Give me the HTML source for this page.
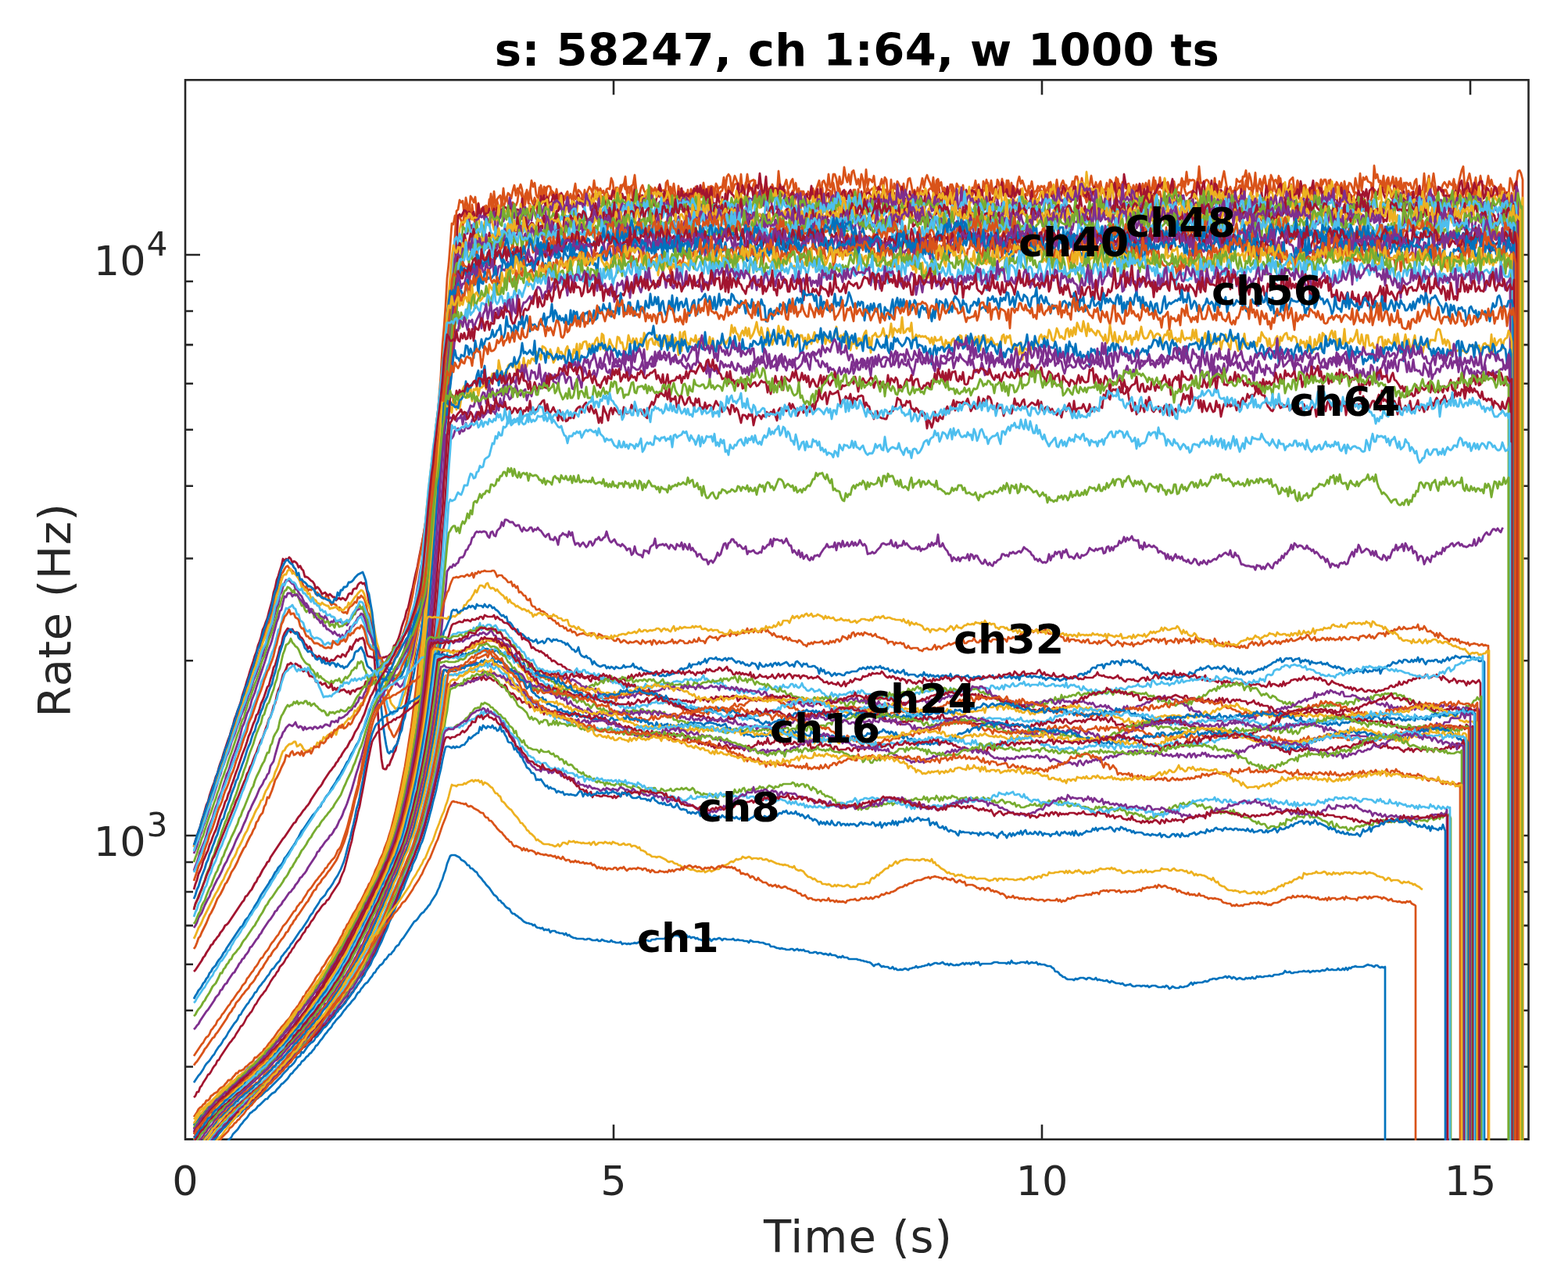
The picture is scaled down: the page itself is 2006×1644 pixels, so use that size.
<!DOCTYPE html><html><head><meta charset="utf-8"><title>plot</title><style>html,body{margin:0;padding:0;background:#fff;overflow:hidden}svg{display:block}</style></head><body><svg width="2006" height="1644" viewBox="0 0 2006 1644"><rect width="2006" height="1644" fill="#fff"/><defs><clipPath id="c"><rect x="235.7" y="101.0" width="1721.1" height="1358.0"/></clipPath></defs><path d="M785.0 1457.7v-19M785.0 102.3v19M1333.0 1457.7v-19M1333.0 102.3v19M1881.0 1457.7v-19M1881.0 102.3v19M237.0 1457.5h10M1955.5 1457.5h-10M237.0 1364.7h10M1955.5 1364.7h-10M237.0 1292.7h10M1955.5 1292.7h-10M237.0 1233.8h10M1955.5 1233.8h-10M237.0 1184.1h10M1955.5 1184.1h-10M237.0 1141.0h10M1955.5 1141.0h-10M237.0 1103.0h10M1955.5 1103.0h-10M237.0 1069.0h19M1955.5 1069.0h-19M237.0 845.3h10M1955.5 845.3h-10M237.0 714.5h10M1955.5 714.5h-10M237.0 621.7h10M1955.5 621.7h-10M237.0 549.7h10M1955.5 549.7h-10M237.0 490.8h10M1955.5 490.8h-10M237.0 441.1h10M1955.5 441.1h-10M237.0 398.0h10M1955.5 398.0h-10M237.0 360.0h10M1955.5 360.0h-10M237.0 326.0h19M1955.5 326.0h-19" stroke="#262626" stroke-width="2.6" fill="none"/><rect x="237.0" y="102.3" width="1718.5" height="1355.4" fill="none" stroke="#262626" stroke-width="2.6"/><g clip-path="url(#c)" fill="none" stroke-width="2.7" stroke-linejoin="round"><path d="M248 1083l2-6 2-4 2-6 2-7 2-5 2-5 2-6 2-6 2-6 2-7 2-5 2-7 2-6 2-6 2-7 2-5 2-5 2-7 2-7 2-5 2-6 2-6 2-7 2-7 2-4 2-6 2-6 2-5 2-7 2-7 2-6 2-6 2-4 2-7 2-5 2-6 2-6 2-6 2-6 2-8 2-3 2-7 2-6 2-9 2-7 2-6 2-6 2-4 2-6 2-7 2-7 2-11 2-8 2-9 2-7 2-7 2-2 2-4 2-3 2-1 2 3 2 3 2 0 2 3 2 1 2 3 2 3 2 2 2 2 2 5 2 3 2-2 2 6 2-2 2 1 2-2 2 0 2 7 2-2 2 4 2 0 2 1 2 3 2-1 2-5 2 4 2 6 2 4 2-2 2 1 2 1 2 5 2-2 2 2 2 4 2 1 2-1 2 2 2-6 2-3 2-1 2-2 2-3 2 1 2-7 2 1 2-3 2 2 2 2 2 6 2 11 2 3 2 11 2 5 2 11 2 14 2 6 2 15 2 16 2 14 2 13 2 11 2 9 2 14 2 7 2 3 2 5 2 3 2-3 2-4 2-4 2-5 2-5 2-7 2-11 2-9 2-9 2-11 2-11 2-15 2-12 2-12 2-24 2-19 2-21 2-21 2-19 2-22 2-21 2-19 2-20 2-20 2-18 2-18 2-18 2-14 2-17 2-18 2-25 2-15 2-19 2-26 2-18 2-30 2-25 2-26 2-29 2-33 2-2 2-12 2 3 2-2 2 18 2-22 2 10 2 10 2-22 2 3 2 5 2-7 2 20 2-12 2 12 2-3 2-3 2 7 2-10 2 10 2-18 2 3 2 13 2-26 2 18 2-8 2-3 2-2 2 13 2-22 2 17 2-4 2-7 2 2 2 5 2-10 2-7 2 13 2-9 2 3 2 3 2 5 2 7 2-11 2-3 2 5 2-4 2-15 2 8 2-5 2 15 2 4 2-6 2-10 2 15 2-13 2 10 2-10 2-1 2 1 2 11 2-4 2 9 2-13 2 14 2-8 2 14 2-2 2-9 2 2 2 0 2 1 2-6 2 10 2-12 2-11 2 17 2-3 2 7 2-2 2-4 2 0 2 0 2-6 2-5 2 3 2 5 2-16 2 13 2-4 2 7 2-6 2 6 2-3 2 11 2-13 2-1 2 1 2-14 2 5 2 18 2-8 2-3 2 7 2-10 2 0 2 0 2-11 2 21 2-8 2 1 2-2 2-2 2-12 2 19 2 15 2-8 2-9 2-4 2 7 2 3 2-3 2 8 2-13 2 15 2-6 2-6 2 2 2 5 2 3 2-5 2 4 2 13 2-30 2-3 2 16 2-8 2 9 2-13 2 14 2 10 2-1 2-16 2 7 2 10 2 8 2-20 2 1 2 15 2-12 2-5 2 14 2-21 2 6 2 10 2-13 2 9 2-17 2 14 2-3 2 8 2-14 2-1 2 2 2 8 2-13 2 4 2 15 2-9 2-1 2-11 2 9 2-16 2-3 2 3 2 17 2-10 2-8 2 5 2 6 2 7 2-20 2 24 2-2 2-11 2 4 2 7 2-5 2 4 2-8 2-5 2 31 2-16 2 0 2 2 2 6 2-4 2-15 2 7 2 0 2 5 2-11 2 7 2-2 2 8 2-30 2 19 2 1 2 3 2-6 2-6 2 12 2-2 2-8 2-3 2 15 2-10 2 13 2 7 2-9 2 0 2 0 2 10 2 0 2-10 2 5 2-5 2-4 2 9 2-7 2-6 2-6 2 18 2-16 2-2 2 5 2 7 2-20 2 17 2-3 2-14 2 0 2 6 2 15 2-18 2 10 2-2 2-20 2 12 2 7 2-10 2 13 2-16 2-2 2 9 2 9 2-7 2 11 2-17 2 7 2 15 2-28 2 21 2-9 2 1 2 3 2-8 2 17 2-2 2 5 2-8 2-8 2 12 2-14 2 3 2 23 2-8 2-5 2 8 2-13 2 7 2-10 2 4 2 3 2 12 2-16 2 14 2-8 2-12 2-1 2 9 2 12 2-6 2 10 2-13 2 8 2-10 2-10 2 12 2-11 2-5 2 6 2 4 2 6 2 6 2 0 2 13 2-28 2 14 2 22 2-21 2-6 2 3 2-1 2 3 2 16 2-25 2 5 2 15 2-9 2 0 2-6 2 11 2-15 2 16 2-6 2-1 2-3 2 12 2-5 2-6 2 2 2-9 2 16 2-1 2-2 2-7 2 1 2-14 2 8 2 2 2 1 2 7 2-7 2-2 2 15 2-11 2-2 2-10 2 4 2 9 2 3 2-16 2 12 2 2 2-7 2 3 2 9 2-17 2-7 2 9 2-4 2 6 2 6 2 3 2-4 2 9 2-7 2 5 2-4 2-1 2-6 2 4 2-4 2 1 2 3 2 8 2-10 2 7 2-14 2 8 2 12 2-7 2-16 2 14 2-2 2-7 2-4 2 6 2 0 2 14 2-1 2 1 2 4 2-23 2 14 2 5 2-7 2 1 2-2 2 8 2-2 2 10 2-6 2-2 2-2 2-6 2 6 2 4 2-4 2-13 2-4 2 15 2-4 2 0 2-9 2 12 2 1 2-7 2 7 2-10 2 6 2-14 2 13 2 21 2-14 2 7 2-9 2-2 2-1 2-5 2 9 2-11 2 6 2 24 2-20 2-7 2 11 2-4 2-6 2-7 2 7 2-3 2 3 2 1 2-1 2-10 2 11 2-1 2-14 2 14 2-2 2 5 2-10 2 7 2 2 2-6 2 14 2-6 2 5 2-10 2-4 2 1 2-9 2 9 2 7 2 6 2-3 2-1 2-1 2 5 2-15 2 5 2-2 2-25 2 21 2 0 2 3 2-6 2-1 2 2 2 10 2-2 2 8 2-20 2 18 2 6 2-20 2 8 2-12 2-9 2 12 2 11 2 2 2-5 2 8 2-3 2 11 2-26 2 3 2 1 2-2 2 1 2 21 2-22 2 8 2-17 2 6 2 12 2 1 2-20 2 29 2-12 2-9 2 10 2-8 2-6 2 13 2 5 2 2 2-21 2 5 2 6 2 10 2 2 2-13 2-6 2 15 2-8 2 7 2 5 2-4 2-12 2-2 2-2 2 18 2 4 2-17 2 5 2-2 2 7 2-5 2 0 2 17 2-3 2-7 2 9 2-15 2 8 2-12 2 1 2 13 2-18 2 6 2-6 2 0 2 10 2 1 2-11 2 29 2-4 2-19 2 11 2-1 2-6 2-6 2 10 2-2 2 11 2-9 2-10 2 1 2 5 2 6 2-18 2 10 2 7 2-23 2 22 2-17 2 3 2-4 2 6 2 1 2 1 2 18 2-40 2 16 2-5 2 10 2-2 2 5 2 4 2-3 2 13 2-17 2 8 2 4 2 11 2-22 2 0 2 12 2-5 2-13 2 19 2-8 2-5 2 0 2 3 2-3 2 7 2 1 2-10 2-3 2 25 2-16 2 18 2-12 2-22 2 23 2-9 2-11 2 17 2-8 2 6 2 10 2-2 2-6 2 0 2 0 2-6 2-3 2 3 2 4 2-8 2 4 2 1 2-8 2 14 2 1 2-9 2-9 2-8 2-5 2 29 2-7 2-6 2-7 2 11 2 9 2-5 2-10 2 31 2-19 2-14 2 12 2 0 2 3 2-3 2-12 2 13 2-8 2 8 2 0 2 7 2-2 2-4 2 24 2-22 2 0 2 6 2-1 2 3 2-21 2 5 2 11 2-9 2-1 2-15 2-1 2 4 2 8V1462" stroke="#D95319" stroke-width="2.8"/><path d="M248 1429l2-3 2-3 2-4 2-2 2-1 2-3 2-1 2-4 2 0 2-2 2-4 2-1 2-2 2-1 2-1 2-3 2-2 2-1 2-1 2-3 2-2 2-3 2 0 2-1 2-3 2-2 2-3 2 0 2-3 2 0 2-1 2-1 2-3 2-1 2-2 2-2 2-1 2-2 2-4 2 0 2-2 2-2 2-2 2-1 2-4 2-1 2-3 2-3 2-2 2-3 2-2 2-3 2-3 2-3 2-2 2-3 2-2 2-2 2-3 2-2 2-2 2-3 2-4 2-3 2-2 2-3 2-2 2-4 2-3 2-4 2-1 2-5 2-2 2-3 2-3 2-3 2-3 2-4 2-3 2-2 2-3 2-5 2-2 2-3 2-4 2-3 2-3 2-2 2-4 2-4 2-3 2-3 2-4 2-4 2-3 2-6 2-2 2-5 2-2 2-4 2-4 2-4 2-3 2-3 2-5 2-3 2-3 2-4 2-4 2-5 2-3 2-5 2-2 2-5 2-4 2-6 2-4 2-4 2-6 2-4 2-4 2-7 2-5 2-5 2-7 2-6 2-8 2-8 2-8 2-9 2-9 2-9 2-10 2-10 2-10 2-12 2-13 2-13 2-12 2-15 2-18 2-16 2-19 2-21 2-20 2-22 2-27 2-25 2-25 2-28 2-25 2-26 2-31 2-23 2-35 2-24 2-26 2-25 2-38 2-23 2-27 2-36 2-18 2-25 2-27 2 1 2-11 2 0 2 0 2 2 2 4 2 9 2-19 2 8 2-19 2 5 2 14 2-18 2 17 2 7 2-18 2 0 2 4 2-5 2 3 2-6 2 11 2-5 2-4 2-18 2 11 2 5 2 4 2-11 2 9 2 1 2-11 2 10 2-7 2-7 2 7 2 10 2-7 2-3 2 5 2-1 2-5 2-16 2-6 2 7 2 24 2-7 2-17 2 17 2-16 2 12 2 5 2-8 2 7 2 0 2-20 2 12 2 3 2-8 2-7 2 21 2-9 2-6 2-2 2 6 2 10 2-12 2 8 2 0 2-4 2 3 2 1 2-7 2-4 2 16 2 6 2-7 2-11 2 6 2-5 2-7 2 2 2 3 2 8 2-13 2 16 2-9 2 8 2-2 2-7 2-1 2 1 2 0 2 2 2 9 2-9 2 7 2-5 2-9 2 6 2 1 2 1 2-9 2 10 2-13 2 3 2 6 2-4 2-7 2-3 2 7 2-1 2 22 2-23 2-2 2 27 2-29 2 8 2 8 2-4 2 2 2 9 2 5 2-16 2 0 2-5 2-2 2 0 2 5 2-6 2 6 2-5 2-4 2 6 2 1 2-1 2 1 2 8 2-13 2 17 2-10 2 4 2 10 2-1 2-21 2 17 2 7 2-17 2 4 2 13 2-19 2 22 2-23 2 5 2 1 2 1 2 8 2-2 2-3 2 0 2-14 2 6 2 12 2-17 2 19 2-12 2-7 2 13 2 0 2-11 2 0 2-2 2 1 2-13 2 12 2 14 2-14 2 6 2 3 2-6 2-6 2-1 2-1 2 5 2-6 2 8 2 7 2-10 2-15 2 13 2-4 2-1 2-1 2 4 2 28 2 1 2-9 2-18 2 10 2 7 2-9 2 7 2 4 2 3 2-9 2-1 2-5 2-1 2 3 2-2 2 7 2-4 2-3 2 13 2-13 2 8 2 0 2-7 2 5 2 3 2-6 2-5 2 30 2-24 2 2 2 0 2 2 2 6 2-2 2-11 2 7 2 2 2-7 2 10 2-7 2 6 2-15 2 22 2-14 2-6 2 1 2 1 2 9 2-19 2 9 2 15 2 1 2-18 2 9 2 1 2-4 2-2 2 10 2-8 2 4 2 5 2-13 2 0 2 24 2-25 2 16 2 0 2-9 2-4 2 1 2-6 2 5 2-2 2-2 2 1 2 9 2-6 2-1 2 17 2-13 2 5 2-10 2 0 2 12 2 4 2-29 2 28 2 1 2-5 2 5 2-12 2 11 2-10 2 7 2 0 2 5 2-10 2 13 2 1 2 6 2-13 2 7 2-10 2 7 2-11 2-6 2 1 2 13 2-3 2-12 2-2 2 1 2-15 2 25 2-21 2-2 2 9 2-5 2 11 2 4 2-6 2 6 2-5 2-7 2 4 2 24 2-16 2-13 2 4 2 1 2 11 2-5 2 9 2 3 2-10 2 0 2 5 2-13 2 1 2-10 2 17 2-12 2 8 2 16 2-28 2 7 2-4 2-1 2 14 2-17 2 14 2-1 2 7 2-21 2 4 2 16 2-21 2 15 2 7 2-20 2 4 2 14 2-15 2 16 2 3 2-8 2 0 2 1 2-4 2 11 2 0 2-5 2 2 2-12 2 3 2-9 2 12 2 10 2-4 2-6 2 0 2 0 2 10 2-16 2 17 2-6 2-15 2 15 2 1 2-9 2 17 2-20 2 3 2 5 2 2 2-6 2 8 2-12 2 8 2-6 2 0 2-8 2 5 2-11 2 0 2 9 2 7 2-14 2 11 2 14 2-12 2 1 2-5 2-12 2 12 2 4 2-8 2 10 2-7 2 12 2-6 2 1 2 0 2-5 2 13 2-21 2 2 2 5 2 1 2-11 2 17 2-9 2 7 2-9 2 2 2 6 2-5 2-1 2 8 2 4 2-7 2 5 2-9 2 9 2-9 2 9 2-10 2 9 2 6 2-7 2-12 2 23 2-15 2-12 2 30 2-18 2 10 2-4 2 12 2-3 2-25 2 16 2-12 2 7 2-1 2 0 2-7 2 13 2 1 2 0 2 7 2-15 2-6 2 7 2-19 2 16 2-6 2 1 2-1 2 1 2 12 2-14 2 6 2 8 2-1 2 12 2-8 2 15 2-7 2-13 2 7 2 14 2-21 2 3 2-6 2 13 2 7 2 1 2-10 2-10 2 11 2-4 2 7 2-5 2 6 2-14 2 3 2-2 2-4 2 6 2-17 2 0 2-8 2 19 2 5 2-2 2 9 2-11 2-7 2 10 2-1 2 1 2 6 2-14 2 0 2 4 2 9 2-16 2 15 2 0 2-13 2-2 2 5 2-10 2 24 2-8 2 8 2-12 2 7 2-2 2 14 2-20 2 17 2-9 2 0 2-13 2 11 2-2 2 7 2-8 2-1 2 11 2-5 2-4 2 5 2 3 2-5 2 1 2 12 2-11 2-15 2 22 2 4 2-2 2-1 2-22 2 7 2 7 2 0 2-2 2-10 2 4 2 2 2 10 2 9 2-26 2 13 2-7 2 15 2-4 2 3 2-1 2-5 2 1 2 4 2 10 2 8 2-6 2-8 2 13 2-9 2-2 2-1 2-9 2-5 2 3 2 1 2 1 2-13 2 5 2-14 2 21 2-15 2-4 2 12 2-5 2-8 2 21 2-19 2 10 2-6 2 10 2 1 2-9 2 1 2 15 2-6 2 6 2-4 2 6 2-3 2-8 2 14 2-11 2 0 2 1 2 7 2-15 2 6 2-1 2-1 2-6 2-13 2 15 2 12 2-7 2-2 2 2 2 8 2-7 2 0 2 6 2 5 2-5 2-1 2-13 2 1 2 12 2-5 2 0 2 6 2 3 2 15 2-27 2 8 2 16 2-23 2 10 2-11 2 17 2-14 2 10 2 2 2-10 2-7 2 4 2 7 2 2 2 2 2-12 2 16 2-6 2-2 2-4 2-2 2-7 2 12 2 5 2 12 2-5 2-14 2 13 2-12 2 23 2 5 2-16 2-6 2 14 2-6V1462" stroke="#D95319" stroke-width="2.8"/><path d="M248 1083l2-8 2-5 2-7 2-5 2-8 2-6 2-7 2-7 2-4 2-8 2-6 2-6 2-5 2-7 2-4 2-8 2-6 2-5 2-7 2-6 2-6 2-6 2-5 2-7 2-6 2-8 2-5 2-6 2-5 2-6 2-8 2-6 2-6 2-7 2-6 2-7 2-6 2-6 2-7 2-5 2-8 2-5 2-6 2-9 2-4 2-6 2-5 2-8 2-7 2-7 2-11 2-6 2-10 2-5 2-7 2-6 2-9 2 3 2-3 2 1 2-3 2 2 2 5 2-2 2 1 2 2 2 5 2-2 2 4 2 2 2 8 2 0 2 1 2 2 2 2 2 1 2 3 2 6 2-2 2 2 2 3 2 4 2-1 2-1 2 3 2 1 2-2 2 2 2 2 2 0 2 4 2-2 2-1 2 2 2-2 2 1 2 2 2-3 2-5 2-1 2 1 2-6 2-1 2 0 2-5 2-2 2-1 2 2 2-1 2 4 2 9 2 11 2 10 2 23 2 27 2 27 2 34 2 30 2 28 2 22 2 12 2 1 2 0 2-5 2 0 2-6 2-4 2-6 2-3 2-9 2-6 2-11 2-7 2-9 2-11 2-10 2-11 2-12 2-12 2-12 2-10 2-14 2-12 2-12 2-16 2-18 2-20 2-19 2-24 2-21 2-24 2-19 2-18 2-18 2-15 2-19 2-16 2-15 2-16 2-21 2-21 2-20 2-17 2-31 2-24 2-25 2-19 2-32 2-38 2-2 2 3 2-4 2-4 2 1 2 4 2-3 2 5 2-2 2-3 2 9 2 0 2-19 2 16 2-7 2-5 2 13 2-5 2 2 2-8 2 17 2-9 2-8 2 19 2-20 2 18 2-14 2-2 2-1 2-2 2 1 2 10 2-3 2-12 2 13 2-13 2 15 2-8 2 1 2 10 2-25 2 31 2 6 2-15 2-5 2-10 2 13 2-10 2-1 2-5 2 16 2-5 2-18 2 9 2-10 2 16 2-14 2 6 2 4 2-5 2-8 2 6 2-6 2 21 2-3 2-20 2 4 2 26 2-12 2-7 2 9 2-4 2 3 2-9 2 15 2-11 2-11 2 9 2-3 2 6 2-1 2-2 2-7 2 8 2-6 2 16 2-21 2 5 2-2 2-5 2 10 2-1 2-2 2 10 2-16 2 8 2-3 2 2 2-11 2 1 2 15 2-15 2 17 2 2 2-16 2 6 2-2 2 9 2 4 2-10 2 1 2 3 2-16 2 8 2 9 2-9 2 17 2-18 2 7 2 3 2 5 2-12 2 4 2 6 2-3 2 4 2-11 2-3 2-14 2 11 2 6 2-8 2 8 2 9 2-10 2 11 2-2 2-5 2 5 2 1 2-17 2 22 2-26 2 15 2-7 2-1 2 5 2-5 2 0 2 0 2-7 2 7 2-10 2 12 2-13 2 11 2-5 2 16 2-17 2 17 2-11 2-8 2 23 2-3 2 5 2-16 2 9 2 4 2-10 2 20 2-24 2 10 2-14 2 1 2 3 2 2 2 3 2 2 2-20 2 17 2-5 2-10 2 7 2 10 2-2 2-16 2 5 2 0 2 13 2-13 2-4 2 4 2-19 2 19 2 6 2-4 2-17 2 31 2-13 2-5 2 1 2 7 2-6 2 1 2 6 2-12 2 15 2-12 2 11 2 6 2-3 2 3 2-8 2-2 2 15 2-8 2-4 2 3 2-1 2 11 2-1 2 6 2-19 2 8 2-2 2-16 2 15 2 4 2-11 2-4 2 27 2-27 2 21 2-8 2 1 2-7 2-2 2 18 2 4 2-19 2 15 2-8 2 5 2-7 2-4 2-6 2-2 2 12 2-2 2-7 2-3 2 5 2 9 2 4 2 0 2-7 2 5 2-14 2 21 2-11 2-7 2-1 2-1 2 5 2 8 2-12 2 12 2-6 2-14 2 3 2 1 2 4 2 16 2 5 2-15 2 0 2-7 2 15 2-14 2 3 2 5 2 7 2-4 2-19 2 20 2-5 2 5 2 8 2-22 2 13 2 5 2-18 2 21 2-6 2-3 2-8 2 9 2 2 2-12 2 1 2-2 2 8 2 1 2 4 2-4 2-6 2 4 2-7 2 14 2-15 2 1 2 6 2-14 2 16 2 6 2-5 2 0 2-2 2-4 2-2 2-8 2 10 2 3 2 8 2-18 2 6 2 1 2-6 2 0 2 1 2 2 2 15 2-23 2 5 2-1 2 14 2 2 2-11 2 13 2-14 2 17 2-11 2 5 2-19 2 16 2-7 2-6 2-9 2 17 2-1 2-7 2 9 2 0 2 2 2-15 2 13 2-4 2-5 2 7 2-5 2 13 2-8 2 4 2 5 2 8 2-8 2-14 2 20 2-8 2 6 2-7 2-3 2-8 2 11 2 4 2-10 2-1 2-2 2 4 2 1 2 5 2-9 2 3 2-9 2 15 2-8 2-10 2 3 2 5 2 10 2-9 2 11 2-9 2-10 2 0 2 18 2-18 2-1 2 0 2-3 2 15 2 2 2-14 2 21 2-4 2-9 2-7 2 8 2 1 2 9 2-8 2 10 2 11 2-24 2 0 2 13 2 3 2-28 2 9 2-9 2 15 2-2 2-7 2 8 2 7 2-32 2 12 2 6 2 6 2 4 2-1 2 13 2-13 2-6 2 0 2-9 2 14 2 6 2-13 2 14 2-17 2 14 2-7 2 13 2-11 2-1 2-5 2-6 2 3 2-3 2-3 2 21 2-1 2-3 2 1 2-13 2-9 2 26 2 1 2 1 2 3 2 0 2-10 2 10 2-1 2 7 2-8 2-4 2-1 2-9 2 2 2 8 2-21 2 6 2 12 2-11 2-8 2 15 2 1 2-3 2-1 2-13 2 30 2-26 2 1 2 10 2 1 2-4 2 3 2 4 2-1 2-8 2 9 2 2 2 1 2-2 2-7 2 12 2 2 2-1 2-15 2 16 2 10 2-7 2-6 2 6 2-2 2-1 2 6 2-1 2-8 2 19 2-6 2-21 2 11 2 0 2-20 2 9 2 16 2-10 2 3 2-3 2-2 2-5 2-7 2-4 2 6 2 12 2 0 2 2 2-11 2-5 2 17 2-3 2-4 2-1 2-6 2 12 2-22 2 11 2 7 2-4 2 12 2-9 2-8 2 0 2-10 2 26 2-8 2 4 2-13 2 1 2 12 2-8 2 3 2 12 2-9 2 0 2 0 2-6 2 10 2-3 2 17 2-12 2-17 2 11 2-4 2 18 2-11 2-8 2 6 2 11 2-2 2-5 2-1 2-11 2 6 2 1 2-6 2 7 2-10 2 15 2-13 2-2 2-2 2 5 2 5 2-1 2-7 2 7 2-9 2 8 2 5 2-3 2-4 2-2 2 9 2-2 2-13 2 6 2 6 2 3 2-1 2 11 2-18 2 20 2-13 2 5 2-4 2 4 2-12 2 21 2-14 2 2 2-16 2 16 2-4 2 10 2-4 2-6 2-8 2 20 2-13 2 9 2-1 2 3 2-21 2 1 2 5 2-2 2 10 2-3 2 3 2-3 2 2 2 0 2-3 2-5 2 12 2-12 2-10 2-3 2 18 2-7 2-1 2-7 2 11 2 5 2-5 2-11 2 7 2 2 2-9 2-2 2 0 2 22 2-3 2-11 2 2 2 8 2 1 2-1 2-11 2 1 2 8 2 8 2 0 2-5 2-4 2 18 2-18 2 8 2 0 2 2 2 7 2-25 2-7 2 24 2 4V1462" stroke="#A2142F" stroke-width="2.8"/><path d="M248 1084l2-6 2-6 2-6 2-6 2-5 2-5 2-7 2-6 2-6 2-5 2-6 2-6 2-5 2-6 2-7 2-3 2-7 2-6 2-6 2-5 2-7 2-6 2-5 2-5 2-7 2-6 2-5 2-8 2-4 2-7 2-7 2-6 2-6 2-5 2-7 2-5 2-6 2-8 2-4 2-6 2-7 2-5 2-6 2-8 2-5 2-5 2-7 2-6 2-2 2-8 2-8 2-9 2-11 2-5 2-6 2-8 2-6 2-2 2 0 2-5 2-1 2-1 2 6 2-1 2 2 2 2 2 3 2 5 2 6 2 0 2 4 2 0 2 5 2-1 2 7 2-2 2 3 2 1 2 4 2 0 2 2 2-3 2 2 2 1 2 1 2 0 2 4 2-1 2 0 2-1 2 0 2 0 2 4 2-2 2 2 2-1 2-3 2 0 2-6 2 3 2-4 2-3 2-3 2-2 2-3 2-2 2-2 2 1 2 4 2 7 2 5 2 4 2 6 2 10 2 7 2 12 2 11 2 6 2 13 2 10 2 7 2 10 2 11 2 5 2 7 2 8 2 3 2 2 2 3 2-1 2-2 2-1 2-4 2-8 2-3 2-8 2-7 2-8 2-9 2-10 2-12 2-10 2-13 2-10 2-12 2-13 2-13 2-13 2-16 2-18 2-23 2-23 2-21 2-17 2-20 2-18 2-14 2-21 2-15 2-16 2-19 2-20 2-15 2-24 2-20 2-25 2-16 2-37 2-30 2-29 2-8 2-1 2 1 2-6 2 7 2-13 2 1 2 7 2-2 2-1 2 2 2-1 2 8 2 3 2 3 2-8 2-6 2-4 2 0 2-4 2 15 2 8 2-14 2 2 2-19 2 15 2-5 2 4 2-7 2 0 2-2 2 1 2 19 2-10 2-16 2 9 2 0 2 18 2-28 2 19 2 2 2 9 2-3 2-14 2-12 2 3 2 1 2 1 2-5 2-7 2 13 2-5 2-5 2 0 2-1 2-2 2 26 2-20 2-1 2 16 2-14 2 5 2-10 2 4 2-11 2 17 2 11 2-13 2 1 2 6 2 0 2-15 2 1 2 2 2 11 2-18 2 3 2 1 2 1 2 0 2-6 2 11 2-15 2 20 2-14 2 4 2-14 2 12 2-10 2 0 2 18 2-4 2-7 2-5 2 22 2-4 2 6 2 2 2 1 2-26 2-8 2 28 2-20 2 21 2-6 2-3 2-1 2-11 2 11 2-1 2 5 2 12 2-19 2 9 2 8 2-20 2-2 2 0 2-4 2-5 2 16 2 5 2-7 2-10 2-1 2 6 2-7 2 4 2-2 2 11 2-2 2-3 2-8 2 5 2 11 2 8 2-16 2 24 2-22 2 0 2 6 2-8 2 4 2 1 2-5 2 1 2 5 2 5 2 8 2-14 2-11 2 8 2-7 2 14 2-4 2 9 2-4 2 3 2-3 2 15 2-26 2 21 2 0 2-5 2-3 2 1 2-6 2-5 2 14 2-1 2 1 2-8 2 9 2-4 2 9 2-15 2-16 2 7 2 10 2-13 2 15 2-11 2 7 2 1 2-8 2 10 2 5 2-12 2 2 2-2 2 9 2 2 2-12 2 1 2 9 2-6 2 12 2-13 2-5 2-4 2 4 2-9 2 15 2 11 2-25 2 1 2 2 2 7 2-5 2 13 2 2 2-12 2 4 2-3 2 11 2 9 2-20 2 4 2-5 2 12 2 0 2-10 2 3 2 18 2-1 2-23 2 7 2-3 2 7 2-12 2 14 2 4 2 3 2-19 2 26 2-20 2-4 2 20 2-3 2-7 2 6 2-3 2-4 2-12 2 5 2 2 2 9 2 3 2-13 2-3 2-1 2 13 2-12 2 21 2-15 2-1 2 3 2-6 2-8 2 7 2 2 2-7 2 2 2 1 2-14 2 9 2 4 2-7 2 12 2 0 2-20 2 12 2 8 2-6 2 7 2 1 2-16 2 14 2-8 2-10 2 21 2-9 2 5 2 6 2 3 2-10 2-5 2 2 2 12 2-12 2 15 2-2 2-18 2 18 2-19 2 3 2 0 2-8 2 9 2 4 2 13 2-7 2-13 2 7 2 8 2-9 2-5 2 6 2-7 2 9 2-5 2 13 2-11 2-7 2 14 2-8 2-5 2 8 2-8 2-8 2 4 2 17 2 2 2-14 2 6 2-15 2 20 2-7 2 6 2-6 2 3 2-12 2 16 2-7 2 6 2 10 2-31 2 26 2-4 2-1 2 4 2-9 2-11 2 10 2 2 2-15 2 22 2 0 2-13 2 9 2 0 2-1 2-1 2 8 2-7 2 13 2-14 2 7 2 1 2-22 2 13 2 2 2 2 2 0 2 6 2-2 2-8 2 12 2-11 2 4 2-7 2-7 2 0 2 19 2-7 2-11 2 9 2-13 2 1 2-7 2 11 2 8 2 15 2-20 2 5 2 1 2 4 2-12 2-4 2 14 2-17 2 12 2-9 2 3 2 2 2-17 2 28 2-27 2 2 2 12 2-27 2 16 2 9 2-4 2 2 2-1 2 0 2 0 2 19 2-10 2-11 2 6 2 10 2 5 2-20 2 11 2-17 2 13 2 18 2-8 2-8 2-7 2 8 2 0 2 1 2 3 2-4 2-14 2 9 2 3 2-5 2 20 2-17 2 13 2 0 2-1 2-2 2-6 2 7 2 5 2-15 2 17 2-16 2 11 2-9 2 14 2-1 2 0 2 4 2-18 2-22 2 13 2 4 2 17 2 1 2-14 2 14 2-8 2 0 2 7 2-12 2 17 2-2 2 9 2-7 2-4 2 5 2-10 2 1 2-11 2 3 2 4 2 6 2 4 2-1 2-17 2 2 2-7 2-6 2 20 2-18 2 17 2-10 2 4 2 10 2-14 2 12 2-11 2 7 2-1 2 3 2-11 2 8 2 5 2-9 2 10 2 0 2-5 2-3 2 5 2-8 2 9 2-2 2 9 2-11 2-6 2 10 2-5 2 15 2-19 2 3 2 3 2 0 2 2 2 18 2-21 2 11 2-16 2-2 2 3 2 12 2-11 2 1 2-8 2 4 2 19 2-26 2-6 2 16 2-6 2-1 2-5 2 19 2-3 2-2 2 9 2 1 2-8 2 5 2-18 2 13 2-11 2 7 2 12 2-11 2 16 2-5 2-3 2-15 2 10 2 3 2 3 2-8 2-12 2 18 2-20 2 5 2-10 2 15 2 6 2 1 2-15 2 12 2-1 2 4 2 4 2-2 2 12 2-20 2 14 2 0 2-10 2 12 2-2 2-6 2 11 2-5 2 8 2-12 2 13 2-9 2-2 2 4 2 7 2-17 2 1 2-2 2 2 2-17 2 25 2 1 2-2 2-11 2-13 2 5 2 9 2-4 2-7 2 8 2-7 2 3 2 14 2-7 2-3 2 4 2 2 2 9 2 3 2-1 2-10 2-1 2 16 2-14 2-6 2 10 2-16 2 19 2 2 2-8 2-29 2 26 2 4 2-2 2 18 2-24 2 2 2 13 2-7 2 9 2-8 2-4 2-3 2 7 2-2 2 9 2-3 2-18 2 21 2-11 2-7 2 25 2-17 2 1 2 3 2-14 2 10 2 1 2-7 2 7 2 3 2-4 2-18 2 13 2 5 2 10 2-7 2-2 2-12 2 14 2 13 2-18 2-4 2 4 2 3 2-8 2 4 2-9 2 6 2 2 2-3 2-3 2 21 2-12 2 5 2-17 2 10 2-2 2 18 2-9 2-8V1462" stroke="#EDB120" stroke-width="2.8"/><path d="M248 1092l2-5 2-5 2-7 2-6 2-5 2-7 2-5 2-6 2-6 2-6 2-8 2-4 2-7 2-6 2-6 2-7 2-5 2-7 2-5 2-6 2-6 2-4 2-6 2-7 2-5 2-5 2-6 2-6 2-5 2-6 2-5 2-5 2-6 2-6 2-6 2-4 2-7 2-7 2-5 2-5 2-6 2-7 2-7 2-2 2-9 2-5 2-6 2-7 2-5 2-8 2-7 2-8 2-7 2-4 2-12 2-3 2-7 2-5 2-4 2 1 2-1 2 3 2 2 2 0 2 7 2 0 2 4 2 3 2 2 2 5 2 4 2 0 2 4 2 4 2-1 2 1 2 5 2 0 2 1 2-1 2 4 2 0 2 3 2-4 2 3 2 5 2 1 2-2 2 1 2-4 2 6 2-2 2-2 2 2 2 0 2 3 2-1 2 2 2-3 2-5 2-2 2-6 2 2 2-5 2-1 2-1 2-1 2 0 2 6 2 7 2 2 2 9 2 6 2 5 2 6 2 7 2 4 2 4 2 7 2 4 2 5 2 7 2 2 2 1 2 7 2 0 2 4 2-1 2 6 2-2 2 3 2 2 2-2 2-3 2-5 2-4 2-5 2-11 2-7 2-7 2-12 2-9 2-12 2-13 2-11 2-10 2-16 2-18 2-20 2-23 2-22 2-20 2-19 2-18 2-16 2-16 2-18 2-18 2-10 2-21 2-25 2-16 2-24 2-14 2-29 2-21 2-15 2-38 2-26 2-3 2 4 2 0 2 2 2-15 2 6 2-18 2 11 2-4 2 13 2-13 2-7 2-1 2-5 2 3 2-2 2 5 2-4 2 4 2 8 2-16 2 2 2-4 2 24 2-3 2-10 2-4 2-9 2 14 2-7 2 2 2-3 2-22 2 9 2 9 2 8 2-11 2 9 2-4 2-6 2 13 2-13 2-2 2 22 2-2 2-9 2 6 2-14 2 3 2 5 2 0 2 1 2-14 2 17 2-16 2 7 2 19 2-13 2-13 2 5 2-10 2-1 2-2 2 2 2 2 2 5 2 11 2-12 2-2 2-10 2 19 2-8 2 11 2-11 2 12 2-17 2 2 2 1 2-1 2 5 2-1 2-16 2 7 2 3 2 11 2-6 2 9 2 0 2-2 2-16 2 30 2-10 2-7 2 7 2-6 2 4 2-7 2 22 2-19 2 5 2-10 2 11 2 3 2-10 2-8 2 7 2-4 2 8 2-5 2 0 2-3 2-1 2 2 2 10 2-10 2 5 2-8 2 1 2-7 2 7 2-4 2-12 2 9 2-4 2 9 2-1 2 13 2-8 2-5 2 2 2 0 2 0 2 7 2-9 2 6 2 5 2-12 2 3 2 12 2-9 2-6 2 6 2-6 2-4 2 13 2-13 2 3 2 4 2 8 2 0 2-9 2 5 2-2 2 10 2-4 2-6 2 11 2-15 2 8 2-11 2 21 2-8 2 6 2 15 2-18 2-2 2-6 2 5 2-6 2 7 2-1 2-2 2-4 2 1 2 1 2 0 2 5 2-10 2 3 2 5 2 8 2-11 2-4 2-2 2 12 2-16 2 0 2 2 2-4 2 3 2 5 2-4 2-12 2 16 2 3 2-10 2 16 2-12 2 0 2-12 2 27 2-2 2-6 2 4 2-17 2 1 2 8 2-3 2-8 2 10 2 4 2-8 2 12 2-9 2-6 2-3 2-1 2 15 2-16 2 16 2 0 2-12 2 14 2-3 2 13 2-9 2-5 2 5 2 5 2-16 2 0 2 11 2 8 2-26 2 20 2-8 2 1 2-2 2-7 2-2 2 21 2-25 2 11 2 12 2-11 2 8 2-3 2-5 2 12 2-3 2-3 2 10 2-7 2 5 2-6 2 14 2-5 2-5 2-5 2-2 2-1 2-6 2 16 2-18 2 12 2 0 2-9 2 1 2-9 2 9 2-3 2 11 2-10 2 0 2 10 2-18 2 8 2 13 2-11 2 7 2-29 2 16 2 2 2-9 2 16 2-18 2 7 2 6 2-1 2-2 2-4 2 8 2-6 2 17 2-12 2-5 2 16 2 5 2-9 2-6 2-7 2 8 2 12 2-1 2-17 2 16 2-13 2 18 2 8 2-14 2 10 2-12 2 2 2 7 2 1 2-11 2 12 2-11 2-23 2 25 2 0 2-27 2 19 2 6 2-5 2-8 2-2 2 7 2-3 2 7 2-2 2 10 2-14 2 8 2 1 2-2 2 6 2-16 2 10 2 17 2-10 2-3 2 7 2-9 2-8 2 9 2 5 2-10 2 14 2-10 2-2 2-4 2 20 2 2 2-25 2 8 2-4 2 14 2-9 2 8 2-8 2-6 2 18 2-11 2-3 2-6 2 7 2 6 2-12 2 19 2-5 2-12 2 3 2-7 2 6 2-12 2 0 2 25 2-16 2 4 2-12 2 9 2-4 2-14 2 13 2 3 2-1 2 9 2-3 2-15 2 5 2 3 2 1 2-1 2-11 2 11 2-4 2-15 2-1 2 5 2 4 2-3 2 2 2-2 2 7 2 9 2 1 2-15 2 21 2 5 2-14 2 19 2-12 2-8 2 19 2-12 2-3 2 17 2-5 2-14 2-3 2 4 2 1 2 4 2-26 2 21 2-1 2-4 2 4 2 4 2-17 2 2 2 9 2 0 2 2 2 4 2 13 2-17 2 6 2 6 2-7 2 0 2 6 2 2 2-9 2 10 2-1 2-1 2 4 2-18 2 16 2-11 2 3 2-3 2-6 2 9 2 11 2-14 2 7 2-16 2 0 2 5 2-4 2-1 2 11 2-1 2 3 2-5 2-1 2-2 2 12 2-8 2 9 2-1 2 8 2-18 2 13 2-18 2 19 2-4 2 6 2-22 2 26 2-12 2 0 2-10 2 5 2 15 2 2 2-10 2-10 2 8 2-17 2 9 2-4 2 13 2-20 2 9 2 6 2 3 2-14 2 6 2-11 2 22 2-9 2 0 2-2 2 16 2-12 2-6 2 14 2-3 2-5 2-6 2 7 2 3 2-5 2 0 2 7 2-13 2 11 2-8 2-6 2 15 2-1 2-11 2 0 2 14 2-7 2-15 2 7 2 9 2-6 2 11 2-9 2 7 2-3 2 3 2-1 2-1 2-8 2 17 2-12 2-4 2 19 2-16 2 14 2-26 2 17 2-3 2-7 2 13 2-17 2 8 2-5 2 9 2-14 2 9 2 0 2-15 2 38 2-20 2 2 2 3 2-8 2 0 2-12 2 12 2 3 2 5 2-3 2 1 2-1 2 2 2 0 2-1 2 6 2-17 2 10 2 9 2-5 2-5 2 6 2 2 2 3 2 14 2-4 2-14 2 4 2 13 2-19 2 8 2-9 2-6 2 4 2 1 2 8 2-15 2 15 2-11 2 0 2-6 2-7 2 15 2-5 2 6 2-2 2-13 2 10 2 4 2 0 2 0 2-2 2-7 2 5 2-4 2 3 2-1 2-1 2 14 2-22 2-5 2 17 2-8 2 7 2-2 2 4 2-4 2 0 2 18 2-5 2-16 2 4 2 11 2-9 2-10 2 10 2 3 2-9 2 4 2-6 2 14 2 6 2-13 2-5 2 10 2-3 2-1 2-8 2 2 2-2 2 1 2 4 2-2 2 18 2-13 2-1 2 6 2 8 2 3 2-15 2 2 2 1 2 6 2 1 2 12 2-2 2-18 2-13 2 5 2 3 2 4 2 3 2-14 2 14 2-1 2-24 2 6V1462" stroke="#7E2F8E" stroke-width="2.8"/><path d="M248 1103l2-6 2-5 2-7 2-5 2-7 2-4 2-7 2-6 2-6 2-6 2-5 2-6 2-6 2-5 2-7 2-5 2-7 2-6 2-5 2-6 2-5 2-7 2-6 2-5 2-6 2-6 2-6 2-6 2-5 2-7 2-6 2-3 2-8 2-6 2-7 2-4 2-6 2-6 2-6 2-5 2-6 2-5 2-9 2-6 2-4 2-7 2-7 2-7 2-5 2-6 2-6 2-7 2-7 2-10 2-3 2-8 2-6 2-5 2-1 2-4 2 1 2 2 2 4 2-3 2 7 2-2 2 5 2 5 2 5 2-1 2 6 2 3 2-2 2 1 2 1 2-2 2 9 2-3 2-2 2 5 2 1 2 1 2 2 2 3 2-2 2 0 2 6 2-2 2 0 2 4 2-7 2 2 2 4 2-1 2 0 2-2 2-1 2-2 2-2 2-1 2-2 2-4 2-2 2-8 2 0 2-3 2 5 2-3 2 7 2 6 2 6 2 8 2 9 2 8 2 5 2 12 2 5 2 8 2 6 2 6 2 1 2 7 2 1 2 0 2-1 2-2 2-5 2-1 2-4 2-3 2-3 2-4 2-9 2-5 2-5 2-7 2-7 2-9 2-7 2-8 2-10 2-7 2-12 2-8 2-10 2-11 2-10 2-12 2-11 2-11 2-11 2-15 2-10 2-13 2-13 2-11 2-14 2-11 2-14 2-11 2-25 2-14 2-20 2-21 2-22 2-14 2-31 2-16 2-30 2-23 2-28 2-32 2 2 2 4 2 0 2-11 2 12 2 4 2-8 2 1 2-10 2 16 2 4 2 6 2-21 2 11 2-19 2 6 2-3 2-13 2 6 2 4 2-1 2-3 2 3 2 7 2 2 2-24 2 12 2 4 2-18 2 20 2 6 2-20 2-8 2 12 2 13 2 9 2-17 2-4 2-7 2 11 2-11 2 6 2 7 2-7 2-9 2 10 2 6 2 0 2-21 2 16 2 1 2-5 2-6 2 3 2 0 2 22 2-13 2-4 2 4 2 7 2-10 2 6 2-1 2-9 2 15 2-9 2 6 2 3 2-13 2-2 2 3 2 21 2-15 2-2 2 15 2-16 2 19 2-20 2 7 2-2 2 1 2 3 2-3 2-15 2-1 2 6 2 5 2-10 2-3 2-11 2 17 2-4 2-9 2 4 2 12 2-15 2-1 2 10 2-19 2 11 2 1 2-4 2 3 2 1 2 3 2-3 2 7 2 0 2-6 2-2 2-15 2 23 2-5 2 0 2 6 2-11 2 0 2 10 2-29 2 32 2-4 2-11 2 4 2 14 2-12 2 11 2-3 2-2 2 0 2-1 2-2 2 5 2 4 2-22 2 25 2 5 2-29 2 21 2-9 2 5 2-6 2-7 2 13 2-4 2 3 2-11 2 6 2 8 2-18 2 13 2-15 2 19 2 10 2-27 2 9 2 5 2-11 2 15 2-5 2-3 2 10 2-6 2 19 2-10 2-6 2 0 2-11 2 2 2-2 2 9 2-2 2-12 2 10 2-4 2-4 2 8 2-6 2-3 2 2 2 6 2-11 2 5 2 7 2 5 2-5 2-3 2-10 2 18 2-14 2-3 2 14 2-13 2-3 2 9 2 3 2-2 2-16 2 15 2-5 2 0 2 8 2 1 2-16 2 18 2-8 2 1 2-4 2 7 2 6 2-9 2-6 2 28 2-9 2-3 2 6 2-16 2 2 2-4 2 7 2 23 2-11 2-16 2 15 2-3 2 4 2-15 2 5 2-7 2 8 2 7 2-8 2 2 2 7 2-9 2-5 2 14 2-19 2 23 2-17 2 4 2-7 2 20 2 0 2-8 2 1 2 6 2-9 2-12 2 3 2 2 2-15 2 16 2 0 2 6 2-3 2 11 2-13 2 6 2 6 2-7 2 3 2-14 2 14 2-3 2 10 2-9 2 3 2 10 2-21 2 11 2-10 2 6 2 2 2-5 2 12 2-12 2 3 2 2 2-3 2 3 2-9 2 13 2-7 2 0 2-2 2-5 2 1 2 2 2 5 2-4 2-7 2 7 2-10 2 10 2-3 2 2 2 0 2-6 2 4 2 2 2 3 2 1 2-4 2-2 2 14 2-16 2 26 2-5 2-5 2-4 2 2 2-2 2 13 2-4 2-8 2 2 2 0 2-3 2 5 2-5 2 9 2-5 2-9 2 8 2 8 2-9 2-5 2-6 2 4 2 7 2-3 2-14 2 15 2-13 2 10 2-1 2 1 2-1 2-5 2 0 2 7 2-3 2 9 2-9 2 7 2-6 2-4 2 13 2-19 2 3 2 10 2 2 2-6 2-3 2 1 2 9 2-20 2 0 2 9 2-4 2 5 2 2 2-2 2 4 2-1 2-2 2 2 2 0 2-3 2 14 2-6 2-10 2 18 2-7 2-9 2 3 2-9 2 4 2-1 2 10 2 11 2-10 2-3 2-1 2 7 2-1 2-10 2 1 2 4 2 9 2-6 2-16 2 21 2 8 2-9 2-7 2 7 2 2 2-4 2-4 2-10 2 18 2-15 2 11 2-14 2-3 2 26 2-29 2 15 2-6 2 14 2-10 2 3 2 14 2-16 2 3 2 5 2-11 2 10 2-8 2 13 2-8 2-13 2 6 2-4 2 15 2-16 2 12 2-13 2 4 2 0 2 12 2-21 2 5 2-6 2 33 2-25 2 5 2-7 2 10 2 0 2-6 2 8 2-7 2-6 2 17 2-6 2-7 2-14 2 23 2-18 2-3 2 3 2 3 2-7 2-5 2 13 2 3 2-7 2 7 2 8 2-4 2-5 2 9 2-10 2 8 2 0 2 1 2 3 2-9 2 7 2-15 2 12 2-19 2 15 2 8 2-22 2 13 2 7 2-7 2-4 2 10 2-6 2 2 2-4 2 9 2 1 2-5 2 8 2-4 2 7 2-22 2 6 2 6 2 12 2 0 2-9 2-2 2 12 2-11 2-8 2 6 2 9 2-2 2 10 2-13 2 13 2-18 2 9 2-3 2 8 2-21 2 20 2-6 2 5 2 12 2-27 2 21 2-11 2-5 2 8 2-10 2 1 2 15 2-5 2-4 2 7 2-22 2 12 2-7 2 11 2 0 2-13 2 17 2 8 2-21 2 10 2-2 2-10 2 8 2-3 2-6 2 12 2 4 2-23 2 1 2 11 2-10 2 23 2-14 2 14 2-13 2 4 2 3 2 11 2-5 2-16 2 9 2 1 2 3 2 17 2-12 2-11 2 1 2 3 2-8 2 5 2-4 2 10 2-12 2 23 2-20 2-12 2 11 2-3 2-6 2 14 2-9 2 5 2-1 2 1 2-7 2 0 2-11 2 24 2 2 2-9 2 4 2-8 2 8 2-7 2-5 2 2 2 3 2 0 2 19 2-34 2 20 2-1 2-15 2 13 2 19 2-23 2 1 2-1 2 12 2-3 2 8 2 4 2-17 2 7 2-4 2 10 2-17 2 13 2 6 2-3 2-13 2-1 2 4 2-5 2 1 2-4 2-10 2 20 2 6 2-14 2-5 2 14 2-6 2-6 2 0 2-11 2 21 2 1 2-7 2 1 2-10 2 8 2 3 2-7 2 4 2 2 2-12 2 5 2 19 2-8 2-13 2 21 2-13 2 2 2 6 2 10 2-2 2-22 2 17 2 7 2-9 2-14 2 8 2 0 2-3 2-5 2 9 2-3 2 7 2 4 2-10 2 4 2-5 2 14 2 2 2-10 2 2 2-21 2 10 2 9 1-2V1462" stroke="#77AC30" stroke-width="2.8"/><path d="M248 1089l2-7 2-5 2-4 2-8 2-4 2-7 2-4 2-8 2-6 2-4 2-6 2-7 2-7 2-6 2-4 2-6 2-8 2-4 2-6 2-7 2-6 2-5 2-7 2-5 2-6 2-6 2-5 2-6 2-7 2-4 2-7 2-5 2-5 2-7 2-4 2-6 2-6 2-7 2-5 2-6 2-5 2-6 2-8 2-6 2-4 2-4 2-9 2-6 2-6 2-5 2-10 2-11 2-4 2-7 2-7 2-7 2-4 2 2 2-5 2-2 2-2 2 2 2 3 2 0 2 2 2 5 2 2 2 1 2-2 2 6 2 0 2 3 2 2 2 3 2 3 2-5 2 7 2 0 2 3 2 0 2 6 2-1 2 3 2-1 2 5 2 0 2-1 2 3 2 0 2 1 2 5 2-1 2 0 2-2 2 6 2-2 2-1 2-2 2 3 2-3 2-6 2-3 2-3 2-3 2-3 2-5 2 0 2 1 2 5 2 5 2 6 2 4 2 9 2 9 2 9 2 11 2 8 2 10 2 14 2 8 2 12 2 8 2 6 2 9 2 5 2 4 2 1 2-1 2-2 2-3 2-3 2-8 2-6 2-7 2-12 2-7 2-11 2-12 2-12 2-9 2-13 2-13 2-14 2-14 2-19 2-24 2-21 2-22 2-22 2-21 2-16 2-20 2-17 2-18 2-17 2-15 2-18 2-20 2-19 2-16 2-21 2-23 2-24 2-28 2-20 2-28 2-12 2-3 2 9 2-13 2 5 2 10 2-14 2-3 2-15 2 8 2 6 2 14 2-24 2 26 2-17 2-2 2 4 2-13 2 13 2 9 2-26 2 8 2-1 2 11 2 1 2 13 2-22 2 17 2-13 2 6 2-5 2 5 2-13 2 13 2-3 2-18 2 8 2 5 2-10 2 0 2 4 2 8 2 1 2-10 2 11 2-19 2 31 2-20 2 13 2-15 2 0 2 5 2-2 2-14 2 7 2 3 2-1 2 1 2 0 2 1 2 8 2-4 2-1 2-4 2 14 2-12 2 12 2-15 2-7 2 4 2-3 2-1 2 0 2-1 2 9 2-16 2-2 2 0 2 16 2-10 2 2 2 9 2-9 2-10 2 13 2 6 2 8 2-4 2-9 2 1 2 0 2-4 2 13 2-13 2-1 2-8 2-3 2 8 2 6 2-13 2 3 2-7 2 0 2 1 2 13 2 9 2-8 2-7 2-6 2 13 2-15 2-3 2 20 2-19 2 18 2-7 2 7 2-19 2 16 2 0 2 1 2-16 2 7 2-9 2 23 2-12 2 0 2 8 2-10 2 4 2-3 2 8 2-22 2 25 2-7 2-8 2 16 2 7 2-22 2 6 2-1 2 3 2-16 2 9 2-6 2 7 2-10 2 3 2-1 2 0 2 5 2 1 2-10 2 6 2 4 2 8 2 5 2-11 2 5 2 8 2-5 2-8 2 0 2-6 2 19 2-10 2-7 2 0 2 11 2-3 2-1 2 0 2-11 2-1 2 7 2-5 2 6 2-4 2 2 2 9 2-11 2 1 2 17 2-21 2 13 2-2 2-3 2 16 2-16 2-10 2 24 2 7 2-25 2 14 2-2 2 1 2 4 2-4 2 0 2-17 2 2 2 14 2-5 2 1 2 2 2-18 2-1 2 6 2 10 2-3 2-10 2 7 2 2 2-2 2 2 2 10 2-9 2 2 2-5 2 18 2-9 2-4 2 2 2 7 2-12 2 15 2-17 2 0 2 3 2-5 2 14 2-6 2 3 2 7 2-19 2 12 2-10 2 9 2 0 2-10 2 6 2-8 2 12 2-17 2 6 2-13 2 5 2 9 2 1 2-1 2 17 2-14 2-14 2 9 2 6 2-11 2-2 2 19 2-8 2-15 2 13 2 4 2 1 2-1 2 1 2-6 2 3 2 6 2-3 2 11 2-13 2 9 2 3 2 1 2-1 2-3 2-1 2-6 2 6 2 7 2 8 2-20 2-3 2 27 2-26 2 19 2-5 2 0 2-11 2 4 2 1 2-10 2 17 2-25 2 11 2-4 2 7 2 7 2-12 2 11 2-15 2 24 2-14 2 10 2-6 2 0 2 3 2-2 2 4 2 8 2-25 2-2 2 18 2-21 2 24 2-5 2 0 2-2 2-11 2 2 2-4 2 10 2 11 2-18 2-5 2 5 2-19 2 16 2 9 2-6 2 2 2 5 2-1 2-2 2-3 2 9 2-14 2 5 2 7 2 1 2 4 2-17 2 3 2 10 2-12 2 16 2-2 2 1 2-11 2 5 2-4 2-8 2 5 2 11 2-8 2-4 2 3 2 11 2-13 2 3 2 3 2-17 2 9 2 2 2 8 2-5 2 1 2-7 2 0 2 19 2-8 2 9 2-16 2 8 2 4 2-8 2 2 2-11 2-5 2 6 2-5 2 1 2 10 2-3 2 9 2 1 2-3 2-4 2-4 2 7 2-15 2 4 2 14 2-8 2 9 2-2 2 0 2 5 2-4 2-3 2 4 2 9 2-12 2 20 2-10 2 3 2 3 2 2 2-15 2 7 2-9 2 8 2 0 2-1 2-4 2-3 2 1 2-15 2 14 2 0 2 3 2 0 2-7 2 1 2 0 2 3 2-5 2 12 2-2 2-16 2 2 2-1 2 5 2-1 2 6 2 0 2-2 2-4 2 1 2 13 2-11 2 4 2-6 2 13 2-15 2-3 2 0 2 6 2-10 2-8 2 23 2 4 2-1 2-16 2 8 2 0 2 2 2-7 2 0 2 5 2-5 2-3 2 12 2 13 2-18 2 3 2-12 2 23 2-2 2-13 2 5 2-10 2 18 2-5 2 9 2-4 2 2 2-8 2 3 2 13 2-20 2-3 2 21 2-12 2 5 2-4 2 0 2-13 2 4 2 1 2-2 2 5 2-2 2-14 2 21 2-20 2 17 2-7 2 6 2 5 2-15 2 6 2 1 2-11 2 0 2 13 2 3 2-7 2-15 2 18 2 7 2-11 2-2 2-1 2 1 2-13 2 9 2 0 2-1 2 5 2 12 2-5 2 0 2-7 2 11 2-2 2-3 2 7 2-4 2 5 2-16 2 7 2 9 2 6 2-10 2-3 2-1 2 2 2 11 2-13 2-8 2 0 2 5 2 9 2-12 2-6 2 12 2-7 2-4 2 19 2-6 2 13 2-6 2-7 2-9 2 4 2-9 2 10 2 1 2-9 2 1 2-5 2 9 2 1 2 17 2-16 2 20 2-20 2 3 2 0 2 5 2-12 2 19 2-1 2-12 2 2 2 10 2-10 2 5 2-7 2 2 2-7 2 4 2 6 2-3 2-13 2 19 2-13 2-8 2 11 2 1 2 11 2-8 2-7 2-3 2 3 2-1 2 0 2 0 2-1 2 4 2-10 2 2 2 6 2 7 2-10 2 2 2 0 2 8 2 1 2-1 2-18 2 9 2 7 2-3 2-7 2 14 2-20 2 15 2-11 2 13 2-9 2 5 2-13 2 1 2 7 2 11 2-12 2 5 2-2 2-3 2 7 2 9 2-15 2 9 2-8 2-1 2 8 2 2 2 4 2-10 2 10 2 3 2-11 2 1 2-12 2 9 2 2 2-1 2-7 2 10 2-3 2-8 2 1 2 3 2 0 2 9 2-3 2 5 2-13 2 16 2-17 2 12 2-1 2 5 2-8 2-1 2 7 2-7 2 6 2-11 2 5 2-7 2-1 2 26 2-18 2-4 2 5 2-7 2 7V1462" stroke="#4DBEEE" stroke-width="2.8"/><path d="M248 1138l2-7 2-5 2-8 2-4 2-5 2-8 2-4 2-5 2-4 2-7 2-4 2-6 2-5 2-4 2-6 2-7 2-6 2-5 2-5 2-7 2-3 2-7 2-4 2-7 2-5 2-6 2-6 2-5 2-6 2-6 2-6 2-5 2-5 2-6 2-7 2-4 2-6 2-6 2-4 2-7 2-2 2-6 2-7 2-4 2-5 2-6 2-6 2-2 2-8 2-6 2-9 2-3 2-7 2-7 2-9 2-3 2-10 2-5 2-3 2-3 2 1 2 4 2-4 2 4 2 0 2 0 2 1 2 5 2 1 2 3 2 5 2 1 2 5 2-3 2 3 2 9 2-1 2 1 2 3 2-3 2 2 2 5 2-5 2 5 2-4 2 6 2-2 2-2 2 1 2-1 2-3 2-2 2 1 2 1 2-4 2 1 2 2 2-5 2-2 2-6 2 4 2-6 2-3 2-4 2 2 2-3 2 0 2-1 2 4 2 11 2 8 2 1 2 0 2 1 2 0 2 3 2 1 2-4 2-1 2 3 2-2 2 0 2-1 2 0 2-2 2-2 2-3 2-7 2-1 2-4 2-5 2-6 2-8 2-6 2-5 2-9 2-4 2-9 2-9 2-8 2-10 2-9 2-8 2-11 2-10 2-10 2-11 2-11 2-12 2-11 2-10 2-12 2-12 2-14 2-11 2-12 2-11 2-11 2-16 2-16 2-19 2-19 2-23 2-22 2-23 2-22 2-17 2-25 2-34 2-9 2 3 2 3 2-17 2 7 2 15 2-13 2-10 2 5 2-11 2 11 2 0 2 1 2 1 2 1 2 9 2-4 2-4 2 4 2-14 2 12 2 17 2-6 2-7 2-13 2 5 2 15 2-19 2-2 2 7 2 2 2-8 2 5 2-18 2 15 2-13 2 6 2-18 2 16 2-5 2 5 2-10 2-6 2 10 2 7 2-7 2-3 2 1 2 14 2-12 2-8 2 20 2-11 2 3 2-16 2 10 2 4 2 2 2-4 2 5 2-8 2-6 2-9 2 22 2-6 2 15 2-4 2-19 2 12 2 0 2 1 2-15 2 4 2 0 2 11 2-9 2-8 2 0 2 5 2-9 2 2 2 6 2 8 2-6 2-3 2-9 2 0 2-8 2 16 2-3 2-4 2 22 2-19 2 11 2-8 2 3 2-12 2 10 2 5 2-22 2 27 2-18 2 6 2-2 2 11 2-3 2-10 2 1 2 7 2-7 2-1 2 1 2 12 2-18 2 1 2 13 2-7 2-6 2 16 2-11 2-3 2-2 2 20 2-13 2 13 2-7 2-11 2 16 2-10 2 6 2-16 2 0 2 7 2-3 2 14 2-3 2-12 2 9 2-21 2 16 2 2 2-11 2 0 2 9 2-4 2 15 2-18 2 11 2 9 2-1 2-5 2-8 2 3 2 7 2-5 2 1 2-5 2 0 2 15 2-6 2-25 2 19 2 3 2-14 2-1 2 4 2 0 2 1 2-5 2 23 2-25 2 13 2 0 2-4 2 5 2 6 2-14 2 12 2 1 2-12 2-12 2 19 2 3 2-6 2 3 2 13 2-12 2 5 2-7 2 1 2-1 2 4 2-3 2 4 2-3 2 4 2 0 2-4 2-4 2-6 2-1 2 15 2-4 2-3 2-4 2 7 2-5 2 11 2-8 2-5 2-1 2 6 2 19 2-18 2-8 2 8 2 8 2 2 2 0 2 0 2-3 2-1 2-7 2 9 2-4 2 14 2-23 2 21 2-17 2 9 2-8 2 15 2-4 2-6 2 11 2-11 2-4 2-4 2 9 2-1 2-9 2 5 2 5 2-10 2 19 2-21 2 4 2 4 2 16 2-16 2-7 2-9 2 6 2-1 2 13 2-12 2-3 2 6 2 4 2-18 2 8 2 4 2 8 2 5 2-6 2-6 2-7 2 14 2-20 2 12 2 6 2-6 2-5 2 9 2-4 2-3 2 7 2-3 2 27 2-26 2 15 2-20 2 21 2-7 2-7 2-4 2 4 2-12 2 20 2-13 2 24 2-2 2-2 2-2 2-1 2-16 2 13 2 4 2-1 2 7 2-2 2-7 2 1 2 5 2-12 2-2 2-5 2-5 2 3 2 6 2-10 2 6 2-3 2 7 2 7 2 1 2 1 2-12 2 2 2 4 2-8 2 20 2-22 2 12 2-14 2 4 2 6 2 3 2-4 2 19 2-8 2 8 2-26 2 19 2 10 2-4 2-16 2-1 2 0 2 12 2-14 2 4 2 10 2-11 2 2 2-4 2 18 2-15 2 8 2-5 2 5 2 0 2-6 2 2 2-11 2 10 2-2 2 2 2-18 2 16 2-4 2-6 2 3 2 8 2 2 2 5 2-17 2 0 2 3 2 11 2-4 2-9 2 10 2-3 2 2 2-1 2-7 2 2 2 16 2-14 2 5 2-12 2-2 2-2 2 14 2-2 2 1 2 2 2-9 2-4 2-1 2 5 2 4 2 0 2 2 2-11 2 4 2-16 2 14 2 11 2-12 2 11 2 6 2 0 2-13 2-3 2 5 2-1 2-2 2 0 2 4 2 2 2-2 2-1 2 5 2 1 2-2 2-6 2-5 2 7 2-20 2 15 2 0 2 9 2-12 2-2 2 14 2 0 2-12 2 10 2-3 2-6 2-3 2 2 2 4 2 0 2 5 2-8 2-8 2-6 2 5 2 5 2-1 2-8 2 27 2-1 2-6 2-4 2-1 2 16 2-7 2 10 2-2 2-9 2 9 2 1 2-3 2 2 2-8 2 6 2-1 2 2 2-10 2 15 2-5 2-11 2 7 2-4 2 0 2 9 2-11 2-10 2 20 2-14 2 5 2-10 2 17 2-13 2-3 2-2 2 10 2 16 2-17 2 10 2-2 2 12 2-3 2-13 2-2 2-1 2 1 2 9 2-4 2-12 2 4 2 2 2-12 2 15 2 7 2-15 2 14 2-7 2-2 2 3 2-1 2 12 2-15 2 8 2-4 2-3 2-9 2 15 2-3 2 8 2-6 2 1 2-1 2-21 2 27 2-1 2-4 2 2 2 9 2-20 2 12 2-7 2 2 2-2 2-18 2 17 2 4 2-4 2 3 2-10 2 2 2-1 2-3 2 20 2-10 2-4 2 9 2-17 2-6 2 18 2-14 2 10 2-3 2-5 2 3 2 3 2 2 2-2 2-1 2-6 2 1 2 4 2 1 2 11 2-4 2-6 2 19 2-24 2 31 2-19 2-3 2 1 2-10 2 21 2-10 2 4 2 7 2-8 2 2 2-5 2-14 2 24 2-18 2-16 2 16 2-8 2 17 2-14 2 19 2-15 2 10 2-4 2-1 2-2 2 8 2-6 2-2 2 17 2-3 2 2 2-12 2-4 2-8 2 2 2 2 2-3 2 9 2-1 2 0 2 2 2-11 2 10 2 0 2 0 2-9 2 4 2 3 2 2 2-10 2 17 2 0 2-4 2 6 2-14 2 5 2 6 2-3 2 4 2-8 2 12 2 1 2-7 2-15 2 19 2-3 2 9 2-4 2-6 2 6 2-13 2 10 2 1 2-11 2 13 2-2 2 8 2-1 2-13 2-2 2-10 2 23 2 2 2-5 2-7 2 1 2-6 2-5 2 9 2 6 2 1 2-7 2 3 2-4 2 9 2 2 2 3 2-5 2-6 2 2 2 13 2-9 2 0 2 3 2-3 2-11 2 18 2-18 2-3 2 12 2 15 2-32 2 22 2 7 2-7 1-2V1462" stroke="#A2142F" stroke-width="2.8"/><path d="M248 1201l2-4 2-5 2-5 2-3 2-4 2-5 2-4 2-4 2-4 2-4 2-4 2-4 2-4 2-4 2-3 2-4 2-4 2-4 2-3 2-5 2-4 2-4 2-3 2-6 2-4 2-3 2-4 2-6 2-3 2-4 2-4 2-5 2-4 2-3 2-5 2-5 2-4 2-4 2-5 2-4 2-3 2-4 2-5 2-1 2-6 2-5 2-3 2-4 2-4 2-2 2-4 2-7 2-4 2-5 2-7 2-6 2-5 2-1 2-4 2-2 2-2 2 0 2-1 2-2 2 0 2 6 2-1 2-2 2 2 2 4 2 2 2 1 2-1 2 0 2-3 2 1 2-2 2-1 2-5 2 2 2-4 2 1 2-6 2 2 2-3 2-2 2 0 2-3 2 3 2-6 2 6 2-7 2-2 2-3 2 3 2-4 2-3 2-2 2-3 2 1 2-3 2-2 2-6 2 1 2-4 2-2 2-4 2-1 2-2 2-6 2-3 2-5 2-6 2-2 2-6 2-1 2-2 2-2 2-6 2 0 2-1 2-5 2-2 2-2 2-3 2-4 2-2 2-8 2-1 2-2 2-2 2-6 2-3 2-4 2-3 2-6 2-3 2-5 2-7 2-5 2-8 2-7 2-10 2-9 2-11 2-18 2-25 2-23 2-24 2-19 2-19 2-17 2-17 2-15 2-18 2-16 2-16 2-24 2-13 2-24 2-21 2-25 2-28 2-23 2-25 2-15 2 6 2 4 2-8 2 1 2 8 2-14 2 12 2-16 2 17 2-9 2-5 2 2 2 13 2-24 2-1 2 15 2-2 2-9 2 7 2-7 2 5 2-5 2 1 2 0 2-5 2 3 2 3 2-3 2-11 2 11 2 13 2-11 2-3 2-7 2-9 2 8 2-7 2 10 2-15 2 13 2-6 2 6 2-4 2 8 2-21 2 13 2 4 2 6 2-11 2-3 2 0 2 6 2-5 2-8 2 3 2-2 2 5 2 1 2 9 2-7 2-9 2 6 2-6 2 2 2 0 2 2 2-4 2 5 2 5 2 2 2 4 2-16 2-1 2 1 2 8 2-6 2 3 2-8 2 8 2 13 2-18 2 4 2 5 2 5 2-9 2 11 2 2 2-1 2-8 2-4 2-8 2 6 2 1 2-17 2 17 2 1 2 3 2 12 2-14 2 2 2 3 2-7 2 2 2-15 2 6 2 4 2-10 2 20 2-2 2 0 2-4 2-20 2 25 2-7 2 14 2-8 2-17 2-4 2 12 2 1 2 2 2 13 2 2 2-6 2-2 2-3 2 7 2-18 2 21 2-6 2 12 2-27 2 21 2-3 2-5 2 12 2-20 2-3 2 4 2 10 2-1 2-17 2 12 2 15 2-26 2-1 2 4 2 4 2-11 2 11 2-2 2 0 2-18 2 13 2-4 2 8 2-29 2 33 2-1 2-19 2 14 2-14 2-1 2 17 2 3 2-10 2 11 2-15 2 14 2-7 2 7 2-2 2-9 2-4 2 7 2 2 2 7 2-15 2 4 2-4 2 17 2-24 2 9 2 8 2-3 2-6 2 7 2 6 2-6 2 4 2-4 2 19 2-17 2 3 2-6 2-1 2 5 2 11 2-7 2 5 2-10 2-6 2 14 2-7 2 1 2 3 2 1 2-2 2-4 2-8 2 9 2-9 2 8 2-4 2-6 2 14 2 11 2-11 2-7 2-2 2 12 2-11 2-4 2 10 2 0 2 0 2 2 2-11 2 7 2 4 2-2 2 6 2-14 2-1 2-2 2 13 2-6 2 3 2-9 2 5 2 2 2 1 2-7 2 5 2-5 2 12 2-18 2 8 2-13 2-7 2 10 2 21 2 4 2-12 2-2 2-9 2 17 2-3 2-1 2 2 2-4 2 21 2-27 2 13 2-3 2 3 2 0 2-3 2-5 2 11 2-4 2 0 2 1 2-8 2 7 2-1 2 12 2-5 2-16 2 12 2-18 2 4 2 11 2-9 2 5 2 1 2-10 2 13 2-7 2-7 2 11 2-4 2 10 2-6 2-3 2-11 2 9 2-5 2 1 2 5 2-10 2 16 2-5 2-8 2 7 2 3 2 1 2-6 2-8 2 8 2 5 2 0 2-5 2 8 2-1 2 4 2-1 2 2 2-19 2 14 2-21 2 16 2 2 2-8 2 15 2-2 2-7 2 6 2 2 2-24 2 15 2 0 2 19 2-26 2 9 2 14 2-12 2 0 2 22 2-22 2 5 2 0 2-18 2 10 2-2 2 7 2 2 2 10 2 1 2 2 2-7 2-5 2-7 2-20 2 32 2-4 2-6 2-1 2 3 2-2 2-1 2 3 2-7 2-3 2 5 2 1 2 6 2-1 2-4 2 26 2-24 2-2 2 1 2 9 2-2 2-8 2-3 2 21 2-24 2 0 2 7 2 0 2 0 2-8 2 12 2-8 2 9 2-9 2 6 2-5 2 8 2-1 2-14 2 8 2 7 2-9 2 8 2-10 2 0 2 12 2-11 2-6 2 6 2 1 2 2 2-2 2 0 2 5 2-3 2-12 2-2 2 19 2-9 2 3 2-6 2 7 2-1 2-8 2 18 2-16 2 10 2-4 2 5 2 1 2-10 2 14 2-4 2-12 2 1 2 3 2 9 2-12 2-3 2 13 2-9 2-2 2 9 2-12 2 23 2-5 2 1 2 10 2-16 2 3 2 15 2-28 2 14 2 1 2 1 2 3 2-14 2-5 2 7 2-12 2 18 2-1 2-16 2 12 2-8 2 14 2-9 2 4 2-12 2 8 2 2 2-11 2 4 2 5 2-3 2-13 2 12 2 4 2-6 2 10 2-15 2 20 2-7 2 10 2-10 2 1 2 3 2 15 2-14 2-6 2 10 2-7 2 9 2-4 2-6 2 7 2 3 2-10 2-11 2 15 2 3 2-5 2 17 2-9 2-1 2-17 2 16 2-13 2 10 2 7 2-6 2 8 2-6 2 4 2-11 2 9 2-10 2 12 2 10 2-9 2-18 2 7 2 0 2 8 2 3 2-5 2 12 2-8 2 8 2-11 2 2 2-6 2 2 2-6 2 11 2-10 2 6 2-4 2-3 2 6 2-8 2 1 2-16 2 12 2 3 2 5 2 1 2-7 2-17 2 23 2-6 2-7 2 4 2 10 2-7 2 7 2-8 2 5 2 4 2-9 2-1 2 1 2 3 2-12 2 19 2 2 2-7 2 1 2-7 2-5 2 13 2 3 2 0 2-14 2 17 2-6 2-6 2 6 2-4 2-8 2 8 2 11 2-16 2 4 2-8 2 6 2 1 2 15 2-7 2-7 2 10 2-4 2-14 2 11 2-1 2-9 2 5 2 0 2-14 2 15 2 2 2 1 2-12 2-8 2 26 2-14 2 16 2-14 2 14 2-10 2 14 2 12 2-14 2-4 2-12 2 8 2 9 2 4 2-5 2-9 2-7 2-6 2 24 2 0 2-25 2 8 2-18 2 12 2-6 2 17 2 18 2-29 2 17 2 2 2-1 2-10 2 17 2-6 2 8 2-17 2-1 2 7 2-10 2 8 2 5 2-6 2-12 2 10 2-8 2 16 2-11 2-7 2 5 2-5 2-2 2 15 2-17 2 1 2 14 2 5 2-4 2 4 2-6 2 3 2 1 2 0 2 4 2-6 2 18 2-24 2 18 2-7 2 9 2-8 2-4 2-3 2 5 2 2 2-6 2 5 2 0 2-13 2 9 2-17 2 28 2-16 2 3 2 3 1-12V1462" stroke="#EDB120" stroke-width="2.8"/><path d="M248 1114l2-6 2-5 2-6 2-7 2-5 2-5 2-5 2-6 2-8 2-5 2-5 2-5 2-7 2-6 2-5 2-7 2-5 2-5 2-7 2-6 2-7 2-4 2-6 2-7 2-6 2-5 2-6 2-6 2-6 2-7 2-8 2-4 2-6 2-7 2-4 2-5 2-8 2-5 2-5 2-7 2-6 2-6 2-6 2-6 2-6 2-6 2-7 2-6 2-5 2-6 2-8 2-7 2-8 2-5 2-9 2-2 2-9 2-8 2 1 2-5 2 0 2 0 2 4 2-2 2 0 2 0 2 3 2 3 2 2 2 3 2 2 2 3 2-2 2 9 2-4 2 4 2 2 2 3 2 3 2 1 2 4 2-3 2 7 2-1 2 5 2 0 2 2 2 1 2 3 2-3 2 3 2 2 2-1 2 5 2-5 2 5 2-5 2-5 2 3 2-8 2 0 2-1 2-3 2-4 2-4 2-1 2-4 2 1 2 4 2 6 2 10 2 3 2 4 2 4 2 7 2 2 2 5 2 5 2 3 2 6 2 3 2 2 2 3 2 2 2 3 2 4 2-2 2 1 2-4 2-1 2-3 2-5 2-5 2-4 2-10 2-6 2-7 2-9 2-12 2-10 2-10 2-11 2-12 2-11 2-13 2-9 2-12 2-12 2-14 2-14 2-19 2-18 2-19 2-16 2-18 2-17 2-15 2-20 2-20 2-17 2-14 2-22 2-27 2-16 2-27 2-18 2-32 2-6 2-1 2 3 2 7 2-17 2 11 2-15 2 6 2-10 2 10 2-15 2 22 2-7 2-12 2 3 2-6 2 15 2-10 2 10 2-20 2 17 2-7 2 14 2-11 2 3 2 4 2-2 2-15 2 10 2 0 2-4 2-16 2 11 2-5 2 9 2-10 2 1 2 2 2 0 2-2 2-10 2 1 2 15 2-1 2-5 2 14 2-18 2 15 2-18 2 3 2 8 2-2 2 9 2-14 2-4 2 14 2 1 2-20 2-10 2 5 2 22 2-21 2 17 2-3 2-3 2 13 2-13 2 23 2-13 2-5 2-15 2 3 2 7 2-9 2-3 2 5 2 3 2 3 2-5 2 5 2-6 2 15 2-10 2-2 2-8 2-2 2 0 2 4 2-16 2 7 2 5 2 0 2-4 2 8 2 12 2-18 2 13 2-15 2 6 2 12 2-1 2-7 2-1 2 19 2-32 2 25 2-13 2-8 2 26 2-16 2 10 2-8 2 12 2-5 2 10 2-15 2-1 2-9 2 21 2-6 2-5 2-3 2 7 2-5 2 0 2-3 2 19 2-19 2-2 2-9 2 19 2-2 2-2 2 3 2 1 2-15 2-4 2-2 2 24 2-14 2 13 2-8 2-11 2 28 2-18 2 2 2-6 2 8 2-11 2-7 2 9 2 6 2 0 2-10 2 1 2 9 2-17 2 0 2 13 2-9 2 4 2 0 2-8 2 5 2 5 2-4 2 3 2-4 2-9 2 7 2 5 2-4 2 4 2 8 2-9 2-4 2 7 2 6 2-13 2 5 2-17 2 20 2-6 2-7 2 19 2-18 2 29 2-25 2 6 2-1 2-7 2 0 2 20 2-2 2-8 2-1 2-7 2 29 2-28 2 15 2-9 2 9 2-3 2 3 2-9 2 11 2-22 2 5 2-3 2 4 2 2 2 2 2-9 2 10 2 1 2-13 2 18 2 3 2-12 2-15 2 26 2-13 2 14 2-10 2 6 2 4 2-2 2-13 2 20 2-10 2-4 2 3 2-9 2 23 2-21 2 3 2-3 2 13 2-9 2 5 2-5 2-6 2 15 2 2 2-6 2 2 2-14 2 12 2-1 2-12 2-4 2 16 2 7 2-5 2 5 2-2 2-11 2 7 2 7 2-17 2 8 2-6 2 13 2-4 2 1 2 6 2-9 2 5 2-6 2-15 2 17 2 6 2-10 2 4 2 3 2-12 2 14 2-8 2-9 2 25 2-23 2-2 2 4 2-1 2 10 2-12 2-1 2-3 2 5 2 1 2-16 2 8 2-4 2 4 2 13 2-11 2 13 2-11 2-8 2 14 2-1 2 12 2-19 2 4 2 3 2 6 2-3 2 3 2 5 2 7 2-16 2 13 2-13 2 5 2 4 2-7 2 1 2 25 2-7 2-13 2-5 2 17 2-13 2 3 2-7 2 2 2 1 2 13 2-17 2-4 2 12 2 8 2 13 2-30 2 2 2 1 2-6 2 4 2 20 2-9 2-6 2-2 2-3 2-1 2-10 2 13 2-2 2 2 2-5 2-6 2 12 2-6 2 3 2 0 2 10 2-19 2 25 2-18 2-8 2 1 2 11 2-9 2 8 2 4 2 1 2-2 2-3 2-2 2 10 2-20 2 10 2-3 2-7 2 2 2 5 2 11 2-1 2 1 2-11 2 9 2-8 2 5 2-12 2 16 2-12 2 10 2-3 2-9 2-9 2 7 2 21 2-11 2-5 2 13 2 4 2-11 2 1 2 0 2-14 2 17 2 0 2-13 2 8 2-14 2 1 2 1 2 13 2 5 2-32 2 25 2 10 2-24 2 16 2-3 2-8 2 9 2-1 2-1 2 7 2-1 2-10 2 6 2 14 2-6 2-14 2-3 2-3 2 4 2-3 2 17 2 0 2-14 2 12 2-8 2-5 2 20 2-4 2-12 2 18 2-14 2-1 2 1 2-12 2 21 2-10 2-8 2 7 2-13 2 14 2 0 2 6 2-6 2-13 2 6 2 13 2-12 2 2 2-7 2 7 2 13 2-24 2 10 2 15 2 3 2-8 2 3 2-13 2 30 2-25 2 4 2 3 2-2 2 5 2-18 2 22 2 0 2-2 2-6 2 1 2-3 2 7 2-8 2-2 2-4 2-4 2 1 2 6 2-4 2 1 2-4 2-11 2-4 2 25 2-4 2 2 2-20 2 10 2 18 2-17 2 4 2-6 2 14 2-10 2 6 2 0 2-8 2 11 2-14 2-1 2 16 2-9 2 22 2-19 2-4 2 1 2-1 2-3 2 8 2 4 2-13 2 1 2-2 2-2 2 11 2-3 2-5 2-4 2 8 2 3 2-15 2 10 2 3 2-10 2 11 2 2 2-8 2 15 2-15 2 10 2-8 2 5 2-1 2-10 2 11 2-1 2 4 2-4 2 12 2 6 2 0 2-10 2 4 2-3 2 1 2-3 2 9 2-19 2 14 2-5 2-12 2 2 2 22 2-12 2-1 2-1 2 1 2 6 2-10 2 31 2-21 2-5 2-5 2-7 2 10 2-5 2 4 2-3 2 10 2 5 2-13 2-2 2 5 2-4 2-1 2 8 2 0 2-10 2 4 2 7 2-2 2-7 2 23 2-8 2 15 2-15 2 19 2-17 2 4 2-2 2-5 2 1 2 6 2-5 2 6 2 0 2-10 2 9 2-22 2 6 2 7 2 8 2 0 2-15 2-2 2 7 2-2 2-11 2 8 2 8 2 4 2-9 2 4 2 2 2-12 2 14 2 9 2-23 2 17 2-2 2-13 2-7 2 12 2-18 2 12 2 3 2-2 2-12 2 9 2 4 2 6 2-1 2 6 2-10 2 12 2-8 2 9 2-11 2 9 2-10 2-10 2 22 2 0 2-11 2-8 2 7 2-8 2 15 2-13 2 14 2-8 2 2 2-9 2 2 2 11 2 0 2 1 2-3 2 0 2-5 2-4 2 17 2-3 2-6 2 4 2 2 2-1 2 1 2-6 2 16 1-17V1462" stroke="#7E2F8E" stroke-width="2.8"/><path d="M248 1163l2-6 2-5 2-6 2-4 2-4 2-7 2-5 2-7 2-5 2-4 2-7 2-6 2-4 2-7 2-4 2-7 2-5 2-7 2-5 2-6 2-4 2-7 2-3 2-7 2-4 2-6 2-5 2-6 2-7 2-5 2-5 2-7 2-5 2-6 2-7 2-6 2-5 2-5 2-7 2-6 2-5 2-5 2-4 2-9 2-2 2-7 2-6 2-2 2-6 2-6 2-5 2-8 2-5 2-10 2-4 2-9 2-9 2-5 2-7 2-1 2-2 2-5 2 5 2 2 2 3 2 1 2 3 2 5 2 5 2 3 2 3 2 2 2 1 2 1 2 5 2 1 2 3 2 6 2-5 2 6 2-2 2 3 2 1 2 2 2 1 2 1 2 2 2-4 2 3 2-3 2-1 2 1 2-3 2 5 2 0 2-4 2-3 2 2 2-3 2-2 2-5 2-1 2-3 2 1 2-8 2 2 2-3 2 2 2 8 2 3 2 8 2 5 2 0 2 4 2-5 2 5 2-5 2 1 2-3 2-2 2 1 2 2 2-3 2-1 2 2 2-6 2 4 2 0 2-2 2 0 2 0 2-2 2-2 2-1 2-5 2-2 2-5 2-7 2-8 2-9 2-11 2-9 2-10 2-11 2-13 2-11 2-16 2-16 2-25 2-20 2-24 2-19 2-19 2-18 2-16 2-16 2-17 2-13 2-21 2-16 2-20 2-16 2-18 2-19 2-28 2-31 2-23 2-10 2-1 2 3 2 0 2-12 2-6 2-5 2 10 2 11 2-14 2 9 2-19 2 3 2 1 2-5 2 2 2 4 2-3 2 5 2-4 2 0 2-11 2 4 2 1 2 10 2-12 2-2 2-2 2 11 2-10 2-5 2-2 2 0 2 15 2-16 2 14 2 6 2-15 2 7 2 6 2-21 2 7 2 21 2-18 2 2 2 5 2-13 2 3 2 0 2 19 2-14 2-16 2 19 2-10 2 1 2-1 2-5 2 10 2-17 2 12 2 2 2 0 2-4 2 7 2 0 2-5 2 6 2-13 2 14 2-1 2-16 2 7 2 6 2-19 2 7 2 5 2 3 2 7 2-6 2-17 2 0 2 1 2 9 2 2 2-5 2 0 2 8 2 4 2 3 2-15 2 10 2-19 2 8 2 5 2-5 2-5 2 1 2 1 2 4 2 3 2-13 2 2 2 9 2-6 2-2 2 3 2 3 2-11 2 12 2-14 2 0 2 8 2 4 2-7 2 5 2 0 2 4 2 10 2-17 2-1 2-2 2 13 2-13 2 4 2-14 2 21 2-5 2 4 2 14 2-9 2-4 2-7 2 16 2-14 2 1 2 1 2-3 2-6 2 13 2 1 2 1 2 2 2 5 2-5 2-4 2 0 2-1 2 7 2 0 2-2 2-12 2 17 2-8 2-3 2 11 2 3 2-3 2-6 2 0 2 9 2-6 2-3 2 7 2 2 2-2 2-6 2 5 2-4 2 1 2 10 2-13 2-1 2 7 2-2 2-19 2-3 2 14 2 7 2-8 2 10 2-11 2 7 2-7 2-1 2-17 2 16 2 4 2 6 2-2 2-10 2 5 2-3 2-19 2 14 2 8 2 3 2-18 2 2 2 7 2 3 2-2 2 2 2-3 2-6 2-3 2 1 2 11 2-7 2 4 2-4 2 9 2-4 2 14 2-17 2 6 2 6 2 16 2-25 2-1 2 9 2-1 2-2 2 0 2 7 2-17 2 2 2 5 2 8 2 10 2-10 2-3 2 16 2-22 2 5 2 14 2-13 2-10 2 12 2-2 2 10 2-17 2 7 2 5 2-16 2 16 2-6 2 13 2-18 2 9 2 1 2 1 2-2 2-17 2 9 2-6 2-2 2-3 2 1 2 12 2-6 2 10 2-9 2 10 2-14 2 13 2-5 2 8 2 4 2-9 2-1 2-6 2 13 2-5 2-10 2 17 2-9 2-9 2 12 2 4 2-2 2-5 2 5 2 0 2 6 2-1 2-13 2 9 2 11 2 10 2-21 2-17 2 7 2-4 2 1 2 3 2 5 2-5 2 2 2-9 2 0 2 18 2-22 2 11 2 9 2-10 2-6 2 13 2 0 2 7 2-18 2 10 2 1 2-18 2 21 2-1 2-6 2-2 2-14 2 15 2 0 2 4 2-1 2-3 2 12 2 8 2-15 2-7 2-2 2 16 2-14 2 0 2 4 2-22 2 26 2-5 2-7 2-9 2 17 2 0 2-1 2-9 2 9 2 9 2-18 2 14 2-20 2 11 2 15 2-2 2-18 2 12 2 9 2-13 2 10 2-3 2 8 2-22 2 21 2-6 2-11 2 3 2 7 2-4 2 6 2-6 2-14 2 25 2-12 2 12 2-9 2 4 2-7 2-1 2-5 2 1 2 7 2 0 2-11 2 9 2 4 2-9 2 2 2 13 2-18 2 14 2-5 2-9 2 5 2 1 2 1 2 0 2-7 2 12 2-6 2-11 2 9 2-17 2 3 2 20 2 1 2-14 2 7 2 3 2 1 2 1 2-6 2 12 2-10 2 15 2-14 2-4 2 12 2 1 2 5 2-5 2 12 2-13 2-6 2-3 2 4 2 13 2-9 2-8 2 4 2 5 2-10 2-4 2 20 2-4 2-12 2-7 2 4 2 9 2-19 2 7 2 2 2-11 2 7 2 9 2-3 2 6 2-22 2 24 2-4 2 12 2-2 2-13 2 5 2 2 2-6 2 5 2 1 2-2 2-2 2-8 2 10 2 0 2-13 2 14 2-16 2 3 2 12 2 5 2-6 2-5 2 8 2-1 2 1 2-7 2 13 2 1 2-1 2 3 2-20 2-1 2 22 2-7 2 4 2-21 2 15 2-22 2 12 2-2 2 11 2-10 2 7 2 8 2-8 2 3 2 6 2-12 2 17 2-8 2-2 2 9 2 9 2-3 2-3 2-1 2 5 2 7 2-10 2 4 2 0 2 0 2-10 2 1 2 6 2-2 2-17 2 13 2-14 2 6 2 4 2-10 2 18 2-26 2 8 2 13 2 8 2-16 2 3 2-12 2 22 2-13 2-9 2 1 2 10 2-5 2 4 2-9 2-2 2 9 2 8 2-8 2 2 2-7 2-2 2 6 2 4 2-12 2 2 2 7 2-6 2 0 2 15 2-9 2-6 2-13 2 0 2 7 2-5 2 12 2-21 2 23 2 12 2-11 2-14 2-9 2 11 2 13 2 0 2-5 2 7 2-9 2 5 2 0 2 7 2 0 2-11 2 9 2-5 2 0 2 1 2-7 2-5 2 4 2-5 2 14 2-4 2-5 2 11 2-18 2 21 2-7 2 4 2 1 2 5 2 0 2 1 2-5 2 16 2-7 2 0 2 0 2 8 2-22 2 13 2-14 2 12 2-13 2 14 2-8 2-9 2 13 2-10 2-25 2 15 2 13 2-14 2-14 2 27 2 8 2-6 2-1 2-5 2-1 2-11 2 22 2-3 2-7 2-4 2 12 2-5 2 2 2 8 2-1 2-9 2 13 2-13 2 11 2 4 2-7 2-1 2 6 2-2 2 2 2 1 2-5 2 6 2-12 2 12 2-8 2-3 2-2 2-15 2 4 2-1 2-3 2 11 2-4 2-2 2 4 2-9 2 3 2 9 2-3 2-4 2 25 2-6 2-20 2 22 2 0 2-13 2 3 2 14 2-12 2-8 2 0 2 2 2-11 2 8 2 2 2 1 2-7 2 8 2-9 2 10 1-1V1462" stroke="#77AC30" stroke-width="2.8"/><path d="M248 1116l2-4 2-6 2-5 2-6 2-4 2-7 2-5 2-6 2-4 2-7 2-7 2-6 2-6 2-6 2-5 2-7 2-4 2-8 2-4 2-5 2-6 2-4 2-7 2-5 2-6 2-4 2-8 2-4 2-6 2-4 2-7 2-5 2-5 2-7 2-5 2-5 2-7 2-6 2-5 2-4 2-8 2-4 2-9 2-4 2-5 2-4 2-7 2-4 2-8 2-6 2-4 2-8 2-8 2-9 2-2 2-7 2-9 2-4 2-6 2 1 2-2 2-1 2-2 2 4 2 1 2 7 2 0 2 8 2 1 2 2 2 7 2 3 2 1 2-2 2 7 2 2 2 2 2-1 2 0 2 1 2 1 2 2 2 4 2 1 2-2 2-1 2 2 2-1 2 0 2-2 2-1 2 2 2-5 2 2 2-4 2 1 2-3 2-2 2-3 2 0 2-6 2-3 2-3 2 1 2-5 2-2 2-1 2 5 2 4 2 8 2 9 2 9 2 1 2 5 2 1 2 5 2 3 2 3 2 2 2 0 2 6 2 0 2 0 2 3 2 2 2 0 2 1 2 1 2-2 2-1 2-1 2-3 2-3 2-3 2-4 2-10 2-4 2-9 2-8 2-7 2-9 2-12 2-8 2-11 2-12 2-9 2-12 2-12 2-12 2-11 2-12 2-9 2-14 2-13 2-13 2-17 2-16 2-18 2-18 2-20 2-15 2-26 2-20 2-19 2-16 2-32 2-24 2-16 2-35 2-8 2-2 2 5 2-4 2-22 2 22 2 0 2-4 2-9 2 9 2-22 2 29 2-17 2-2 2 6 2 11 2-21 2 6 2-7 2 1 2 9 2 8 2-16 2-4 2 1 2-1 2-5 2-2 2-7 2 2 2 2 2 18 2-23 2 17 2-13 2 0 2 7 2 5 2-12 2 0 2 8 2 1 2-3 2 2 2-2 2-5 2 9 2 9 2-5 2-10 2 3 2-2 2-5 2 0 2 1 2 14 2-6 2-11 2 4 2 4 2-8 2 8 2-9 2 12 2 3 2-8 2 4 2-1 2 0 2 3 2-16 2 7 2 2 2-18 2 18 2-6 2 8 2-6 2 3 2 1 2-5 2 7 2-7 2-12 2 10 2 3 2 7 2-10 2 3 2 3 2 2 2-21 2 13 2-5 2 13 2 6 2-5 2-9 2 3 2 15 2-7 2-7 2 10 2-3 2-11 2 9 2-9 2 7 2-4 2 2 2-20 2 19 2-5 2 16 2-12 2 1 2-11 2-1 2 8 2 9 2-14 2 17 2-5 2-12 2 16 2-18 2 9 2-10 2 6 2 6 2-13 2 12 2-12 2 4 2 10 2-3 2 2 2-14 2 24 2-20 2-7 2 12 2-2 2 12 2-11 2-8 2-5 2 13 2-7 2-5 2-9 2 18 2-8 2 6 2-3 2-5 2-6 2 16 2 4 2-12 2 5 2 14 2-11 2 7 2-14 2 3 2 3 2 2 2-10 2 7 2-1 2-12 2 13 2 3 2-19 2 17 2-16 2 22 2-11 2-11 2 34 2-9 2 1 2-10 2 14 2-6 2-6 2 6 2 1 2-5 2-1 2 11 2-15 2 18 2-13 2 3 2-2 2 7 2 10 2-17 2 11 2-13 2 8 2-4 2 2 2-6 2 13 2-16 2 13 2-5 2-9 2 4 2 10 2-13 2 10 2-15 2 31 2-26 2 18 2-3 2-4 2-5 2-1 2-13 2 22 2-20 2 2 2-5 2 3 2 10 2-11 2 22 2-10 2 3 2-9 2 6 2 3 2-7 2-11 2 14 2-1 2 0 2-11 2 4 2-5 2 7 2-6 2-2 2 10 2 6 2-3 2-22 2 9 2 8 2-2 2-7 2 6 2-2 2-3 2-2 2 13 2-3 2-13 2 10 2 6 2-2 2 5 2 4 2-9 2-2 2 17 2-14 2 8 2-2 2-5 2-12 2 14 2 11 2-1 2-1 2-6 2 1 2 2 2-15 2 12 2-4 2 10 2-5 2 3 2 2 2 0 2-8 2 7 2 0 2 17 2-17 2-9 2 19 2-13 2-4 2 10 2-14 2-7 2 16 2-20 2 1 2 11 2 17 2-19 2 2 2 16 2-17 2 8 2-1 2 13 2-15 2 5 2-2 2 0 2 4 2-5 2-1 2 4 2 5 2-21 2 15 2 9 2-15 2-6 2-4 2 21 2-11 2 8 2 7 2 1 2-14 2-10 2 10 2-5 2 0 2 13 2-20 2 21 2-20 2 9 2-3 2 0 2 3 2 5 2-8 2-9 2 12 2 0 2 15 2-10 2-5 2-1 2 4 2 0 2 6 2-8 2 1 2-7 2 17 2 7 2-12 2 1 2 8 2-10 2 13 2-4 2-6 2-1 2 13 2-5 2-7 2-5 2-11 2 13 2 5 2-8 2-11 2 10 2 4 2 7 2 5 2-13 2 5 2-7 2 10 2-12 2 5 2 19 2-16 2 6 2-5 2-14 2 5 2-1 2 7 2-6 2 8 2 5 2-7 2-6 2 16 2-6 2-6 2-13 2 17 2-8 2-3 2 4 2 7 2-10 2 1 2 4 2 0 2-5 2-4 2-7 2 14 2-1 2 16 2-12 2-5 2 16 2-15 2 29 2-26 2 10 2-9 2 24 2-15 2 5 2-6 2-7 2 6 2 4 2-17 2 6 2-3 2-2 2-3 2 3 2 12 2-7 2 0 2-12 2 10 2 2 2 7 2-7 2-1 2 9 2-16 2 4 2 12 2 2 2-9 2-7 2 2 2 4 2-10 2 3 2 9 2-11 2-9 2 8 2 5 2-9 2 14 2 8 2-14 2-2 2-7 2 13 2-6 2 2 2 4 2-17 2 8 2 4 2 4 2-1 2-4 2 17 2-17 2 20 2-20 2 5 2 3 2-4 2 1 2 10 2 2 2-9 2-9 2 8 2 9 2-14 2-9 2 16 2 4 2-7 2 12 2-18 2-3 2 6 2 5 2-4 2-12 2 7 2 6 2-11 2 9 2-3 2-9 2 1 2 18 2 3 2-9 2 0 2-4 2-4 2-4 2 19 2-13 2 5 2-4 2 11 2 8 2-16 2 8 2-11 2 6 2 9 2-12 2 7 2 6 2-2 2-5 2 7 2-9 2 1 2-4 2-8 2 13 2-10 2 0 2-9 2 3 2 12 2-3 2-15 2 10 2 9 2 5 2 0 2-7 2-8 2 15 2-26 2 28 2-7 2 13 2-12 2 14 2-1 2-20 2 12 2-6 2 11 2 9 2-21 2 3 2 4 2 1 2-5 2 1 2 8 2-25 2 13 2-2 2 8 2-2 2 4 2-12 2 7 2 17 2-25 2 9 2 3 2-6 2-2 2-1 2 0 2 9 2-8 2 17 2-6 2-26 2 16 2-1 2 0 2-4 2 1 2 8 2-16 2 12 2-8 2 1 2 18 2-6 2 1 2 0 2 3 2-6 2-6 2 12 2-4 2-4 2 3 2 4 2-7 2-4 2-2 2-10 2 26 2-21 2 8 2-9 2 16 2-21 2 0 2 2 2 11 2-1 2-3 2 5 2-2 2-3 2 0 2 4 2-9 2 16 2-3 2 1 2 1 2-6 2 2 2 2 2 3 2 4 2 4 2-23 2 21 2-6 2 12 2-36 2 19 2 2 2-7 2-1 2 3 2-6 2-7 2 12 2 3 2 12 2-21 2 24 2-20 2 8 2-8 2 4V1462" stroke="#4DBEEE" stroke-width="2.8"/><path d="M248 1127l2-6 2-6 2-7 2-4 2-4 2-6 2-7 2-6 2-5 2-8 2-4 2-5 2-6 2-6 2-7 2-6 2-4 2-5 2-7 2-6 2-4 2-5 2-6 2-6 2-4 2-6 2-7 2-5 2-6 2-5 2-7 2-6 2-5 2-5 2-9 2-5 2-4 2-6 2-6 2-6 2-6 2-5 2-5 2-6 2-7 2-5 2-6 2-3 2-6 2-5 2-6 2-9 2-6 2-9 2-6 2-10 2-4 2-6 2-2 2-3 2-4 2 6 2-1 2 0 2 5 2 1 2 2 2 8 2 3 2 0 2 5 2 5 2 0 2 3 2 0 2 3 2 3 2 0 2 0 2 1 2 2 2 0 2 2 2 1 2 0 2-1 2 1 2 0 2-9 2 2 2 2 2 1 2-1 2-4 2 0 2-2 2 3 2-4 2-6 2 2 2-3 2 0 2-4 2-2 2-1 2 1 2-4 2 2 2 4 2 8 2 9 2 3 2 4 2 1 2 1 2 5 2-1 2 6 2 0 2 0 2 6 2 0 2 2 2 1 2-1 2-2 2 2 2-5 2-4 2-5 2-3 2-6 2-10 2-7 2-6 2-7 2-9 2-9 2-8 2-10 2-12 2-8 2-12 2-11 2-12 2-10 2-12 2-14 2-8 2-12 2-12 2-15 2-15 2-16 2-16 2-19 2-20 2-14 2-27 2-23 2-14 2-27 2-21 2-19 2-33 2-9 2 2 2 2 2 1 2-9 2 8 2-19 2 5 2 1 2 1 2 1 2 6 2-5 2 2 2-6 2-18 2 27 2-10 2-10 2-3 2 7 2-4 2 7 2 4 2-9 2 7 2 1 2-13 2 1 2-5 2-4 2-1 2-7 2 8 2-2 2 8 2 2 2-8 2-4 2 5 2-3 2 1 2 13 2-3 2-7 2 5 2-9 2-6 2 1 2 2 2-2 2 12 2-3 2-6 2 5 2-3 2 5 2 7 2-25 2 16 2-10 2-4 2-1 2 19 2-20 2 15 2-11 2-7 2 7 2 8 2-1 2-15 2 7 2-1 2-2 2 4 2 2 2-9 2 13 2-14 2 7 2 11 2-14 2 0 2 7 2-8 2-8 2 7 2-1 2-3 2-6 2 23 2-9 2-8 2 3 2-2 2-2 2 8 2-1 2-16 2 0 2 2 2-5 2 37 2-27 2 3 2 7 2-12 2-5 2 23 2-16 2 13 2-9 2 23 2-11 2-7 2-11 2 3 2-11 2 8 2-7 2 14 2-4 2-3 2 20 2-22 2 6 2-2 2-8 2-3 2 21 2-20 2 10 2-5 2 8 2 9 2-22 2 11 2 8 2-16 2-3 2 8 2 1 2 6 2-15 2 14 2-15 2 15 2-4 2-18 2 23 2-10 2 15 2-7 2-15 2-2 2 7 2-8 2 27 2-11 2-11 2 4 2-6 2 7 2-15 2 9 2 6 2-13 2 11 2-5 2 15 2-2 2-18 2-2 2 9 2 19 2-2 2-4 2-6 2-2 2 8 2-4 2-10 2 3 2 13 2 6 2-10 2-11 2 7 2-1 2 13 2-3 2-8 2 21 2-8 2-8 2 6 2-4 2 14 2-6 2-5 2 3 2 3 2-16 2 1 2 0 2 7 2-12 2 21 2-29 2 10 2-8 2 20 2-12 2 8 2 2 2 10 2-7 2-8 2 0 2 6 2-2 2 8 2-16 2 7 2 1 2-1 2 13 2-14 2-4 2 1 2 3 2-8 2 7 2 4 2-3 2-14 2 3 2 11 2-1 2-2 2-2 2-4 2 5 2-8 2-2 2 10 2 10 2-6 2 5 2-4 2 9 2-8 2 4 2 11 2-16 2 13 2-15 2 20 2-13 2-6 2 5 2 12 2-14 2 5 2 9 2-12 2 2 2 0 2-5 2 2 2 8 2-15 2 4 2 6 2-7 2 0 2 9 2-14 2 4 2-4 2 5 2-13 2 4 2 7 2 10 2-10 2 3 2 8 2-17 2 20 2-1 2 16 2-12 2-8 2 6 2 0 2-4 2-15 2 13 2 2 2-2 2 0 2-5 2 6 2-10 2-1 2 3 2 8 2 1 2-3 2 5 2 0 2-8 2 3 2-15 2 10 2 11 2-10 2 1 2-5 2 5 2-5 2-6 2 4 2 6 2 11 2-16 2-7 2 10 2 1 2-7 2 0 2-11 2 15 2-18 2 6 2 5 2 16 2-10 2 1 2 1 2 0 2-9 2 8 2-10 2 13 2-17 2 9 2 17 2-4 2-2 2-5 2 3 2-6 2 6 2-2 2 0 2-11 2-8 2 17 2 5 2 2 2-6 2 13 2-3 2 6 2 5 2-18 2 25 2-13 2-2 2 17 2-20 2-5 2 1 2 1 2-10 2-1 2 15 2-12 2 1 2 6 2 1 2 7 2-6 2 7 2-11 2 4 2 1 2 7 2 7 2-5 2-17 2 21 2-20 2 3 2 0 2 2 2 8 2 3 2-6 2 4 2-15 2 19 2-22 2 8 2 2 2-6 2 20 2-7 2-16 2 4 2 4 2 5 2-12 2-1 2-2 2 4 2 1 2-9 2 17 2-19 2 15 2-6 2 2 2 10 2-11 2-1 2 2 2-11 2 7 2 3 2-1 2-1 2 17 2-15 2 0 2 1 2 8 2-4 2 1 2-12 2 3 2 15 2-6 2 8 2-9 2 0 2-4 2 8 2 0 2-9 2 13 2-5 2 12 2-26 2 23 2-9 2-5 2-6 2 5 2-1 2-13 2 15 2 3 2 1 2-11 2-2 2 5 2 0 2 21 2-19 2-4 2 0 2 10 2 3 2-3 2-1 2-5 2-2 2-13 2 20 2 5 2-1 2-9 2-3 2 7 2 3 2-11 2 9 2-9 2 27 2-16 2 7 2 4 2-13 2-6 2-3 2 3 2-5 2-6 2 15 2-1 2-3 2-4 2 7 2-5 2 1 2 8 2 11 2-17 2 6 2 5 2-4 2 5 2 2 2-5 2 1 2-4 2 0 2-5 2 10 2-11 2-11 2 10 2-3 2-2 2-12 2 9 2 13 2-18 2-6 2 7 2 22 2 4 2-3 2-7 2 5 2-5 2-3 2 9 2-11 2 4 2 1 2 6 2-14 2 9 2-7 2 3 2 6 2 14 2 2 2-21 2-2 2 9 2-11 2 26 2-16 2 3 2-3 2 7 2-9 2 3 2 2 2-11 2 13 2-9 2 9 2-1 2-1 2-3 2 5 2-17 2 12 2-9 2 2 2 1 2-1 2 5 2-14 2 25 2-22 2 11 2-1 2-7 2 10 2-7 2 14 2-5 2-1 2-7 2-4 2-7 2 0 2 21 2-15 2 12 2-8 2 9 2-10 2 5 2-1 2-13 2 27 2-15 2-4 2 8 2-10 2 1 2 2 2-16 2 4 2 6 2-3 2 7 2-5 2 2 2 1 2-2 2-9 2 13 2 5 2-16 2 2 2 2 2 7 2-4 2 18 2-8 2-1 2 5 2-3 2 15 2-5 2-3 2-7 2 12 2-13 2 5 2-11 2 8 2 3 2 7 2-10 2 21 2-5 2-14 2 1 2 11 2 12 2-26 2 9 2-6 2 11 2-11 2-8 2-5 2 10 2 0 2-3 2 6 2-2 2 15 2-11 2-14 2 12 2 0 2-6 2-3 2 8 2-13 2 7 2-14 2 9 2-3 2 9 2 5 2-10 2 7 2-3 2 8V1462" stroke="#D95319" stroke-width="2.8"/><path d="M248 1081l2-5 2-7 2-5 2-6 2-7 2-6 2-6 2-6 2-6 2-6 2-6 2-5 2-7 2-7 2-6 2-6 2-6 2-5 2-6 2-8 2-4 2-6 2-7 2-7 2-6 2-6 2-6 2-7 2-6 2-4 2-8 2-4 2-8 2-4 2-7 2-6 2-6 2-5 2-7 2-7 2-8 2-4 2-7 2-7 2-7 2-5 2-6 2-6 2-5 2-9 2-10 2-7 2-4 2-10 2-7 2-8 2-4 2-4 2-3 2-1 2 3 2 2 2 1 2 4 2 2 2 8 2-3 2 9 2-1 2 3 2 1 2 2 2 3 2 0 2 1 2 2 2 2 2 4 2 3 2-2 2 3 2 2 2 0 2 1 2 1 2 1 2 0 2 3 2 0 2-5 2 1 2-9 2 4 2-7 2 0 2-4 2 0 2-1 2-5 2 0 2-1 2-2 2-3 2-2 2-2 2-1 2-1 2-1 2 5 2 6 2 12 2 5 2 12 2 11 2 18 2 21 2 21 2 23 2 19 2 23 2 19 2 14 2 12 2 9 2 2 2-3 2 1 2-5 2-3 2-2 2-7 2-7 2-4 2-11 2-5 2-10 2-7 2-10 2-10 2-12 2-10 2-13 2-11 2-10 2-11 2-15 2-10 2-14 2-16 2-21 2-21 2-22 2-22 2-22 2-18 2-18 2-17 2-19 2-19 2-16 2-14 2-22 2-15 2-22 2-19 2-31 2-20 2-28 2-18 2-3 2-11 2 5 2-3 2 9 2-9 2 14 2-10 2 4 2-13 2 12 2-24 2 1 2 11 2-4 2 7 2-7 2 3 2-14 2 16 2-2 2 1 2-8 2 1 2-6 2-4 2 8 2 6 2-13 2-7 2-10 2 7 2 10 2 5 2 1 2-10 2 7 2 8 2-5 2 1 2-4 2-10 2 8 2 7 2-11 2-14 2 3 2 10 2 3 2 1 2-17 2 16 2-11 2 7 2-5 2 13 2-17 2 9 2 4 2-7 2 4 2 11 2-9 2 8 2-12 2-4 2-6 2 16 2-8 2 7 2-9 2 0 2 4 2-1 2-9 2 10 2-9 2 2 2 26 2-10 2-11 2-2 2-7 2 2 2 10 2-3 2-5 2 4 2-3 2 4 2-12 2 6 2-16 2 14 2 1 2-11 2 5 2 7 2-9 2 12 2 4 2-20 2 18 2-8 2-8 2 16 2-14 2 4 2-8 2-4 2-9 2 9 2 19 2-20 2 1 2 0 2 12 2-9 2 3 2 1 2 1 2 5 2-8 2-3 2 14 2 5 2 0 2-6 2-11 2 23 2-13 2-3 2 11 2 12 2-24 2 10 2 0 2-4 2 14 2-16 2-11 2 12 2 2 2 9 2-6 2 0 2 5 2-21 2 12 2 3 2-9 2-4 2-1 2 8 2-15 2 17 2-14 2 13 2-4 2 7 2-19 2-1 2 16 2-5 2-7 2 3 2 12 2-16 2 1 2 3 2-1 2 0 2-6 2 7 2 5 2-2 2 11 2-15 2 10 2 1 2-4 2-7 2 4 2-10 2 9 2-5 2 22 2-12 2 4 2-16 2 8 2-7 2 9 2 15 2-3 2-2 2-9 2 22 2-10 2-14 2 17 2 6 2-3 2-11 2-7 2 11 2-5 2 12 2-2 2-6 2-3 2-10 2 16 2-16 2-2 2 14 2-11 2 8 2-11 2-1 2 17 2-9 2 3 2-12 2 7 2-12 2 29 2-24 2 7 2 7 2-3 2-11 2 7 2-7 2-6 2 3 2 0 2 8 2-8 2-11 2 18 2-19 2 7 2 5 2 3 2-12 2 19 2-15 2 1 2-3 2 0 2 13 2 4 2-10 2 12 2 8 2-15 2 1 2-5 2 9 2 9 2-5 2-1 2 9 2-7 2 7 2-5 2-10 2 31 2-20 2 7 2-5 2-1 2 5 2-5 2 5 2-12 2 0 2 11 2-11 2-4 2 11 2-11 2 4 2-7 2 13 2-9 2 9 2 3 2 7 2-8 2 10 2-2 2 2 2-21 2 18 2 11 2-14 2-2 2 3 2-8 2 2 2-1 2-4 2 5 2-10 2-4 2 11 2-7 2 0 2-11 2-2 2 10 2-17 2 14 2 1 2-3 2-7 2 5 2-7 2 10 2-12 2 23 2-20 2 3 2 12 2 1 2 11 2-12 2 10 2 0 2-3 2-5 2 7 2-5 2 3 2-3 2 0 2 3 2 11 2-19 2 7 2-3 2 3 2-11 2 21 2-2 2-8 2 12 2-10 2-5 2 0 2 13 2-12 2 1 2-5 2 10 2-12 2 12 2-10 2 7 2-5 2-3 2 19 2-13 2-6 2 16 2-24 2 5 2-3 2 28 2-16 2 1 2 14 2-19 2 6 2-7 2-9 2 4 2 7 2-6 2 9 2 2 2-8 2-7 2 0 2 0 2 26 2-17 2-3 2 3 2-3 2 12 2-10 2 3 2-1 2 7 2 4 2-19 2 13 2 0 2 1 2-7 2-4 2 16 2-5 2-15 2 12 2 5 2-10 2 1 2-10 2 24 2 1 2-8 2 8 2-6 2 2 2 1 2-9 2 0 2-3 2-9 2 17 2 16 2-29 2 21 2-5 2-9 2-1 2-6 2 13 2-11 2 15 2-4 2-1 2-13 2 8 2-1 2 2 2 5 2-8 2 8 2 16 2-13 2-4 2 0 2 2 2-3 2-7 2-4 2 14 2-13 2 4 2 5 2-4 2-3 2-2 2 9 2-22 2 13 2-5 2 7 2-1 2 2 2 12 2-5 2-4 2-1 2 0 2 4 2-10 2 12 2-11 2 5 2 9 2-19 2 15 2-8 2-8 2 13 2-2 2 5 2-9 2 12 2 1 2-1 2-4 2 3 2 12 2-21 2-12 2 23 2 9 2-6 2-12 2 0 2 7 2-7 2 15 2-8 2 7 2-27 2 26 2-15 2-2 2 17 2 10 2-19 2 9 2-17 2 11 2 4 2-2 2 0 2-5 2 7 2-6 2-14 2-5 2 7 2 17 2-13 2-8 2 3 2 6 2-8 2 11 2-8 2-5 2-3 2 14 2 4 2 1 2-8 2-17 2 23 2 0 2-9 2 12 2-15 2 17 2-29 2 17 2 5 2-6 2 10 2 4 2-14 2 0 2 10 2-4 2-13 2 6 2-3 2 8 2-9 2 9 2-3 2 9 2-12 2 4 2-6 2 2 2 8 2-8 2 4 2 11 2-12 2 12 2-20 2 6 2 17 2-8 2-13 2 11 2-5 2 9 2-15 2 0 2 23 2-24 2 12 2 6 2-12 2 5 2 4 2 6 2-5 2 0 2 1 2-5 2 11 2-22 2 5 2-3 2 0 2-2 2 25 2-15 2 2 2 16 2-23 2 15 2-1 2-6 2 12 2-8 2 2 2 3 2-2 2-8 2-2 2 16 2-5 2-10 2 6 2-15 2 0 2 0 2 6 2-1 2 6 2 13 2 7 2-10 2-1 2 1 2-11 2 0 2 18 2-19 2-3 2 8 2-9 2 7 2 1 2-7 2 7 2-7 2 7 2-3 2-4 2 9 2-18 2 21 2-11 2-2 2 25 2-21 2 10 2-17 2 13 2 4 2 4 2-13 2-4 2 14 2-1 2 17 2-20 2 12 2 0 2-1 2 5 2-10 2 18 2-8 2-9 2-8 2 4 2-1 2-4 2 2 2 11 1-28V1462" stroke="#0072BD" stroke-width="2.8"/><path d="M248 1164l2-8 2-4 2-4 2-6 2-5 2-5 2-5 2-6 2-5 2-4 2-6 2-7 2-3 2-5 2-5 2-5 2-5 2-5 2-5 2-5 2-5 2-5 2-5 2-5 2-5 2-5 2-6 2-4 2-5 2-5 2-5 2-5 2-4 2-7 2-3 2-6 2-3 2-6 2-5 2-4 2-6 2-5 2-5 2-3 2-6 2-6 2-5 2-7 2-3 2-6 2-8 2-3 2-10 2-7 2-4 2-8 2-8 2-3 2-4 2-6 2 0 2-2 2 2 2 2 2-3 2 1 2 2 2 0 2 4 2 3 2-1 2-1 2 3 2 5 2 0 2 1 2 0 2 6 2 1 2 1 2-1 2 3 2-1 2-1 2 4 2 2 2-1 2-4 2 8 2-3 2 3 2-3 2 5 2-2 2 0 2-1 2 2 2 2 2-2 2 4 2-4 2-1 2 2 2-3 2-1 2 0 2-1 2-1 2-1 2-6 2 0 2 1 2-4 2-2 2-4 2 3 2-5 2-1 2-5 2-1 2-4 2 0 2 1 2-5 2-3 2-5 2-1 2-2 2-2 2-5 2-4 2-1 2-4 2-4 2-3 2-4 2-3 2-7 2-5 2-2 2-6 2-8 2-3 2-6 2-6 2-9 2-8 2-7 2-7 2-9 2-12 2-18 2-22 2-25 2-18 2-19 2-14 2-18 2-17 2-18 2-16 2-14 2-18 2-32 2-11 2-14 2-35 2-32 2-22 2 5 2 4 2 0 2-11 2 1 2 2 2-10 2 9 2-10 2-5 2-2 2 12 2-9 2 10 2-24 2 12 2 2 2-1 2-7 2-5 2 20 2-1 2-1 2-18 2 8 2-7 2 2 2 7 2-3 2-11 2 17 2-13 2 8 2 1 2-7 2 13 2-14 2-5 2 15 2-14 2 24 2-3 2-9 2-3 2 8 2 5 2-8 2 4 2 1 2-1 2 4 2-11 2-8 2 3 2 0 2 6 2-7 2-11 2 20 2-11 2 1 2-3 2 5 2-27 2 17 2 8 2 1 2-11 2 1 2-6 2 1 2 3 2-11 2 18 2-12 2-9 2 2 2 20 2-8 2-7 2 5 2 3 2 3 2 1 2-3 2 2 2-4 2 11 2-17 2 10 2-12 2 8 2 3 2-6 2-3 2-4 2 12 2-1 2-8 2 2 2 1 2 5 2 4 2 3 2-6 2-2 2 0 2-3 2 15 2-31 2 23 2-4 2-15 2 14 2-5 2 7 2-10 2 1 2 1 2-11 2 18 2-5 2-8 2 5 2 6 2-1 2-10 2 0 2 9 2-14 2 6 2 10 2 2 2-16 2 4 2 5 2 2 2-3 2 6 2 9 2-22 2 19 2-12 2 7 2-10 2-5 2 13 2-8 2 7 2 4 2 1 2-19 2 11 2-2 2 12 2-9 2 4 2-12 2 12 2-5 2 12 2-7 2-5 2 2 2 5 2 1 2-11 2 8 2 1 2-12 2 6 2-3 2-8 2 6 2 6 2 1 2 2 2-15 2 15 2-3 2 4 2-15 2 12 2 18 2-15 2 9 2-20 2 6 2 4 2 4 2 2 2-7 2-3 2 15 2-4 2-10 2 2 2 13 2-10 2 10 2 0 2-24 2 14 2-12 2-1 2-1 2 18 2-20 2 25 2-2 2-3 2 6 2-12 2-13 2 7 2 6 2-2 2-15 2 17 2 1 2-7 2 6 2-5 2 0 2-9 2 5 2-1 2 8 2-3 2-7 2 6 2 13 2-21 2 8 2 12 2 5 2-10 2 5 2-13 2 3 2 0 2-5 2 12 2 10 2-11 2 1 2 8 2-13 2-4 2 16 2-7 2 10 2-15 2 8 2-11 2 5 2 8 2-9 2 7 2-7 2-4 2 14 2-8 2 18 2-16 2-7 2-2 2-1 2 9 2 9 2-10 2 25 2-28 2 9 2-5 2-6 2 5 2-2 2 3 2 10 2-20 2 17 2 3 2 0 2-10 2 0 2-8 2 18 2-7 2-19 2 6 2 10 2 3 2-15 2 13 2 9 2-14 2 1 2 3 2-8 2 2 2-3 2 12 2-8 2-1 2 9 2-10 2-1 2 0 2 7 2-6 2 3 2-2 2 27 2-16 2-16 2 6 2 17 2-16 2 0 2-15 2 8 2 8 2-11 2 11 2-7 2 7 2-9 2 8 2 5 2 5 2-6 2-16 2 13 2 0 2-2 2 13 2 5 2-23 2 6 2 8 2 6 2 5 2-26 2 21 2-4 2-2 2-5 2-10 2 5 2 21 2-12 2-6 2 1 2 5 2-23 2 18 2 4 2-4 2 4 2 5 2-2 2-11 2-6 2 3 2 23 2-26 2 14 2-10 2 6 2 3 2-12 2-1 2 15 2-9 2-8 2 14 2-17 2 18 2 3 2-15 2 3 2 7 2-13 2 11 2-3 2 2 2 12 2-13 2 4 2 5 2-12 2 2 2 8 2-4 2 0 2 1 2-9 2 5 2-7 2 5 2 7 2-7 2 4 2 4 2-8 2-7 2 25 2-20 2 5 2-4 2 10 2-6 2-5 2 15 2-5 2-4 2 6 2 0 2-4 2 3 2-6 2 9 2-9 2-5 2-5 2 10 2-8 2 3 2 7 2 12 2 6 2-18 2 2 2 4 2-4 2 2 2-20 2 15 2 2 2 8 2-11 2-13 2 15 2-6 2 2 2 6 2 0 2-13 2 0 2 9 2 3 2-5 2 3 2 7 2 6 2-9 2-11 2 8 2-7 2 2 2 10 2-11 2-6 2 2 2 21 2-8 2-7 2-3 2 13 2-16 2 1 2-2 2 8 2 12 2-3 2-6 2 7 2-14 2 11 2-16 2 28 2-8 2-4 2-6 2-8 2 5 2 6 2 6 2-15 2 10 2 4 2-12 2 23 2-11 2-13 2 9 2-5 2 8 2-5 2 4 2 4 2-6 2 10 2-12 2 1 2 15 2-8 2-3 2 9 2-11 2 18 2 6 2-30 2 10 2 2 2-7 2 5 2 1 2 2 2-14 2 13 2 2 2-5 2-9 2 1 2-8 2 6 2 5 2 3 2-22 2 14 2-4 2 4 2-7 2 7 2-9 2 8 2 3 2 12 2-19 2 6 2-14 2 15 2 17 2-10 2-5 2-12 2 4 2 12 2-1 2-5 2 10 2-8 2-4 2-1 2-5 2-5 2 14 2-11 2 1 2 0 2 6 2 3 2-11 2 2 2 9 2-3 2 6 2 2 2-4 2 17 2-7 2-3 2-17 2 15 2 4 2 0 2-8 2 14 2-9 2-1 2 7 2-9 2-6 2 8 2-7 2-2 2 3 2 8 2-13 2-3 2-4 2 4 2 6 2 15 2-13 2 6 2-3 2 3 2 1 2-4 2-4 2 9 2-5 2-6 2-6 2 18 2-1 2-4 2-20 2 14 2 0 2 1 2 3 2-9 2 6 2-8 2 7 2 0 2 2 2-8 2 3 2 7 2-13 2 4 2 14 2-6 2 1 2-9 2 12 2-7 2 5 2 8 2-4 2-4 2 1 2 3 2-5 2 14 2-8 2 0 2-14 2 16 2-21 2 3 2 17 2-11 2 3 2-3 2-12 2 12 2-11 2 7 2 9 2 6 2 4 2-6 2-4 2 11 2 2 2-12 2 7 2-4 2-1 2-5 2 1 2 1 2 2 2-13 2 3 2 15 2-21 2 15 2 2 2-14 2 16V1462" stroke="#A2142F" stroke-width="2.8"/><path d="M248 1187l2-3 2-4 2-6 2-3 2-3 2-5 2-5 2-4 2-4 2-3 2-6 2-3 2-5 2-4 2-4 2-3 2-4 2-4 2-5 2-4 2-3 2-5 2-4 2-4 2-4 2-5 2-5 2-4 2-4 2-3 2-5 2-5 2-4 2-5 2-6 2-3 2-5 2-4 2-4 2-4 2-5 2-5 2-3 2-3 2-5 2-2 2-5 2-2 2-9 2-3 2-3 2-8 2-7 2-7 2-7 2-2 2-6 2-2 2-4 2-2 2-2 2 1 2 1 2-2 2-3 2 5 2 2 2-2 2 1 2 4 2-4 2 3 2-1 2-1 2 0 2 2 2-3 2 0 2 2 2-1 2-2 2 2 2-2 2-2 2 0 2 1 2 1 2-6 2 0 2 1 2-2 2 2 2-6 2 1 2-1 2-1 2-2 2-1 2-3 2-2 2-1 2-5 2 1 2-4 2-2 2-6 2 1 2 0 2-6 2-3 2-9 2 0 2-3 2-7 2-2 2 0 2-4 2-4 2-1 2-3 2 0 2-2 2-3 2-5 2 0 2-1 2-3 2-3 2-1 2-6 2-1 2-6 2-5 2 0 2-5 2-2 2-5 2-6 2-5 2-5 2-4 2-8 2-3 2-8 2-6 2-7 2-10 2-8 2-10 2-14 2-24 2-22 2-21 2-20 2-18 2-16 2-19 2-17 2-20 2-12 2-21 2-19 2-25 2-17 2-22 2-23 2-26 2-2 2-14 2 6 2 12 2-6 2 0 2-8 2-5 2 13 2-13 2-2 2-4 2 16 2-19 2 18 2-14 2-6 2 9 2 0 2-11 2 6 2 1 2-2 2-10 2 20 2-12 2 12 2-11 2-1 2 5 2 0 2 1 2-5 2-6 2 14 2-18 2 11 2 1 2-11 2 2 2-5 2 6 2 2 2-6 2 5 2-10 2-7 2 10 2 0 2 5 2 13 2-30 2 8 2-5 2 6 2-4 2 1 2-2 2 3 2 6 2 0 2-3 2-5 2-8 2 9 2-10 2 7 2-3 2 2 2-9 2-3 2 1 2-1 2 5 2 6 2-10 2 12 2-5 2 4 2-8 2 8 2-7 2 6 2-5 2 2 2-3 2 5 2 10 2-5 2 6 2-3 2 1 2-3 2 10 2-22 2 9 2 13 2-21 2 5 2 12 2 0 2-12 2 11 2-15 2 9 2-12 2 13 2-1 2-9 2 3 2 4 2 4 2-7 2-8 2 14 2-13 2 5 2 9 2-17 2 23 2-16 2-12 2 18 2-14 2 4 2 11 2-21 2 18 2-10 2 11 2-15 2 4 2 10 2-11 2 6 2-3 2 4 2-10 2 13 2 1 2-15 2 13 2 7 2-8 2-10 2 0 2 4 2-3 2 4 2-4 2 11 2-6 2-12 2 20 2-13 2-7 2 14 2-14 2 6 2 23 2-24 2 8 2-5 2 5 2-8 2-5 2 14 2-8 2 12 2-13 2-1 2-5 2-5 2 15 2-3 2-2 2 7 2 10 2-18 2 16 2-6 2 0 2 1 2 3 2-2 2 0 2-18 2 6 2 19 2-19 2 7 2 3 2-3 2-6 2-8 2 6 2 7 2-9 2 5 2 11 2-14 2 10 2 1 2-16 2-4 2 12 2-8 2 4 2 6 2 4 2-15 2 13 2-3 2 3 2-3 2 6 2-2 2 10 2-5 2 3 2 3 2-9 2-1 2 9 2-16 2 6 2-4 2-3 2 9 2 6 2-16 2-3 2 19 2-18 2 4 2 11 2 4 2-3 2 1 2-5 2-7 2 10 2-7 2-5 2 13 2-2 2-20 2 9 2 8 2 11 2-1 2-15 2 5 2-8 2 17 2-7 2 5 2 5 2-26 2 18 2-8 2-3 2 10 2-10 2 15 2-12 2 8 2-1 2-8 2 4 2-4 2 6 2 10 2-10 2 10 2-10 2 0 2-2 2 7 2 7 2-10 2 9 2-7 2 1 2 6 2-2 2 7 2-6 2-1 2-5 2 0 2-4 2 12 2 2 2-12 2 0 2 7 2-9 2-6 2 6 2 8 2-11 2 4 2 19 2-19 2 3 2 1 2 2 2 9 2-1 2-11 2 3 2-3 2-2 2 6 2-1 2-10 2-1 2-2 2 5 2-1 2-5 2 16 2-21 2-2 2 7 2-3 2 0 2 3 2 7 2-1 2-7 2-5 2 6 2-3 2 15 2-14 2 13 2-12 2 0 2 8 2 3 2-2 2 3 2-14 2 0 2 10 2 3 2-10 2 16 2-12 2 9 2-8 2-11 2 4 2-9 2 11 2-1 2-14 2-1 2 7 2 10 2-9 2 4 2 0 2-12 2 9 2-4 2 5 2 11 2 2 2-8 2 8 2 5 2-14 2 16 2 2 2-5 2-4 2 0 2 4 2-6 2-3 2 10 2-7 2 10 2-14 2-2 2 17 2-4 2-8 2-5 2 3 2-12 2 13 2 23 2-13 2-15 2 19 2-1 2-14 2 3 2 2 2-7 2 17 2-17 2 1 2 6 2-20 2 15 2 5 2-7 2 3 2 4 2-5 2-17 2 19 2-2 2 12 2-1 2-8 2 5 2-2 2 1 2-1 2 5 2-6 2 2 2-7 2 12 2-12 2 9 2-15 2 6 2-5 2 7 2 1 2 2 2-2 2 2 2 10 2-17 2 12 2-3 2-1 2 4 2 6 2-28 2 15 2-16 2 3 2 14 2 2 2-9 2 2 2 18 2-25 2 8 2 4 2-6 2-3 2 5 2-9 2 3 2 14 2-13 2 8 2 6 2-11 2 12 2-12 2 23 2-21 2 15 2-7 2-3 2 9 2-1 2 3 2-3 2-13 2 6 2-12 2 11 2 6 2-15 2 7 2-5 2 1 2 18 2-10 2 3 2 0 2-15 2 6 2-6 2 9 2 3 2-10 2 8 2-9 2-7 2 3 2-1 2 3 2 9 2-14 2-7 2 9 2-14 2 11 2 9 2-12 2-6 2 17 2 5 2-1 2-6 2 6 2 4 2-2 2-14 2 11 2-11 2 28 2-6 2-12 2 25 2-19 2 13 2-23 2-5 2 13 2 5 2 0 2 2 2 10 2 9 2-9 2-26 2 27 2-6 2 0 2 2 2 10 2-10 2 2 2-3 2 3 2-5 2-5 2 15 2-9 2-5 2 14 2-17 2 10 2-17 2 12 2-12 2 6 2-7 2 12 2 1 2-1 2-6 2 7 2 1 2-10 2-2 2 4 2 9 2-15 2 21 2-26 2 23 2-15 2 3 2-4 2 6 2-7 2-3 2 11 2-11 2 2 2 19 2-22 2 25 2-21 2-1 2 13 2-6 2 10 2-11 2 6 2-9 2-7 2 16 2-15 2 4 2-11 2 8 2-2 2 3 2 12 2-1 2-10 2 8 2 0 2 11 2-9 2-6 2 25 2 0 2-21 2-6 2 9 2 0 2 11 2-16 2 1 2 10 2-2 2 0 2 2 2-21 2 18 2 0 2-8 2 0 2 0 2-9 2 16 2-17 2 11 2-7 2-8 2 7 2-7 2 11 2 5 2-5 2-5 2 3 2-5 2 9 2-3 2 1 2-8 2 1 2-8 2 3 2-1 2 8 2-14 2 26 2-15 2 4 2-13 2-9 2 8 2 8 2 15 2-15 2-1 2 11 2-3 2-5 2 13 2-20 2 22 2-4 2 8 2-2 2-4 2 17 2-6V1462" stroke="#7E2F8E" stroke-width="2.8"/><path d="M248 1150l2-5 2-7 2-4 2-7 2-6 2-5 2-5 2-7 2-4 2-7 2-4 2-6 2-5 2-6 2-4 2-7 2-6 2-6 2-2 2-8 2-5 2-6 2-5 2-7 2-5 2-5 2-7 2-3 2-7 2-5 2-6 2-5 2-6 2-7 2-5 2-4 2-7 2-6 2-3 2-8 2-4 2-7 2-6 2-4 2-7 2-4 2-4 2-7 2-5 2-4 2-9 2-6 2-8 2-9 2-8 2-6 2-6 2-8 2-3 2-4 2-2 2-1 2 2 2 2 2 2 2-2 2 7 2 2 2 1 2 4 2 6 2 2 2 3 2-1 2 1 2 2 2 3 2 4 2 1 2-2 2 1 2 5 2-3 2 4 2 0 2-1 2 3 2-3 2 0 2 1 2 4 2-4 2 2 2 2 2-1 2 3 2-2 2 0 2-3 2-3 2-2 2-2 2-8 2-2 2 0 2-3 2-2 2 4 2 4 2 9 2 7 2 2 2 1 2 3 2 2 2 3 2-1 2 4 2 2 2 0 2 1 2 0 2 0 2 1 2 0 2 0 2-2 2 0 2 1 2 0 2-1 2-2 2-2 2-5 2-5 2-11 2-7 2-9 2-11 2-11 2-10 2-12 2-13 2-13 2-17 2-20 2-23 2-22 2-22 2-19 2-19 2-19 2-16 2-16 2-20 2-16 2-19 2-19 2-19 2-19 2-21 2-28 2-16 2-15 2 7 2-8 2 5 2-6 2-7 2 9 2 0 2 6 2-3 2-5 2-12 2 5 2 4 2-5 2 3 2-5 2-7 2 25 2-30 2 14 2 1 2-15 2 1 2 8 2-2 2 2 2-3 2-3 2-10 2 24 2-6 2-6 2-10 2-11 2 4 2 7 2-6 2 13 2-24 2 15 2-13 2-2 2 1 2-3 2 21 2-13 2-4 2 10 2 2 2-2 2 0 2-2 2 10 2-7 2-5 2-4 2 2 2-21 2 19 2 17 2-10 2 15 2-23 2 7 2 5 2 15 2-5 2-21 2 0 2-6 2 10 2 0 2-15 2 7 2 2 2 9 2-25 2 20 2-15 2 12 2-4 2 5 2-9 2-6 2 13 2 3 2-15 2 15 2 8 2-10 2 3 2 7 2-2 2 15 2-26 2-1 2-9 2 13 2 4 2-3 2-6 2-2 2 5 2 14 2-11 2 0 2-5 2 5 2 3 2-19 2 11 2-11 2 13 2-6 2-1 2 1 2-8 2-7 2 3 2 5 2 6 2-5 2-8 2 6 2-2 2 19 2-13 2 3 2 4 2-14 2 19 2-13 2 2 2-2 2-4 2 22 2-29 2 13 2-5 2 4 2 1 2-10 2 14 2-9 2-10 2-2 2 23 2-14 2 21 2-9 2 3 2-16 2 4 2 9 2-1 2-2 2-14 2 11 2-12 2 26 2-9 2-7 2-7 2 16 2-5 2-8 2 0 2 23 2-20 2 17 2-17 2-5 2-1 2 15 2-2 2-10 2 12 2 4 2-6 2-3 2 4 2 2 2 14 2-10 2-5 2-18 2 12 2 10 2 1 2 7 2-3 2-23 2 9 2 11 2-13 2 9 2-10 2 0 2-6 2 21 2-10 2 6 2-9 2 11 2-9 2 7 2 2 2 6 2-18 2-4 2 7 2 4 2-14 2 12 2 5 2-11 2-7 2 3 2 8 2-2 2-14 2 20 2-12 2 12 2-4 2-4 2 0 2 6 2 2 2 0 2-5 2-1 2-4 2 5 2 7 2-3 2-10 2 2 2 2 2-11 2 6 2 13 2-13 2-4 2 10 2 6 2-3 2-5 2-4 2 10 2-8 2 2 2-1 2-4 2-1 2 20 2-16 2-9 2 12 2 7 2 7 2-16 2 4 2-4 2-4 2 13 2-13 2 17 2-20 2 4 2-3 2-3 2-2 2 2 2 2 2 11 2 1 2 12 2-11 2-1 2 7 2-12 2 13 2-9 2 1 2-3 2-16 2 21 2-11 2-9 2 10 2-2 2 12 2-12 2 14 2-11 2 6 2-11 2 16 2 6 2-14 2 2 2 4 2 5 2-11 2 11 2-1 2-6 2 14 2 1 2-9 2-5 2 0 2 3 2 8 2-5 2-13 2 16 2-7 2 2 2-7 2-4 2 3 2-3 2-14 2 5 2 21 2-11 2-6 2 7 2-9 2-8 2 16 2 0 2-14 2 13 2 11 2-12 2-1 2-2 2-14 2 24 2-2 2-4 2-9 2 3 2-1 2 6 2 15 2-4 2 8 2 3 2-8 2-15 2 14 2 0 2 1 2 1 2-5 2 13 2-25 2 6 2-2 2 7 2-3 2 5 2-7 2 16 2-20 2 10 2 3 2-15 2 12 2 3 2-16 2 12 2-2 2-13 2 13 2 4 2-10 2 3 2 10 2 1 2-12 2 3 2 2 2 12 2-12 2-19 2 11 2 0 2-1 2-2 2 1 2-8 2 15 2-15 2 3 2 7 2 3 2 4 2 5 2 4 2-4 2 9 2-10 2-8 2 5 2 2 2-12 2 9 2 10 2-5 2-5 2-6 2 9 2 4 2-5 2-2 2 10 2-10 2-18 2 21 2 0 2-4 2-3 2 9 2-14 2 2 2 7 2 15 2-33 2 9 2 0 2 13 2-10 2 2 2 4 2-8 2 18 2-15 2 19 2-3 2-17 2 10 2-17 2 13 2-2 2-4 2 9 2-8 2 6 2-7 2-2 2 6 2-1 2-6 2 8 2-4 2-2 2 1 2-6 2 9 2 2 2-2 2 1 2-5 2 2 2 15 2-15 2 13 2 0 2-5 2-1 2 5 2 2 2-3 2-12 2 11 2-12 2 1 2 7 2 2 2-7 2 2 2 5 2-8 2-3 2-10 2 9 2 7 2 10 2-8 2 8 2-9 2-10 2 12 2 13 2-26 2 13 2 3 2-9 2-12 2 4 2 9 2 3 2-8 2 13 2-8 2-6 2 7 2 2 2-10 2 4 2 18 2-15 2 13 2-1 2-11 2 5 2 4 2-5 2 7 2-17 2 16 2-10 2 14 2 2 2-13 2 19 2-5 2-22 2 16 2 1 2 5 2-6 2-1 2 11 2-9 2-10 2 10 2-7 2 10 2-11 2 6 2-18 2 31 2-34 2 16 2 0 2 3 2 0 2 3 2-10 2 2 2-3 2-16 2 10 2-9 2 22 2-5 2 0 2 4 2 4 2-20 2 6 2 4 2-4 2-6 2 13 2 1 2-10 2 3 2-2 2 11 2 8 2-7 2-11 2 6 2 5 2-5 2-1 2 3 2-10 2 22 2-12 2 3 2-13 2-1 2 14 2-9 2 12 2 4 2-1 2-4 2 3 2 3 2-19 2 18 2-5 2-1 2-10 2 2 2 7 2-5 2 0 2 5 2-6 2-3 2 8 2-8 2 8 2-9 2-2 2 5 2 0 2-2 2 3 2 0 2 5 2 4 2 6 2-17 2 12 2-21 2 30 2-16 2-1 2 12 2-16 2 3 2 11 2 16 2-23 2 14 2-7 2 2 2 1 2-8 2 8 2-12 2 2 2-2 2-2 2 4 2 5 2-4 2 7 2-27 2 8 2-2 2 10 2-6 2 0 2 25 2-12 2-5 2-6 2-12 2 9 2 12 2-10 2 5 2-12 2 14 2-10 2 2 2 13 2-2 2-19 2 26 2-8 2-11 2 14 2-8 2-13 2 16 2-3 1 3V1462" stroke="#0072BD" stroke-width="2.8"/><path d="M248 1214l2-3 2-5 2-6 2-2 2-5 2-4 2-4 2-4 2-5 2-5 2-3 2-4 2-4 2-5 2-5 2-3 2-3 2-4 2-4 2-5 2-2 2-4 2-4 2-5 2-3 2-3 2-4 2-4 2-5 2-4 2-4 2-4 2-2 2-5 2-4 2-4 2-3 2-5 2-3 2-7 2-2 2-5 2-3 2-2 2-8 2-3 2-9 2 1 2-5 2-5 2-6 2-7 2-3 2-4 2-4 2-5 2-4 2-4 2-8 2 1 2 1 2-5 2-2 2 5 2-1 2-2 2 0 2 3 2-5 2 6 2-4 2-1 2 0 2-2 2 4 2-4 2-5 2 1 2-1 2 1 2-6 2 0 2 1 2-2 2-4 2-1 2-5 2 4 2-5 2-4 2 0 2-2 2-3 2 2 2-4 2 5 2-1 2-2 2-4 2 2 2-2 2-5 2-4 2-2 2-3 2-3 2-5 2-1 2-8 2-3 2-5 2-8 2-1 2-5 2-7 2 0 2-6 2-1 2-2 2-3 2 0 2-3 2-1 2-4 2 3 2-4 2-5 2-5 2-1 2-3 2-5 2-1 2-3 2-5 2-5 2-2 2-6 2-4 2-3 2-5 2-5 2-4 2-8 2-7 2-4 2-8 2-5 2-11 2-9 2-9 2-10 2-20 2-23 2-21 2-21 2-19 2-16 2-16 2-17 2-22 2-15 2-15 2-19 2-21 2-15 2-32 2-21 2-11 2-20 2 10 2 11 2-11 2 4 2-19 2 3 2 20 2-26 2 7 2-13 2 11 2-9 2-1 2-9 2 9 2 4 2-2 2 5 2-16 2 1 2 12 2 4 2-4 2 6 2-10 2 7 2 2 2-7 2 2 2 1 2 1 2-15 2 15 2 0 2-3 2 9 2-20 2 16 2-21 2 9 2 3 2-20 2 15 2 1 2 2 2-4 2-2 2 8 2 2 2-6 2 3 2 7 2-17 2-6 2 8 2 2 2 10 2-15 2 3 2 14 2-22 2 6 2-10 2 5 2 4 2-11 2 7 2 6 2-3 2-6 2 1 2-6 2 6 2-6 2 1 2 0 2 5 2-3 2-10 2 2 2 14 2 2 2-17 2 3 2 7 2 2 2-15 2 8 2-4 2 3 2-1 2 0 2-4 2-1 2 7 2-8 2-5 2 0 2 0 2 18 2-4 2-13 2 4 2 3 2 11 2-19 2 9 2 6 2 1 2-9 2 20 2-14 2 7 2-1 2 1 2-8 2-5 2 13 2-12 2 12 2-10 2 0 2 15 2-10 2-1 2-2 2-2 2 15 2-5 2-9 2 11 2-8 2 2 2 7 2-4 2 17 2-13 2 2 2 1 2-4 2-1 2-3 2 12 2-13 2-11 2 6 2 0 2-9 2 5 2 5 2-6 2 6 2-5 2-3 2-14 2 19 2-7 2-1 2-5 2 16 2-7 2-18 2 19 2 4 2-7 2-5 2 10 2-5 2 1 2 0 2-5 2 17 2 0 2-12 2-1 2 5 2 7 2-12 2-3 2 2 2 12 2-3 2-10 2 5 2 6 2-3 2 2 2-8 2 7 2-1 2 9 2-4 2-11 2 13 2 6 2-14 2-8 2-4 2 8 2-13 2 11 2 4 2 6 2-12 2 10 2 15 2-20 2 7 2-4 2 13 2-14 2 9 2-18 2 12 2-11 2 3 2 5 2 0 2 12 2-10 2 4 2-13 2 3 2 18 2-19 2 2 2-8 2 7 2 0 2 7 2-6 2-4 2 11 2-10 2 12 2 3 2-4 2-3 2-8 2 23 2-5 2-15 2 6 2-1 2-9 2 13 2-8 2 6 2-1 2-11 2 6 2-5 2 0 2 4 2-7 2 0 2 1 2-1 2 7 2-11 2 1 2 5 2 3 2 0 2 16 2-16 2 16 2-10 2 0 2 10 2-18 2-3 2 14 2-7 2-3 2 10 2-7 2 8 2 13 2-3 2-13 2 4 2-5 2 6 2-2 2 6 2 0 2-15 2 13 2 8 2-14 2 14 2-11 2-17 2 11 2 1 2-14 2 7 2-10 2 14 2 1 2-20 2 21 2-18 2 19 2-15 2 23 2-18 2 7 2-4 2-14 2 16 2-1 2-6 2 9 2-6 2 7 2-20 2 9 2 12 2-18 2 14 2-2 2 5 2 12 2-15 2-1 2-10 2 7 2 0 2 4 2 2 2-16 2 19 2 6 2-13 2 18 2-10 2 10 2-13 2-9 2-9 2 15 2 0 2 10 2-11 2-2 2 15 2-13 2-1 2 2 2 3 2-14 2 11 2-5 2 8 2 1 2-11 2 11 2-9 2-10 2 13 2-10 2 16 2-16 2 1 2-2 2 7 2-15 2 16 2 4 2-10 2 7 2 1 2 6 2 3 2-11 2 3 2 15 2-7 2 6 2-12 2 9 2 15 2-22 2-1 2 8 2-7 2-3 2 7 2 10 2-8 2-6 2 17 2-20 2 3 2-9 2-4 2 0 2 16 2-4 2-7 2-5 2 1 2 8 2-12 2 0 2 12 2 13 2-13 2-3 2 11 2-7 2-4 2 11 2 6 2-21 2 0 2 1 2 8 2-2 2 2 2-16 2 21 2-7 2 3 2-5 2 7 2 0 2 7 2-13 2 8 2 0 2-9 2 10 2 9 2-10 2-20 2 16 2-6 2 15 2-7 2-2 2 7 2-7 2 1 2 3 2-3 2 13 2 0 2 5 2 1 2 3 2-6 2 2 2-3 2 1 2 4 2 1 2 12 2-15 2 12 2-22 2 14 2-3 2-6 2 3 2-17 2 7 2 8 2-2 2-23 2 21 2-10 2-1 2 9 2 3 2 6 2-6 2-11 2 0 2 12 2-19 2 9 2-6 2 13 2-10 2-2 2 3 2-5 2 3 2-4 2 8 2-13 2 3 2-8 2 3 2 5 2 0 2-8 2 9 2 9 2-10 2 1 2-6 2 26 2-18 2 0 2 12 2-6 2-7 2 10 2-8 2 4 2-10 2 5 2 11 2-11 2 5 2 3 2 3 2-5 2 5 2-3 2 7 2-9 2 13 2-12 2 9 2-11 2 13 2 3 2-2 2 3 2 6 2-13 2 5 2-4 2-14 2 10 2 3 2 5 2-7 2-1 2 1 2 10 2-18 2 5 2 5 2-7 2-1 2 4 2-16 2 8 2 11 2-6 2-25 2 29 2-9 2-4 2-11 2 5 2 14 2 1 2-6 2 13 2-11 2 5 2 11 2-29 2 34 2-20 2 12 2-2 2 3 2-8 2 7 2-17 2 14 2-4 2 2 2-5 2-8 2 16 2-11 2 3 2 11 2-26 2 0 2 14 2 9 2-11 2-3 2 8 2-5 2 15 2-5 2 1 2 2 2 12 2-15 2-13 2 30 2-14 2 4 2-15 2 14 2-9 2-1 2-3 2 1 2 19 2-14 2-6 2-1 2 10 2-8 2 0 2 5 2-5 2-8 2 0 2-3 2 21 2-17 2 13 2 0 2-12 2 24 2-18 2 17 2 1 2-11 2-1 2 2 2 0 2-4 2 6 2-6 2 5 2-8 2 7 2-12 2 9 2-7 2-5 2 16 2-4 2-4 2 4 2 11 2-9 2 0 2-13 2 18 2-26 2-13 2 16 2-10 2 6 2 4 2 1 2 0 2 5 2 7 2-8 2 2 2 6 2-11 2 19 2 7 2-10 2-5 2 14 2-17 2 8 1 6V1462" stroke="#D95319" stroke-width="2.8"/><path d="M248 1432l2-2 2-4 2-2 2-3 2-2 2-1 2-2 2-2 2-2 2-1 2-2 2-2 2-2 2-2 2-2 2-2 2-2 2-2 2-3 2 0 2-2 2-2 2-2 2-3 2 1 2-2 2-2 2-1 2-3 2-1 2-2 2 0 2-3 2-1 2-2 2-2 2-2 2-1 2-2 2-2 2-1 2-3 2-2 2-3 2-1 2-3 2-1 2-4 2-1 2-3 2-4 2-2 2-3 2-2 2-3 2-2 2-4 2-3 2-2 2-3 2-3 2-3 2-2 2-3 2-2 2-4 2-1 2-4 2-2 2-2 2-3 2-6 2-1 2-3 2-2 2-4 2-2 2-3 2-3 2-2 2-4 2-3 2-4 2-1 2-4 2-4 2-3 2-3 2-4 2-4 2-3 2-4 2-2 2-6 2-2 2-4 2-4 2-5 2-4 2-3 2-5 2-2 2-5 2-3 2-3 2-4 2-4 2-4 2-4 2-4 2-3 2-4 2-5 2-4 2-5 2-4 2-4 2-5 2-4 2-6 2-3 2-6 2-5 2-7 2-5 2-7 2-7 2-6 2-8 2-9 2-8 2-10 2-8 2-10 2-11 2-10 2-13 2-12 2-11 2-14 2-14 2-15 2-17 2-17 2-21 2-20 2-22 2-26 2-26 2-25 2-25 2-24 2-29 2-26 2-27 2-27 2-32 2-30 2-28 2-30 2-23 2-23 2-12 2 3 2-15 2 11 2 0 2-6 2-4 2 11 2-4 2 3 2-9 2-1 2 6 2-13 2 14 2-22 2 26 2-15 2-2 2 5 2 6 2-2 2-3 2-3 2-5 2 12 2-20 2 4 2 3 2-9 2 4 2 11 2-12 2 11 2-27 2 10 2 6 2-20 2 7 2-9 2-2 2 9 2-3 2-19 2 5 2 16 2-14 2 6 2 0 2 10 2-2 2 17 2-14 2-2 2 10 2-3 2-10 2 7 2-14 2 10 2-6 2 4 2-9 2 6 2-9 2 0 2 15 2 1 2-14 2 14 2 0 2-18 2 0 2 7 2-1 2-5 2 12 2-14 2-3 2 10 2-7 2-1 2 0 2-3 2-6 2 23 2-22 2 15 2-9 2 8 2-4 2-4 2 8 2-7 2 1 2-5 2 0 2-1 2 8 2 3 2 4 2-6 2 3 2 12 2-18 2-3 2 8 2-9 2-3 2 13 2-9 2 8 2-3 2-20 2 14 2-6 2-6 2 6 2-5 2 6 2-4 2-2 2 2 2 3 2 21 2-16 2 12 2-16 2 10 2 10 2-5 2-1 2 3 2-10 2 22 2-21 2 1 2 16 2-6 2-9 2 0 2 11 2-14 2 13 2-5 2 6 2-5 2 3 2-5 2 5 2-5 2-1 2 1 2 7 2-22 2 1 2 13 2-1 2-14 2 7 2 1 2-1 2 2 2 9 2-2 2-9 2 5 2 0 2 7 2-20 2 18 2 0 2-4 2-7 2-8 2 15 2-7 2 6 2 1 2 13 2-22 2 3 2 12 2-18 2 3 2 9 2-4 2-3 2-12 2 17 2-14 2 4 2 9 2-18 2 3 2-1 2 7 2 15 2-13 2 3 2-6 2 0 2-3 2 8 2 3 2 5 2 1 2-1 2-18 2 29 2-21 2 8 2 11 2-9 2 6 2-12 2 7 2-3 2 0 2 8 2 2 2-2 2 7 2-9 2 3 2 6 2-14 2 7 2-5 2 4 2 1 2-6 2-16 2 24 2-11 2 2 2 0 2-16 2 10 2 0 2 1 2 11 2-4 2-8 2-11 2 4 2 15 2-15 2 3 2-4 2 9 2-5 2 9 2-9 2-3 2 7 2-2 2-1 2-1 2 4 2-1 2 5 2 15 2-18 2-2 2 11 2-9 2-1 2 11 2-13 2 3 2-8 2 8 2-3 2 10 2-7 2 13 2-10 2-8 2 10 2 4 2 1 2 1 2-6 2 6 2-4 2 5 2 4 2-14 2-8 2 13 2-10 2 9 2 6 2-2 2 0 2-3 2 10 2-4 2 8 2-21 2 13 2-2 2-3 2 20 2-10 2-5 2 14 2-17 2 9 2-3 2 15 2-38 2 0 2-7 2 17 2-15 2 20 2 5 2-27 2 2 2 5 2 0 2 6 2-5 2 14 2-9 2 4 2-16 2 2 2 8 2 2 2 6 2 6 2-8 2 3 2-13 2 16 2-5 2 7 2-12 2 8 2 2 2-1 2 2 2-11 2 10 2-5 2-11 2 22 2-18 2-11 2 21 2-3 2-1 2-2 2 2 2-7 2 21 2-17 2-3 2 0 2-12 2 6 2-4 2 3 2-3 2-7 2 4 2 20 2-12 2-3 2 0 2 1 2 2 2 4 2 1 2-11 2 6 2-1 2 16 2-4 2 3 2 2 2-10 2 6 2-2 2 19 2-16 2-12 2 2 2 24 2-20 2-4 2 1 2-6 2 14 2 11 2 4 2-24 2 12 2-15 2 18 2-20 2 9 2 9 2-9 2-9 2 3 2 2 2 10 2-3 2 0 2-8 2 4 2 8 2-4 2-12 2 22 2 2 2-1 2-17 2 23 2-21 2 3 2-1 2 10 2-12 2 13 2 2 2-7 2-9 2-1 2 2 2 2 2-4 2 8 2 4 2-7 2 10 2-14 2 13 2-3 2-5 2 10 2 2 2-2 2-12 2 13 2-11 2-1 2 9 2-15 2 10 2 7 2-8 2-4 2 0 2 4 2-19 2 17 2-3 2 1 2-9 2 2 2-2 2-3 2 20 2-8 2-4 2 11 2-9 2 5 2 6 2 3 2-5 2 2 2 1 2-2 2 15 2-18 2 8 2 6 2-9 2 9 2-1 2-17 2 4 2 3 2-5 2 10 2-3 2-10 2 5 2-3 2-11 2 16 2-21 2 21 2-3 2-7 2 0 2-1 2 6 2-3 2-3 2 4 2-2 2-2 2 10 2-11 2-2 2-10 2 22 2-7 2-11 2 16 2 11 2-8 2 1 2-17 2 9 2-4 2 5 2 5 2-17 2 6 2-7 2 16 2-7 2-4 2-7 2 9 2 2 2 6 2-2 2 4 2 12 2-8 2-7 2 2 2 17 2-3 2-14 2-6 2 1 2-2 2-1 2 19 2-9 2 7 2-4 2-6 2-2 2 5 2-7 2-7 2 15 2-14 2 4 2 2 2-10 2 10 2 2 2 2 2 1 2 3 2-15 2 5 2 10 2-16 2 15 2-2 2-11 2-6 2 13 2 5 2-10 2 2 2 3 2-7 2 1 2 9 2 0 2-2 2 9 2-11 2 0 2-3 2 11 2-4 2-7 2-7 2 24 2-2 2 1 2-17 2 22 2-19 2-9 2 19 2-5 2 3 2-2 2 0 2-4 2 3 2-9 2 1 2 11 2-6 2 1 2 1 2-11 2 18 2-4 2 1 2-8 2 14 2-7 2-3 2-10 2 8 2 6 2-10 2-4 2 14 2-2 2 1 2 7 2-2 2 0 2-7 2 9 2-5 2 13 2-21 2-5 2 14 2 12 2-16 2 7 2-14 2 16 2-12 2 5 2-1 2 10 2-7 2-2 2-4 2 9 2-5 2 1 2-4 2-9 2 10 2-1 2 6 2-14 2-4 2 11 2 10 2-14 2 10 2-5 2 8 2-12 2 14 2-6 2 2 2-17 2 7 2 10 2 3 2 4 2-16 2-3 2 8 2 1 2-8V1462" stroke="#EDB120" stroke-width="2.8"/><path d="M248 1182l2-3 2-5 2-5 2-3 2-7 2-4 2-3 2-6 2-5 2-5 2-3 2-6 2-5 2-5 2-3 2-6 2-3 2-7 2-3 2-6 2-4 2-5 2-4 2-5 2-4 2-4 2-5 2-4 2-7 2-3 2-6 2-4 2-5 2-5 2-5 2-5 2-5 2-3 2-7 2-5 2-4 2-4 2-5 2-4 2-3 2-6 2-5 2 0 2-9 2-3 2-8 2-4 2-3 2-4 2-10 2-6 2-3 2-4 2-4 2-3 2 2 2-2 2 0 2-4 2 2 2-3 2 4 2-2 2 0 2 1 2-3 2 0 2 4 2-2 2 4 2-2 2-1 2 3 2 1 2 3 2 1 2 2 2-1 2 2 2 4 2 0 2-4 2 1 2-1 2 2 2-2 2-1 2 1 2-3 2 1 2 1 2 0 2-2 2-3 2 1 2-2 2-3 2-4 2-4 2-3 2-2 2-4 2-3 2-3 2 1 2-7 2-2 2-5 2-2 2 2 2-5 2-3 2-1 2 0 2-3 2-4 2-1 2-2 2-2 2-4 2-1 2-5 2-6 2 2 2-4 2-5 2-3 2-1 2-6 2-3 2-5 2-2 2-6 2-4 2-5 2-8 2-6 2-6 2-7 2-4 2-7 2-7 2-11 2-8 2-14 2-19 2-26 2-21 2-19 2-18 2-16 2-17 2-14 2-21 2-15 2-18 2-17 2-16 2-18 2-27 2-23 2-1 2 6 2-9 2 21 2-20 2 8 2-4 2 6 2-13 2-10 2 8 2-14 2-4 2 17 2-7 2-5 2-1 2-9 2 6 2 1 2-13 2 9 2 16 2-8 2-5 2-2 2-13 2 11 2 3 2 0 2-9 2 8 2-20 2 15 2-21 2-4 2 15 2 6 2-13 2 19 2-15 2-6 2 5 2-1 2 6 2-20 2 13 2-5 2 1 2 6 2 2 2-2 2-10 2 11 2 2 2-11 2 5 2-3 2 8 2-7 2-5 2-5 2 7 2 2 2-12 2 19 2-6 2-1 2-4 2-1 2 9 2 3 2-10 2 0 2-14 2 15 2 8 2-4 2-3 2-16 2 16 2-17 2 16 2-3 2 9 2-13 2 19 2-17 2 1 2 1 2 7 2-8 2 21 2-6 2-3 2-5 2-7 2-4 2 10 2-3 2-9 2 2 2-14 2 11 2 11 2-16 2 4 2 16 2-28 2 15 2-2 2-3 2 0 2-7 2 12 2-5 2-4 2 11 2 2 2-5 2 5 2-13 2-4 2 17 2-3 2-1 2-2 2-4 2 7 2 3 2-4 2-4 2 7 2 4 2-25 2 4 2 15 2-3 2-6 2-7 2 10 2-17 2 16 2-10 2 1 2 3 2-11 2 8 2 0 2 6 2-13 2 19 2 2 2 5 2-8 2-7 2-1 2-1 2 8 2 3 2-9 2 3 2 0 2-8 2 20 2-9 2 12 2-17 2 12 2-8 2 3 2 10 2-12 2 7 2-21 2-2 2 17 2-4 2 11 2-17 2 16 2-14 2 0 2 0 2 2 2 10 2-3 2 8 2 6 2-19 2 7 2-2 2-7 2 17 2-3 2-1 2-14 2 12 2 9 2-13 2 6 2-1 2 2 2-7 2-5 2 4 2 7 2-12 2 7 2 8 2-14 2 2 2 4 2-7 2-6 2 3 2-6 2 0 2 13 2-1 2-2 2-7 2 5 2-6 2 3 2 13 2-19 2 1 2 12 2 3 2-8 2 12 2-13 2 17 2-24 2 13 2 6 2 8 2 5 2-7 2-9 2 7 2-2 2 5 2-5 2 3 2 3 2-6 2-3 2 7 2-6 2 6 2-10 2-8 2 6 2 3 2-19 2 6 2 13 2-11 2 5 2 4 2 3 2 5 2-9 2-9 2 4 2-7 2 11 2-2 2 9 2 0 2-5 2 0 2-6 2 2 2 17 2-12 2-1 2 6 2-6 2-10 2 13 2-12 2 0 2-9 2 23 2-11 2 7 2-11 2 10 2-9 2 8 2 3 2-1 2 5 2-19 2 22 2-7 2 23 2-8 2 2 2-6 2 4 2-5 2-15 2 13 2 9 2-16 2 0 2 6 2-8 2-4 2-8 2 9 2-6 2 7 2 3 2-1 2 6 2 1 2-14 2 10 2-5 2-1 2 15 2-14 2-6 2 5 2 3 2 0 2 3 2 4 2-3 2-3 2-13 2 12 2 2 2-2 2-13 2 8 2-14 2 18 2-5 2 18 2-17 2 8 2-2 2 17 2-8 2-4 2 7 2-16 2 14 2 6 2-23 2 4 2-4 2 7 2-1 2-7 2 0 2 5 2 5 2 3 2 5 2-16 2-5 2 8 2-8 2 13 2-6 2 9 2 0 2-7 2 0 2-4 2-10 2 6 2 7 2-8 2-2 2 18 2-11 2 0 2 1 2 3 2 2 2 6 2-14 2 8 2 17 2-4 2 7 2-21 2 8 2-6 2 3 2 7 2 4 2 10 2-22 2 0 2-9 2 10 2-16 2 14 2 8 2-2 2-13 2-9 2 17 2-9 2-6 2-12 2 19 2 7 2-18 2 15 2-5 2 1 2-1 2-7 2 7 2 16 2-18 2 0 2-1 2 19 2-12 2 6 2-18 2 0 2 20 2-23 2 13 2 2 2 1 2 12 2-13 2 7 2 1 2-5 2-6 2 2 2 3 2 0 2-16 2 18 2-13 2 14 2 2 2-16 2 0 2 8 2 1 2 4 2-2 2-1 2-11 2 15 2-12 2 13 2-8 2-5 2 4 2 4 2-5 2 14 2-3 2-9 2-4 2 14 2-10 2 1 2-4 2-5 2 16 2-4 2-8 2 4 2 6 2 3 2-8 2 0 2 11 2-19 2 0 2 10 2-12 2 17 2-15 2 2 2-6 2 7 2 14 2-4 2-12 2 7 2-13 2 16 2 7 2-15 2 9 2 12 2-4 2-12 2 3 2-9 2 12 2-2 2-5 2 7 2-11 2 13 2 3 2-2 2-8 2 4 2 12 2-25 2 13 2-9 2 5 2 2 2 11 2-13 2 6 2-3 2 4 2 2 2 6 2-6 2 0 2-1 2 2 2-2 2-1 2 0 2 8 2-20 2-5 2 9 2-9 2 21 2-1 2-15 2 8 2-3 2 0 2 14 2-10 2-8 2 6 2-7 2 6 2 4 2-4 2-4 2-9 2 6 2-11 2 18 2-3 2 2 2-1 2-2 2-3 2 10 2 0 2-9 2 0 2 0 2 7 2-11 2 1 2-2 2-9 2 7 2 1 2 7 2 1 2 4 2-15 2 18 2-5 2-16 2 2 2 20 2-17 2 9 2 2 2-9 2 1 2 9 2 4 2-8 2 25 2-23 2 10 2 1 2 9 2-20 2 1 2-6 2 4 2-9 2 16 2 7 2 1 2-6 2-4 2 8 2-2 2 1 2-5 2-17 2 12 2 3 2 2 2-7 2-4 2-3 2 2 2 7 2 5 2 3 2-9 2 3 2-9 2 5 2 13 2-4 2-11 2 0 2 0 2-1 2 18 2-3 2-12 2 1 2 2 2-1 2 4 2-13 2 9 2 0 2 11 2-3 2-11 2 5 2-1 2-2 2 7 2-4 2-19 2 31 2-15 2-3 2 1 2 5 2-12 2 4 2 8 2-4 2 3 2-5 2 3 2-14 2 17 2-5 2-6 2 25 2-18 2-2 2 13 1-9V1462" stroke="#77AC30" stroke-width="2.8"/><path d="M248 1173l2-6 2-4 2-7 2-3 2-6 2-5 2-6 2-3 2-7 2-6 2-4 2-7 2-4 2-4 2-6 2-6 2-4 2-4 2-6 2-4 2-6 2-6 2-4 2-5 2-5 2-5 2-5 2-5 2-6 2-5 2-6 2-4 2-6 2-5 2-6 2-5 2-5 2-5 2-6 2-6 2-3 2-8 2-3 2-7 2-5 2-5 2-3 2-10 2-3 2-6 2-5 2-10 2-2 2-9 2-3 2-9 2-6 2-6 2-3 2-1 2-3 2-1 2-2 2-1 2 5 2 3 2-3 2 2 2-2 2 1 2-2 2 4 2-5 2 3 2 4 2 2 2 2 2 7 2-1 2 7 2 4 2 5 2 5 2-1 2 0 2 0 2-1 2 1 2-3 2-1 2-2 2 0 2-4 2-4 2 1 2-5 2 1 2-1 2 2 2-3 2-3 2 2 2-3 2 3 2-2 2-1 2 2 2-3 2 1 2-4 2-1 2 3 2-2 2 0 2-5 2-1 2 6 2-5 2-2 2 0 2-3 2-5 2-1 2-1 2-2 2-2 2-5 2-4 2-4 2-2 2-5 2-2 2-3 2-6 2-3 2-6 2-4 2-5 2-8 2-6 2-7 2-8 2-9 2-9 2-14 2-17 2-23 2-23 2-20 2-24 2-16 2-17 2-19 2-14 2-17 2-14 2-20 2-19 2-19 2-20 2-22 2-16 2 0 2 0 2-2 2 3 2-6 2-1 2 7 2-5 2-1 2-3 2 5 2-14 2 11 2-17 2 13 2-3 2-2 2-8 2 2 2 4 2 3 2-11 2 0 2 2 2-2 2-11 2 3 2 9 2-2 2-23 2 21 2 4 2-3 2-7 2 0 2 9 2-4 2 10 2-19 2 16 2-11 2 2 2-10 2 5 2 8 2-14 2 3 2 6 2-7 2-6 2-7 2 5 2-2 2 1 2 6 2-9 2-6 2 7 2-6 2 7 2-6 2-4 2 10 2-9 2-10 2 4 2 6 2-7 2 15 2-1 2 2 2-13 2 4 2 11 2-14 2 4 2 3 2-8 2-2 2 9 2-4 2 3 2 3 2-18 2 13 2 0 2 6 2-7 2 2 2-8 2 19 2-10 2 2 2-3 2 2 2 0 2 7 2-20 2 21 2-21 2 12 2-3 2-8 2 12 2-12 2 20 2-9 2-4 2-12 2 4 2 4 2-1 2-1 2 8 2-8 2-8 2 10 2 3 2-15 2-2 2 17 2-9 2 20 2-24 2 5 2-1 2 8 2 7 2-25 2 9 2-2 2-4 2 1 2 10 2-9 2-10 2 9 2-1 2-4 2 3 2-10 2 14 2 1 2-9 2-1 2 2 2 22 2-12 2 1 2 14 2-18 2 0 2 2 2 3 2 3 2-13 2 6 2-2 2 8 2 1 2-5 2-6 2 12 2 3 2-16 2 6 2 10 2-15 2 19 2-17 2 13 2-14 2 4 2 4 2-8 2 8 2-14 2 2 2 1 2 4 2 6 2 3 2 2 2-4 2 15 2-21 2 13 2-3 2 4 2-17 2 2 2 12 2-6 2-13 2 6 2 13 2-14 2 11 2-2 2 1 2-2 2 10 2-2 2 4 2-8 2 4 2-10 2-6 2 7 2 12 2-9 2 2 2 4 2-12 2 5 2 4 2-5 2 7 2-7 2-6 2 6 2 0 2 15 2-30 2 14 2 8 2-16 2 9 2 0 2 10 2-6 2-11 2 2 2 3 2-8 2 15 2-1 2-16 2 17 2-8 2 15 2-13 2 1 2 13 2-9 2 10 2 0 2-16 2-3 2 3 2-3 2 4 2 10 2-8 2 0 2 1 2 1 2-2 2 0 2 6 2 3 2-12 2-3 2-13 2 16 2 11 2-10 2 5 2-1 2-7 2 3 2-15 2 34 2-10 2 1 2-9 2 3 2 0 2-6 2 10 2-9 2 21 2-19 2 10 2-13 2-7 2-1 2 15 2-7 2 22 2-26 2 5 2 10 2-16 2 5 2-6 2 4 2 0 2-11 2 3 2 12 2-10 2-7 2 4 2 2 2 5 2 0 2 13 2-10 2-2 2 8 2-13 2 7 2 12 2-3 2 1 2-7 2 6 2 5 2-4 2-12 2 14 2 0 2 7 2 1 2-2 2-12 2 6 2-3 2 4 2-9 2-9 2 24 2-20 2 12 2-1 2 4 2-13 2 18 2-15 2 16 2-8 2-6 2 6 2 20 2-23 2-1 2-6 2 9 2-8 2 6 2 10 2-12 2 0 2 1 2 3 2-13 2-7 2 34 2-24 2-1 2 2 2 3 2 10 2-14 2-19 2 21 2-23 2 7 2 13 2 15 2-12 2-1 2 3 2 15 2-9 2 4 2-6 2-11 2 9 2 6 2 11 2-16 2-8 2-8 2 20 2 3 2-8 2-9 2-5 2 15 2 0 2-1 2 6 2-11 2 12 2-3 2-1 2-4 2 2 2-3 2 7 2-9 2 4 2-9 2 13 2-8 2 14 2-6 2 11 2 0 2-15 2 4 2-12 2 0 2 6 2 9 2-16 2 15 2 3 2-17 2 8 2-1 2-7 2-4 2 0 2-4 2 2 2 9 2-10 2 24 2-22 2 3 2-4 2 3 2 6 2-16 2 18 2-13 2 7 2-4 2-1 2 8 2-5 2-2 2-5 2 12 2 12 2-12 2 2 2 5 2-5 2 11 2-14 2 15 2-4 2 14 2-15 2-6 2 6 2-8 2 7 2 0 2-8 2 21 2 5 2-14 2-3 2 1 2 1 2-2 2 9 2 0 2 1 2-3 2 1 2-18 2 5 2 7 2-4 2 11 2-27 2 11 2 4 2-9 2 8 2-11 2 0 2 12 2-6 2 14 2-6 2-15 2 10 2-2 2 10 2-7 2 8 2-14 2-6 2 5 2 16 2 3 2-5 2 1 2-5 2 0 2-4 2 14 2-12 2 5 2-9 2 3 2 4 2-6 2 2 2-11 2 16 2 1 2-6 2-6 2 12 2-6 2 5 2-11 2-2 2 13 2-20 2 14 2-9 2 25 2-6 2-13 2 9 2-10 2 0 2-4 2-2 2-7 2 6 2 5 2 14 2-8 2-5 2-4 2 3 2 21 2-23 2 16 2-18 2 3 2-2 2 3 2 18 2-8 2 8 2-17 2 7 2-2 2 8 2-5 2-7 2 10 2-2 2 14 2-2 2-13 2 3 2 13 2-6 2-11 2 12 2-16 2-6 2 13 2-12 2 0 2 15 2-19 2 8 2 7 2 12 2-12 2-8 2-2 2 5 2 4 2-1 2 0 2 7 2-7 2-12 2 15 2-9 2 7 2-6 2 5 2-16 2 15 2 0 2 3 2-1 2 7 2-9 2-1 2 14 2 4 2-11 2-2 2 14 2-4 2-12 2-1 2 8 2-7 2-1 2 0 2 8 2-18 2 20 2-2 2-17 2 23 2-5 2 7 2-20 2 3 2 1 2 9 2-5 2-2 2 5 2-2 2 11 2-14 2 9 2-6 2 1 2 2 2 9 2-6 2-3 2-4 2-6 2 10 2-14 2 8 2-5 2 9 2 0 2 3 2 0 2-14 2-1 2 17 2-19 2 11 2-3 2 13 2-10 2 10 2-4 2-6 2-2 2-1 2 3 2 2 2-3 2-5 2 10 2-3 2 7 2-4 2-17 2 7 2 9 2 3 2 0 2 0 2-9 2 1 1 11V1462" stroke="#4DBEEE" stroke-width="2.8"/><path d="M248 1317l2-2 2-3 2-2 2-4 2-3 2-3 2-3 2-3 2-2 2-3 2-3 2-3 2-3 2-4 2-2 2-2 2-5 2-1 2-4 2-3 2-1 2-4 2-3 2-3 2-3 2-1 2-4 2-3 2-4 2-2 2-4 2-1 2-4 2-2 2-3 2-5 2-1 2-3 2-3 2-3 2-2 2-4 2-2 2-4 2-3 2-3 2-3 2-3 2-2 2-3 2-3 2-4 2-1 2-4 2-2 2-2 2-4 2-2 2-3 2-3 2-3 2-1 2-3 2-2 2-4 2-2 2-3 2-4 2-1 2-3 2-2 2-3 2-4 2-3 2-3 2-3 2-3 2-3 2-5 2-1 2-4 2-2 2-3 2-3 2-2 2-2 2-4 2-1 2-3 2-4 2-2 2-4 2-5 2-3 2-4 2-6 2-4 2-5 2-6 2-6 2-6 2-7 2-7 2-7 2-6 2-7 2-6 2-8 2-7 2-8 2-8 2-8 2-8 2-6 2-4 2-7 2-4 2-4 2-3 2-4 2-2 2-5 2-2 2-5 2-3 2-5 2-3 2-4 2-5 2-4 2-3 2-3 2-4 2-4 2-3 2-3 2-5 2-4 2-3 2-6 2-3 2-6 2-5 2-7 2-5 2-7 2-5 2-11 2-9 2-11 2-6 2-22 2-20 2-23 2-24 2-21 2-21 2-17 2-21 2-11 2-23 2-24 2-19 2-3 2-18 2-20 2-22 2-9 2 1 2-13 2 1 2 7 2-12 2 7 2 9 2-12 2 2 2-3 2 12 2-7 2-5 2-4 2-5 2 20 2-18 2-4 2-9 2 19 2-10 2-11 2 24 2-14 2-1 2-2 2 13 2-14 2 2 2-1 2-6 2 11 2-14 2-2 2 26 2-26 2 15 2 3 2-23 2 17 2 5 2-7 2-6 2 0 2-2 2-3 2-3 2 6 2-6 2-1 2-6 2-5 2 1 2 4 2 10 2-5 2-4 2 0 2-18 2 18 2-5 2-6 2 9 2-5 2-5 2 1 2-8 2 3 2 2 2 7 2 12 2-23 2-2 2 7 2 3 2-11 2-1 2 1 2 6 2 0 2-5 2-6 2 5 2-1 2 6 2 0 2-5 2 0 2 8 2 12 2-22 2 10 2 5 2 1 2-3 2 10 2-3 2 8 2-14 2 4 2 18 2-10 2-14 2 3 2-1 2-5 2 12 2-7 2-10 2 10 2 17 2-18 2 7 2-17 2-2 2 11 2 7 2 5 2-8 2-3 2-15 2 15 2-20 2 15 2 4 2 1 2 0 2 2 2 2 2-12 2-1 2-6 2 6 2 14 2-14 2-2 2 2 2 13 2 2 2-10 2-15 2 16 2-11 2 5 2 15 2-8 2-14 2 18 2-7 2 0 2 5 2 2 2-2 2-2 2-3 2 7 2 8 2-16 2 5 2-1 2 4 2-6 2 4 2-14 2 9 2-12 2-1 2 7 2-4 2-5 2 16 2-10 2-10 2 17 2-8 2-4 2 4 2 6 2-6 2 2 2 6 2-10 2 4 2 6 2-10 2 4 2 1 2 6 2 12 2-15 2-1 2 18 2-13 2 0 2 0 2 8 2-13 2-4 2 7 2 8 2-7 2-5 2 6 2 8 2-11 2-4 2-2 2 9 2-4 2 8 2-1 2 10 2-5 2-5 2-9 2 9 2-2 2 0 2-12 2 26 2-14 2-3 2 9 2-12 2 6 2-4 2 11 2-7 2 3 2-3 2 7 2-15 2 20 2-25 2 6 2-2 2 8 2-6 2 5 2-12 2 4 2-2 2 4 2 3 2-4 2 3 2 8 2-15 2 11 2-13 2 10 2 2 2-10 2-4 2 5 2 4 2-3 2 1 2-1 2 1 2 1 2-6 2 1 2-3 2 23 2-15 2 6 2-1 2 6 2-2 2 10 2-16 2 6 2-18 2 16 2-9 2 0 2 1 2-2 2 9 2 3 2 6 2-6 2 2 2 5 2 3 2-14 2-2 2 11 2-8 2-7 2 2 2 6 2 20 2-10 2-14 2 10 2 11 2-15 2-1 2 3 2 0 2 1 2-12 2 11 2-7 2 12 2-2 2-14 2 20 2-1 2-6 2-4 2 1 2-5 2 6 2-7 2 8 2-5 2 14 2-16 2-2 2 0 2 11 2-10 2 7 2-9 2 6 2-5 2 5 2-5 2 0 2-11 2 6 2-4 2 20 2-5 2-2 2-6 2 20 2-14 2-10 2 14 2-9 2 5 2-23 2 17 2-7 2 2 2-2 2 16 2 0 2 0 2 0 2-5 2 6 2 2 2-8 2 4 2-10 2 13 2-1 2-12 2-4 2 7 2-2 2 18 2-8 2 4 2-9 2-4 2 5 2 4 2-10 2 14 2 3 2-11 2-9 2 24 2-10 2-6 2 4 2-14 2 2 2 15 2 6 2-18 2 6 2-3 2 2 2 8 2-6 2 4 2-5 2 6 2 1 2 2 2 11 2-12 2-8 2 9 2 0 2-14 2-12 2 25 2-18 2 23 2-5 2-6 2 11 2-14 2-7 2 16 2-5 2-5 2-1 2-11 2 10 2 2 2-12 2 9 2 13 2-1 2 0 2-11 2 21 2-2 2-19 2-4 2 14 2 3 2-10 2 5 2 0 2 18 2-32 2 21 2-4 2-3 2-2 2 2 2-20 2 16 2 5 2 7 2-9 2 10 2-1 2-16 2 14 2-10 2 9 2-19 2-4 2 22 2 2 2-15 2 6 2 3 2-2 2-1 2-6 2-4 2 12 2 1 2-5 2-14 2 2 2 7 2 3 2-9 2 5 2 12 2-4 2 13 2-23 2 0 2 20 2-5 2-18 2 11 2 4 2 4 2-9 2 2 2-14 2 4 2 11 2-8 2-2 2 0 2-4 2 1 2 17 2 0 2 0 2-16 2 3 2 18 2-11 2 1 2 2 2-1 2-9 2 15 2-1 2-7 2 4 2 7 2-9 2 0 2-10 2-5 2 15 2 2 2-13 2 5 2-11 2 11 2-1 2 1 2 19 2-15 2 1 2 0 2-4 2 4 2-11 2 18 2-20 2 3 2-1 2 5 2 3 2-4 2 9 2-14 2 5 2 5 2 2 2-9 2 10 2 7 2 5 2-8 2-8 2 16 2-4 2-7 2 1 2-1 2 1 2-3 2-3 2-4 2 10 2-1 2-3 2 2 2 10 2-3 2-12 2 9 2 1 2-2 2-1 2-12 2 9 2 2 2-7 2-6 2-7 2 26 2-24 2 11 2 4 2-8 2 9 2-4 2-2 2-6 2-1 2-4 2 0 2 7 2-3 2 3 2-5 2 13 2-4 2 2 2 6 2-13 2 20 2-21 2 11 2-2 2 6 2 6 2-9 2 3 2 9 2-6 2 19 2-25 2 4 2 3 2 1 2-2 2-1 2-16 2 14 2-7 2 5 2-8 2 5 2 10 2-9 2-9 2 11 2-4 2 3 2-6 2 1 2-10 2 8 2 11 2 8 2-12 2 1 2 5 2-9 2 7 2-5 2 6 2-11 2 5 2 3 2-14 2 32 2-24 2 1 2-2 2 6 2 0 2-7 2 2 2-5 2 15 2-12 2 7 2-14 2 7 2 13 2-14 2-1 2 4 2 19 2-7 2-1 2-10 2-2 2 0 2 13 2-20 2 15 2 6 2-24 2 18 2 4 2 8 2-9 2-2 2-4V1462" stroke="#7E2F8E" stroke-width="2.8"/><path d="M248 1243l2-2 2-3 2-3 2-3 2-3 2-4 2-2 2-4 2-3 2-3 2-4 2-1 2-4 2-2 2-3 2-2 2-4 2-2 2-3 2-4 2-1 2-2 2-3 2-3 2-3 2-3 2-3 2-3 2-3 2-3 2-3 2-2 2-5 2-1 2-3 2-3 2-2 2-4 2-4 2-2 2-5 2-2 2-4 2-4 2-3 2-3 2-4 2-1 2-5 2-3 2-3 2-3 2-3 2-3 2-3 2-3 2-3 2-2 2-3 2-3 2-3 2-3 2-3 2-3 2-1 2-4 2-3 2-2 2-3 2-3 2-2 2-3 2-2 2-3 2-4 2-3 2-3 2-3 2-3 2-3 2-2 2-3 2-4 2-3 2-3 2-3 2-3 2-2 2-3 2-2 2-4 2-2 2-4 2-2 2-4 2-3 2-3 2-2 2-4 2-4 2-2 2-4 2-5 2-3 2-3 2-5 2-3 2-5 2-4 2-6 2-6 2-5 2-6 2-3 2-4 2-5 2-4 2-3 2-3 2-4 2-3 2-3 2-3 2-4 2-3 2-4 2-4 2-3 2-5 2-4 2-2 2-5 2-2 2-5 2-3 2-4 2-4 2-5 2-5 2-6 2-6 2-6 2-8 2-7 2-9 2-15 2-18 2-24 2-25 2-22 2-20 2-20 2-14 2-21 2-16 2-17 2-16 2-17 2-21 2-28 2-14 2-16 2 3 2 5 2 0 2-2 2 2 2-12 2 11 2 2 2-10 2 6 2-7 2 8 2-1 2-12 2 12 2-12 2 15 2-18 2 3 2 1 2-8 2-7 2 5 2 11 2-11 2-1 2 11 2-9 2 1 2 0 2-14 2 7 2-1 2-2 2-7 2 10 2-15 2 5 2 1 2 2 2 9 2 5 2 0 2-7 2-4 2-20 2 22 2 9 2-16 2-3 2 2 2-1 2-6 2-5 2 4 2-13 2-5 2 22 2-13 2 7 2 5 2-2 2-13 2 6 2-11 2 7 2 7 2-8 2-21 2 2 2 9 2 13 2-9 2-2 2-11 2 9 2-17 2 17 2 6 2-13 2 13 2-12 2 6 2-1 2 2 2 10 2-4 2-11 2-14 2 24 2-1 2-4 2-6 2 15 2-23 2 7 2-4 2 13 2-5 2 19 2-14 2 0 2 6 2-8 2-2 2 12 2-6 2 10 2-4 2-1 2-1 2-1 2 2 2-6 2-12 2 13 2-4 2-8 2 14 2-9 2-11 2 11 2-5 2-7 2 13 2-10 2 12 2-11 2 13 2-4 2-2 2-6 2 10 2-3 2-7 2 6 2-12 2-3 2 7 2 1 2 2 2-3 2 8 2-17 2 14 2-2 2 8 2-7 2 2 2 10 2-6 2-1 2-6 2 4 2-12 2 6 2 11 2-16 2 13 2-1 2 2 2-15 2-3 2 21 2-7 2 1 2 7 2-10 2-15 2 11 2 8 2-9 2 1 2-2 2 15 2-2 2-21 2 26 2-18 2 19 2-23 2 17 2-12 2 3 2 8 2-11 2 7 2 1 2 6 2 2 2 4 2-10 2 1 2-7 2-1 2-4 2 7 2 3 2-1 2 3 2-13 2 22 2-10 2 7 2-5 2-7 2 5 2-20 2 25 2-1 2 8 2-20 2 11 2-2 2-8 2-2 2 2 2 14 2 0 2-16 2 9 2 4 2-1 2-12 2 6 2-6 2 16 2 11 2-18 2-15 2 21 2 5 2 0 2-8 2 4 2-3 2 5 2 3 2-12 2 2 2 2 2 0 2 3 2 6 2-17 2 15 2-7 2-19 2 17 2 0 2 5 2 0 2-4 2-6 2 12 2-11 2-4 2 3 2 1 2 2 2-3 2-1 2 7 2-1 2-3 2-7 2-4 2 2 2 0 2 7 2-8 2-6 2 2 2 19 2-18 2-2 2 7 2 15 2-11 2 2 2-13 2 1 2 10 2-4 2 5 2-10 2 14 2 1 2-20 2 13 2-4 2 13 2-8 2 6 2-6 2 3 2 13 2 0 2-26 2 13 2-1 2-10 2 1 2 6 2 4 2-3 2-7 2-4 2-7 2 26 2-14 2-2 2 9 2-2 2 1 2 5 2-7 2-3 2 6 2 2 2-7 2 1 2 1 2 13 2 4 2 0 2-14 2 2 2-4 2 21 2-15 2 3 2-3 2 4 2-8 2 2 2-2 2-11 2 18 2 3 2 1 2 3 2-4 2-7 2 4 2-7 2 10 2-7 2-13 2 16 2 1 2-8 2 11 2 5 2-16 2 13 2 0 2-12 2 3 2-4 2 4 2 4 2 8 2-12 2-7 2-12 2 16 2-5 2 9 2-1 2-13 2 12 2-4 2-1 2-2 2 10 2-2 2-3 2 7 2-7 2 0 2 3 2-6 2-6 2 20 2-5 2-16 2 3 2 0 2-3 2 14 2 9 2-7 2 9 2-12 2 6 2-7 2 8 2 8 2-1 2 3 2-9 2 10 2 4 2-6 2-14 2 11 2-1 2-7 2-3 2 0 2 13 2-7 2 10 2-24 2 15 2 9 2 1 2-16 2 14 2-4 2 0 2-8 2 4 2-2 2-12 2-16 2 25 2-2 2-3 2-9 2-1 2-8 2 21 2-12 2 7 2-8 2-14 2 22 2 3 2 5 2-12 2-2 2 5 2-7 2 2 2 11 2-5 2-2 2 6 2-5 2 19 2-19 2 12 2-5 2 2 2-4 2-3 2 1 2-4 2 8 2 4 2-23 2 8 2 1 2 12 2 0 2-7 2 13 2-12 2 6 2 2 2-7 2 9 2-10 2 3 2 2 2 4 2 6 2-15 2-4 2 14 2-19 2 15 2 3 2-17 2 5 2 3 2 0 2 0 2 1 2 1 2-17 2 19 2-11 2-2 2 11 2-11 2-2 2-6 2 23 2-19 2 4 2-4 2 13 2-8 2 21 2-12 2-2 2 10 2-10 2 7 2 7 2-12 2 2 2-2 2 3 2 23 2-35 2 21 2-5 2-6 2 12 2 1 2-16 2 4 2-5 2 6 2-3 2-2 2 2 2 0 2 6 2-16 2 6 2 17 2-21 2 14 2-15 2 13 2-6 2 5 2-5 2 12 2-9 2-1 2 5 2-8 2-11 2 6 2 5 2 16 2 4 2-25 2 10 2-6 2 6 2-10 2 11 2-8 2-2 2 4 2-9 2 19 2-9 2 17 2-3 2 4 2-10 2 13 2 1 2-11 2 4 2 10 2-9 2-5 2 12 2 1 2-14 2 10 2-2 2 8 2-12 2 14 2-2 2-9 2-1 2-5 2 17 2-17 2 4 2 13 2-8 2-4 2-1 2-4 2-8 2 13 2-11 2 23 2-26 2 10 2 2 2-4 2 4 2 4 2 5 2-10 2-3 2 2 2-3 2-7 2 4 2 8 2-8 2-1 2-1 2 5 2-1 2 1 2-5 2-13 2 12 2 4 2-6 2 11 2-11 2-9 2 20 2-8 2 2 2-13 2 10 2 2 2 2 2 6 2-10 2 4 2 14 2-12 2 11 2-21 2 11 2 10 2-4 2 5 2-14 2 3 2-18 2 6 2 12 2-9 2 10 2-9 2 5 2-10 2-1 2 14 2-3 2-4 2 6 2 0 2 1 2-10 2-4 2 5 2 2 2-11 2-7 2 18 2 6 2-7 2-3 2 3 2 1 2-9 2 9 2 6 2-5 2-3 2 6 2-1 1-11V1462" stroke="#A2142F" stroke-width="2.8"/><path d="M248 1278l2-4 2-3 2-4 2-2 2-3 2-4 2-2 2-4 2-2 2-5 2-2 2-4 2-2 2-2 2-4 2-3 2-2 2-3 2-4 2-2 2-4 2-3 2-3 2-3 2-3 2-3 2-3 2-3 2-3 2-3 2-1 2-4 2-4 2-2 2-2 2-4 2-3 2-3 2-4 2-3 2-3 2-4 2-4 2-3 2-3 2-3 2-3 2-3 2-4 2-2 2-4 2-4 2-2 2-4 2-2 2-2 2-3 2-5 2-2 2-3 2-3 2-3 2-3 2-3 2-3 2-4 2-3 2-4 2-4 2-2 2-3 2-3 2-3 2-3 2-3 2-3 2-2 2-2 2-3 2-3 2-1 2-5 2-2 2-4 2-3 2-2 2-3 2-4 2-3 2-3 2-3 2-4 2-3 2-3 2-4 2-3 2-4 2-4 2-2 2-5 2-4 2-3 2-4 2-4 2-3 2-4 2-7 2-4 2-5 2-6 2-6 2-6 2-6 2-6 2-4 2-5 2-5 2-3 2-3 2-4 2-4 2-2 2-3 2-4 2-4 2-3 2-4 2-5 2-5 2-2 2-4 2-4 2-4 2-4 2-3 2-4 2-2 2-6 2-3 2-3 2-5 2-5 2-6 2-5 2-5 2-7 2-9 2-8 2-7 2-9 2-6 2-14 2-20 2-24 2-22 2-14 2-19 2-22 2-22 2-14 2-16 2-15 2-20 2-14 2-18 2-20 2-9 2 10 2 0 2 4 2-8 2 1 2 1 2-14 2 1 2 11 2-8 2 6 2 6 2-22 2 12 2 2 2-6 2-10 2 11 2-7 2-5 2 1 2-1 2-2 2-9 2 9 2-2 2-6 2-1 2-6 2 16 2 0 2-6 2-21 2 13 2-1 2 3 2 12 2-16 2 2 2 6 2-12 2 3 2-10 2 15 2-9 2-7 2 10 2 10 2-9 2 1 2-1 2 3 2 3 2-9 2 3 2-6 2-8 2 17 2-12 2 0 2-2 2-15 2 22 2-14 2 4 2 10 2-7 2 6 2-3 2 6 2-10 2 11 2 1 2-18 2 18 2-17 2 4 2-3 2 12 2-5 2-3 2 8 2-10 2 0 2-2 2 12 2-3 2-1 2-10 2 12 2-2 2-14 2 5 2 1 2-10 2 6 2 0 2 7 2-14 2 17 2-7 2 1 2 2 2-13 2 14 2-27 2 14 2 1 2 12 2-1 2-14 2 0 2 13 2-6 2 10 2-8 2-11 2 12 2-5 2 5 2 4 2-16 2 7 2 2 2-18 2 14 2 0 2-10 2 9 2-9 2 22 2-14 2-3 2 12 2 6 2-5 2-13 2 11 2-18 2 23 2-11 2-9 2 16 2-10 2-1 2 7 2-3 2-8 2 12 2 10 2-9 2-8 2-3 2 14 2 4 2-19 2 1 2-2 2-3 2-3 2 10 2 0 2-7 2 7 2 9 2-15 2 16 2-6 2-14 2 15 2-7 2-1 2 1 2 6 2-6 2 6 2-14 2 2 2 6 2 1 2 2 2 7 2-9 2 2 2 3 2 11 2-13 2 3 2 3 2-11 2 17 2-9 2-1 2 14 2-12 2-9 2 7 2 1 2 20 2 0 2-14 2-2 2 13 2-10 2-1 2 3 2 2 2-13 2 2 2 2 2-4 2 11 2-10 2-7 2 11 2-4 2 10 2-15 2-4 2 6 2-5 2 8 2-18 2 4 2 2 2-1 2 0 2-1 2 1 2 8 2-7 2 19 2 4 2-22 2 16 2-9 2 2 2 8 2 1 2-6 2 6 2-7 2-14 2 16 2-5 2 4 2-11 2 10 2 1 2 0 2-6 2-11 2 5 2 7 2 7 2-5 2 5 2-7 2 5 2-5 2 1 2 23 2-15 2-4 2 10 2-12 2 8 2-9 2 9 2 2 2-9 2-1 2 15 2 3 2-14 2 4 2 0 2 11 2-15 2-10 2 24 2-20 2-6 2 15 2-13 2 11 2-11 2 10 2-7 2 10 2-11 2 12 2-4 2-9 2 4 2 8 2 10 2-11 2-4 2 5 2-2 2 6 2-2 2 2 2 11 2-15 2 11 2-24 2 16 2-14 2 1 2 2 2 8 2-13 2 5 2 12 2-9 2 8 2-16 2-4 2 3 2 2 2 5 2 10 2-15 2 5 2 0 2 10 2 1 2-9 2 0 2-5 2 1 2 4 2-9 2 14 2-2 2-1 2 1 2 4 2-17 2 3 2-1 2-4 2 7 2-4 2 6 2 7 2-14 2 4 2-4 2 3 2-10 2 1 2 15 2-4 2-6 2 13 2-11 2-9 2 7 2 4 2 1 2-8 2 2 2 2 2 9 2 3 2-12 2-2 2 0 2-11 2 29 2-16 2-3 2 6 2 4 2-8 2 7 2 2 2 12 2-11 2 5 2-4 2 3 2 2 2-2 2-2 2-6 2-1 2 3 2 6 2-7 2 3 2 3 2-18 2 9 2 10 2 4 2-15 2 2 2-5 2 18 2-4 2-3 2 3 2-9 2-5 2 11 2 0 2-3 2-2 2 11 2-13 2-9 2 13 2-6 2 5 2-5 2 4 2 1 2 7 2-13 2-4 2 12 2-10 2 21 2-13 2 12 2-13 2 3 2-8 2 6 2 3 2-12 2-4 2 11 2-5 2 14 2-14 2 12 2-5 2 5 2 5 2-11 2 6 2 10 2-13 2-1 2 11 2 2 2-2 2-13 2-7 2 16 2-5 2-3 2 2 2-2 2-1 2-2 2 1 2-3 2 2 2-13 2 16 2-4 2 4 2-12 2 7 2 13 2-5 2-5 2 3 2 10 2-8 2 9 2-2 2-6 2-2 2-7 2 6 2 1 2-3 2 3 2 9 2-13 2 5 2 3 2-12 2 7 2-3 2-5 2 19 2-11 2 2 2-6 2 7 2-2 2-5 2 2 2 1 2-2 2 8 2-7 2 11 2 2 2-5 2-4 2-7 2 5 2-1 2-11 2 15 2-9 2-3 2 8 2-1 2-11 2 14 2 3 2 5 2-16 2 20 2-2 2 5 2-3 2-2 2-15 2 13 2-16 2 12 2 3 2-7 2-7 2 3 2 0 2 1 2 0 2-2 2-4 2 10 2 0 2 13 2-9 2 2 2-18 2 4 2-4 2 16 2-5 2-9 2-1 2 4 2-1 2 7 2-3 2-3 2 5 2 5 2 9 2-5 2-17 2 12 2 3 2 0 2 4 2-14 2 0 2 8 2-18 2 20 2-12 2 4 2 3 2 2 2-4 2 9 2-5 2 1 2-7 2-5 2 4 2 1 2 4 2 11 2-9 2 1 2-8 2 10 2-4 2 5 2-17 2 18 2-9 2 10 2-2 2-6 2-6 2 6 2 8 2-12 2 3 2 5 2-10 2 5 2 1 2 7 2 0 2-3 2-5 2 8 2-11 2 9 2-8 2-5 2 5 2-9 2 2 2 9 2-14 2 7 2 16 2-14 2-3 2 0 2-3 2 4 2 4 2 4 2 2 2 8 2-6 2-6 2 5 2 17 2-20 2 7 2-6 2 9 2 4 2-10 2 1 2-2 2 5 2-1 2 13 2-2 2-14 2-2 2 5 2 3 2-3 2 15 2-13 2 3 2-2 2 2 2-4 2 6 2-5 2 12 2-14 2-9 2 5 2-2 2-11 2-2 2 6 2 10 2-2 2 0 2 0 2-7 2 1 2-2 2 10V1462" stroke="#0072BD" stroke-width="2.8"/><path d="M248 1363l2-3 2-2 2-3 2-3 2-3 2-3 2-4 2-2 2-3 2-3 2-3 2-3 2-1 2-4 2-2 2-3 2-3 2-3 2-3 2-3 2-3 2-4 2-3 2-2 2-4 2-2 2-5 2-2 2-2 2-3 2-3 2-2 2-3 2-2 2-2 2-4 2-2 2-2 2-3 2-4 2-2 2-4 2-3 2-2 2-4 2-3 2-3 2-4 2-1 2-4 2-3 2-2 2-2 2-4 2-3 2-3 2-2 2-3 2-4 2-1 2-4 2-4 2-2 2-4 2-2 2-4 2-2 2-3 2-3 2-3 2-3 2-3 2-2 2-4 2-3 2-4 2-3 2-1 2-5 2-2 2-2 2-4 2-2 2-2 2-3 2-3 2-2 2-3 2-3 2-3 2-3 2-4 2-5 2-4 2-5 2-5 2-6 2-6 2-9 2-7 2-8 2-8 2-10 2-6 2-8 2-9 2-9 2-9 2-10 2-9 2-10 2-9 2-8 2-9 2-7 2-5 2-5 2-4 2-3 2-4 2-4 2-3 2-2 2-3 2-4 2-3 2-4 2-5 2-3 2-3 2-4 2-3 2-6 2-4 2-4 2-4 2-3 2-5 2-6 2-6 2-4 2-8 2-7 2-8 2-8 2-12 2-15 2-20 2-24 2-21 2-30 2-19 2-18 2-19 2-18 2-23 2-15 2-13 2-19 2-14 2-18 2-13 2 5 2 0 2-12 2 8 2-12 2 4 2 3 2-4 2-7 2 4 2 1 2-7 2-2 2 2 2 0 2 10 2-16 2-1 2-5 2 4 2 0 2 20 2-12 2-15 2 3 2 7 2-14 2 10 2 0 2-1 2-3 2-10 2 4 2-3 2-6 2 12 2-6 2-1 2-9 2 12 2-7 2-6 2 12 2-14 2 3 2 6 2 2 2-14 2 10 2 2 2-1 2-11 2-15 2 17 2 0 2-5 2 4 2 1 2-9 2-5 2 8 2 2 2 12 2-12 2 5 2-4 2 4 2 6 2-10 2-9 2 1 2 7 2 13 2 1 2-4 2-16 2 13 2-2 2-8 2 1 2-4 2-8 2 13 2-7 2 8 2-15 2-3 2 18 2-6 2 2 2-16 2 4 2 12 2-4 2-7 2-12 2 9 2 1 2-2 2 5 2 7 2-8 2-7 2 8 2-6 2 6 2 3 2-14 2-9 2 8 2-2 2-6 2 21 2-5 2 2 2-11 2 11 2-9 2 11 2-6 2 5 2-1 2 4 2-11 2-2 2 6 2 12 2-10 2 6 2-4 2 8 2-9 2 2 2 10 2-12 2-2 2 0 2 12 2 0 2-2 2-11 2-8 2 4 2 0 2 7 2 10 2-4 2 3 2-6 2 6 2 4 2-19 2 16 2-12 2 1 2-1 2-8 2-2 2 14 2-6 2-8 2 10 2-6 2 4 2-15 2 7 2 13 2-18 2 13 2 1 2 2 2-2 2 3 2 6 2-5 2 1 2 5 2-8 2-9 2 12 2-5 2 3 2-3 2-6 2 7 2-10 2 3 2-3 2-3 2 1 2-4 2 10 2 7 2 2 2 4 2-20 2 16 2-10 2-7 2 7 2 16 2 0 2 0 2 0 2 2 2-7 2-3 2 1 2 2 2-2 2-8 2 4 2 1 2 3 2-15 2 10 2 11 2 1 2-19 2 9 2-17 2 19 2-9 2 13 2-6 2 0 2-9 2 7 2 5 2 3 2 0 2-16 2 6 2 4 2 7 2-12 2 3 2 5 2-9 2 12 2-9 2-3 2-9 2 10 2 5 2-10 2 4 2 16 2-4 2-2 2-5 2-5 2-9 2 26 2-6 2-9 2 2 2-4 2 9 2 9 2-23 2 14 2-4 2-3 2 5 2 4 2-8 2 0 2 4 2 2 2 8 2-5 2-4 2-6 2 0 2 10 2 8 2-12 2 4 2 5 2-8 2-2 2 3 2 0 2 4 2 2 2-15 2-1 2 2 2 6 2-7 2 5 2-6 2-8 2 18 2-2 2-10 2-2 2 4 2 9 2-13 2 0 2 0 2-3 2 2 2 0 2 3 2 16 2-12 2-4 2 1 2 4 2-7 2 9 2 11 2-8 2-11 2 7 2 4 2-4 2-2 2-6 2-3 2 3 2 6 2 0 2 6 2-1 2-2 2-5 2 11 2 8 2-6 2 1 2-1 2-1 2 0 2-7 2 12 2-6 2-15 2-2 2 0 2 7 2-2 2 8 2-12 2 21 2-13 2 0 2-3 2 5 2 10 2-13 2 1 2 1 2 2 2 11 2-14 2 24 2-25 2 0 2 5 2-5 2 2 2-9 2 0 2 7 2 2 2-7 2 7 2 0 2 4 2-7 2 12 2-3 2 5 2-18 2 9 2-10 2 11 2 3 2-5 2-1 2-5 2 8 2-9 2 0 2 1 2-1 2 11 2-16 2 20 2-9 2 3 2-10 2 12 2-1 2 8 2-22 2-6 2 17 2-12 2 11 2-1 2-3 2 6 2-9 2 3 2 6 2 4 2 1 2 3 2-11 2 3 2-5 2 13 2 5 2-14 2 5 2 3 2-7 2 11 2 5 2-10 2-14 2 0 2 20 2-10 2 3 2 4 2 6 2 0 2-17 2 7 2-3 2-14 2 14 2-3 2 5 2 2 2-3 2 8 2-5 2-15 2 6 2 3 2-5 2 9 2-1 2-2 2 8 2-11 2 7 2 5 2-2 2 12 2-14 2 0 2-3 2-3 2 23 2-17 2 3 2-1 2 4 2-1 2-7 2 13 2-21 2 2 2 7 2-14 2 14 2 2 2 6 2-6 2 3 2-4 2 7 2-21 2 5 2 12 2 0 2 0 2-6 2-11 2 6 2 5 2 7 2-7 2 8 2-17 2 10 2-3 2 8 2 1 2 2 2-4 2-7 2 12 2 3 2-5 2 5 2-9 2 1 2-6 2-8 2 3 2-4 2 3 2 0 2 13 2-24 2 16 2-4 2 10 2-9 2 8 2 10 2-17 2 6 2 4 2-7 2 14 2-4 2 10 2-14 2 6 2-11 2-7 2 8 2-2 2 2 2 7 2-14 2-7 2 18 2-5 2-8 2 14 2 14 2-22 2 11 2-3 2-5 2 6 2-6 2 0 2 1 2 1 2-10 2 2 2 3 2 0 2 6 2-8 2 7 2 4 2-7 2 11 2 1 2-1 2-6 2 0 2-3 2 5 2-4 2-2 2 3 2-2 2 8 2-5 2-4 2 0 2 2 2 2 2 2 2-14 2 20 2-5 2-13 2 8 2 6 2-2 2 4 2-12 2 3 2 5 2 3 2-19 2 23 2-9 2-5 2-14 2 21 2-21 2 23 2-3 2-9 2-1 2 7 2 11 2-14 2 9 2 1 2-3 2-12 2 16 2-5 2 11 2 1 2 1 2-1 2-9 2 10 2-12 2-1 2 4 2 1 2-14 2 12 2-6 2-5 2-4 2 1 2 8 2-16 2 13 2 5 2 1 2 1 2-7 2-9 2 16 2 5 2-7 2-2 2 1 2-1 2 3 2 6 2-12 2 8 2 4 2-2 2-13 2 2 2 10 2-1 2 7 2-2 2-8 2-4 2 12 2-2 2-9 2 2 2 6 2-4 2-1 2-10 2 5 2 0 2 8 2-15 2 10 2-2 2-5 2 16 2-8 2 2 2-9 2-6 2 15 2-16 2 6 2 19 2-14 2-7 2 7 2-9 2 21V1462" stroke="#D95319" stroke-width="2.8"/><path d="M248 1439l2-3 2-2 2-4 2-4 2-2 2-2 2-3 2-2 2-2 2-4 2-2 2-1 2-2 2-2 2-3 2-2 2-2 2-2 2-2 2 0 2-3 2-1 2-1 2-3 2-1 2-2 2-1 2-4 2-1 2 0 2-2 2-2 2-1 2-2 2-2 2-2 2-2 2-2 2-2 2-1 2-2 2-2 2-2 2-3 2-3 2-1 2-4 2 0 2-5 2-1 2-1 2-2 2-4 2-2 2-2 2-3 2-2 2-4 2-1 2-4 2-2 2-3 2-3 2-3 2-2 2-3 2-3 2-3 2-3 2-3 2-2 2-4 2-1 2-4 2-2 2-4 2-2 2-3 2-1 2-3 2-5 2-2 2-3 2-3 2-3 2-4 2-3 2-3 2-5 2-4 2-3 2-5 2-3 2-4 2-4 2-3 2-5 2-4 2-4 2-3 2-4 2-2 2-5 2-2 2-3 2-5 2-3 2-4 2-3 2-3 2-5 2-3 2-4 2-5 2-4 2-5 2-4 2-4 2-5 2-4 2-4 2-6 2-4 2-6 2-5 2-6 2-6 2-8 2-8 2-8 2-8 2-8 2-9 2-9 2-11 2-9 2-11 2-11 2-12 2-12 2-13 2-14 2-16 2-15 2-19 2-18 2-21 2-22 2-23 2-25 2-22 2-25 2-31 2-20 2-28 2-32 2-31 2-24 2-31 2 3 2 0 2 2 2-5 2 7 2 6 2-20 2-2 2 18 2-10 2 9 2-12 2-13 2-4 2 5 2 10 2-10 2-4 2 18 2-15 2 1 2-5 2 12 2-11 2 1 2-2 2-4 2 8 2-11 2 6 2-8 2-7 2 2 2-3 2 10 2-26 2 10 2 12 2-1 2-5 2 2 2-11 2-2 2 1 2 3 2-11 2 12 2 9 2-18 2 12 2 2 2-18 2 14 2-4 2-7 2 4 2-6 2 0 2 3 2-12 2 6 2-2 2 6 2-17 2 1 2 2 2 8 2 4 2-11 2 7 2 10 2-4 2-7 2-8 2 7 2-2 2 4 2 6 2-13 2-4 2 11 2-1 2 6 2-12 2 5 2-12 2 25 2-25 2 6 2-8 2-1 2 0 2 10 2-7 2 6 2-6 2 1 2-6 2-3 2 8 2 7 2-20 2 2 2 19 2-1 2-3 2-10 2 6 2 3 2 5 2-2 2-15 2 1 2 7 2-1 2 9 2 1 2-4 2-15 2 7 2 3 2-6 2 8 2-8 2 7 2 4 2-11 2 10 2-17 2 5 2 16 2-11 2-2 2-1 2 7 2 1 2-12 2 12 2 2 2-7 2 7 2-11 2-2 2 0 2 15 2-15 2 13 2-2 2-9 2 6 2 16 2-29 2 24 2-23 2-2 2 13 2 2 2 4 2-10 2 2 2 2 2-8 2 15 2-10 2-1 2 6 2-5 2 6 2 3 2-2 2-10 2 14 2-12 2 14 2 2 2-5 2-2 2-1 2-7 2 1 2 6 2-4 2-3 2-3 2-15 2 10 2-7 2 7 2 2 2 8 2-9 2-4 2 6 2-10 2 11 2-10 2 13 2-3 2-4 2-6 2-8 2 12 2 5 2-10 2 10 2 5 2 7 2-21 2 7 2 4 2 10 2-7 2 1 2-2 2-16 2 9 2-1 2-7 2 9 2 0 2 15 2-15 2-4 2 4 2 13 2 4 2-5 2-4 2-6 2 0 2 8 2-5 2 14 2-18 2 5 2 7 2-8 2-7 2 9 2 4 2-8 2-4 2 4 2-3 2 13 2-7 2 2 2 3 2-5 2 1 2-7 2-9 2 12 2 2 2-3 2 5 2-7 2 8 2 10 2-14 2 17 2-10 2 2 2-3 2 9 2-13 2 0 2 8 2-9 2-6 2-3 2 19 2-10 2 19 2-21 2-1 2-3 2 5 2 0 2-1 2-3 2-7 2 10 2-1 2 3 2-4 2-14 2 17 2-11 2 2 2 3 2-4 2 5 2-20 2 20 2-1 2-4 2-1 2 4 2-11 2 22 2-2 2-5 2 3 2-2 2 2 2-1 2 1 2-1 2 3 2 0 2 6 2-7 2 9 2-10 2 5 2-1 2 0 2-4 2 9 2 4 2-9 2 5 2-2 2 4 2-7 2-2 2 9 2-3 2 0 2-10 2 1 2 14 2 0 2-15 2 8 2 2 2-5 2 5 2-2 2-6 2 11 2-12 2 18 2-17 2-1 2-1 2 10 2-5 2 5 2-7 2 4 2 4 2 1 2-1 2 5 2-2 2-13 2-2 2 11 2-9 2 2 2-3 2 11 2 5 2 2 2-6 2 14 2-2 2-15 2 22 2-15 2 1 2 2 2-3 2 8 2-15 2 8 2-7 2-2 2 4 2-10 2-3 2 6 2-4 2 1 2 2 2-11 2 4 2 9 2 1 2-6 2-10 2 5 2 7 2-2 2 3 2 1 2-12 2-2 2 11 2-9 2 8 2-11 2 9 2-15 2 5 2 5 2 1 2-13 2 9 2 10 2-16 2 10 2-3 2 3 2 2 2 3 2-6 2 1 2 5 2 2 2 5 2-8 2 11 2-4 2-19 2 12 2 10 2-13 2 11 2 4 2-10 2 5 2 2 2-4 2-9 2 10 2-1 2-4 2 12 2-9 2 2 2-10 2 11 2-7 2-10 2 11 2 4 2 0 2-1 2-5 2-4 2 3 2 8 2-5 2-2 2 0 2 2 2 12 2-8 2-5 2 1 2-6 2 12 2-12 2 11 2 0 2-2 2 5 2-4 2 5 2-15 2 9 2 3 2-3 2 1 2-1 2 3 2-13 2 11 2-11 2 15 2-3 2 5 2-3 2-3 2-7 2 13 2-1 2-10 2 11 2 1 2-5 2 5 2-9 2-1 2 17 2-10 2-2 2-7 2 9 2 5 2 5 2-18 2 7 2-3 2 7 2 9 2-8 2 6 2-8 2-12 2 17 2-5 2 3 2 0 2-3 2 3 2-4 2 5 2-11 2 5 2-12 2 4 2 3 2 1 2 10 2-10 2 12 2-3 2-1 2-8 2-3 2 17 2-16 2 5 2-6 2-3 2-1 2 8 2-2 2 4 2-6 2 1 2 1 2 9 2 7 2-13 2 4 2-2 2 8 2-9 2 13 2-18 2 19 2 0 2-16 2 8 2-5 2-9 2 18 2-20 2 2 2 5 2 2 2 0 2-8 2-4 2 9 2-8 2 20 2-10 2-1 2 7 2 0 2-19 2 22 2-5 2 1 2-6 2 4 2-3 2-5 2-7 2 16 2 2 2-12 2 10 2 8 2-17 2 0 2 13 2 0 2-3 2 6 2 0 2-3 2-10 2-1 2 0 2 19 2-15 2 6 2-7 2 4 2 1 2 2 2-13 2 13 2-14 2 13 2 5 2 7 2-13 2-11 2 11 2-5 2 10 2 4 2-11 2-8 2 15 2-2 2-3 2 6 2 7 2-10 2-4 2 6 2-1 2-8 2 0 2 0 2 1 2-12 2-3 2 1 2 8 2 10 2-6 2 8 2-7 2 3 2 16 2-3 2-6 2 4 2 0 2-1 2 2 2-1 2-1 2 2 2 2 2-4 2-5 2-1 2 0 2 1 2-2 2 2 2-1 2 8 2-5 2-5 2-1 2 3 2 0 2 10 2-24 2 22 2-17 2 9 2-4 2-3 2-1 2 12 2-10 2-3 2-1 2-9 2 5 2 9V1462" stroke="#EDB120" stroke-width="2.8"/><path d="M248 1440l2-3 2-2 2-3 2-4 2-1 2-3 2-3 2-2 2-2 2-2 2-2 2-2 2-1 2-2 2-3 2-2 2 0 2-2 2-3 2-1 2-2 2-3 2-1 2-3 2 0 2-3 2-1 2-2 2-3 2-2 2-2 2-2 2-2 2-3 2-2 2-1 2-1 2-2 2-2 2-2 2-2 2-2 2-1 2-3 2-1 2-2 2-3 2 0 2-4 2-2 2-3 2-1 2-3 2-1 2-3 2-3 2 0 2-4 2-1 2-4 2-2 2-3 2-2 2-3 2-3 2-2 2-2 2-3 2-4 2-2 2-4 2-3 2-3 2-2 2-4 2-3 2-3 2-2 2-4 2-2 2-4 2-2 2-2 2-5 2-3 2-4 2-2 2-4 2-4 2-4 2-3 2-3 2-5 2-3 2-3 2-2 2-5 2-4 2-3 2-4 2-3 2-5 2-4 2-4 2-4 2-3 2-4 2-4 2-3 2-3 2-5 2-2 2-5 2-4 2-4 2-4 2-4 2-5 2-3 2-5 2-6 2-5 2-5 2-4 2-6 2-6 2-6 2-6 2-8 2-7 2-8 2-8 2-9 2-8 2-8 2-11 2-9 2-11 2-10 2-13 2-10 2-14 2-14 2-16 2-15 2-19 2-18 2-21 2-23 2-21 2-26 2-25 2-24 2-26 2-28 2-26 2-37 2-19 2-27 2-33 2 1 2-3 2 4 2-4 2 4 2 0 2 3 2-1 2 2 2-10 2-1 2-3 2-4 2-16 2 13 2-5 2 0 2-5 2-2 2 1 2-10 2-6 2 20 2-19 2 2 2-9 2 20 2 7 2-8 2-1 2-2 2-6 2 6 2-10 2 19 2-15 2-3 2 10 2-2 2-10 2-2 2-4 2-2 2 4 2-12 2 9 2-2 2-5 2-5 2-15 2 13 2-2 2 3 2-2 2-3 2 4 2 2 2-18 2 29 2-9 2-10 2 1 2 5 2 0 2 12 2-14 2 3 2 0 2 3 2 4 2-3 2-4 2 7 2-5 2 4 2-4 2 1 2 10 2-4 2-14 2 7 2 14 2-9 2 0 2-10 2 16 2-4 2-7 2 2 2 0 2 1 2-3 2-9 2 7 2-11 2 13 2-12 2 6 2-9 2 2 2-3 2 7 2-5 2 9 2-3 2-4 2 6 2 0 2-3 2 3 2 8 2-8 2 5 2-1 2 7 2-10 2 9 2-3 2-16 2 16 2 0 2-19 2 12 2-4 2-5 2 1 2 2 2-7 2-4 2-4 2-2 2 0 2 2 2-11 2 15 2 2 2 1 2-6 2 18 2-13 2-5 2 6 2 13 2-10 2 5 2-15 2 21 2-7 2-4 2-1 2 15 2-18 2 8 2-7 2 8 2 7 2-7 2 1 2 0 2 3 2-6 2 3 2-7 2 3 2 6 2 1 2-22 2 17 2 5 2-2 2 1 2-10 2 12 2 2 2-14 2 4 2-1 2-12 2 12 2 5 2 3 2-3 2-12 2 9 2 4 2-15 2 13 2 7 2-3 2 3 2-16 2 13 2-2 2 1 2 3 2-9 2 3 2-7 2 1 2 3 2 1 2-2 2-8 2 19 2-15 2 3 2-13 2 17 2-6 2-7 2-7 2 13 2 5 2-13 2 6 2-4 2 12 2-1 2-8 2-9 2 7 2 0 2 13 2-10 2 2 2-7 2 2 2 22 2-1 2-7 2-8 2 5 2-3 2-1 2-2 2 1 2 0 2-7 2 0 2 5 2-14 2 20 2-15 2 3 2 3 2 2 2-9 2 12 2-1 2-11 2-4 2 14 2-1 2 13 2-15 2 7 2-14 2 4 2 18 2-13 2-4 2 9 2-11 2 15 2 0 2-3 2-1 2 11 2-18 2-2 2 15 2 1 2-1 2 3 2 1 2-5 2-9 2 5 2 4 2 2 2-4 2 4 2-15 2 18 2 4 2-13 2 8 2-15 2 5 2-4 2 5 2 2 2 3 2-2 2-3 2-6 2 1 2 3 2 10 2-11 2 0 2-3 2 13 2-4 2 1 2 1 2 8 2-8 2 13 2-6 2-4 2 20 2-17 2-7 2 12 2-9 2 3 2-4 2 0 2 6 2-4 2-1 2-4 2 7 2-3 2 10 2-16 2-4 2-4 2 8 2-4 2 11 2-2 2-4 2-10 2 10 2-13 2 7 2 8 2-5 2-3 2 16 2-9 2-4 2-8 2 8 2 14 2-7 2-3 2-4 2 6 2-1 2 7 2 4 2-10 2-6 2 27 2-13 2 6 2-8 2-3 2 1 2 4 2-7 2-4 2 2 2 0 2-3 2 0 2 10 2-5 2-4 2-12 2 16 2-2 2-5 2 10 2-17 2 8 2 3 2 7 2-7 2 3 2-11 2 11 2-9 2 11 2-2 2 1 2 0 2-8 2 7 2 19 2-18 2 12 2-4 2 4 2-16 2 14 2-18 2 6 2 1 2 10 2-14 2 15 2 0 2-5 2 11 2-7 2 2 2 2 2-8 2 18 2-22 2 3 2-2 2 6 2 2 2-5 2 5 2-4 2-7 2 6 2 6 2-12 2 5 2-8 2-2 2 15 2-14 2 1 2 5 2 2 2 6 2-1 2-9 2 8 2 0 2 1 2-5 2 3 2 6 2-11 2 11 2-5 2-2 2-4 2 4 2-2 2 6 2-11 2 2 2-4 2-6 2 0 2 1 2 7 2-11 2 8 2 7 2-8 2-2 2 5 2 12 2-14 2-5 2 7 2-3 2 5 2 9 2-3 2 6 2-7 2-6 2 11 2-9 2-5 2 1 2-1 2 0 2-2 2 2 2 7 2-6 2-9 2 21 2-11 2-1 2-17 2 23 2-8 2-1 2-11 2 10 2-4 2 2 2-8 2 1 2 1 2 6 2 2 2-5 2-10 2 10 2 4 2-5 2 2 2-6 2 20 2-9 2-5 2 6 2 4 2 3 2 0 2-8 2 6 2-7 2 10 2 5 2 3 2-8 2-6 2 3 2 13 2-7 2-4 2 10 2 3 2-8 2-2 2 5 2-19 2 32 2-23 2 9 2 1 2-4 2-4 2 2 2 1 2-2 2 14 2-10 2-7 2-4 2 10 2-6 2 10 2 0 2-5 2 2 2-10 2 2 2 9 2-5 2 0 2-2 2 2 2-3 2-5 2 11 2 2 2-22 2 13 2-1 2-8 2 6 2-5 2 2 2 11 2-1 2-13 2 11 2 0 2 1 2-7 2 4 2 18 2-18 2 6 2 1 2 4 2-10 2 8 2-2 2 3 2 13 2-7 2 3 2-2 2-6 2 5 2-11 2 16 2-7 2 5 2-4 2-3 2-10 2 9 2-9 2-1 2 4 2-4 2 5 2-6 2-5 2 7 2 3 2-5 2 8 2-13 2 24 2-14 2-12 2 14 2 4 2-8 2-1 2-10 2 6 2 8 2-7 2-11 2 10 2 0 2-4 2-4 2 13 2 1 2 8 2-9 2 9 2-7 2-3 2 3 2 6 2-8 2 11 2 0 2-10 2 6 2-5 2 8 2-15 2 7 2-11 2-1 2 26 2-25 2 7 2 5 2 2 2-2 2-8 2 2 2-2 2 16 2-19 2 6 2 4 2 10 2-6 2-8 2 1 2-2 2 1 2 6 2 1 2-11 2 4 2 16 2-10 2-1 2-1 2-7 2 4 2 2 2 18 2-12 2-6 1 6V1462" stroke="#0072BD" stroke-width="2.8"/><path d="M248 1445l2-4 2-2 2-2 2-3 2-4 2-2 2-2 2-3 2-2 2-2 2-2 2-3 2-2 2-3 2-1 2-3 2 0 2-4 2-1 2-2 2-1 2-3 2-1 2-2 2-3 2-1 2 0 2-3 2-2 2-2 2-1 2-2 2-2 2-2 2-1 2-2 2-2 2-3 2-2 2-1 2-2 2-1 2-3 2-2 2-3 2-1 2-4 2 0 2-3 2-2 2-3 2-2 2-3 2-1 2-3 2-2 2-2 2-3 2-2 2-2 2-3 2-3 2-4 2-2 2-1 2-2 2-5 2-2 2-3 2-2 2-4 2-2 2-2 2-3 2-4 2-3 2-3 2-1 2-4 2-3 2-4 2-3 2-3 2-3 2-3 2-3 2-4 2-3 2-3 2-3 2-4 2-4 2-4 2-4 2-3 2-3 2-4 2-3 2-4 2-5 2-3 2-5 2-4 2-3 2-4 2-2 2-4 2-3 2-5 2-3 2-5 2-4 2-3 2-3 2-5 2-3 2-4 2-4 2-6 2-4 2-5 2-5 2-5 2-5 2-4 2-6 2-6 2-7 2-6 2-6 2-8 2-9 2-8 2-7 2-8 2-9 2-10 2-9 2-10 2-11 2-11 2-13 2-13 2-13 2-15 2-15 2-19 2-19 2-18 2-20 2-25 2-22 2-26 2-27 2-23 2-28 2-27 2-26 2-28 2-29 2-20 2-1 2 3 2-2 2 2 2-5 2 3 2 5 2-4 2 0 2-4 2 12 2-13 2 7 2-8 2-4 2-6 2 1 2 0 2-7 2-3 2 5 2 7 2-15 2-5 2 1 2 13 2-14 2-10 2 13 2-8 2 15 2 1 2-14 2 6 2-7 2 8 2-13 2 0 2-13 2 23 2-6 2-11 2-3 2 6 2 1 2-17 2 1 2 2 2-9 2 19 2-19 2 10 2 10 2-2 2-11 2 3 2-1 2 9 2-2 2-17 2 17 2 9 2-11 2-4 2 15 2-14 2 4 2-2 2 5 2-6 2 6 2-5 2-1 2 0 2-6 2-6 2 0 2 5 2-4 2 2 2-4 2 1 2-4 2 11 2-11 2 5 2 6 2-7 2-8 2 5 2-4 2 11 2-9 2-2 2-7 2 7 2 10 2-3 2-9 2 10 2-3 2-10 2-5 2 7 2 9 2-17 2 5 2 12 2-7 2 8 2-8 2 4 2 1 2-15 2 17 2-12 2 7 2-6 2 15 2-21 2 14 2-11 2-2 2-4 2 6 2 8 2-13 2 23 2-6 2 0 2-5 2-3 2 13 2-19 2 12 2-11 2 9 2-5 2 1 2 1 2 4 2-6 2 0 2 9 2-5 2 4 2-9 2 7 2 2 2-2 2 0 2-7 2 2 2 6 2-3 2-6 2-3 2-6 2 4 2-6 2 20 2-13 2-12 2-8 2 15 2 4 2-3 2-3 2 10 2-10 2 2 2 14 2-6 2 10 2-20 2 2 2 6 2-2 2 6 2-7 2 8 2-2 2-9 2-8 2 11 2-2 2 5 2-11 2 17 2-7 2 3 2 2 2-4 2-3 2 6 2-7 2 0 2 19 2-5 2-3 2 9 2-10 2 8 2-18 2 4 2 14 2-11 2 18 2-9 2-2 2-5 2 14 2-2 2-6 2-8 2 16 2 0 2 5 2-9 2 1 2 1 2-7 2 6 2-8 2 1 2-2 2-5 2-1 2 0 2 12 2-10 2-1 2 5 2-5 2-1 2 0 2 3 2-3 2-4 2 9 2-14 2 5 2 4 2-6 2 2 2 3 2-7 2-6 2-3 2 5 2 12 2-12 2 14 2-3 2 1 2-9 2 11 2 8 2-7 2 0 2 8 2 8 2-10 2 5 2-1 2-5 2 11 2-9 2 11 2-4 2 0 2-10 2-1 2 12 2-13 2 8 2-3 2-1 2 9 2 0 2 0 2-8 2-1 2 1 2 8 2-3 2-13 2-4 2 12 2-6 2-2 2 1 2-1 2 9 2-15 2 6 2 5 2 3 2-2 2-10 2 5 2 2 2-1 2-4 2 4 2 9 2-4 2-9 2 10 2 2 2-8 2 15 2 4 2-17 2 11 2 1 2-14 2 1 2-1 2 4 2-4 2-8 2 5 2 0 2 6 2-22 2 2 2 8 2-7 2 3 2-2 2 1 2-9 2 15 2-5 2 13 2-19 2 23 2-14 2 12 2-1 2-3 2 8 2-15 2 7 2 12 2-13 2 13 2-1 2-9 2 14 2-9 2-2 2 4 2-15 2 10 2 8 2 3 2-4 2-4 2 7 2-13 2 13 2-10 2-11 2 10 2 8 2-4 2-6 2 0 2-3 2 16 2-29 2 10 2 10 2-3 2-10 2 1 2 12 2-14 2 4 2 12 2-18 2 8 2 12 2-19 2 9 2 3 2 4 2-12 2 11 2 7 2-13 2 6 2-8 2 13 2 7 2-18 2 12 2-8 2-3 2 7 2 4 2-2 2 0 2 5 2 3 2 2 2-1 2-4 2 1 2 2 2-3 2-8 2 7 2-5 2 5 2-5 2 0 2-22 2 14 2-14 2 29 2-8 2-7 2-1 2 16 2-18 2 2 2 11 2-9 2-10 2 10 2-2 2 4 2-3 2 8 2-7 2 11 2-3 2 0 2-13 2-1 2 24 2-4 2 0 2-6 2 0 2 0 2-9 2 9 2-1 2 2 2 5 2-7 2 0 2-4 2-3 2 2 2 4 2 2 2-7 2 1 2 3 2-2 2-2 2 3 2 0 2-13 2 2 2 13 2-16 2 10 2 5 2-3 2 8 2-4 2-13 2 6 2 0 2 5 2-2 2 13 2-22 2 11 2 9 2-16 2 14 2 7 2-18 2 17 2-15 2-4 2 8 2-14 2 13 2-2 2 3 2-5 2 9 2-17 2 20 2-5 2-6 2-6 2 10 2-5 2-1 2-5 2 10 2 4 2 3 2-3 2 3 2-10 2 12 2-7 2-8 2 5 2-6 2 0 2 0 2 5 2 3 2-8 2-1 2-6 2 3 2 2 2 7 2 1 2-25 2 26 2-6 2-6 2 10 2 2 2-4 2-8 2 13 2-5 2 7 2 15 2-23 2 7 2 0 2-6 2 8 2-10 2-3 2 5 2 3 2-6 2 17 2-12 2 2 2-6 2-1 2 12 2 2 2-5 2-2 2 11 2 2 2-10 2 0 2 5 2-10 2 7 2-13 2 14 2-9 2 7 2-8 2-2 2-3 2 11 2 5 2-4 2-13 2 8 2 7 2-8 2 1 2-5 2 2 2-10 2 6 2 4 2-1 2 0 2 0 2 0 2 1 2 7 2-20 2 17 2-14 2 12 2-1 2 8 2-11 2-2 2 6 2-1 2-3 2 0 2 6 2-5 2-11 2 3 2 2 2 1 2 7 2-12 2 0 2 15 2-2 2-14 2 11 2 1 2-5 2 4 2-9 2 12 2 3 2-3 2 8 2 1 2 1 2-5 2-6 2 12 2-13 2-3 2 8 2-5 2 7 2-7 2 8 2-6 2-5 2 0 2 5 2-16 2 7 2 20 2-5 2-5 2 8 2 1 2-8 2 7 2-4 2 4 2-9 2 6 2 7 2-12 2 10 2 0 2-15 2 20 2 1 2-11 2-8 2 0 2 4 2-8 2 3 2 1 2 8 2-9 2 7 2 1 2-1 2 9 2 4 2-10 2-10 2 6V1462" stroke="#7E2F8E" stroke-width="2.8"/><path d="M248 1448l2-4 2-2 2-3 2-2 2-3 2-3 2-2 2-3 2-1 2-2 2-2 2-2 2-3 2-1 2-2 2-3 2-3 2-1 2-2 2-1 2-3 2-2 2-1 2-2 2-3 2-1 2-1 2-3 2-2 2-3 2-1 2-1 2-3 2-2 2-1 2-4 2 0 2-3 2-2 2-2 2-1 2-3 2-1 2-3 2-1 2-1 2-3 2-2 2-2 2-2 2-1 2-2 2-3 2-2 2-2 2-2 2-2 2-3 2-1 2-4 2-2 2-4 2-2 2-2 2-4 2-2 2-3 2-1 2-3 2-3 2-2 2-2 2-4 2-3 2-4 2-2 2-2 2-2 2-5 2-2 2-3 2-3 2-3 2-4 2-1 2-4 2-3 2-3 2-4 2-2 2-5 2-4 2-2 2-3 2-5 2-4 2-4 2-4 2-4 2-4 2-4 2-4 2-4 2-3 2-3 2-4 2-3 2-4 2-3 2-5 2-5 2-3 2-4 2-4 2-6 2-2 2-5 2-6 2-3 2-3 2-5 2-5 2-5 2-5 2-5 2-5 2-6 2-6 2-4 2-7 2-7 2-8 2-7 2-9 2-7 2-8 2-9 2-10 2-10 2-9 2-10 2-13 2-10 2-14 2-15 2-14 2-16 2-17 2-18 2-20 2-21 2-22 2-22 2-25 2-28 2-22 2-22 2-34 2-18 2-28 2-36 2-4 2 0 2 0 2 6 2-3 2-7 2-1 2-2 2 7 2-6 2 3 2-1 2-10 2 7 2 0 2-2 2-9 2-2 2-3 2-5 2 10 2-1 2-11 2 9 2-3 2-2 2-4 2 3 2-10 2 8 2 1 2 3 2-14 2 9 2-15 2 9 2-5 2-13 2 3 2 2 2 5 2-2 2-12 2 5 2-10 2 7 2 5 2 2 2-5 2-1 2-2 2 14 2-7 2-3 2 5 2-9 2-1 2 3 2 1 2-10 2 6 2-8 2-6 2 11 2 3 2-9 2-3 2-4 2 7 2 1 2 1 2 3 2-12 2-2 2-4 2 6 2 9 2-5 2-3 2 1 2 14 2 1 2-8 2 0 2-10 2 8 2 8 2-18 2-8 2 7 2 5 2-2 2 0 2-1 2-5 2 9 2-6 2-11 2 4 2 2 2-4 2-2 2 9 2 2 2-4 2 10 2-19 2 5 2-1 2 1 2-2 2 6 2-14 2 6 2 6 2 9 2-10 2 12 2-14 2 2 2 1 2 2 2 0 2-1 2-4 2-6 2 18 2-14 2 5 2-6 2 0 2 4 2-11 2 10 2-10 2 0 2-9 2 11 2-3 2-7 2 5 2 1 2-5 2 15 2-8 2-1 2-2 2 9 2 1 2-3 2 2 2 4 2 1 2 3 2-7 2 3 2 7 2-8 2-2 2 2 2-8 2 5 2 1 2 6 2-1 2 1 2 7 2-15 2 21 2-13 2 2 2 2 2-4 2 7 2-3 2-13 2 2 2 6 2-4 2 3 2-2 2 3 2-7 2 6 2 4 2 1 2-9 2 4 2 0 2 9 2-7 2 7 2-8 2 10 2-12 2 8 2-13 2 12 2-7 2-7 2 3 2 0 2-7 2 7 2 7 2-4 2-5 2 0 2 7 2 0 2-3 2 8 2-16 2-3 2 9 2 4 2-12 2 6 2 5 2-7 2 4 2 6 2-10 2 12 2 0 2-2 2-2 2-3 2-9 2 6 2-3 2 8 2 6 2-17 2-6 2 7 2 5 2-1 2 7 2 2 2-8 2 3 2 4 2-4 2 11 2-6 2 3 2-1 2 3 2 9 2-8 2-6 2 9 2-3 2-5 2 6 2-5 2 6 2-3 2-12 2 15 2-6 2-10 2 11 2 0 2-7 2-7 2 8 2 0 2-9 2 12 2 11 2-19 2 1 2 1 2 3 2-13 2 9 2-3 2-3 2 0 2 0 2 2 2 3 2-12 2 6 2 11 2-5 2-11 2 19 2-5 2-5 2 6 2 0 2 2 2-8 2 9 2 3 2 8 2-9 2-11 2 3 2-16 2 16 2 3 2-8 2 7 2-13 2 13 2-3 2-1 2 4 2 10 2-19 2 9 2 7 2-10 2 3 2 0 2 0 2-6 2 2 2-3 2-1 2 14 2-7 2-7 2 5 2-9 2 5 2 2 2 2 2 1 2 4 2-12 2 12 2-7 2 10 2 6 2-1 2-1 2 0 2-10 2 6 2 10 2-5 2 3 2-13 2-14 2 12 2 4 2-4 2-5 2 6 2-3 2 5 2-1 2 5 2-6 2-4 2 10 2-12 2 9 2 8 2 0 2-19 2 18 2-1 2-3 2-5 2 3 2 2 2-5 2 3 2 0 2 13 2-8 2-2 2-4 2-1 2-10 2 8 2 5 2-9 2 8 2-9 2 4 2-3 2-8 2 16 2-3 2-2 2-2 2 2 2 9 2 6 2-8 2-1 2-2 2 0 2 3 2 0 2-1 2-8 2-4 2 10 2-8 2 6 2-1 2-9 2 7 2 2 2-11 2 2 2 9 2-2 2-16 2 20 2 3 2-12 2 10 2 5 2-6 2-10 2 13 2-1 2 16 2-6 2-4 2 10 2 1 2-3 2 2 2-5 2-5 2-6 2 7 2 0 2 7 2-9 2 6 2-14 2-5 2 10 2-9 2 1 2 4 2-3 2-2 2-5 2 11 2-2 2 2 2 3 2-8 2 4 2-2 2-9 2 15 2-5 2-4 2 4 2-6 2-2 2 3 2-14 2-1 2 9 2 6 2 2 2-5 2 8 2-17 2-5 2 21 2-2 2 8 2 3 2 4 2-9 2 0 2-8 2 21 2-7 2 13 2-8 2 1 2-2 2-4 2-10 2 22 2-17 2 15 2-16 2 2 2 6 2-3 2-8 2 12 2-4 2-12 2 7 2-4 2 3 2-3 2-2 2 9 2-7 2 9 2 1 2-2 2-8 2 7 2 3 2 4 2-3 2 13 2-18 2 7 2-15 2 7 2 7 2-4 2 8 2-13 2 5 2-1 2 6 2 0 2 4 2-15 2 4 2-3 2-9 2-2 2 13 2-2 2-2 2-3 2-1 2-1 2 8 2 2 2-2 2-4 2 3 2 0 2 9 2 2 2-9 2 7 2-8 2-6 2 13 2-6 2 2 2 2 2 0 2 3 2-9 2 3 2 0 2-6 2 7 2-11 2-2 2 2 2-3 2 3 2 9 2-16 2 14 2-9 2-3 2 4 2 6 2-7 2 16 2-14 2 12 2-5 2 15 2-10 2 13 2-11 2 7 2-9 2 9 2 2 2-7 2 7 2-16 2 2 2 9 2 12 2-20 2 16 2-14 2-2 2-8 2 7 2 11 2-18 2 9 2-10 2 10 2-13 2 11 2 6 2-14 2-1 2 1 2-9 2 11 2 13 2-13 2 12 2 0 2-15 2 14 2-1 2 2 2-1 2 5 2 1 2-15 2 6 2 4 2 7 2-16 2 19 2-6 2-1 2-6 2 0 2 4 2-8 2 1 2-11 2 9 2 4 2-4 2-9 2 13 2-9 2 2 2-7 2 19 2-12 2 0 2 22 2-12 2-6 2 4 2 6 2-6 2 12 2-9 2 9 2-10 2 2 2 2 2-2 2-3 2-6 2 16 2-2 2-2 2-2 2-3 2 8 2-6 2 0 2-2 2-2 2 1 2-6 2 1 2 3 2-14 1 18V1462" stroke="#7E2F8E" stroke-width="2.8"/><path d="M248 1451l2-3 2-4 2-2 2-4 2-2 2-3 2-3 2-3 2-2 2-3 2-2 2-3 2-1 2-3 2-2 2 0 2-3 2-1 2-3 2-1 2-2 2-1 2-3 2-1 2-2 2-2 2-2 2 0 2-4 2-2 2-1 2-1 2-3 2-3 2-2 2-1 2-2 2-3 2-1 2-2 2-2 2-2 2-2 2-2 2 0 2-3 2-1 2-2 2-4 2-1 2-2 2-2 2-3 2-2 2-2 2-3 2-2 2-2 2-3 2-1 2-3 2-2 2-3 2-3 2-1 2-2 2-4 2-2 2-2 2-3 2-3 2-3 2-2 2-3 2-2 2-3 2-3 2-3 2-3 2-4 2-2 2-4 2-2 2-4 2-2 2-3 2-4 2-3 2-2 2-4 2-3 2-3 2-4 2-3 2-3 2-4 2-4 2-4 2-5 2-4 2-2 2-4 2-4 2-5 2-2 2-5 2-3 2-4 2-4 2-3 2-5 2-3 2-4 2-4 2-6 2-3 2-5 2-5 2-4 2-4 2-4 2-4 2-5 2-5 2-5 2-3 2-6 2-5 2-6 2-6 2-6 2-7 2-8 2-8 2-7 2-9 2-8 2-9 2-9 2-9 2-12 2-10 2-12 2-12 2-12 2-13 2-13 2-17 2-17 2-17 2-19 2-21 2-25 2-18 2-26 2-27 2-25 2-26 2-18 2-37 2-24 2-35 2-24 2-29 2-1 2 4 2 7 2-16 2 6 2-7 2 5 2-4 2 1 2-6 2-4 2 4 2-2 2 0 2-5 2-1 2 7 2-10 2 0 2 1 2 6 2-18 2 23 2-12 2-1 2 3 2 5 2-13 2 7 2 2 2-2 2-5 2 10 2-9 2 10 2-2 2-4 2-7 2 12 2-2 2-10 2 2 2-7 2 18 2-7 2-7 2 10 2 0 2 2 2 9 2-10 2 15 2-6 2-8 2 6 2 3 2-3 2 0 2 1 2-1 2 1 2-15 2 13 2-15 2 6 2-2 2 0 2-3 2 0 2-9 2 1 2 3 2-6 2 9 2 2 2-16 2 1 2 7 2 3 2-5 2 9 2-8 2-2 2 3 2 15 2-3 2-1 2 0 2-9 2 9 2 7 2-9 2 5 2 7 2-1 2 4 2-7 2-3 2-4 2 9 2-10 2 3 2 1 2-12 2 7 2-7 2 6 2-7 2 16 2-4 2-5 2 4 2-7 2 11 2-3 2-4 2 3 2-1 2 5 2-10 2 2 2-5 2 3 2 6 2 1 2-4 2 0 2-3 2 0 2-2 2-2 2 12 2-5 2 5 2 5 2-11 2 18 2-9 2-9 2 16 2-7 2-1 2 0 2-1 2-4 2 2 2-4 2 10 2-8 2 2 2-9 2 9 2-8 2-2 2 1 2 0 2 3 2-5 2-4 2-4 2 5 2 5 2-4 2-9 2-2 2 8 2 2 2-10 2 13 2-6 2 5 2 5 2 2 2 6 2-1 2 1 2-9 2 15 2-16 2 12 2-1 2 5 2-4 2 7 2-5 2-6 2 14 2-1 2-11 2 6 2 1 2 3 2-3 2-2 2-1 2 5 2-1 2-3 2-3 2 2 2 0 2 0 2 13 2-9 2 11 2-11 2-2 2-10 2 9 2-2 2 7 2-13 2 17 2-17 2 2 2 2 2 2 2-4 2-8 2 7 2-9 2 9 2 6 2-4 2-8 2 9 2-6 2 9 2-8 2 14 2-6 2-4 2 4 2 5 2 1 2-8 2-7 2 14 2-12 2 8 2-9 2 9 2 3 2-5 2-2 2-10 2 14 2-3 2 4 2 7 2-5 2 1 2-1 2-1 2-2 2 0 2-5 2 6 2-9 2 8 2 11 2-13 2 3 2-7 2 4 2 2 2-1 2-3 2-3 2 1 2 12 2-7 2-2 2 6 2-5 2 5 2 3 2-4 2 4 2-16 2 13 2-9 2 2 2 3 2-6 2 3 2 14 2-7 2 3 2 0 2-7 2-4 2 2 2 0 2-7 2 15 2-8 2-2 2 0 2 9 2 4 2-1 2-4 2 1 2-4 2 0 2 6 2-9 2 4 2-13 2 10 2-16 2 7 2 5 2-9 2 16 2-14 2 13 2-17 2 13 2-10 2 0 2-1 2 11 2 2 2-7 2 5 2-10 2 15 2 1 2-1 2-9 2 2 2 0 2-10 2 0 2-1 2 4 2-5 2-1 2 2 2 1 2 5 2 0 2-7 2 7 2 4 2 3 2-6 2 3 2-4 2 11 2-5 2-7 2-2 2 5 2 1 2 1 2-7 2 6 2 2 2-3 2-9 2 7 2 6 2-7 2 1 2-2 2 1 2 2 2-2 2-11 2 3 2 10 2-3 2-2 2 2 2-7 2 11 2 2 2 7 2-9 2-6 2 2 2 3 2 11 2-10 2 0 2-3 2 10 2 8 2-15 2 4 2 3 2 1 2 5 2-8 2 1 2 2 2 6 2-8 2-7 2 10 2-8 2 5 2 2 2 0 2-1 2-15 2 1 2-3 2 19 2-11 2 3 2 10 2-7 2 11 2-6 2-9 2 3 2 5 2 12 2-13 2 1 2 1 2 2 2-4 2-2 2 2 2 13 2-15 2 9 2 1 2 4 2-4 2-3 2-1 2-1 2-9 2 16 2 3 2-9 2-1 2 10 2 0 2-7 2 4 2 0 2-13 2 7 2 8 2-8 2 4 2 0 2-8 2-2 2-6 2 8 2 7 2-10 2 20 2-16 2-4 2-3 2 4 2-6 2 21 2-26 2 7 2 0 2 3 2 1 2 0 2-6 2 7 2 3 2-4 2 7 2 1 2 0 2 1 2-9 2 4 2 6 2-7 2 4 2-1 2-5 2-6 2 19 2-16 2-5 2 5 2-7 2 15 2 0 2 1 2-5 2-6 2 7 2-2 2-11 2 13 2-10 2 4 2 3 2 1 2 6 2-3 2 4 2-9 2 5 2 4 2-4 2 9 2-10 2 13 2-13 2 6 2-10 2 12 2-9 2 3 2-3 2 5 2-3 2-1 2-12 2 7 2 6 2-11 2 7 2 4 2-16 2 7 2-3 2 3 2 1 2-4 2-3 2 12 2-3 2 1 2-5 2 15 2-7 2 1 2-11 2 3 2 4 2-16 2 18 2-9 2-5 2-5 2 13 2-6 2 17 2-11 2 2 2-1 2 9 2-9 2 7 2-4 2-3 2-5 2 9 2-13 2 15 2-12 2 6 2-4 2 3 2 1 2 7 2-6 2 3 2-2 2-5 2 9 2 16 2-13 2 2 2-2 2 1 2-8 2 9 2-5 2-3 2-7 2 8 2-9 2 0 2-4 2 12 2-4 2 1 2-2 2 9 2-1 2-7 2-4 2 9 2 1 2 3 2 3 2 4 2-3 2 7 2-6 2 12 2-2 2 0 2-2 2 4 2-1 2-13 2 10 2-2 2-6 2 2 2 2 2-2 2-4 2-4 2 13 2-12 2 10 2 1 2-3 2 4 2-8 2 4 2 4 2-8 2 3 2 3 2-9 2-5 2 12 2 2 2-10 2 6 2-12 2 3 2-9 2 4 2 18 2-5 2 2 2 2 2-15 2 4 2-6 2 10 2-12 2 13 2-1 2-12 2 7 2-4 2 1 2-8 2 1 2 3 2-3 2 12 2-9 2 3 2-5 2-1 2 6 2 10 2-4 2-7 2 5 2 1 2-3V1462" stroke="#A2142F" stroke-width="2.8"/><path d="M248 1300l2-2 2-4 2-3 2-2 2-3 2-4 2-2 2-4 2-3 2-3 2-4 2-4 2-2 2-2 2-4 2-4 2-5 2 0 2-5 2-2 2-4 2-2 2-4 2-1 2-5 2-2 2-2 2-3 2-2 2-3 2-4 2-3 2-2 2-3 2-3 2-3 2-3 2-3 2-2 2-4 2-3 2-4 2-3 2-3 2-4 2-4 2-2 2-4 2-3 2-2 2-3 2-3 2-3 2-3 2-2 2-3 2-3 2-4 2-2 2-3 2-4 2-4 2-2 2-4 2-3 2-4 2-2 2-4 2-4 2-2 2-3 2-3 2-4 2-3 2-2 2-4 2-3 2-3 2-3 2-1 2-4 2-3 2-2 2-3 2-2 2-3 2-2 2-3 2-2 2-4 2-3 2-3 2-3 2-3 2-5 2-5 2-4 2-5 2-4 2-4 2-4 2-6 2-4 2-6 2-5 2-6 2-4 2-6 2-7 2-7 2-6 2-6 2-6 2-5 2-8 2-4 2-4 2-4 2-3 2-4 2-3 2-4 2-2 2-3 2-4 2-4 2-3 2-5 2-4 2-2 2-4 2-5 2-2 2-5 2-4 2-3 2-4 2-5 2-5 2-2 2-6 2-5 2-6 2-6 2-7 2-9 2-6 2-8 2-13 2-14 2-24 2-23 2-22 2-24 2-20 2-9 2-19 2-22 2-21 2-11 2-22 2-9 2 5 2-11 2 8 2-1 2 9 2-10 2 6 2-7 2-1 2-1 2 4 2 2 2-4 2 3 2-5 2 8 2-9 2 12 2-7 2 6 2 0 2-2 2-4 2 3 2 0 2 1 2-7 2 4 2-7 2 2 2 3 2-3 2-1 2-1 2-4 2 8 2-10 2 7 2-7 2-1 2 1 2 13 2-11 2 3 2 8 2-6 2-3 2 1 2 8 2-6 2 0 2 0 2 1 2 0 2-5 2-4 2 11 2 0 2-11 2 1 2 2 2-7 2 4 2-1 2 7 2-3 2-2 2-4 2 12 2-3 2-10 2 11 2 5 2 5 2-3 2-5 2 7 2-13 2 12 2 0 2-4 2-11 2-9 2 25 2-9 2-1 2 3 2 5 2-13 2 14 2 0 2 0 2-1 2-14 2 7 2 7 2-7 2 6 2-6 2-5 2 8 2-3 2 3 2-3 2-12 2 6 2-7 2 1 2 14 2-5 2-2 2 2 2 11 2-4 2 0 2 0 2-7 2-8 2-1 2 13 2 1 2-8 2 0 2-1 2 0 2 4 2-6 2 11 2-9 2 6 2-5 2 5 2 3 2-2 2 2 2-2 2 1 2-9 2-1 2 8 2-6 2-2 2 13 2-9 2-6 2 9 2 4 2 3 2 2 2-4 2-12 2-1 2 5 2 10 2-12 2 6 2 1 2-15 2 6 2 1 2 1 2 0 2-2 2 0 2 5 2-1 2-2 2-9 2 11 2-3 2 5 2-3 2-2 2 1 2 1 2 5 2-9 2-7 2 10 2-9 2 4 2 0 2 4 2 7 2-11 2-3 2 4 2-7 2 6 2-4 2 15 2-18 2 3 2 6 2-13 2 5 2-2 2-10 2 7 2 5 2-3 2-9 2 3 2 12 2 4 2-2 2 12 2-16 2 18 2-9 2 9 2-12 2-2 2 11 2-1 2-15 2 10 2 7 2-7 2 4 2 6 2 3 2-1 2-2 2-14 2 20 2-3 2 7 2 4 2-4 2 1 2 7 2-14 2-3 2 12 2-16 2 4 2-8 2 7 2-10 2-1 2-4 2-1 2-6 2-1 2-3 2 7 2 1 2 10 2-15 2 18 2-11 2 1 2-8 2-1 2 13 2 1 2-4 2-2 2-5 2 4 2 4 2 4 2-12 2 15 2-9 2 8 2-3 2-1 2-3 2 4 2-3 2-4 2-5 2 5 2 8 2 7 2-11 2-2 2 19 2-15 2-2 2 7 2 3 2-6 2 3 2 7 2 1 2-7 2 1 2 2 2-6 2-1 2-6 2 14 2 3 2-4 2-6 2 8 2-5 2 1 2-2 2 5 2-1 2 3 2-7 2-2 2 2 2 1 2 0 2-13 2 3 2 1 2-2 2 4 2-6 2 2 2 4 2 5 2-8 2 11 2-2 2 1 2-1 2 7 2-6 2 5 2 1 2-3 2 0 2-5 2 6 2-3 2-2 2 9 2-5 2-4 2 1 2-1 2-6 2-6 2 3 2 6 2-3 2 1 2-5 2 1 2 4 2 0 2 11 2-11 2 0 2-3 2 1 2 10 2-11 2 12 2-7 2 12 2-14 2 1 2 0 2 9 2-1 2-4 2-5 2-9 2 14 2-5 2 1 2-1 2-3 2-14 2 7 2-8 2 15 2-15 2 3 2-2 2 12 2 9 2-9 2 6 2-3 2-2 2-9 2 16 2-8 2 3 2 4 2-2 2 2 2-6 2 18 2-2 2-3 2-4 2 2 2 4 2 2 2-9 2-3 2 8 2 2 2-8 2 3 2 3 2-5 2 6 2-6 2 0 2 0 2-1 2 1 2-7 2 10 2-7 2 11 2-12 2 9 2-5 2-1 2-6 2-3 2 4 2 4 2-4 2 3 2-7 2-5 2 1 2 6 2-13 2 2 2 0 2 2 2-5 2 11 2-6 2 3 2-8 2 6 2-1 2 3 2-3 2 3 2 3 2 5 2-6 2 3 2-1 2 8 2-5 2-5 2 8 2-3 2 11 2-5 2-2 2-1 2 4 2 1 2-1 2 5 2 15 2-14 2 2 2-5 2 3 2 0 2-8 2-1 2 7 2-2 2-4 2 0 2-7 2 8 2-13 2 15 2 1 2-17 2-5 2 8 2-4 2-3 2 0 2 19 2-10 2-3 2-1 2-2 2-1 2 2 2 0 2 9 2-18 2 12 2 6 2 1 2-1 2-1 2 5 2 1 2-2 2-8 2 5 2-3 2-6 2 1 2 0 2 9 2-2 2 4 2-1 2-2 2 3 2-3 2 6 2-3 2 11 2-9 2 9 2-9 2 4 2-4 2 4 2 7 2-14 2 4 2-1 2 3 2-12 2 6 2-5 2 17 2-7 2-5 2 4 2 3 2-12 2 0 2 13 2-9 2-14 2 0 2 2 2 2 2 15 2-13 2 9 2-3 2-7 2 9 2-9 2 7 2-1 2 2 2-4 2 6 2-2 2-2 2-9 2 1 2 6 2-7 2 10 2-7 2 4 2-4 2 10 2-12 2 4 2 0 2-3 2 2 2 12 2-8 2-1 2 0 2-2 2 3 2 3 2-10 2 10 2-3 2 5 2-3 2-5 2-2 2 0 2 11 2-16 2 13 2-1 2 6 2-4 2 0 2 3 2-1 2 9 2 5 2-7 2 4 2-4 2-4 2 12 2-6 2-1 2 9 2-7 2 6 2 0 2-13 2 11 2-6 2 0 2-5 2-4 2 4 2 1 2 4 2-9 2-6 2 9 2 0 2-1 2 8 2-14 2 2 2 4 2 9 2-3 2-12 2 13 2-5 2-1 2 1 2 1 2-2 2-1 2-4 2 1 2-1 2 9 2-10 2 2 2 0 2-13 2 13 2-4 2 4 2 4 2-9 2 6 2-11 2 1 2 3 2 5 2-5 2 1 2 5 2-14 2 11 2-6 2 5 2-2 2 0 2 1 2 4 2 7 2-5 2-17 2 18 2-3 2 2 2-9 2 11 2-1V1462" stroke="#77AC30" stroke-width="2.8"/><path d="M248 1455l2-2 2-4 2-2 2-3 2-4 2-2 2-4 2-3 2-1 2-4 2-2 2-1 2-4 2-3 2-1 2-2 2-1 2-4 2-1 2-2 2-1 2-2 2-2 2-2 2-1 2-2 2-2 2-2 2-1 2-2 2-2 2-1 2-2 2-3 2-1 2-1 2-2 2-1 2-4 2 1 2-3 2-1 2-3 2-2 2-1 2-2 2-2 2-3 2-1 2-2 2-3 2-2 2-1 2-3 2-3 2-2 2-4 2-3 2-1 2-4 2-2 2-3 2-3 2-2 2-3 2-2 2-3 2-2 2-2 2-3 2-1 2-3 2-5 2-2 2-2 2-3 2-2 2-4 2-2 2-4 2-3 2-3 2-4 2-3 2-3 2-3 2-3 2-3 2-2 2-3 2-4 2-2 2-4 2-3 2-3 2-5 2-2 2-4 2-4 2-2 2-5 2-4 2-4 2-3 2-3 2-4 2-5 2-4 2-3 2-5 2-2 2-5 2-4 2-4 2-4 2-5 2-2 2-7 2-4 2-3 2-5 2-5 2-5 2-4 2-4 2-7 2-3 2-6 2-4 2-6 2-5 2-7 2-7 2-8 2-7 2-8 2-8 2-8 2-10 2-9 2-10 2-9 2-11 2-11 2-12 2-12 2-15 2-12 2-15 2-16 2-15 2-19 2-19 2-21 2-22 2-23 2-26 2-19 2-34 2-18 2-31 2-32 2-28 2-33 2-3 2-7 2 6 2-5 2-3 2-2 2-3 2 6 2-3 2 1 2 8 2-3 2-6 2 3 2 8 2 2 2-9 2-4 2 6 2-13 2 9 2 0 2-5 2-13 2 10 2 8 2-10 2 5 2-14 2 6 2 4 2-2 2 2 2 1 2-7 2 10 2-2 2-1 2 8 2-2 2-5 2 1 2 5 2-4 2-2 2 10 2-7 2 1 2-5 2 5 2-13 2 13 2 2 2-3 2-1 2-2 2-4 2-2 2-3 2-1 2 14 2-9 2 9 2 2 2-3 2-4 2 5 2 2 2 10 2-13 2 10 2 3 2-8 2 9 2-1 2-4 2 1 2-2 2 2 2-8 2-4 2-2 2-1 2 8 2-8 2-3 2-2 2 8 2 4 2-8 2 5 2 5 2-5 2 7 2 10 2-7 2 7 2-21 2 6 2 4 2 8 2-12 2-4 2 8 2-8 2 3 2 2 2 3 2-3 2 7 2-13 2 5 2 3 2-1 2-2 2-8 2 5 2-1 2 4 2 1 2-2 2-1 2 6 2-6 2 9 2 2 2-12 2-4 2-5 2 4 2-5 2-8 2 3 2-4 2-1 2 2 2 2 2-7 2 11 2-13 2 16 2-4 2 1 2-4 2 14 2-4 2-10 2 0 2 6 2 5 2-2 2-6 2-2 2 7 2 1 2 5 2-11 2 5 2-5 2 12 2-1 2 3 2-9 2 8 2-4 2-1 2 2 2 4 2-6 2-5 2 4 2 2 2 1 2 7 2-5 2 0 2-1 2 3 2 6 2-12 2 1 2 8 2-5 2 3 2 8 2 8 2-10 2 0 2 1 2 4 2-6 2 2 2-3 2 15 2-9 2-4 2 0 2 1 2 4 2-5 2 2 2-6 2 1 2 4 2-5 2 1 2-4 2 8 2 6 2-13 2-3 2 4 2-1 2-5 2 6 2-3 2-7 2 7 2-6 2 5 2 2 2 8 2-4 2-7 2 0 2 7 2-3 2-5 2 3 2 4 2-7 2-3 2 8 2-10 2-3 2-13 2 10 2 2 2-6 2-3 2 15 2-9 2-7 2 3 2 0 2-1 2-1 2-2 2 8 2 12 2-8 2 0 2-5 2 3 2 0 2-6 2 15 2-10 2 1 2 2 2-5 2 0 2-1 2 1 2 14 2-6 2 4 2 1 2 9 2 0 2 7 2-9 2-1 2 6 2 2 2 1 2 0 2 1 2 0 2-6 2-3 2-1 2 0 2-4 2-2 2-11 2 2 2 1 2 9 2-3 2 1 2-6 2 2 2-2 2 10 2 0 2 4 2-5 2 2 2 4 2-2 2 6 2-4 2 4 2 16 2-12 2 5 2 6 2-7 2-13 2 11 2 1 2-7 2 3 2 1 2-10 2-2 2-4 2 9 2-6 2-4 2-7 2 13 2-11 2 1 2 0 2 1 2-2 2 3 2-3 2-4 2 7 2 9 2-4 2-3 2 4 2-2 2-13 2 10 2 0 2-8 2 2 2 4 2-9 2 1 2 4 2 11 2 0 2 0 2-7 2 6 2 0 2-1 2 11 2-7 2-3 2 3 2 0 2 4 2-7 2-12 2 8 2-2 2 4 2-2 2-5 2-2 2 11 2-1 2-2 2-2 2-2 2 1 2 2 2 0 2-6 2 12 2-10 2 11 2-1 2-3 2 0 2 1 2 5 2-4 2 5 2 0 2 3 2-3 2-1 2 7 2-10 2-3 2 5 2-6 2-4 2 7 2 8 2-18 2 14 2-4 2-1 2 0 2 0 2-5 2 5 2 5 2-2 2-8 2 10 2-2 2-4 2 1 2 3 2-3 2-2 2 2 2-17 2 4 2-9 2 8 2 3 2-10 2-3 2 1 2-1 2 7 2-10 2 7 2-1 2 3 2-1 2-8 2 13 2 10 2 8 2-2 2-9 2 15 2-4 2 0 2-7 2 1 2 7 2-15 2 10 2-14 2 7 2 10 2 2 2-3 2-2 2-2 2 7 2-5 2 2 2-5 2 4 2 8 2-13 2 3 2 10 2-5 2-3 2 5 2-3 2-6 2-6 2-9 2 7 2-5 2 0 2 11 2-21 2 15 2 2 2-3 2-1 2 13 2-10 2 15 2-14 2 9 2 4 2-5 2-5 2 7 2 4 2-1 2-13 2 8 2-3 2 15 2-9 2-7 2 0 2 3 2-7 2 7 2-1 2-4 2 2 2 8 2-11 2 7 2-8 2-4 2 6 2-2 2-9 2 5 2-3 2-1 2 2 2-5 2-4 2 6 2-4 2 5 2 1 2 0 2 8 2 6 2 2 2 3 2 1 2-4 2-5 2-1 2 1 2 5 2-1 2-3 2 2 2 0 2-2 2 7 2-2 2-7 2 3 2 3 2-1 2 3 2-2 2 2 2-7 2 5 2 0 2 0 2 7 2-7 2-2 2 0 2 13 2-10 2 0 2-4 2-3 2 3 2 7 2-11 2-3 2 12 2-7 2 0 2 7 2-11 2 7 2-7 2 9 2-3 2-5 2 17 2-12 2-5 2 2 2-5 2 4 2 5 2-3 2 1 2-1 2 3 2-13 2 7 2 4 2 4 2 0 2-5 2-4 2 0 2 6 2-8 2-6 2 20 2-25 2 13 2-2 2 3 2-3 2 0 2-8 2 13 2-3 2 5 2 12 2-21 2 13 2 2 2 1 2-6 2 5 2 0 2-11 2 12 2-2 2-1 2-4 2-6 2 13 2-6 2 2 2 6 2-7 2 4 2-5 2-3 2-1 2 4 2-6 2-4 2 4 2 4 2-5 2-1 2-5 2 7 2 1 2-1 2-2 2-6 2 4 2-9 2 7 2-5 2 4 2-8 2 1 2 11 2-11 2 0 2 3 2-6 2 6 2-5 2 4 2 0 2 5 2 3 2-8 2 10 2-1 2 3 2-3 2 2 2-2 2 12 2-9 2 3 2 1 2 3 2 4 2-10 2 8 2 1 2-8 2-6 2 7 1 6V1462" stroke="#A2142F" stroke-width="2.8"/><path d="M248 1457l2-2 2-4 2-3 2-1 2-3 2-4 2-3 2-1 2-3 2-3 2-2 2-2 2-1 2-3 2-4 2-2 2-3 2-3 2 0 2-2 2-1 2-3 2-1 2-3 2-3 2-1 2-2 2-3 2 0 2-2 2-3 2-1 2-2 2-1 2-2 2-2 2-2 2-1 2-2 2-1 2-2 2-2 2-2 2-3 2-1 2-1 2-2 2-1 2-3 2-1 2-4 2-1 2-3 2-1 2-3 2-4 2-2 2-2 2-3 2-3 2-3 2-1 2-3 2-2 2-3 2-1 2-3 2-2 2-2 2-2 2-3 2-1 2-4 2-3 2-2 2-4 2-2 2-3 2-4 2-2 2-3 2-3 2-2 2-3 2-3 2-3 2-3 2-2 2-4 2-3 2-3 2-4 2-2 2-4 2-3 2-5 2-3 2-4 2-4 2-2 2-5 2-5 2-4 2-3 2-4 2-4 2-3 2-3 2-5 2-3 2-4 2-4 2-6 2-4 2-3 2-3 2-5 2-5 2-5 2-4 2-5 2-5 2-3 2-5 2-5 2-3 2-7 2-3 2-4 2-7 2-5 2-6 2-7 2-5 2-8 2-8 2-8 2-8 2-9 2-8 2-10 2-9 2-10 2-11 2-10 2-13 2-11 2-15 2-14 2-14 2-16 2-17 2-18 2-20 2-21 2-24 2-21 2-27 2-20 2-30 2-24 2-22 2-35 2-27 2-31 2 4 2-2 2 5 2-1 2-1 2-2 2-1 2 1 2-5 2 4 2-1 2-3 2 0 2 2 2-2 2-3 2 8 2-3 2-6 2 8 2-6 2 0 2 3 2-7 2 3 2 1 2-4 2 2 2-9 2 5 2-4 2 8 2-2 2-13 2 10 2 9 2-16 2 15 2-3 2-2 2 4 2-5 2 1 2-10 2 11 2-5 2 0 2-2 2 10 2-13 2 3 2-9 2 9 2-3 2-1 2-7 2 2 2 0 2 10 2-2 2-2 2 2 2 7 2 0 2-4 2-2 2 2 2-7 2 4 2 2 2-4 2 9 2-8 2-3 2 7 2-5 2 6 2-5 2 0 2 2 2 3 2-9 2-1 2 2 2 3 2-9 2-2 2-3 2 0 2-7 2 14 2-7 2 0 2 7 2-10 2 2 2-7 2 4 2-4 2 11 2-14 2 9 2 1 2 4 2 2 2 3 2 7 2-4 2 12 2-4 2-11 2 6 2 0 2-4 2 7 2 0 2-17 2 7 2 11 2-8 2 0 2 3 2 5 2 0 2-10 2 9 2 9 2-16 2 1 2-5 2 3 2-1 2 3 2-1 2 5 2-3 2-9 2 7 2 1 2-9 2 10 2-7 2 8 2 1 2-10 2 6 2 5 2-2 2-4 2 7 2-7 2 8 2-1 2 3 2-12 2 6 2-1 2-4 2 0 2 8 2-4 2-2 2 5 2-1 2-2 2-5 2 12 2-6 2 2 2-3 2 7 2-19 2 2 2 10 2-3 2-16 2 9 2-7 2-3 2 8 2-1 2 3 2-4 2-2 2-7 2 18 2-5 2 6 2-12 2 11 2 3 2 4 2-10 2 3 2 10 2-4 2 0 2-3 2-2 2 1 2 11 2-5 2 2 2-2 2 1 2 0 2 1 2-3 2 0 2 8 2-14 2 9 2-13 2 5 2-3 2 10 2 3 2-7 2-2 2 8 2-10 2 3 2-4 2 4 2-7 2 6 2 8 2-8 2-4 2 4 2 6 2-3 2-2 2-2 2 0 2 2 2 2 2 3 2-5 2-3 2 6 2-5 2 13 2-11 2 0 2 5 2-13 2 2 2 2 2-8 2-2 2 16 2-15 2 14 2-12 2 8 2-1 2-8 2 10 2-1 2-10 2 4 2 4 2 7 2 6 2-10 2 5 2-2 2 6 2 3 2-9 2 9 2-1 2-7 2-2 2 8 2-9 2 1 2 4 2 0 2 0 2-9 2 4 2-2 2 2 2-2 2-2 2 8 2 0 2 4 2-2 2 0 2-6 2 15 2-3 2-7 2 2 2 8 2-4 2-8 2-1 2 5 2 6 2-8 2 6 2 1 2-4 2-5 2 5 2-2 2 2 2-4 2-4 2 7 2-8 2 8 2-6 2 4 2-9 2 4 2-2 2 1 2-1 2 4 2-9 2 8 2-7 2-3 2 1 2 1 2 2 2 3 2-4 2-4 2 3 2 6 2-2 2-6 2 10 2-10 2 5 2-8 2 14 2-4 2-4 2 5 2-4 2 13 2-8 2-6 2 0 2 0 2 11 2-3 2-6 2 6 2 3 2-10 2 0 2 5 2 1 2-4 2 2 2 2 2-5 2 3 2-3 2 5 2 6 2 1 2-11 2 2 2-1 2 5 2 3 2-3 2-9 2 3 2 9 2-5 2-5 2 7 2 1 2-2 2 4 2-1 2-3 2-3 2 7 2-5 2-1 2-6 2 7 2-3 2 0 2 6 2 7 2-9 2 8 2 1 2-9 2 8 2-3 2 2 2 0 2 1 2-5 2 3 2-9 2-1 2 5 2-6 2 3 2 2 2-18 2 3 2-3 2 2 2-1 2-9 2 3 2 0 2 4 2-1 2 1 2-9 2 13 2 1 2-1 2 8 2 3 2-6 2 1 2-4 2-5 2 11 2 6 2-6 2 9 2-16 2-4 2 12 2-2 2 5 2 2 2-9 2-2 2 7 2 4 2-4 2 0 2 3 2-3 2 1 2 9 2-3 2-11 2 2 2 13 2-14 2 4 2 5 2 8 2 1 2-18 2 5 2 4 2-2 2 3 2-1 2-6 2 5 2-4 2-4 2-10 2 1 2 1 2-3 2 0 2-7 2 6 2-2 2-3 2-2 2 2 2 5 2 0 2-8 2 4 2-3 2 9 2 2 2 0 2-1 2 10 2-11 2 8 2-5 2-2 2 10 2-8 2 8 2-1 2 9 2-3 2-11 2 4 2 0 2 5 2-6 2 0 2-10 2 15 2-10 2 10 2-3 2 4 2-5 2-2 2 0 2-6 2 7 2-1 2 4 2-15 2 18 2-11 2 6 2-13 2 13 2-1 2 5 2-1 2-3 2-7 2 15 2-7 2 3 2-4 2 3 2-5 2 2 2-2 2-1 2 12 2-4 2-3 2 5 2-4 2-8 2 4 2 6 2-7 2-14 2 8 2 7 2 3 2-18 2 10 2-5 2 6 2 3 2 4 2-7 2 4 2-4 2 5 2 4 2 5 2-18 2 9 2-2 2 0 2-6 2-4 2 7 2 5 2 3 2-3 2 6 2-5 2 3 2-3 2 7 2-6 2 0 2 8 2 0 2 5 2-1 2 11 2-7 2 4 2-6 2 2 2-11 2 5 2 3 2 1 2-4 2-4 2-2 2-7 2 8 2 2 2-6 2 10 2 1 2-9 2-1 2 6 2-9 2 8 2 3 2-3 2 3 2-9 2 0 2 3 2-6 2 1 2 0 2 6 2-8 2 2 2-9 2 14 2 0 2-2 2-8 2-1 2 21 2-15 2-2 2-5 2 10 2-2 2-7 2 7 2-17 2 17 2-7 2 8 2 0 2-10 2 6 2 5 2-5 2-1 2 4 2-8 2 6 2-8 2 7 2-2 2 4 2-6 2 6 2 5 2-3 2 7 2-5 2 0 2 3 2-5 2 8 2 5 2 0 2 0 2-3 2-1 2-4 2 3 2 4 2-3 2 6 1-6V1462" stroke="#4DBEEE" stroke-width="2.8"/><path d="M248 1461l2-4 2-3 2-3 2-3 2-3 2-3 2-3 2-3 2-2 2-3 2-3 2-2 2-1 2-3 2-1 2-3 2-3 2 0 2-4 2-2 2-1 2-3 2-3 2-3 2-1 2-1 2-3 2-2 2-1 2-3 2 0 2-1 2-3 2-1 2-2 2-1 2-2 2-1 2-1 2-2 2-1 2-2 2-2 2-1 2-2 2-3 2-1 2-3 2 0 2-3 2-2 2-2 2-4 2-1 2-3 2-2 2-2 2-2 2-2 2-3 2-3 2-4 2-1 2-2 2-3 2-2 2-3 2-3 2-3 2-2 2-2 2-3 2-3 2-3 2-2 2-2 2-3 2-2 2-3 2-3 2-2 2-2 2-4 2-3 2-2 2-3 2-3 2-4 2-3 2-2 2-2 2-3 2-2 2-4 2-4 2-2 2-6 2-2 2-3 2-5 2-5 2-2 2-3 2-5 2-4 2-5 2-3 2-4 2-4 2-4 2-5 2-4 2-4 2-5 2-6 2-3 2-4 2-4 2-4 2-5 2-5 2-2 2-6 2-5 2-4 2-4 2-5 2-5 2-4 2-5 2-5 2-6 2-5 2-7 2-5 2-8 2-8 2-8 2-8 2-9 2-9 2-9 2-9 2-11 2-11 2-10 2-11 2-13 2-15 2-13 2-14 2-18 2-16 2-18 2-19 2-18 2-20 2-22 2-22 2-22 2-22 2-28 2-29 2-5 2 2 2-1 2-1 2-5 2-4 2 2 2 1 2-5 2-7 2 0 2 0 2-9 2-6 2 1 2 5 2-1 2-7 2-1 2-7 2 2 2-1 2-9 2-2 2-1 2-2 2-8 2-8 2 1 2-10 2 3 2-8 2 4 2 0 2-11 2 1 2-2 2-11 2 5 2 5 2-2 2-2 2-2 2-2 2 7 2-8 2 6 2 2 2-1 2-5 2-7 2 5 2 5 2-3 2 2 2-2 2-5 2 1 2 0 2-1 2 6 2-6 2 7 2-5 2-4 2 11 2-4 2 3 2 3 2 3 2 1 2-2 2 7 2 5 2 1 2 9 2-9 2 0 2 0 2-4 2 1 2-3 2 2 2-2 2 8 2-4 2-4 2-2 2 2 2-2 2 0 2 2 2 1 2-2 2 6 2-9 2 7 2 2 2 2 2 6 2-4 2 2 2 0 2-1 2 4 2 4 2 1 2 2 2-9 2 8 2 0 2-7 2 7 2-3 2 5 2-6 2 1 2 1 2 4 2-6 2 3 2-4 2-6 2 17 2-3 2-6 2-3 2 2 2-2 2 3 2 0 2-11 2 3 2 0 2 3 2-4 2 0 2-1 2 5 2-3 2 1 2-4 2 14 2-15 2-1 2 4 2-2 2-1 2-1 2-4 2 2 2-2 2 7 2 5 2-7 2 4 2 2 2 6 2-6 2-6 2 14 2-12 2 8 2-3 2-6 2 1 2 0 2-1 2 7 2-10 2 15 2-4 2 5 2-9 2 5 2-4 2 15 2-2 2 6 2-13 2 4 2 1 2-5 2 1 2-5 2-2 2-1 2 5 2 3 2-10 2 7 2-6 2 2 2-5 2 8 2-9 2 8 2 3 2-3 2 4 2-8 2-4 2 3 2-3 2-9 2 8 2-4 2 3 2-5 2-1 2-4 2 12 2-3 2-8 2 2 2 11 2-7 2 3 2 9 2 0 2 5 2-13 2 8 2 11 2-4 2-5 2-1 2 11 2-11 2 7 2-1 2 1 2-10 2 3 2-1 2 6 2-5 2 11 2-3 2 5 2-3 2 7 2-3 2 1 2 1 2 4 2-8 2 2 2 5 2-15 2 4 2 3 2-7 2 1 2 0 2 3 2-1 2-8 2 9 2-8 2 7 2 1 2 2 2-3 2-2 2 6 2 4 2 2 2-2 2 0 2 0 2-4 2-8 2 5 2-3 2-1 2 6 2 1 2-17 2 13 2 6 2-3 2-2 2-1 2 1 2 1 2 0 2-7 2 8 2 3 2 4 2-7 2-2 2 6 2-2 2 9 2-11 2-1 2 1 2 5 2-1 2-3 2-4 2-6 2-2 2-1 2 6 2-7 2-2 2-1 2-8 2 6 2-3 2 11 2-5 2-7 2 1 2 2 2 5 2-7 2-5 2 13 2-14 2 9 2-4 2-3 2 6 2 3 2 0 2-2 2 2 2-6 2 4 2-1 2 7 2-14 2 5 2 10 2-5 2-8 2-2 2 5 2 6 2-1 2 9 2-6 2-2 2-2 2 0 2-1 2-3 2 8 2 6 2-16 2 0 2 4 2-6 2-4 2 5 2-7 2 1 2-4 2 6 2-1 2 2 2-11 2 8 2 4 2-12 2 10 2 3 2-11 2 8 2 7 2 0 2-10 2 11 2-5 2 8 2 4 2-6 2 7 2 4 2 4 2-4 2-2 2-3 2-2 2 11 2 1 2-6 2-3 2 7 2-5 2 6 2-6 2-5 2 4 2-2 2 3 2-9 2 3 2 0 2 3 2-5 2-2 2 9 2-3 2 2 2 7 2-7 2 2 2 1 2-1 2 6 2-7 2 1 2-3 2 7 2-8 2-1 2-4 2-3 2-1 2 7 2 0 2-7 2 2 2-3 2 1 2 1 2 7 2-4 2-4 2 6 2 2 2 5 2-1 2-4 2 14 2-12 2 9 2-3 2-1 2 0 2-3 2-7 2-4 2 4 2-3 2-1 2 0 2 8 2-14 2 8 2 0 2 0 2 4 2 11 2-8 2 2 2 4 2 2 2-8 2 5 2 0 2 4 2 4 2-4 2-3 2 2 2 4 2-2 2 7 2-2 2-8 2-1 2 1 2 0 2 3 2-6 2 0 2-4 2 6 2-3 2 2 2 3 2-12 2 10 2-3 2-3 2 9 2-7 2-3 2 12 2-10 2 12 2-5 2-4 2 8 2-8 2-8 2 12 2-8 2 9 2 7 2-6 2-5 2 7 2-14 2 5 2 2 2 1 2-9 2 2 2 0 2 1 2 0 2 0 2-7 2 5 2 3 2 3 2 0 2 4 2-3 2-5 2 5 2 3 2 3 2-10 2 5 2 0 2 0 2 8 2-5 2 0 2-3 2 2 2 0 2-6 2 0 2 7 2-4 2 3 2-3 2 3 2 5 2-12 2 9 2 3 2 3 2-3 2-4 2 4 2-4 2-2 2 6 2-1 2-5 2-4 2 6 2-2 2 3 2-3 2 2 2-6 2 4 2-3 2 9 2 2 2-4 2-4 2 11 2-11 2 4 2 2 2-3 2-1 2 0 2 2 2 0 2 1 2 3 2 1 2-1 2-14 2 5 2 8 2-12 2-9 2 10 2 0 2-8 2 2 2-1 2 0 2 2 2-2 2 8 2-5 2 9 2-7 2-1 2-3 2 7 2 7 2-8 2 10 2-2 2-2 2-9 2 4 2 1 2 10 2-5 2 3 2 5 2-3 2 10 2 5 2-2 2-4 2 0 2-9 2-2 2 6 2 1 2-3 2-4 2 0 2 0 2 7 2-4 2 3 2-7 2 8 2-6 2-4 2 3 2 1 2-2 2-4 2 0 2 2 2-8 2-4 2 2 2 8 2-4 2 0 2 6 2-5 2 10 2-5 2-5 2 7 2-6 2 7 2-5 2-3 2 1 2 3 2 3 2-8 2 0 2 2 2 4 2-2 2 4 2 2 2 0 2-2 2-8 2 6 2 5 2-1 2-2 2-7V1462" stroke="#4DBEEE" stroke-width="2.8"/><path d="M248 1462l2-2 2-4 2-3 2-1 2-5 2-2 2-3 2-2 2-2 2-4 2-2 2-4 2-1 2-3 2-1 2-4 2 1 2-3 2-1 2-1 2-2 2-4 2 0 2-2 2-3 2 0 2-3 2-2 2-1 2-2 2-2 2-2 2-1 2-1 2-3 2-1 2-4 2-1 2-1 2-3 2-2 2-1 2-2 2-3 2-2 2-2 2-2 2-2 2-2 2-3 2-1 2-4 2-1 2-3 2-2 2-1 2-4 2-1 2-3 2-1 2-3 2-2 2-4 2-2 2-2 2-3 2-2 2-2 2-2 2-3 2-2 2-3 2-2 2-2 2-2 2-1 2-3 2-2 2-4 2-2 2-2 2-2 2-4 2-1 2-4 2-3 2-3 2-3 2-4 2-3 2-3 2-4 2-3 2-3 2-4 2-3 2-3 2-4 2-3 2-3 2-5 2-3 2-5 2-3 2-4 2-3 2-4 2-4 2-4 2-4 2-4 2-5 2-4 2-4 2-3 2-5 2-4 2-5 2-3 2-6 2-4 2-4 2-5 2-4 2-4 2-6 2-5 2-5 2-5 2-5 2-5 2-5 2-7 2-6 2-5 2-8 2-7 2-8 2-7 2-10 2-7 2-8 2-9 2-11 2-8 2-10 2-10 2-12 2-12 2-11 2-16 2-13 2-18 2-18 2-14 2-19 2-22 2-20 2-26 2-23 2-21 2-22 2-16 2-3 2-4 2-2 2 0 2 7 2-5 2 7 2-10 2-5 2 3 2-4 2-9 2 6 2-10 2 5 2-15 2-2 2 2 2-5 2-6 2 5 2-5 2 0 2-4 2 0 2 2 2-10 2 0 2 2 2-2 2-7 2 2 2-6 2 0 2-5 2 0 2 5 2-10 2 5 2-5 2 10 2-9 2 8 2 3 2-7 2 7 2-5 2-1 2 2 2-2 2 10 2-9 2 2 2 1 2-1 2 0 2 2 2 4 2 0 2 4 2-6 2 8 2-5 2 1 2 1 2 3 2-9 2-2 2 3 2 0 2 5 2-9 2 4 2 1 2-4 2 5 2 0 2-5 2 9 2-9 2 7 2 0 2-8 2 9 2 0 2-3 2 2 2-1 2 2 2-2 2 2 2-6 2 6 2 2 2-1 2-1 2 0 2 2 2-6 2 9 2-4 2 5 2-4 2 4 2-7 2 6 2-1 2 3 2-6 2 1 2-1 2 5 2-7 2 3 2-1 2 6 2-5 2 3 2-7 2 5 2 5 2-10 2 2 2 10 2-8 2 5 2-5 2-4 2 3 2 4 2 0 2 0 2 4 2-3 2 7 2-7 2 2 2 1 2 0 2 4 2-9 2 5 2-4 2 0 2-2 2 2 2-4 2 2 2-1 2-2 2 2 2 1 2-9 2 7 2-3 2-1 2 9 2-1 2-4 2 8 2-3 2 11 2-12 2 10 2 5 2 0 2-3 2-3 2-1 2 5 2 3 2-1 2-7 2 1 2-5 2 1 2 1 2 3 2-2 2 0 2-3 2 1 2 2 2-1 2-6 2 1 2 5 2-5 2 1 2 2 2-5 2 8 2-5 2 4 2 0 2-4 2 9 2-9 2-4 2 3 2-2 2 8 2-9 2-3 2 1 2 6 2-2 2 5 2-4 2-5 2-5 2 0 2 1 2 3 2 7 2-3 2-2 2 2 2 2 2-2 2 7 2-5 2 7 2-2 2-2 2 4 2-5 2 2 2-4 2-2 2 1 2-4 2-5 2 0 2-8 2 4 2-3 2 0 2-1 2 5 2 3 2-6 2 7 2 4 2-5 2 14 2-2 2 3 2 0 2 1 2 7 2 4 2 1 2-10 2 5 2-4 2 1 2-9 2-3 2 4 2-5 2 1 2-3 2 2 2-5 2 3 2 8 2-9 2 6 2-5 2 1 2 1 2-1 2-1 2-7 2 5 2 6 2-13 2 0 2 7 2-10 2 4 2-1 2 0 2 5 2 6 2-5 2 7 2-8 2 9 2 1 2-2 2 2 2 3 2-10 2-6 2 13 2-5 2 0 2-2 2-3 2 9 2-7 2 0 2 4 2-1 2-4 2 3 2 2 2 0 2 3 2-8 2 11 2-1 2 1 2 2 2 1 2 3 2-1 2 1 2-2 2-6 2 4 2-3 2 2 2-6 2 0 2 0 2 6 2-3 2 7 2 0 2-1 2 2 2 1 2 0 2-3 2 6 2 4 2-7 2 2 2 1 2-4 2-1 2 0 2-2 2 2 2 1 2-4 2 1 2 1 2-3 2-3 2 4 2-7 2 5 2-8 2 5 2 8 2-10 2 1 2 3 2-5 2 11 2-2 2-10 2 4 2-1 2 5 2-5 2 1 2 2 2 2 2 3 2-1 2-1 2 4 2 3 2-2 2-3 2 4 2-1 2 10 2-7 2 4 2 0 2 2 2-2 2 1 2-6 2 2 2-3 2 5 2-5 2 1 2 5 2-4 2-7 2 7 2-3 2 1 2-6 2 6 2 0 2-4 2 3 2-6 2 6 2-5 2-5 2 1 2 1 2-1 2 4 2-2 2-6 2 8 2 0 2-5 2 3 2-8 2 6 2-4 2-2 2-5 2 8 2-7 2-1 2 0 2 1 2 9 2-8 2 1 2-5 2-2 2 6 2 3 2 4 2-7 2 4 2-3 2 4 2-5 2 4 2 2 2 8 2-5 2-5 2 0 2 3 2 1 2 1 2-2 2 7 2-9 2 1 2 6 2 0 2 6 2-6 2 0 2 4 2-1 2-10 2 0 2 12 2-1 2-7 2-4 2 6 2-3 2 5 2-4 2-4 2-3 2 0 2 6 2-5 2 6 2-4 2-6 2 7 2-1 2-2 2 4 2-3 2-3 2-6 2 0 2 2 2-5 2 5 2-5 2 0 2 8 2-2 2 2 2-1 2-2 2 4 2 1 2 5 2-4 2 1 2-3 2 4 2 0 2-2 2 4 2-3 2-6 2 8 2-6 2 0 2 3 2-1 2-4 2 5 2-6 2 1 2 4 2-2 2 0 2-2 2 6 2-6 2 10 2-2 2-1 2 4 2 8 2-1 2-7 2 3 2 2 2-4 2 10 2-12 2 8 2-1 2-3 2 11 2 3 2-11 2 10 2-1 2-5 2 0 2-3 2 6 2-3 2 0 2-9 2 1 2-2 2-1 2-4 2 1 2 0 2 2 2-3 2-5 2 5 2-9 2 1 2-3 2 11 2-9 2 6 2-9 2 10 2 2 2-1 2 0 2 8 2-7 2-4 2 4 2 1 2 2 2-6 2 6 2-4 2-2 2-2 2 0 2-2 2-5 2 7 2-1 2-3 2 6 2-9 2 11 2 6 2 3 2 5 2-2 2 2 2 2 2 3 2 3 2 3 2-3 2-1 2 0 2 5 2 2 2 0 2-3 2 3 2-6 2-1 2 7 2-6 2 2 2-9 2 2 2-7 2 1 2-11 2-1 2 3 2 4 2-6 2 0 2 1 2 8 2-9 2-1 2-3 2 9 2 5 2-11 2 3 2-4 2 4 2-9 2 7 2 2 2-2 2-3 2 7 2-2 2-3 2 0 2 1 2-7 2 14 2 3 2-8 2 7 2 1 2-6 2 5 2-3 2 5 2-4 2 0 2 3 2-2 2 5 2-12 2 5 2-5 2 4 2 13 2-11 2-9 2 1 2 8 2-9 2 4 2 0 2-9 2 8 2-4 2-4V1462" stroke="#77AC30" stroke-width="2.8"/><path d="M248 1464l2-4 2-1 2-3 2-3 2-3 2-3 2-1 2-4 2-2 2-3 2-2 2-3 2-2 2-4 2-1 2-4 2-1 2-2 2-2 2-3 2-1 2-3 2-1 2-1 2-2 2-2 2-1 2-2 2-2 2-1 2-2 2-1 2-2 2-2 2-2 2-1 2-3 2-2 2-2 2 0 2-1 2-3 2-2 2-1 2-3 2-1 2-2 2-2 2-3 2 0 2-4 2-2 2-1 2-2 2-3 2-2 2-4 2-1 2-3 2-3 2-2 2-2 2-4 2-1 2-3 2-3 2-1 2-3 2-1 2-3 2-2 2-3 2-3 2-2 2-2 2-3 2-2 2-2 2-3 2-3 2-1 2-4 2-3 2-1 2-4 2-3 2-3 2-2 2-4 2-2 2-4 2-2 2-3 2-3 2-4 2-4 2-2 2-3 2-3 2-5 2-3 2-4 2-4 2-4 2-5 2-3 2-4 2-3 2-5 2-4 2-4 2-4 2-5 2-3 2-5 2-4 2-5 2-3 2-6 2-4 2-4 2-4 2-4 2-5 2-4 2-4 2-5 2-4 2-5 2-4 2-6 2-5 2-5 2-4 2-7 2-6 2-6 2-8 2-8 2-8 2-8 2-8 2-10 2-9 2-9 2-10 2-10 2-11 2-11 2-14 2-12 2-11 2-18 2-12 2-18 2-15 2-19 2-21 2-21 2-23 2-17 2-23 2-3 2-3 2 1 2-4 2 2 2-3 2-1 2-6 2-1 2 0 2-3 2-6 2-1 2-5 2-2 2-8 2-1 2-5 2-2 2 1 2-1 2 1 2-1 2 0 2 1 2 5 2 2 2-7 2-1 2 5 2 1 2-7 2-2 2-2 2-7 2 5 2-8 2 0 2 1 2 2 2 0 2 0 2 3 2 2 2-1 2 0 2 5 2 3 2-5 2 3 2 1 2-1 2-3 2 0 2 5 2-3 2 1 2-3 2 3 2 1 2 3 2 3 2 2 2-3 2-1 2 7 2 0 2 1 2-4 2 3 2 7 2-11 2-1 2-3 2 2 2 0 2 3 2-7 2 5 2-4 2 10 2 6 2-2 2 0 2 4 2-3 2-2 2 3 2 3 2-2 2-5 2 0 2 5 2-3 2-5 2 0 2-3 2 4 2 0 2-3 2-1 2-7 2 7 2 5 2 2 2-2 2-2 2 4 2 3 2 0 2 2 2-3 2 2 2 2 2 4 2-2 2 0 2 8 2-2 2-9 2 8 2 2 2 1 2 0 2 3 2-9 2 1 2 0 2 3 2-8 2-2 2-1 2-8 2 12 2-3 2-1 2 0 2-1 2 2 2-2 2 3 2 3 2-5 2 1 2 3 2 2 2-7 2 2 2 1 2-5 2 9 2-7 2 4 2 3 2-7 2 8 2-3 2 4 2 1 2 6 2-3 2 0 2 5 2 2 2 0 2 0 2 6 2-4 2-1 2 3 2-3 2-4 2-6 2 4 2-2 2-7 2-6 2-1 2 7 2-7 2-1 2-4 2 0 2 4 2 0 2 5 2-2 2 2 2 3 2 0 2-3 2 10 2-4 2 1 2-1 2-1 2 3 2 1 2 0 2-2 2 1 2-8 2 3 2-2 2-3 2 0 2-7 2 9 2-10 2 2 2-1 2 1 2 1 2-1 2 4 2-2 2-4 2 5 2 4 2 0 2 9 2-3 2 3 2 3 2-6 2 9 2-6 2 8 2-3 2-2 2 5 2 2 2-4 2 3 2-5 2 0 2-1 2 2 2-4 2-3 2-3 2-2 2-4 2 4 2 0 2-1 2 1 2-6 2 10 2-9 2 0 2 5 2-8 2 7 2-1 2-4 2 5 2-2 2-4 2 5 2-4 2 4 2-2 2-5 2 4 2 3 2-2 2 3 2 10 2-1 2 0 2-2 2 2 2-1 2-3 2-2 2-2 2-4 2-1 2 1 2 1 2-1 2 0 2-5 2 7 2 1 2-5 2 7 2-3 2 0 2 0 2-6 2 5 2-2 2 3 2 2 2 2 2 0 2 0 2-2 2 3 2-4 2 6 2-3 2 1 2-1 2-1 2-5 2 3 2-5 2 4 2-3 2 1 2-12 2 15 2 0 2-4 2 5 2 3 2 2 2 5 2 0 2 8 2-5 2 2 2 2 2-4 2 5 2-4 2-1 2 1 2 0 2-5 2 8 2-8 2 1 2 5 2-4 2 0 2 4 2 3 2 3 2 0 2-5 2 4 2 3 2-3 2 3 2 1 2-5 2 1 2-3 2-1 2-1 2-6 2 0 2 2 2-1 2 2 2-5 2 1 2-2 2 2 2 0 2-2 2-1 2 2 2-3 2-4 2 2 2 1 2 2 2 1 2 4 2 1 2 5 2-1 2 3 2-3 2 3 2 2 2-1 2 1 2-2 2-9 2 8 2-6 2 1 2-6 2 3 2-3 2 0 2 8 2-9 2 2 2-4 2 6 2 4 2-1 2 1 2 2 2-4 2-3 2 5 2 1 2-4 2 1 2-1 2-1 2-3 2-5 2 2 2 1 2 1 2-3 2 2 2-2 2 0 2-1 2 7 2-1 2-7 2-1 2 6 2-5 2 4 2-5 2 0 2-1 2-6 2 3 2-2 2-6 2 6 2-5 2 3 2-2 2-3 2 5 2 0 2 1 2-1 2 10 2-3 2 5 2-9 2 6 2-1 2-2 2 2 2 1 2-2 2 2 2 1 2 6 2-2 2 1 2 2 2 0 2 7 2-6 2 6 2-3 2 5 2-4 2-4 2 5 2-2 2 3 2-3 2 5 2 0 2 2 2-3 2 4 2 1 2-2 2-4 2 1 2 5 2 2 2-4 2 2 2-4 2 3 2 2 2-5 2 2 2-1 2-2 2-1 2 1 2-3 2-3 2 2 2-2 2-2 2-1 2 2 2 1 2-6 2 8 2 1 2-6 2 4 2 0 2 5 2 6 2 0 2 1 2 1 2 0 2 0 2 1 2 0 2 0 2 4 2-6 2 1 2 0 2 4 2-3 2 3 2-4 2-3 2 2 2 3 2 1 2-6 2-2 2 2 2-5 2 1 2-6 2 3 2-6 2 1 2-4 2-2 2-6 2 6 2-8 2 2 2 3 2-2 2 0 2 1 2 3 2 0 2-4 2 4 2 0 2 3 2-2 2 5 2-2 2 2 2 3 2 3 2-2 2 2 2 5 2-4 2 5 2 6 2-5 2 1 2 2 2-1 2 3 2-5 2-1 2 1 2-2 2 3 2-1 2-7 2-4 2-4 2 6 2-9 2 3 2-9 2 4 2 6 2-1 2-2 2-2 2 1 2 2 2 5 2-5 2 6 2-6 2 7 2 1 2 2 2 1 2-6 2 2 2 5 2-5 2 2 2-6 2-5 2 1 2-7 2 7 2-4 2 0 2-4 2 9 2-10 2 4 2 5 2-3 2-2 2 9 2-3 2 2 2 10 2-5 2-1 2 2 2 9 2-5 2-4 2 3 2 3 2-8 2 1 2 0 2-6 2 3 2-2 2 2 2-8 2 4 2-5 2 0 2-1 2-3 2-1 2 4 2-2 2-2 2-1 2 4 2-2 2 3 2 0 2 1 2-1 2-2 2 1 2 0 2-8 2 8 2-3 2-7 2 5 2-2 2-5 2-3 2-2 2 3 2 0 2-4 2-3 2 0 2 2 2-3 2 3 2 2 2-5 1 1" stroke="#7E2F8E" stroke-width="2.8"/><path d="M248 1351l2-3 2-3 2-3 2-3 2-3 2-2 2-4 2-3 2-1 2-3 2-5 2-2 2-3 2-2 2-5 2-2 2-2 2-4 2-2 2-3 2-3 2-3 2-2 2-4 2-2 2-3 2-3 2-3 2-2 2-3 2-4 2-2 2-2 2-5 2-2 2-3 2-3 2-2 2-4 2-2 2-3 2-4 2-3 2-1 2-4 2-3 2-2 2-3 2-4 2-3 2-2 2-3 2-3 2-2 2-4 2-3 2-4 2-2 2-2 2-3 2-3 2-3 2-3 2-3 2-1 2-5 2-2 2-3 2-1 2-4 2-3 2-3 2-4 2-2 2-2 2-3 2-3 2-3 2-2 2-3 2-2 2-3 2-2 2-4 2-1 2-4 2-2 2-3 2-2 2-2 2-4 2-5 2-2 2-3 2-6 2-6 2-6 2-6 2-8 2-8 2-7 2-9 2-8 2-8 2-7 2-12 2-7 2-12 2-8 2-12 2-9 2-10 2-9 2-7 2-6 2-3 2-3 2-3 2-2 2 0 2-2 2-3 2-2 2-1 2 0 2-1 2-2 2-1 2 0 2-2 2-1 2-1 2-2 2-1 2-1 2-2 2-2 2-1 2-1 2-4 2 1 2-2 2-2 2-2 2-1 2-2 2-3 2-3 2-2 2-4 2-3 2-4 2-10 2-7 2-10 2-10 2-9 2-10 2-9 2-9 2-5 2-7 2-3 2-7 2-5 2-4 2 0 2-1 2 1 2-1 2-1 2 0 2 1 2-2 2-1 2 2 2-1 2-3 2 6 2-6 2 1 2-3 2 2 2-2 2 0 2-1 2 1 2 0 2 0 2 0 2-1 2 0 2 3 2 5 2-2 2 0 2 0 2 3 2 1 2 2 2 3 2 0 2-1 2 6 2-2 2 4 2-2 2 8 2-1 2 2 2 3 2 0 2 5 2 1 2-2 2 8 2 2 2 0 2 4 2 0 2-1 2 3 2 0 2 1 2 2 2 1 2 5 2-1 2 2 2 2 2 0 2 4 2-1 2 4 2 0 2 0 2 3 2-1 2 4 2 0 2-2 2 4 2-1 2 1 2 4 2-1 2-1 2 0 2-1 2 1 2 1 2 1 2-1 2-2 2 0 2 1 2 2 2 3 2-5 2 1 2 1 2 2 2-1 2 3 2 0 2-1 2 0 2 2 2 2 2 0 2-3 2 1 2 4 2-1 2-2 2 1 2 2 2 1 2-2 2 1 2 0 2-1 2-1 2 1 2 2 2 1 2-5 2 2 2 2 2-2 2 0 2-1 2 5 2-6 2 1 2 4 2-2 2-2 2 3 2-2 2 2 2 0 2-1 2-1 2 0 2-3 2 5 2-2 2 2 2-2 2-2 2 1 2 0 2 3 2 0 2 0 2-3 2 2 2 0 2-4 2 3 2 0 2-5 2 4 2 0 2 0 2 3 2-5 2-2 2-2 2 1 2 1 2 0 2-1 2 4 2-3 2-2 2-1 2 1 2-1 2-2 2 0 2 3 2-5 2 2 2-1 2 3 2-2 2 0 2-1 2-1 2 1 2-2 2-4 2 6 2-4 2-1 2 4 2-3 2 1 2 2 2-2 2 2 2-4 2 0 2 3 2-2 2 3 2 1 2 3 2-3 2 3 2 2 2-1 2 1 2-1 2 4 2-2 2-1 2 4 2-3 2 3 2 1 2 0 2 0 2 2 2-3 2 1 2 2 2 3 2 0 2 2 2-4 2 1 2-2 2 2 2-3 2 1 2 0 2 0 2-1 2-1 2 4 2-1 2-1 2 2 2-4 2 2 2-2 2 2 2-4 2 0 2 3 2-2 2-5 2 1 2 1 2 2 2-5 2 3 2-6 2-1 2 5 2-3 2-1 2 2 2-2 2 3 2-4 2 1 2 1 2 1 2-1 2 3 2-1 2-2 2 4 2 0 2 1 2 1 2-1 2 2 2 0 2 5 2-2 2 0 2 0 2 4 2-3 2 1 2 0 2-1 2 2 2-1 2 5 2 1 2-3 2 3 2 1 2-1 2 0 2 0 2 0 2 3 2 0 2 1 2-3 2 0 2-1 2 2 2 0 2 0 2-3 2-3 2 6 2-4 2 0 2 3 2-2 2-2 2 0 2-1 2-2 2 2 2-1 2-1 2-1 2 2 2-1 2 1 2-9 2 3 2 5 2 0 2-2 2-1 2 0 2 0 2-4 2 4 2 2 2 0 2-3 2 2 2 1 2-3 2 3 2-4 2 2 2 1 2-3 2 0 2 0 2 1 2 2 2-3 2 0 2-1 2 1 2 3 2-6 2 2 2 0 2-2 2 1 2 0 2-2 2 0 2-3 2 1 2-1 2 0 2 1 2 1 2-4 2-3 2 3 2-2 2 0 2-1 2 2 2 1 2-2 2 0 2-2 2 4 2 2 2 0 2-1 2 2 2 1 2 1 2-1 2 0 2 2 2 0 2 5 2 0 2-5 2 6 2-3 2 0 2 0 2 2 2-1 2 0 2 2 2 1 2-3 2 3 2-3 2-1 2 5 2 0 2 0 2-2 2 1 2 2 2-4 2 3 2-2 2-1 2-1 2 0 2 3 2 1 2 3 2-1 2 0 2-3 2-2 2 3 2 0 2 4 2-5 2 1 2 1 2 0 2 1 2-3 2 5 2-3 2 0 2-2 2 2 2 0 2-1 2-3 2 1 2-2 2 0 2 2 2-4 2 0 2 2 2-1 2 4 2-4 2 2 2-2 2-1 2 7 2-4 2 0 2-1 2 2 2 1 2-5 2 1 2 5 2-5 2 3 2-4 2 2 2 1 2-1 2-2 2 6 2-3 2 2 2-7 2 4 2 2 2-4 2 1 2 0 2 2 2 0 2 1 2-2 2 3 2 2 2-7 2 4 2 2 2 0 2 3 2-4 2 5 2-3 2 3 2-6 2 6 2-1 2 0 2 1 2 1 2-1 2 2 2-3 2 2 2-2 2 3 2 0 2-5 2-1 2-2 2 4 2-3 2 1 2 3 2-2 2-4 2 6 2-2 2-1 2-1 2-2 2 3 2 1 2-2 2-2 2 3 2-2 2 3 2-3 2-1 2 1 2-3 2 3 2-2 2-2 2 3 2 0 2-1 2-1 2-1 2-2 2 3 2-2 2 0 2-4 2 1 2 4 2 2 2-2 2-2 2 5 2-2 2 1 2-1 2-2 2 1 2 2 2-3 2 3 2-3 2 2 2-1 2 2 2-1 2 0 2-3 2 4 2-3 2-1 2 2 2 1 2 0 2-3 2 0 2 1 2 0 2 0 2 3 2-5 2 0 2-1 2 1 2 2 2-2 2-2 2 4 2-2 2 3 2-2 2-3 2-2 2 0 2 1 2-1 2 4 2-6 2 3 2-2 2-2 2 1 2-3 2 1 2-1 2-3 2 3 2 0 2-3 2 2 2 1 2-1 2 0 2 0 2-2 2 1 2 0 2-4 2 7 2-2 2 1 2-4 2 3 2 4 2 0 2-1 2 2 2 1 2 4 2-4 2 6 2-6 2 3 2 1 2 3 2 0 2 1 2 3 2-4 2 0 2 2 2-2 2 3 2-2 2 5 2-2 2 1 2 0 2 2 2-2 2 4 2-2 2 0 2-1 2 1 2 0 2 2 2-1 2-1 2 2 2-1 2 1 2 0V1462" stroke="#D95319"/><path d="M248 1437l2-3 2-3 2-3 2-3 2-1 2-3 2-2 2-3 2-2 2-1 2-2 2-2 2-3 2-2 2-1 2-3 2-1 2-2 2-1 2-2 2-2 2-2 2-1 2-3 2-1 2-2 2-2 2-2 2-1 2-1 2-4 2-1 2-1 2-2 2-2 2-2 2-2 2-2 2-1 2-1 2-3 2-3 2-2 2-3 2-1 2-2 2-2 2-2 2-3 2-3 2-2 2-1 2-3 2-3 2-3 2-2 2-3 2-3 2-2 2-2 2-3 2-3 2-2 2-3 2-2 2-3 2-3 2-1 2-4 2-2 2-4 2-3 2-3 2-2 2-3 2-2 2-5 2-3 2-1 2-4 2-3 2-4 2-2 2-4 2-3 2-2 2-5 2-3 2-4 2-3 2-4 2-3 2-4 2-2 2-5 2-3 2-3 2-4 2-4 2-3 2-3 2-3 2-6 2-3 2-5 2-3 2-4 2-4 2-3 2-4 2-3 2-5 2-4 2-4 2-4 2-3 2-5 2-5 2-4 2-5 2-4 2-6 2-5 2-4 2-8 2-4 2-7 2-7 2-8 2-7 2-8 2-9 2-8 2-9 2-9 2-11 2-10 2-11 2-11 2-13 2-12 2-14 2-16 2-15 2-16 2-20 2-21 2-21 2-21 2-3 2 0 2 1 2 0 2-1 2 1 2 0 2 0 2 0 2 0 2 1 2 0 2 1 2-3 2 2 2-2 2-1 2 1 2-2 2-2 2 0 2-3 2-2 2-6 2 0 2-4 2-2 2-1 2-4 2-3 2-5 2 3 2-5 2-4 2 0 2 1 2 2 2-5 2-1 2 5 2 2 2-1 2 1 2 3 2-2 2 3 2 2 2 2 2 1 2 4 2-2 2 7 2-4 2 4 2 1 2 1 2 3 2-1 2 2 2 1 2 2 2-1 2 1 2 2 2-1 2 3 2 0 2 5 2-3 2 1 2-2 2-1 2 1 2 2 2-2 2 1 2 2 2 1 2-1 2 1 2-3 2 2 2 0 2 3 2 0 2 0 2 3 2 0 2-1 2 0 2 7 2 1 2 1 2-1 2 2 2 2 2-3 2 3 2 1 2 0 2 3 2 2 2 1 2-2 2 4 2-2 2-2 2 3 2 4 2-2 2 0 2 2 2-2 2 0 2-1 2 1 2 2 2-4 2 4 2-4 2 1 2 0 2-2 2 0 2-1 2 0 2 1 2-1 2-2 2 1 2 0 2-1 2-1 2 2 2-2 2-3 2 3 2 0 2-2 2 0 2 2 2-1 2-1 2 1 2-1 2 0 2-2 2 0 2 1 2 3 2-3 2-1 2 2 2-1 2 2 2 1 2-4 2-3 2 6 2-3 2 1 2-3 2 2 2-1 2-1 2 1 2 0 2 0 2 0 2-2 2 2 2-2 2 1 2 0 2-1 2 4 2 0 2-1 2 1 2 2 2-1 2-1 2 2 2-1 2 0 2 0 2 3 2 0 2 0 2 2 2 0 2 1 2-2 2-4 2 2 2 2 2-1 2 1 2-2 2 3 2-2 2-3 2 1 2 2 2-1 2 0 2 0 2 0 2-2 2-2 2 4 2 0 2 0 2-4 2 0 2 2 2-5 2 3 2-2 2 1 2 0 2-3 2 2 2-2 2-4 2 4 2-1 2-5 2 0 2 0 2 0 2 3 2-5 2-4 2 3 2-2 2-1 2 3 2-2 2-2 2 2 2-3 2-1 2 3 2-1 2-2 2 4 2-1 2 0 2-2 2 1 2 1 2 1 2 3 2-4 2 3 2-2 2 2 2 0 2-1 2 3 2 1 2-1 2 0 2-2 2 2 2 1 2-1 2 1 2-1 2 3 2 0 2-1 2-1 2 3 2-2 2-1 2-2 2 0 2 0 2 1 2 0 2 1 2-2 2 2 2-3 2-2 2 1 2-1 2 2 2-2 2-1 2 3 2 0 2-1 2 0 2 1 2 1 2 0 2 1 2 0 2 0 2 0 2 2 2-3 2 4 2 1 2-3 2 6 2-4 2 2 2 1 2-2 2 2 2 0 2 1 2 1 2 4 2 1 2-2 2 1 2 4 2-4 2 0 2 1 2 1 2-1 2-2 2 1 2 0 2 1 2 2 2-3 2-1 2-3 2 1 2 4 2-3 2-3 2 3 2 0 2 1 2-2 2-2 2 0 2-2 2 1 2 0 2-1 2 1 2-3 2 1 2 0 2 1 2-2 2 2 2-4 2 3 2 2 2-2 2 2 2-1 2 0 2 5 2 0 2 2 2-3 2 0 2 0 2 2 2-1 2 3 2 0 2-1 2 3 2-1 2-1 2 4 2-4 2 3 2 0 2-1 2 3 2-6 2 0 2 4 2-2 2 1 2-1 2-2 2 5 2-4 2 0 2 3 2-1 2 3 2-5 2 0 2 3 2 1 2 1 2-1 2-3 2 5 2 0 2-1 2-1 2 3 2-2 2 3 2-2 2 0 2 2 2-2 2 1 2 2 2-5 2 3 2-1 2 0 2 1 2-1 2 1 2-1 2 1 2-3 2 2 2 0 2-1 2 2 2-1 2 1 2 1 2-3 2 6 2-6 2 2 2 0 2 1 2 1 2-2 2 1 2 0 2-3 2 6 2-1 2 0 2 0 2-2 2 0 2 3 2-5 2 4 2-2 2-2 2 1 2 0 2 1 2-3 2 4 2-2 2-2 2-3 2 2 2-2 2 2 2-2 2 0 2-1 2-4 2 4 2-4 2 1 2 2 2 0 2-1 2-1 2 0 2 0 2-3 2 2 2 4 2 4 2-5 2 4 2-2 2 4 2 1 2 1 2-1 2-3 2 2 2 4 2 1 2 1 2 4 2-1 2-2 2 0 2 0 2 5 2 0 2-3 2 6 2-1 2-2 2 2 2-1 2 2 2-1 2-4 2 1 2 1 2 0 2 1 2-1 2 1 2 1 2-2 2-2 2-2 2 0 2-1 2 0 2-3 2 2 2-1 2 1 2-2 2-3 2 2 2 0 2 3 2-2 2-1 2-2 2 1 2-1 2-3 2 1 2 0 2 1 2 2 2-5 2 2 2 1 2 0 2-1 2 0 2 2 2-1 2 2 2-4 2 3 2-3 2 0 2 3 2-6 2 5 2-1 2-4 2 3 2-1 2-1 2 3 2-2 2-5 2 7 2-5 2 0 2 0 2-1 2 1 2-3 2 1 2 0 2-1 2 1 2-4 2-1 2 2 2 0 2 1 2 0 2-3 2 3 2-1 2 2 2-4 2-2 2 0 2 1 2-2 2 2 2 0 2-1 2 0 2 2 2-2 2 1 2-3 2 2 2 0 2 5 2-7 2 1 2 3 2 1 2 0 2 1 2 0 2 4 2-3 2 3 2 2 2 2 2 0 2 2 2-3 2 3 2 1 2 5 2-1 2 3 2 1 2-1 2 0 2 1 2 0 2 3 2-5 2 4 2 0 2-1 2-3 2 3 2 2 2-3 2-2 2 5 2-3 2 1 2-2 2-1 2 0 2 1 2 3 2-2 2 2 2 1 2-2 2 0 2 1 2 2 2 0 2 2 2 1 2-1 2 2 2 0 2 2 2 0 2 1 2-1 2 3 2 2 2 3 2-2 2-1 2 1 2-1 2 0 2 3 2-1 2 1 2-2 2 0 2-3 2 3 1-4V1462" stroke="#EDB120"/><path d="M248 1385l2-3 2-3 2-3 2-2 2-3 2-3 2-4 2-3 2-2 2-2 2-3 2-3 2-2 2-4 2-3 2-3 2-2 2-3 2-4 2-2 2-3 2-4 2-3 2-3 2-3 2-3 2-2 2-3 2-5 2-1 2-4 2-3 2-3 2-3 2-2 2-4 2-2 2-3 2-4 2-1 2-4 2-3 2-2 2-3 2-2 2-3 2-3 2-2 2-4 2-3 2-1 2-3 2-3 2-2 2-2 2-5 2-2 2-3 2-2 2-3 2-2 2-4 2-2 2-3 2-3 2-3 2-3 2-3 2-2 2-3 2-3 2-3 2-3 2-4 2-3 2-2 2-4 2-3 2-3 2-3 2-4 2-2 2-2 2-2 2-4 2-3 2-2 2-3 2-3 2-4 2-3 2-3 2-4 2-4 2-5 2-5 2-7 2-8 2-8 2-7 2-9 2-8 2-9 2-11 2-6 2-9 2-11 2-10 2-12 2-11 2-10 2-11 2-8 2-8 2-5 2-5 2-3 2-1 2-3 2-2 2-2 2-1 2-1 2-1 2-1 2-3 2 1 2-2 2 0 2 0 2-4 2 0 2 0 2-2 2-1 2-1 2-3 2 1 2-3 2 0 2-2 2-1 2-1 2-2 2-1 2-3 2-2 2-1 2-1 2-5 2-4 2-5 2-7 2-6 2-9 2-7 2-9 2-8 2-6 2-9 2-3 2-5 2-5 2-4 2-9 2-2 2 1 2-1 2 4 2-1 2-2 2 0 2-3 2 1 2-1 2-3 2 2 2-2 2 1 2 3 2-6 2 2 2 0 2 0 2 2 2-4 2 3 2 1 2-3 2 1 2 3 2-1 2 3 2 1 2 2 2 3 2 2 2-1 2 3 2-1 2 8 2-1 2 2 2 3 2 4 2 3 2-3 2 5 2 1 2 0 2 2 2 2 2 3 2-2 2 3 2 0 2 2 2-1 2-2 2 5 2-1 2-1 2-1 2 3 2-2 2-4 2 0 2 2 2 2 2-3 2 1 2-1 2 2 2 0 2 0 2 2 2 0 2 3 2-2 2 3 2 2 2 3 2 0 2 3 2-1 2-5 2 8 2 3 2 1 2 1 2-2 2 3 2 0 2 2 2 6 2-4 2 3 2 2 2 1 2 1 2-1 2-1 2 0 2 4 2-2 2 2 2-2 2 1 2 2 2-3 2 1 2 1 2 0 2-1 2-3 2 3 2-1 2 0 2 0 2-1 2-3 2 5 2-1 2 2 2 1 2-2 2 3 2 1 2 0 2 1 2 1 2 0 2 1 2 3 2 0 2-3 2 0 2 4 2 0 2-2 2 2 2 0 2-3 2 2 2-1 2-1 2 0 2-2 2 0 2 1 2-5 2-1 2 2 2-2 2 0 2-1 2-5 2 5 2-4 2 0 2 0 2 0 2-3 2 3 2-3 2 0 2-4 2 5 2-4 2-2 2 0 2 1 2 0 2-2 2 3 2-1 2 1 2 1 2-2 2-1 2 3 2-3 2 1 2-1 2 2 2 2 2 2 2-2 2 0 2 3 2-2 2 2 2 2 2-1 2 2 2-1 2-3 2 1 2 0 2 3 2 4 2-8 2 3 2 2 2 0 2-3 2 2 2-1 2-2 2 4 2-4 2-1 2 3 2-3 2 3 2-1 2-1 2-1 2-1 2 2 2 3 2-1 2-1 2 3 2-6 2-1 2 2 2 2 2 3 2-4 2 1 2-1 2 4 2 0 2 0 2-1 2 0 2 2 2 1 2 7 2-7 2 4 2-2 2 5 2-1 2-1 2 2 2 3 2-2 2-2 2 3 2-2 2 0 2 1 2 1 2 0 2-3 2-1 2 1 2-1 2-1 2 0 2 0 2 0 2-2 2-2 2 1 2-2 2 1 2 1 2-3 2 2 2-2 2 2 2 1 2-3 2 1 2 0 2-2 2 3 2-1 2 2 2 0 2-1 2 4 2-1 2-1 2 3 2 1 2-3 2 2 2 1 2-2 2-2 2 6 2-2 2 3 2-1 2 0 2 0 2 0 2 2 2 1 2-2 2-1 2 2 2-5 2 4 2-1 2 3 2-3 2 2 2-1 2 2 2-1 2-1 2 3 2-2 2-1 2 1 2-1 2 1 2 1 2-4 2 5 2 0 2-2 2-1 2 0 2 4 2-2 2 1 2-1 2-1 2-1 2 3 2 0 2 2 2-3 2 1 2-1 2-1 2 1 2 3 2-1 2-1 2 0 2-1 2-1 2 1 2-2 2 4 2-2 2 0 2-1 2 3 2-2 2-2 2 3 2 0 2-1 2-2 2 4 2-2 2 0 2 2 2-4 2 6 2-6 2 1 2-1 2 0 2 2 2 0 2-2 2 3 2-2 2 0 2 1 2 0 2 1 2-3 2 4 2-1 2 3 2-2 2-1 2 0 2 1 2 1 2 1 2-3 2 2 2 2 2-1 2-1 2-2 2 3 2-3 2 1 2 0 2 0 2-1 2-1 2 1 2-4 2-1 2 0 2 2 2-3 2 1 2-3 2 1 2-4 2-2 2 0 2 1 2-4 2 0 2 0 2-1 2 5 2-5 2-1 2 1 2 0 2-4 2 0 2 3 2-3 2 0 2 2 2 3 2-7 2 3 2-1 2 1 2-2 2 1 2 2 2-1 2-2 2 5 2-1 2 2 2-1 2 4 2 1 2 2 2-3 2 3 2 3 2 2 2-2 2 1 2-1 2 3 2 3 2 2 2-2 2 1 2 2 2 0 2-2 2 3 2-4 2-1 2 0 2 2 2 0 2-1 2 0 2-1 2-1 2 0 2 0 2-4 2 1 2 1 2 0 2-4 2-1 2 0 2-3 2 3 2-2 2 0 2-2 2-1 2 2 2 2 2-1 2-1 2 1 2-2 2 2 2 1 2-2 2-2 2 2 2 2 2 3 2-4 2 3 2-1 2 3 2 2 2-7 2 7 2-3 2 4 2 0 2-2 2-2 2 2 2-2 2 3 2-3 2 0 2-1 2-2 2 1 2-2 2 2 2-4 2 1 2-2 2-1 2-1 2-2 2-1 2 0 2-3 2 1 2-3 2 5 2-1 2-3 2-1 2 1 2-1 2 0 2 4 2-2 2-1 2 0 2-1 2 6 2-3 2 1 2-2 2 2 2-1 2 5 2-4 2 2 2 0 2 1 2-1 2 0 2-1 2 3 2-1 2 1 2-2 2 3 2 1 2 1 2 1 2-2 2 3 2-2 2 1 2 2 2-1 2 2 2 4 2-1 2-3 2-1 2 3 2 2 2-2 2 0 2-3 2 3 2-1 2 3 2-5 2 2 2 2 2-2 2 1 2 0 2-4 2 3 2 0 2-5 2 9 2-5 2-2 2 0 2-2 2-2 2 1 2-2 2-3 2 1 2 1 2-1 2-3 2 1 2 2 2-4 2 0 2 1 2 2 2 0 2-3 2 3 2-3 2 2 2-5 2 6 2-4 2 0 2 4 2 3 2-4 2-1 2 1 2-1 2 1 2-2 2 0 2 3 2-1 2 2 2-4 2 2 2-2 2-3 2 4 2-2 2-2 2 1 2-3 2 1 2 1 2 1 2-2 2 0 2 0 2 0 2 1 2-2 2 3 2 1 2-2 2 3 2-2 2 4 2 0 2-1 2 1 1 1V1462" stroke="#0072BD"/><path d="M248 1404l2-2 2-5 2 0 2-6 2-2 2-4 2-3 2-3 2-4 2-1 2-3 2-4 2-3 2-2 2-5 2-1 2-4 2-3 2-3 2-3 2-3 2-3 2-3 2-2 2-3 2-2 2-4 2-3 2-3 2-4 2-1 2-3 2-4 2-4 2-2 2-3 2-2 2-4 2-4 2-2 2-4 2-3 2-3 2-2 2-3 2-2 2-4 2-3 2-4 2-3 2-3 2-2 2-4 2-2 2-5 2-2 2-2 2-3 2-4 2-2 2-4 2-2 2-4 2-2 2-4 2-3 2-2 2-2 2-4 2-3 2-2 2-5 2-1 2-3 2-4 2-2 2-3 2-4 2-3 2-2 2-3 2-3 2-2 2-1 2-4 2-1 2-3 2-4 2-3 2-3 2-3 2-3 2-3 2-6 2-5 2-4 2-7 2-8 2-8 2-8 2-7 2-11 2-8 2-8 2-10 2-7 2-11 2-10 2-11 2-11 2-11 2-10 2-10 2-9 2-4 2-3 2-4 2-2 2-3 2 0 2-3 2-1 2-2 2-1 2-2 2 0 2-2 2-2 2 1 2-3 2 0 2-1 2-2 2-2 2-1 2-2 2-1 2-2 2-1 2-2 2-2 2-2 2-1 2-2 2-2 2-1 2-2 2-3 2-3 2-3 2-3 2-5 2-3 2-7 2-6 2-7 2-5 2-7 2-6 2-7 2-4 2-6 2-3 2-8 2-6 2-2 2 0 2-1 2-1 2-1 2 1 2 0 2-3 2 1 2-1 2 1 2 1 2-3 2 1 2 0 2-2 2 1 2-3 2 0 2 3 2-5 2 1 2 1 2 0 2 0 2 0 2-2 2 5 2-3 2 2 2 2 2 0 2 3 2 1 2 0 2 1 2 2 2 3 2 2 2-1 2 2 2 4 2 2 2-2 2 8 2-2 2 2 2 1 2 1 2 3 2 6 2-1 2 2 2 2 2 0 2 2 2-1 2 2 2 1 2 3 2-1 2 4 2 0 2 4 2-1 2 1 2 2 2 2 2 0 2 0 2 3 2 0 2 2 2 2 2 0 2 1 2 2 2 4 2-6 2 3 2 1 2 2 2-1 2 4 2-1 2 1 2-1 2 4 2 2 2-6 2 2 2 1 2-2 2 3 2-1 2 3 2-4 2 2 2-1 2-1 2 2 2 2 2-4 2-1 2 2 2 2 2-2 2-1 2 1 2-1 2 3 2-2 2-4 2 3 2-5 2 5 2-3 2-2 2 2 2-4 2 4 2-1 2-3 2 2 2-2 2 1 2 0 2-1 2 1 2-2 2-1 2 4 2-2 2 0 2-4 2 3 2-1 2 0 2 2 2 0 2-3 2 2 2 1 2 0 2-3 2 2 2 2 2-3 2 4 2-3 2 0 2-2 2 3 2-1 2 2 2 2 2-4 2 1 2-1 2 2 2-3 2 2 2-5 2 2 2-2 2 2 2 1 2 0 2-2 2 0 2-3 2 1 2 3 2-1 2-2 2-2 2 5 2-1 2 2 2 4 2 0 2-3 2 2 2-2 2 3 2-2 2 2 2-1 2 1 2 1 2-4 2 9 2-6 2 5 2-1 2-1 2-3 2 2 2 1 2 0 2-1 2 3 2-2 2 0 2-3 2 4 2 1 2-3 2-3 2 4 2-2 2-1 2 5 2-3 2-2 2-1 2 2 2 4 2-4 2 0 2 1 2-1 2 4 2-3 2-1 2 1 2 0 2 3 2-1 2-1 2 2 2-1 2 0 2-2 2 2 2 2 2 1 2 3 2 0 2-1 2 3 2-1 2-1 2 2 2 0 2 1 2-3 2 3 2 2 2-2 2-4 2 6 2-4 2 0 2-4 2 3 2-2 2-3 2 1 2 0 2 1 2-1 2-4 2 1 2-1 2 0 2-3 2 2 2-3 2 1 2 0 2-1 2 1 2 0 2-3 2 2 2 3 2 2 2 1 2-2 2 2 2-2 2 1 2 3 2-2 2 1 2 3 2-3 2 1 2 1 2 4 2-4 2 0 2 2 2 2 2-1 2 2 2-2 2-2 2 1 2 2 2-7 2 2 2 2 2 0 2-1 2 3 2-5 2 3 2-2 2 1 2 0 2-3 2 2 2-2 2-2 2 3 2-1 2 4 2-3 2 0 2-2 2-1 2 1 2 0 2 5 2-4 2 0 2 3 2 1 2 2 2-5 2 2 2 0 2-2 2 0 2-1 2 2 2-1 2-3 2 2 2 0 2-1 2-2 2 2 2 0 2 2 2-2 2 1 2-4 2 2 2 1 2-3 2 0 2 0 2-1 2-1 2 3 2 0 2-5 2 2 2 2 2 1 2-1 2-3 2-1 2 5 2-2 2 0 2 0 2-1 2 1 2 0 2 0 2-4 2-1 2 4 2 2 2-3 2 4 2-1 2 1 2 1 2 0 2-4 2 4 2 1 2 0 2-1 2 0 2-2 2 3 2 0 2 2 2 0 2-2 2 2 2-3 2 0 2 2 2 2 2-1 2 1 2 0 2-3 2 1 2 0 2 0 2 0 2 0 2-2 2-1 2-4 2 4 2 0 2 1 2-1 2 2 2 0 2 1 2-1 2 1 2 1 2-1 2-1 2-2 2 4 2-1 2 2 2 2 2 1 2-3 2 0 2 0 2 1 2-1 2 2 2 0 2 1 2-2 2-2 2-1 2 0 2 4 2-5 2 4 2 0 2-1 2-3 2-3 2 1 2 4 2-3 2-3 2-1 2 1 2 2 2-3 2 1 2 0 2 1 2-5 2 6 2-1 2 1 2-3 2 3 2-2 2 1 2 1 2 1 2 2 2-2 2 0 2-2 2 2 2 4 2-3 2 0 2 4 2-3 2-3 2 7 2 0 2-2 2 2 2-1 2 1 2 1 2 1 2-3 2 1 2 5 2-5 2 2 2-2 2 3 2-2 2 1 2 1 2 1 2-2 2 2 2 0 2-1 2 1 2-2 2 2 2 0 2 0 2 3 2-3 2 1 2 0 2-1 2 0 2 1 2 2 2-1 2 1 2 1 2-3 2-4 2 6 2-3 2 0 2 1 2 1 2 1 2-3 2 3 2-6 2 5 2-3 2 0 2-1 2-3 2 0 2-1 2 0 2 2 2-3 2 2 2-2 2-3 2 4 2 1 2-2 2 0 2 0 2-2 2 3 2-1 2 2 2-3 2 1 2 3 2-1 2 1 2 4 2 1 2-2 2-3 2 2 2 1 2 1 2 0 2 2 2-1 2 1 2 2 2 1 2-1 2 2 2-2 2 4 2-3 2 1 2 3 2-1 2-1 2-1 2 2 2 2 2 0 2-2 2 0 2 1 2 1 2-2 2 3 2-1 2-2 2 1 2-1 2 0 2-2 2 0 2 0 2-3 2-1 2 2 2 0 2-3 2 1 2-5 2 4 2 0 2-4 2 1 2 1 2-4 2 0 2 1 2-3 2 1 2-1 2-3 2 3 2-2 2 0 2 1 2-4 2 1 2 3 2 0 2-1 2-2 2 1 2-2 2 3 2 0 2 4 2-5 2 2 2 2 2 1 2 3 2-2 2 0 2-3 2 2 2 4 2-3 2 0 2 1 2-1 2 2 2 4 2-5 2 3 2-2 2-2 2 1 2 2 2-2 2-2 2 4V1462" stroke="#A2142F"/><path d="M248 1283l2-2 2-4 2-3 2-3 2-3 2-3 2-2 2-4 2-3 2-3 2-3 2-2 2-5 2-2 2-3 2-4 2-4 2-1 2-3 2-3 2-3 2-4 2-1 2-5 2-3 2-4 2-3 2-2 2-3 2-3 2-4 2-2 2-3 2-4 2-3 2-4 2-2 2-4 2-3 2-2 2-3 2-4 2-4 2-2 2-3 2-4 2-3 2-3 2-3 2-4 2-3 2-3 2-4 2-2 2-4 2-2 2-4 2-3 2-5 2-2 2-3 2-4 2-3 2-4 2-2 2-5 2-2 2-2 2-3 2-4 2-3 2-3 2-3 2-3 2-3 2-3 2-3 2-5 2-1 2-3 2-4 2-3 2-2 2-4 2-2 2-3 2-2 2-3 2-2 2-4 2-3 2-3 2-2 2-4 2-3 2-4 2-4 2-4 2-3 2-4 2-4 2-4 2-5 2-3 2-4 2-6 2-5 2-4 2-7 2-8 2-5 2-8 2-3 2-5 2-5 2-1 2-3 2-3 2-1 2-1 2-3 2-2 2 0 2-2 2-2 2-1 2 0 2-2 2-2 2-1 2-2 2-1 2 0 2-2 2 0 2-2 2-3 2-2 2-1 2-3 2-2 2-2 2-3 2-2 2-3 2-2 2 0 2-1 2-2 2-1 2 1 2 0 2 0 2 0 2 1 2 0 2 0 2 2 2-1 2 1 2 0 2-5 2-6 2-8 2-9 2-2 2 0 2 0 2-2 2 0 2 1 2-1 2 0 2-1 2 0 2-1 2 0 2 1 2-5 2 3 2-4 2 0 2-5 2 9 2-6 2 3 2-2 2-2 2 0 2 1 2 5 2-4 2-1 2 3 2 4 2-1 2 0 2 1 2-1 2 4 2 2 2 4 2 0 2 4 2 3 2 1 2 4 2 0 2 3 2 3 2 0 2 4 2 5 2-1 2 3 2 0 2-1 2 5 2 3 2 4 2-1 2 2 2-1 2 2 2 1 2-1 2 2 2-1 2 3 2-3 2 1 2-1 2-1 2 0 2 7 2-3 2-2 2 1 2-3 2 2 2-1 2 1 2 3 2-5 2-3 2 5 2-1 2 2 2-4 2 0 2 4 2-1 2 2 2 0 2 2 2-3 2 4 2-1 2-2 2 4 2 5 2-5 2 2 2 2 2-1 2 2 2-1 2 4 2-3 2 3 2-1 2 2 2 0 2 3 2 3 2-7 2 6 2-1 2-1 2-1 2-1 2 3 2 1 2-2 2 2 2 0 2 0 2-1 2-4 2 3 2 2 2 1 2-4 2 1 2-2 2-3 2 3 2 2 2-3 2 1 2-3 2 2 2-2 2 2 2 0 2-1 2-2 2 0 2-1 2 1 2 0 2 1 2-1 2-3 2 0 2 1 2 0 2-2 2 2 2 1 2-2 2 3 2-3 2 1 2-3 2-3 2 6 2-2 2 2 2 2 2 1 2-3 2 4 2-3 2 4 2 0 2-2 2 0 2 6 2-2 2 3 2 1 2 2 2-4 2 3 2 1 2-1 2 4 2 1 2-4 2 1 2 3 2-4 2 3 2-1 2-1 2 3 2 1 2-1 2-1 2-2 2-3 2 1 2 0 2-3 2 5 2-2 2-3 2 0 2 2 2 0 2-3 2 1 2 4 2-5 2 2 2-4 2 3 2 0 2 1 2-2 2-3 2 0 2 4 2-3 2 3 2 1 2-2 2-4 2 5 2 1 2 3 2 1 2-1 2-2 2 1 2 3 2-1 2 0 2-2 2 2 2 3 2 0 2 3 2 1 2 2 2-3 2-4 2 5 2-3 2 1 2 3 2-4 2 1 2 0 2-1 2 1 2-2 2-1 2-1 2 3 2-4 2 2 2 2 2-4 2 3 2-4 2 1 2 3 2 1 2 0 2 0 2 0 2 3 2-4 2 4 2-3 2 1 2 2 2-3 2 4 2-3 2 2 2 3 2-2 2-1 2 0 2 3 2-3 2 0 2-2 2 1 2 1 2 0 2-3 2 0 2 0 2-1 2 1 2-1 2 2 2-3 2 0 2 2 2-4 2 2 2 0 2-2 2 0 2 1 2-1 2 0 2-1 2-3 2 3 2-1 2 3 2-2 2 3 2-2 2-1 2 3 2-1 2-5 2 6 2 0 2-3 2 1 2 2 2-4 2 0 2 3 2-1 2 2 2-2 2-1 2 1 2-5 2 2 2-1 2 2 2 0 2-1 2-2 2 2 2-1 2 0 2 1 2 1 2-5 2 0 2 2 2 2 2-2 2 3 2-2 2-3 2 5 2-6 2 1 2 1 2 1 2-3 2-2 2 4 2 0 2-1 2-2 2-1 2 1 2-3 2 5 2-1 2-1 2 3 2-2 2 0 2 0 2 0 2 1 2-4 2 3 2-2 2 3 2 1 2 0 2-1 2 0 2-2 2 0 2 3 2-1 2 0 2 1 2-1 2-1 2 3 2-6 2 7 2-2 2-2 2 1 2-1 2 2 2 1 2-1 2 4 2 1 2-5 2 3 2 1 2 2 2-1 2-1 2 6 2-3 2-3 2 2 2 0 2 1 2 3 2-3 2 0 2 3 2-2 2-4 2 0 2 2 2 0 2-4 2 4 2-3 2-1 2 1 2 1 2 0 2-2 2-2 2 1 2 0 2-1 2 0 2-1 2-2 2 3 2 0 2 1 2-1 2 0 2-4 2 2 2 3 2-9 2 1 2 3 2 2 2-1 2 0 2-3 2 2 2 1 2 0 2-1 2 3 2-2 2-1 2 1 2-3 2-2 2 4 2-1 2-4 2 4 2-1 2-1 2 0 2 0 2-3 2 3 2-2 2 1 2 0 2-1 2 0 2-3 2 2 2 3 2-4 2 2 2 3 2-2 2 0 2 0 2-5 2 1 2 3 2 1 2-1 2-2 2-1 2 1 2 1 2 0 2 4 2-3 2-1 2 0 2 1 2 0 2 0 2 3 2 2 2 2 2-1 2-3 2 1 2 1 2-4 2 3 2-1 2 1 2-5 2 2 2-1 2 3 2-7 2-2 2 0 2 1 2-1 2-5 2-1 2-1 2 1 2-1 2-3 2 0 2-2 2 0 2 1 2 2 2-3 2 0 2-1 2 1 2 1 2-1 2 1 2 2 2 0 2-2 2 5 2-1 2 0 2 1 2 0 2 2 2 2 2 0 2 0 2 3 2-1 2 1 2 1 2 0 2-2 2 2 2 0 2 0 2 2 2-4 2 0 2-2 2 0 2 3 2-1 2-3 2 0 2 2 2-3 2 0 2 0 2-2 2-2 2 3 2-1 2 1 2-5 2 1 2-1 2 1 2-2 2 1 2 1 2 1 2-1 2 1 2-2 2 0 2 1 2 0 2-1 2 2 2 2 2 1 2-2 2 1 2 2 2-3 2 3 2-1 2 0 2 1 2 1 2 1 2 0 2 0 2 2 2 0 2 1 2 0 2 1 2 1 2-2 2 2 2 1 2-1 2-2 2-1 2 5 2-2 2-1 2-1 2 0 2 2 2-1 2-5 2 1 2-2 2 3 2-4 2-3 2-1 2 5 2-2 2-1 2-5 2 0 2-1 2-1 2-2 2 2 2-1 2-3 2 0 2 0 2-1 2-3 2 3 2-2 2 2 2-3 2 1 2 1 1-4V1462" stroke="#4DBEEE"/><path d="M248 1443l2-4 2-2 2-2 2-3 2-3 2-3 2-2 2-2 2-3 2-2 2-2 2-2 2-2 2-1 2-2 2-3 2-3 2-1 2-1 2-2 2-3 2-1 2-3 2-1 2-2 2-2 2-2 2-3 2-2 2 0 2-3 2-2 2-2 2-1 2-2 2-3 2-2 2-1 2-2 2-2 2-2 2-3 2-1 2-2 2-1 2-5 2-1 2-2 2-1 2-3 2-2 2-1 2-4 2-1 2-3 2-2 2-2 2-2 2-4 2-2 2-2 2-3 2-2 2-4 2-1 2-5 2-1 2-3 2-1 2-3 2-5 2-2 2-3 2-3 2-3 2-2 2-2 2-5 2-4 2-1 2-4 2-3 2-1 2-6 2-3 2-3 2-5 2-2 2-3 2-3 2-4 2-3 2-3 2-4 2-3 2-4 2-4 2-4 2-3 2-5 2-2 2-4 2-4 2-4 2-3 2-6 2-2 2-4 2-5 2-3 2-5 2-3 2-5 2-4 2-3 2-4 2-4 2-4 2-6 2-2 2-6 2-4 2-6 2-5 2-4 2-6 2-6 2-5 2-7 2-8 2-7 2-8 2-9 2-8 2-9 2-11 2-8 2-9 2-11 2-12 2-14 2-11 2-12 2-16 2-17 2-16 2-18 2-20 2-20 2-3 2-2 2 0 2 1 2 0 2 0 2 0 2-1 2 0 2-1 2 1 2 0 2 2 2 0 2 0 2-2 2-1 2 0 2 0 2 0 2-2 2 0 2 2 2 0 2-4 2 0 2-2 2-2 2 1 2 0 2 0 2-4 2 1 2-2 2 0 2 1 2 0 2 1 2 2 2 0 2-2 2-1 2 4 2 0 2 2 2 1 2-2 2 4 2 5 2 0 2-1 2 3 2 3 2 5 2-2 2 1 2 5 2 5 2 0 2 1 2 2 2 7 2-1 2 1 2 7 2-5 2 6 2 3 2-2 2 7 2-4 2 3 2 6 2-3 2 0 2 5 2 0 2 0 2 0 2 3 2 0 2 3 2 0 2 0 2 4 2-2 2 4 2 3 2-3 2 2 2-4 2 3 2 1 2 0 2 2 2-2 2 0 2 0 2-1 2 0 2 0 2-4 2 4 2-4 2-1 2-1 2 2 2-5 2 3 2-1 2-3 2-1 2 3 2-5 2-1 2 4 2-3 2-4 2 6 2-3 2 1 2 0 2 0 2 2 2-5 2 1 2 0 2 4 2 0 2-1 2-3 2 6 2-1 2-2 2 2 2-2 2 0 2 1 2-2 2 1 2 2 2-3 2 0 2 2 2-2 2 3 2 2 2 0 2-1 2-2 2-2 2 5 2 0 2 0 2 0 2 3 2-3 2 4 2-2 2 0 2 0 2-1 2 2 2 0 2-1 2 3 2-7 2 6 2 0 2 0 2-5 2 1 2 0 2 5 2-3 2-2 2-1 2 0 2 0 2-2 2 1 2 1 2-3 2 2 2 0 2-1 2 0 2-3 2 4 2-4 2 1 2-1 2 3 2-2 2-2 2 1 2-3 2 4 2 4 2-8 2 4 2 2 2 0 2-3 2 5 2-4 2 1 2-2 2 4 2 4 2-4 2 1 2 2 2 0 2 1 2-1 2 4 2-4 2 2 2 2 2 3 2 0 2 0 2 3 2 0 2-5 2 4 2 1 2-1 2 4 2 2 2-2 2-1 2 4 2 0 2 0 2 1 2 0 2 2 2-2 2 1 2 4 2-1 2 0 2-1 2 2 2-2 2-3 2 2 2-1 2 0 2 1 2-2 2 3 2-3 2 1 2 3 2-5 2 7 2-1 2-2 2-2 2 4 2 0 2 3 2-2 2 0 2 5 2 1 2-4 2-2 2 0 2 4 2-5 2 0 2 0 2 2 2-4 2 4 2-2 2-1 2 4 2-6 2 0 2-1 2 0 2 1 2-3 2 3 2 1 2-3 2-6 2 3 2 3 2-1 2-5 2 4 2-2 2 3 2-5 2-1 2 3 2-1 2-1 2-1 2 1 2 0 2-5 2 2 2 1 2-3 2 2 2-3 2-2 2 3 2-1 2 6 2-6 2 0 2 0 2 1 2 2 2-4 2 3 2-2 2-2 2 2 2 1 2 4 2 0 2-5 2 1 2 3 2 0 2-3 2 4 2-4 2 1 2 1 2 1 2-3 2 2 2-3 2 5 2 0 2-4 2 4 2-3 2 0 2 0 2-1 2 0 2 2 2 3 2 0 2-1 2 3 2-1 2 2 2-2 2 2 2 3 2 1 2-2 2 5 2-1 2 0 2 4 2 0 2 0 2 1 2 3 2-3 2 3 2-1 2-1 2-1 2 0 2 6 2 0 2-3 2-1 2 2 2-1 2 2 2-4 2 2 2 2 2-4 2-1 2 2 2-3 2-1 2 0 2 5 2-4 2 1 2-4 2-2 2 5 2-2 2-5 2 4 2-2 2 2 2-7 2 6 2-4 2 1 2 0 2-2 2 1 2-2 2 0 2 1 2-3 2-1 2 3 2 1 2-2 2-1 2 1 2-2 2 1 2 2 2-4 2 4 2-2 2 1 2-1 2 0 2-1 2-2 2 3 2 0 2-2 2-2 2 3 2 3 2-4 2-2 2 1 2 2 2-1 2 0 2 1 2-1 2 4 2-2 2-1 2-1 2 0 2 1 2 1 2 0 2 0 2 1 2-1 2 1 2-2 2 3 2 2 2-1 2 1 2-1 2 4 2-2 2 6 2-5 2 4 2 0 2-1 2 3 2 2 2-5 2 5 2-1 2 1 2 2 2-2 2-1 2-1 2 1 2 1 2-2 2-1 2 4 2-6 2 5 2-5 2 0 2-2 2 0 2-3 2 2 2-1 2-3 2 1 2-2 2-3 2-2 2 1 2-2 2-1 2 3 2-6 2 3 2-3 2 0 2-3 2 4 2-1 2-3 2 3 2-1 2-2 2 1 2-3 2 3 2 1 2-3 2 3 2 6 2-4 2-1 2 0 2 6 2-4 2 1 2-1 2 1 2 3 2 3 2 3 2-2 2 1 2-2 2 2 2 3 2 1 2-3 2 1 2 1 2 3 2 1 2 1 2 0 2 3 2-2 2 3 2-1 2-2 2 4 2-3 2 5 2 0 2 0 2 0 2 0 2 2 2 2 2-2 2-1 2 2 2-2 2 1 2-2 2-2 2 1 2 2 2-2 2 0 2-2 2 4 2-1 2-3 2 3 2-4 2 3 2-1 2 1 2-4 2 0 2 0 2 1 2 1 2-1 2-3 2 5 2-4 2 0 2 0 2 3 2-6 2-2 2 4 2-2 2 0 2-2 2 2 2-1 2-2 2 3 2-4 2 4 2-5 2-1 2 0 2 0 2 2 2-3 2 1 2-2 2 1 2-1 2 1 2-1 2 1 2-1 2 0 2 4 2-2 2 0 2 2 2-1 2 4 2 3 2-3 2 0 2 3 2-1 2 3 2 2 2 2 2-2 2-1 2 3 2-1 2 2 2 3 2 0 2 2 2 1 2 1 2 1 2 1 2-1 2 2 2 0 2 1 2 1 2 0 2 0 2-1 2-1 2-2 2 5 2-1 2-6 2 1 2-1 2-1 2-1 2 1 2-6 2 1 2-2 2 1 2-4 2-3 2 0 2-4 2 3 2-1 1-3V1462" stroke="#77AC30"/><path d="M248 1444l2-1 2-4 2-2 2-5 2-2 2-2 2-2 2-4 2-1 2-4 2-1 2-2 2-3 2-3 2 0 2-2 2-2 2-2 2-2 2-3 2 1 2-2 2-3 2-2 2-2 2-1 2-2 2-2 2-2 2-2 2-1 2-2 2-1 2-2 2-3 2-2 2-1 2-2 2 0 2-3 2-2 2-2 2-3 2-2 2-3 2 0 2-3 2-3 2-2 2-2 2-2 2-3 2-3 2-1 2-4 2-2 2-2 2-3 2-3 2-2 2-2 2-4 2-1 2-3 2-4 2-2 2-5 2-1 2-2 2-3 2-3 2-1 2-4 2-2 2-3 2-2 2-3 2-4 2-1 2-4 2-3 2-2 2-2 2-3 2-4 2-3 2-4 2-2 2-3 2-4 2-3 2-3 2-4 2-4 2-2 2-4 2-4 2-4 2-3 2-3 2-5 2-3 2-5 2-4 2-3 2-4 2-4 2-5 2-2 2-7 2-2 2-5 2-3 2-5 2-4 2-4 2-4 2-4 2-4 2-6 2-4 2-5 2-4 2-4 2-7 2-5 2-5 2-6 2-6 2-6 2-8 2-7 2-7 2-10 2-7 2-9 2-11 2-10 2-8 2-12 2-11 2-11 2-13 2-15 2-13 2-16 2-16 2-18 2-19 2-19 2-4 2 1 2 0 2 0 2-1 2-1 2 2 2-2 2 2 2-1 2 2 2-3 2 2 2 0 2 0 2 3 2-2 2-1 2 1 2 0 2-3 2 3 2-2 2-2 2 0 2 0 2-2 2-2 2 0 2-1 2 0 2 1 2-3 2 1 2-2 2 1 2 2 2-1 2-2 2-3 2 3 2 4 2 0 2 5 2-1 2 1 2 0 2 4 2 2 2 0 2 1 2 3 2 6 2 4 2 1 2-3 2 6 2 0 2 6 2 2 2-2 2 6 2 3 2-2 2 5 2-2 2 5 2 0 2-4 2 5 2 2 2 0 2-2 2 2 2-3 2-1 2 1 2 0 2 5 2-2 2 0 2 0 2 1 2-1 2 2 2-2 2 3 2-2 2 0 2 2 2 3 2-3 2 1 2 1 2 2 2 1 2 1 2 3 2 0 2 2 2-2 2 2 2 0 2 0 2 2 2 1 2-2 2 3 2 4 2-2 2 3 2-2 2 4 2-2 2 1 2 0 2-2 2 5 2-1 2 0 2-2 2 3 2-2 2 2 2-1 2-4 2 3 2 2 2-3 2 0 2-2 2 4 2-4 2-1 2 0 2 2 2-3 2 1 2-3 2 3 2-1 2-1 2 1 2-1 2-1 2 0 2 0 2-1 2-1 2-2 2 2 2-4 2-2 2 5 2-2 2 1 2-2 2 2 2 1 2 1 2 1 2-5 2 3 2-4 2 1 2 3 2-4 2 2 2 0 2 0 2 3 2-4 2-2 2 4 2-2 2 2 2 1 2-1 2 0 2-2 2-1 2 2 2 0 2-1 2 1 2 4 2-6 2 2 2-1 2 3 2-1 2 0 2 2 2-3 2 1 2 3 2-4 2 2 2 3 2-3 2 1 2 3 2-3 2 1 2 2 2-2 2 1 2 0 2 0 2 2 2-2 2 2 2 3 2-1 2-3 2 1 2 5 2 0 2-2 2 1 2 1 2 1 2-1 2 3 2 0 2 0 2 1 2 0 2 2 2 1 2 1 2-4 2 3 2 4 2-4 2 0 2 2 2 0 2 3 2 1 2-5 2 1 2 2 2 1 2 0 2 1 2-5 2 0 2-1 2 2 2 1 2-1 2-1 2 0 2-2 2 1 2-3 2 3 2 0 2 1 2-1 2-3 2-1 2 0 2 2 2 1 2-3 2 3 2-2 2-1 2-1 2 3 2-2 2-2 2 5 2 1 2-2 2 1 2-3 2 6 2-4 2-1 2 2 2 1 2-1 2 2 2 3 2-5 2 4 2 1 2-1 2 0 2-1 2 0 2 2 2 2 2-2 2 0 2-3 2 2 2 1 2 2 2-4 2 2 2-3 2 0 2 0 2-1 2 2 2 0 2-1 2-2 2 1 2-1 2-1 2 1 2-2 2 2 2 3 2-3 2 0 2-2 2 4 2-2 2 0 2-1 2 2 2-3 2-2 2 1 2-2 2 0 2-3 2 3 2-2 2 0 2-1 2-1 2-4 2 2 2-2 2-2 2 0 2 1 2-3 2 1 2 2 2-5 2 1 2 0 2 0 2 2 2-3 2 0 2 2 2 0 2 5 2 2 2-4 2 5 2 3 2-1 2 0 2 2 2-1 2 3 2 3 2-1 2 3 2-3 2 1 2 2 2 0 2-2 2 5 2 0 2 5 2-7 2 2 2 0 2 1 2-3 2 0 2 3 2-3 2 2 2-2 2-1 2-1 2 1 2 3 2-1 2-3 2-2 2 1 2 1 2-2 2-1 2 0 2 4 2 2 2-2 2-3 2 4 2-4 2-1 2 3 2-1 2 1 2-1 2 1 2 2 2-4 2 0 2 4 2-4 2 2 2 0 2-2 2 3 2 0 2 2 2-2 2 2 2-2 2 3 2 3 2-1 2 0 2-2 2 2 2 0 2-2 2 4 2-3 2 3 2 1 2 2 2 1 2-3 2 1 2 2 2-2 2 1 2-5 2 3 2-4 2 5 2-1 2-1 2-1 2 2 2-3 2-1 2 0 2 0 2-2 2 0 2-2 2-1 2 1 2-2 2-1 2-3 2 1 2-2 2 1 2 2 2-1 2-2 2-2 2 6 2-4 2 0 2 0 2 3 2 0 2 0 2 1 2 2 2 2 2-3 2 3 2 3 2-1 2 3 2 4 2-4 2 4 2 1 2 0 2 1 2-1 2 2 2 3 2 2 2-1 2 1 2 2 2 2 2-3 2 1 2-1 2 4 2 0 2 0 2 0 2-3 2 4 2-1 2-2 2 0 2 2 2-1 2 0 2 2 2-3 2 2 2-1 2 1 2 0 2-3 2-3 2 0 2 3 2-1 2 0 2-2 2 4 2-6 2 1 2-1 2 0 2-2 2 1 2-2 2 2 2-6 2 5 2 1 2-3 2 1 2-4 2 0 2 1 2-3 2 2 2-3 2 3 2-3 2 1 2 0 2-4 2 2 2-2 2-2 2-2 2 2 2-2 2-1 2-2 2 3 2-3 2 0 2-1 2 0 2-7 2 6 2-4 2 1 2 0 2-2 2 2 2-3 2-2 2 3 2-4 2 1 2 2 2-1 2 2 2 0 2 2 2-4 2 0 2 6 2 0 2 0 2 0 2 0 2-2 2 1 2 0 2 2 2 1 2 1 2 1 2-2 2 2 2 1 2-4 2 3 2 3 2 1 2-2 2 1 2 3 2 0 2 1 2-2 2 1 2 3 2-5 2 3 2 5 2-5 2 4 2-1 2 1 2-2 2 4 2-4 2 3 2 0 2-2 2 3 2-2 2 0 2 2 2-5 2 5 2-2 2-2 2 3 2 0 2 0 2 0 2-2 2 0 2-2 2 1 2 1 2-3 2-1 2 0 2 3 2 0 2-2 2 3 2-4 2 0 2 1 2 2 2-1 2 1 2-2 2 0 2 4 2-1 2 3 2 0 2-3 2 2 2-2 2 1 2 2 2 2 2 4 2-4 2-2 2-3 2 5 1-2V1462" stroke="#7E2F8E"/><path d="M248 1449l2-3 2-3 2-2 2-3 2-3 2-4 2-1 2-2 2-3 2-3 2-2 2-2 2-2 2-2 2-2 2-3 2-2 2-2 2-2 2 0 2-4 2 0 2-4 2-1 2-2 2-2 2-1 2-2 2-2 2-3 2-1 2-2 2-1 2-2 2-1 2-2 2-2 2-2 2-2 2-1 2-2 2-2 2-3 2-1 2-3 2 0 2-3 2-1 2-3 2-4 2-1 2-2 2-2 2-2 2-2 2-5 2 0 2-3 2-3 2 0 2-4 2-2 2-3 2-3 2-2 2-3 2-2 2-3 2-3 2-2 2-3 2-3 2-3 2-3 2-1 2-5 2-3 2-1 2-5 2-2 2-4 2-2 2-4 2-3 2-3 2-5 2-3 2-3 2-3 2-4 2-2 2-5 2-5 2-1 2-4 2-4 2-4 2-4 2-4 2-1 2-6 2-4 2-3 2-4 2-4 2-4 2-4 2-4 2-2 2-6 2-2 2-5 2-4 2-4 2-4 2-5 2-4 2-3 2-5 2-4 2-4 2-4 2-7 2-2 2-5 2-6 2-5 2-4 2-6 2-7 2-7 2-6 2-7 2-9 2-6 2-10 2-8 2-10 2-9 2-11 2-11 2-9 2-13 2-12 2-14 2-13 2-16 2-17 2-17 2-19 2-18 2-4 2 1 2-2 2 1 2-2 2 2 2 0 2 0 2-1 2-1 2 0 2 2 2-3 2 0 2 2 2-3 2 0 2 0 2-2 2 2 2-3 2-1 2-1 2 1 2-6 2 0 2 1 2 0 2 1 2-4 2-1 2-2 2-1 2 1 2-1 2 2 2 0 2-1 2 0 2 1 2 0 2 0 2 5 2-1 2 0 2 3 2 5 2-1 2 3 2 0 2 1 2 6 2 1 2 2 2 3 2 4 2-2 2 6 2 4 2 0 2 0 2 3 2 0 2 6 2-4 2 5 2 3 2 2 2 1 2-1 2-1 2 2 2 2 2-1 2 1 2 1 2 1 2-2 2 1 2-1 2 2 2-3 2 4 2 0 2 1 2-2 2-2 2 6 2 0 2-5 2-1 2 4 2-1 2-1 2 1 2 2 2-5 2 4 2 2 2-1 2-2 2 1 2-2 2 0 2 3 2-1 2 2 2-1 2-3 2 1 2-3 2 3 2-1 2 3 2-3 2 5 2 0 2-2 2 1 2 2 2 3 2-2 2 2 2 3 2-2 2 5 2-5 2 4 2-2 2 2 2-2 2 5 2-1 2 4 2 1 2-2 2 1 2 3 2 2 2-7 2 4 2-2 2 2 2 0 2 4 2 0 2-1 2 2 2 1 2 0 2 2 2-1 2 2 2-1 2 0 2 3 2-2 2 0 2 5 2-4 2 2 2-2 2 1 2-1 2 2 2-1 2 2 2-2 2 2 2-4 2-1 2 0 2 1 2-1 2 2 2-3 2 3 2 2 2-3 2-3 2 2 2 1 2-4 2 1 2 0 2 1 2 2 2-4 2 1 2-1 2 1 2 2 2-3 2-1 2 1 2-1 2 7 2-2 2-3 2 2 2-1 2 1 2-2 2 2 2 0 2 2 2-3 2 3 2 1 2-4 2 1 2 2 2-1 2-2 2-2 2 0 2 3 2-3 2-2 2 3 2-1 2 1 2 1 2-2 2 2 2-3 2 1 2 1 2-2 2 0 2 4 2-1 2 0 2 2 2-2 2 5 2 0 2 0 2 0 2 1 2-2 2 2 2 1 2-1 2 0 2 0 2 2 2-2 2 0 2 3 2-1 2-2 2 0 2 0 2-3 2 3 2 1 2-3 2 2 2 0 2-2 2-2 2-1 2 2 2-3 2 1 2-2 2-1 2 0 2-1 2 1 2-5 2 5 2-1 2 0 2 1 2 1 2 2 2-4 2 5 2-5 2 2 2 4 2-1 2-3 2 2 2-1 2-1 2 1 2 1 2 0 2-1 2 3 2 0 2-3 2 2 2 4 2-6 2 5 2 0 2-2 2 5 2-2 2 3 2-2 2-2 2-2 2 1 2 1 2-1 2 1 2-1 2 0 2-1 2-2 2 1 2 0 2-3 2 2 2-3 2-1 2 0 2-1 2 0 2-4 2 3 2 0 2 0 2 1 2-3 2 2 2-3 2 1 2-1 2 2 2 0 2-2 2 1 2 2 2 2 2-2 2 1 2-1 2-4 2 6 2-1 2-1 2 1 2-1 2 6 2-6 2 6 2-5 2 3 2-1 2 1 2 0 2 1 2 1 2-1 2 0 2 1 2 0 2 0 2 3 2-1 2 2 2 0 2 2 2-3 2 3 2-1 2 2 2 1 2 3 2 1 2-4 2-1 2 3 2-1 2 3 2-1 2 3 2 0 2 1 2-1 2 0 2 1 2 1 2-3 2 3 2-1 2 0 2-1 2 0 2 1 2 1 2-1 2-4 2 1 2 3 2-1 2-3 2 4 2-6 2 0 2 2 2-1 2 0 2 0 2 0 2-5 2-1 2 0 2 0 2-4 2-2 2 3 2-4 2 2 2-2 2-3 2 1 2-2 2-1 2 3 2-3 2-1 2 1 2 1 2-2 2 0 2-5 2 2 2 0 2 3 2 1 2-3 2 3 2-1 2-2 2 4 2-2 2 3 2-3 2 3 2 0 2 0 2-2 2 5 2-2 2 0 2 0 2 7 2 0 2-4 2 0 2 0 2 3 2-1 2 0 2 2 2-3 2 1 2-1 2-2 2 0 2 3 2 0 2-2 2 3 2-3 2 0 2 1 2-2 2-1 2-1 2 1 2 1 2 1 2 0 2 2 2-4 2 0 2 4 2 0 2-1 2 0 2 0 2 3 2-1 2-1 2 3 2 1 2 1 2-3 2 0 2-2 2 5 2-3 2 2 2 0 2-3 2 3 2-5 2 4 2-4 2 6 2-4 2-1 2 4 2 1 2-3 2-1 2 2 2-2 2 1 2-1 2 2 2 0 2 0 2 0 2 4 2-2 2 0 2-1 2-2 2 4 2 1 2-2 2 4 2-2 2 2 2 0 2 0 2 0 2 4 2-3 2 2 2 4 2-1 2 3 2 0 2-2 2 0 2 2 2 0 2 1 2-4 2 6 2-2 2 1 2-2 2 2 2-2 2 2 2-1 2 3 2-3 2-1 2 0 2-1 2 1 2-4 2 1 2 2 2 2 2-2 2-1 2 1 2 0 2-2 2-2 2 5 2-3 2-1 2 0 2 3 2-1 2 1 2 0 2 0 2-5 2 5 2-3 2 0 2 2 2 0 2-2 2-2 2 3 2-3 2-1 2 3 2-4 2 0 2-2 2-1 2 1 2-2 2-2 2 2 2-1 2-1 2 0 2-2 2-1 2-1 2 1 2-4 2 4 2-2 2-2 2-1 2-3 2 5 2 2 2-1 2 0 2 0 2 3 2-1 2-2 2 2 2-1 2 4 2 3 2-2 2-3 2 5 2 0 2 1 2-4 2 7 2-1 2-2 2 2 2 0 2 2 2-1 2 3 2 1 2 1 2-4 2 2 2 1 2-1 2 2 2-2 2 0 2-1 2 1 2-3 2 3 2-1 2-2 2 4 2-1 2 2 2-2 2 0 2 1 2 0 2 0 2-3 2 1 2 3 2-2 2 1 2 0 2 1V1462" stroke="#A2142F"/><path d="M248 1451l2-2 2-5 2-2 2-2 2-3 2-2 2-3 2-3 2-2 2-2 2-3 2-2 2-2 2-2 2-2 2-2 2-2 2-2 2-1 2-2 2-1 2-2 2-2 2-3 2-2 2-1 2-1 2-2 2-3 2-1 2-2 2-1 2-3 2-2 2 0 2-4 2-1 2-3 2-1 2-2 2-3 2-2 2-1 2-1 2-2 2-2 2-3 2-1 2-3 2-2 2-3 2-1 2-2 2-2 2-3 2-2 2-2 2-2 2-2 2-5 2-1 2-3 2-3 2-1 2-3 2-1 2-3 2-2 2-4 2-3 2-3 2-1 2-3 2-2 2-4 2-2 2-2 2-4 2-1 2-4 2-3 2-3 2-2 2-3 2-4 2-4 2-2 2-3 2-3 2-3 2-4 2-2 2-5 2-3 2-3 2-4 2-4 2-3 2-4 2-4 2-2 2-6 2-3 2-4 2-4 2-4 2-3 2-4 2-5 2-4 2-3 2-5 2-5 2-3 2-4 2-5 2-3 2-4 2-7 2-4 2-4 2-5 2-4 2-5 2-5 2-5 2-6 2-5 2-6 2-4 2-8 2-6 2-8 2-6 2-9 2-8 2-9 2-8 2-10 2-9 2-10 2-10 2-10 2-12 2-11 2-13 2-14 2-16 2-15 2-16 2-18 2-20 2-2 2-1 2 1 2 1 2 0 2 1 2 0 2 2 2-1 2 0 2 0 2 2 2 0 2-2 2 1 2 1 2-1 2 1 2 0 2-1 2-1 2 0 2-3 2 1 2-2 2 1 2-2 2-3 2 0 2 0 2 0 2 0 2-3 2 2 2-2 2-4 2 3 2-2 2 2 2 0 2 1 2 1 2 0 2 6 2-6 2 5 2 2 2 3 2 5 2-1 2 3 2-1 2 3 2 1 2 3 2 3 2 5 2 0 2 2 2 2 2-1 2 6 2-1 2 1 2-1 2 3 2 1 2 0 2 3 2-4 2 2 2 1 2-1 2-4 2 9 2-3 2-2 2 1 2-3 2 2 2 4 2-2 2-1 2 6 2 1 2 0 2-4 2 2 2 3 2 4 2-1 2-3 2 5 2 3 2 0 2-2 2 3 2-1 2 3 2 0 2 1 2 3 2 0 2 1 2 3 2-1 2-1 2 1 2-1 2 3 2-1 2-1 2 1 2-3 2 2 2-1 2-1 2 6 2-7 2-1 2 0 2-1 2 0 2 1 2 0 2-2 2 2 2-5 2 2 2-1 2 0 2 0 2 1 2 1 2 0 2-1 2 0 2-3 2 7 2-3 2 2 2-2 2 3 2-1 2 2 2 3 2-1 2 4 2-2 2 4 2 0 2-1 2 0 2-1 2 3 2 4 2 0 2-2 2 3 2-1 2 5 2-2 2 0 2 6 2-3 2-1 2 4 2-1 2-1 2 0 2-1 2 2 2 0 2 2 2-5 2 3 2 2 2-6 2 3 2 0 2-1 2-1 2 1 2-1 2 0 2-4 2 4 2-3 2 0 2 3 2-3 2-2 2-1 2-3 2 4 2 0 2-3 2 0 2 1 2 1 2-3 2-1 2-2 2-1 2 0 2 0 2-3 2 2 2-1 2 2 2-2 2 1 2-3 2 0 2 5 2-4 2 1 2-2 2 2 2 1 2 0 2 2 2 1 2 3 2-2 2 2 2 2 2 1 2 2 2 0 2 0 2-2 2 4 2-1 2 3 2 5 2-5 2-1 2 4 2 3 2-3 2 1 2-1 2 1 2 1 2 2 2-1 2-4 2 3 2-3 2 3 2-1 2 2 2-5 2 0 2-2 2 2 2-5 2 4 2 1 2-4 2-2 2 1 2-1 2 1 2 2 2-3 2-1 2 0 2 0 2 1 2 2 2-1 2-1 2 1 2 0 2-1 2 6 2-4 2 1 2 3 2-1 2 1 2-1 2 2 2 2 2-2 2 1 2 0 2 2 2-3 2 1 2 3 2-4 2 0 2 0 2 3 2-4 2 2 2-3 2 0 2 1 2-1 2 0 2 1 2 1 2-1 2 1 2 0 2-2 2 2 2 0 2 0 2-4 2 1 2 2 2-2 2-5 2 4 2-1 2-2 2 0 2 2 2-2 2 0 2-1 2 0 2-2 2 0 2-4 2 2 2-3 2 2 2 1 2-2 2 2 2-3 2-2 2 3 2-3 2 0 2-2 2 1 2 3 2-6 2 3 2 5 2-5 2-4 2 5 2-5 2 2 2 1 2 0 2 2 2-3 2 2 2-1 2 0 2 0 2-1 2 1 2-2 2 2 2 2 2 1 2-2 2-3 2 5 2 0 2 1 2 1 2 3 2-5 2 3 2-4 2 5 2-6 2 2 2 4 2-2 2 2 2-1 2-1 2 1 2 2 2 0 2 1 2 0 2 1 2-2 2 5 2-3 2 1 2 4 2 0 2-1 2-1 2 3 2 4 2-4 2 1 2 1 2 1 2-1 2 0 2 0 2 3 2-4 2 2 2 1 2-1 2 4 2-3 2 2 2-3 2 2 2 1 2-1 2 2 2-2 2 3 2-1 2-3 2 0 2 2 2 1 2-1 2 0 2 1 2-4 2 4 2-1 2-4 2 1 2 3 2-5 2 0 2 4 2-3 2-1 2-2 2 2 2-3 2-1 2 3 2-4 2 2 2-2 2 2 2-1 2 3 2-4 2 3 2 1 2-5 2 1 2 1 2 3 2-6 2-1 2 5 2-1 2-2 2 2 2-1 2-2 2 1 2-3 2-1 2 4 2 1 2-5 2 2 2 0 2-7 2 3 2 2 2-2 2 0 2 0 2-4 2 4 2-3 2 0 2-1 2 1 2-2 2 4 2 0 2-2 2 2 2-4 2 5 2 0 2-1 2 0 2 3 2-3 2 2 2 2 2-1 2 0 2-1 2-2 2 7 2 0 2 0 2 2 2 0 2-1 2 2 2 1 2 0 2 2 2 0 2 1 2 2 2 1 2-2 2-2 2 4 2-1 2-2 2 3 2-1 2 1 2 2 2-2 2 0 2-4 2 2 2-1 2 2 2-3 2 8 2-6 2 1 2 3 2-2 2 2 2-1 2 2 2-1 2-2 2 1 2-3 2 2 2-4 2 3 2-1 2 2 2-2 2-1 2-4 2 4 2-2 2-2 2-1 2 2 2-6 2 4 2-1 2-3 2 1 2-2 2 3 2-2 2-5 2 3 2 0 2-3 2 2 2 1 2-2 2 1 2 2 2 0 2 1 2 1 2-2 2 5 2-1 2-1 2 0 2 4 2-1 2 4 2 1 2 1 2 0 2-1 2-2 2 3 2-2 2 7 2-7 2 4 2 0 2-1 2 1 2 2 2-4 2-1 2 2 2 0 2-2 2 0 2 4 2-1 2-7 2 0 2 2 2-2 2 3 2-4 2 0 2 2 2-3 2 2 2-3 2 3 2-4 2 3 2-1 2-1 2-1 2 1 2 0 2-4 2 3 2-2 2-1 2 0 2 2 2-4 2 2 2-1 2 0 2 4 2-4 2 4 2-2 2 1 2-2 2-2 2 0 2-1 2 5 2-1 2-3 2-1 2 5 2-3 2 3 2-2 2-4 2 3 2 0 2 1 2 0 2-1 2 0 2 1 2 3 2-3 2 4 2-3 2-3V1462" stroke="#D95319"/><path d="M248 1458l2-3 2-3 2-3 2-2 2-4 2-3 2-3 2-3 2-3 2-2 2-3 2-1 2-4 2-1 2-3 2-2 2-3 2-1 2-1 2-3 2-2 2-2 2-1 2-2 2-2 2-2 2-3 2-1 2-1 2-2 2-1 2-3 2-1 2-2 2-1 2-3 2-1 2-2 2-3 2-1 2-2 2-1 2-3 2-2 2-1 2-3 2-2 2 0 2-4 2-2 2-3 2-2 2-1 2-3 2-3 2-2 2-2 2-3 2-2 2-2 2-3 2-3 2-2 2-3 2-2 2-1 2-3 2-3 2-3 2-3 2-2 2-3 2-3 2-3 2-2 2-4 2-3 2-2 2-3 2-2 2-3 2-4 2-2 2-2 2-5 2-2 2-4 2-3 2-3 2-3 2-3 2-4 2-3 2-3 2-5 2-2 2-3 2-4 2-4 2-4 2-4 2-3 2-4 2-4 2-5 2-3 2-5 2-3 2-4 2-4 2-5 2-2 2-4 2-5 2-5 2-3 2-6 2-3 2-4 2-4 2-4 2-5 2-4 2-5 2-6 2-3 2-5 2-5 2-6 2-5 2-6 2-6 2-8 2-6 2-9 2-6 2-8 2-8 2-10 2-8 2-10 2-9 2-10 2-12 2-12 2-11 2-13 2-14 2-15 2-15 2-17 2-17 2-18 2-3 2 1 2-1 2 1 2 1 2 0 2-1 2 1 2 1 2-1 2 3 2-1 2 2 2-3 2 0 2 0 2 1 2-2 2 0 2 0 2 1 2-3 2-1 2 1 2-6 2 5 2-2 2-3 2-2 2 0 2 0 2-4 2 0 2 0 2 1 2 0 2 1 2-3 2 3 2 1 2-1 2 3 2 0 2 6 2-1 2-1 2 5 2-1 2-1 2 9 2 3 2 1 2 2 2 2 2 6 2 0 2 3 2 2 2-1 2 7 2 5 2-2 2 5 2-3 2 0 2 5 2 2 2 3 2-1 2-1 2 0 2 1 2 3 2 1 2-2 2 2 2 0 2-5 2 6 2-4 2 3 2 0 2-4 2 0 2 1 2 0 2 3 2-2 2-2 2 2 2-2 2 0 2 4 2-1 2-1 2 0 2 3 2 0 2-3 2 3 2-2 2 0 2 2 2 3 2-4 2-1 2 4 2 1 2 0 2 3 2-3 2 0 2 1 2 1 2 1 2-4 2 5 2-2 2-3 2 2 2-2 2 4 2-2 2 0 2-1 2-3 2 1 2 2 2-3 2-3 2-1 2 2 2-2 2 2 2 0 2-1 2-3 2 1 2 0 2 2 2-3 2-2 2 3 2-2 2 2 2 0 2 0 2 2 2-3 2 1 2 0 2 3 2 0 2 3 2-3 2-1 2 0 2 2 2 0 2 2 2 1 2-1 2 1 2 3 2 0 2 2 2-2 2 4 2 2 2-3 2 6 2-4 2 0 2-1 2 3 2 0 2-1 2 1 2 4 2-3 2 0 2-2 2 1 2-4 2 1 2 5 2-4 2 0 2 2 2-1 2-1 2 1 2-2 2-2 2 1 2 1 2-1 2 2 2-3 2 1 2 2 2 0 2 0 2 1 2 2 2-3 2 3 2-4 2 1 2 1 2 3 2 0 2-1 2 2 2-3 2 2 2-2 2 1 2 0 2 0 2-1 2 0 2 2 2-3 2 1 2 2 2-2 2 0 2-1 2 3 2-2 2 2 2-3 2 2 2-2 2-1 2 3 2-1 2-2 2 1 2 4 2-3 2 0 2 4 2-2 2-5 2 5 2 0 2 0 2 2 2 0 2 2 2-3 2 6 2-1 2 0 2 3 2-2 2 3 2 1 2-1 2 4 2-1 2 1 2 1 2 0 2 1 2 1 2 0 2-1 2-1 2-1 2 3 2-4 2 1 2 0 2-1 2-2 2 3 2-4 2 0 2 0 2-2 2 0 2-2 2-1 2 4 2-1 2-2 2-3 2 5 2-2 2 0 2-3 2-1 2 2 2 2 2-1 2-1 2 5 2 2 2-2 2 1 2 0 2 0 2 2 2-2 2 1 2-1 2-1 2 6 2-4 2 2 2-2 2 1 2 0 2 3 2-2 2 0 2-1 2-2 2 0 2 6 2-3 2 1 2-1 2 2 2-2 2-3 2 3 2-2 2 6 2 2 2-5 2 1 2 2 2-1 2 3 2-2 2 0 2-3 2 0 2 0 2-1 2 1 2-1 2 0 2 0 2-1 2 0 2 0 2-3 2 6 2-8 2 0 2 0 2 1 2 0 2-2 2 0 2 5 2-7 2 3 2-1 2 5 2-3 2-2 2 4 2-3 2 3 2 0 2-1 2 4 2-2 2 3 2-2 2 3 2 0 2-3 2-1 2 2 2 4 2-2 2 1 2 1 2-5 2 3 2-1 2 0 2 0 2-3 2 2 2-3 2 0 2 1 2 0 2-1 2 1 2-3 2 1 2 1 2-2 2 2 2-2 2 2 2-3 2 1 2-3 2 2 2-1 2 1 2 2 2-4 2 3 2 1 2 1 2 0 2-2 2 4 2-4 2 0 2 5 2-2 2 1 2-1 2 0 2 3 2-2 2 2 2-1 2 6 2-3 2-2 2 1 2 1 2 4 2 1 2 0 2 0 2 2 2 0 2 4 2-1 2-1 2-3 2 6 2-2 2 1 2 2 2-1 2-3 2 3 2-1 2-3 2 4 2-2 2-2 2 0 2 2 2-3 2 1 2-3 2 1 2-2 2 0 2-1 2 1 2-2 2 1 2 1 2-1 2 0 2-1 2 0 2 1 2 0 2-1 2 1 2 1 2 1 2 0 2-2 2 3 2-5 2 2 2 1 2-2 2 3 2-1 2 0 2-1 2 0 2-4 2-2 2 2 2 3 2-1 2-2 2-3 2 2 2-3 2-2 2 2 2-1 2-2 2-1 2-2 2 1 2 2 2-3 2 1 2 0 2 1 2-4 2 2 2 3 2 2 2-1 2 3 2-2 2 2 2 0 2 4 2-1 2-1 2 0 2 3 2 0 2 0 2 0 2 0 2-1 2 2 2-1 2 1 2 2 2-2 2-2 2 4 2-1 2 1 2 2 2-1 2 0 2-3 2 1 2 1 2-3 2 0 2 3 2 0 2-1 2-1 2 1 2-3 2 1 2 1 2 1 2 1 2-4 2 1 2 1 2 2 2-1 2-1 2 2 2-4 2 1 2 1 2 2 2-2 2 3 2-2 2 1 2-4 2 3 2 1 2-3 2 3 2 0 2-1 2-2 2 0 2 1 2 4 2-5 2 3 2-6 2 5 2-2 2 2 2-3 2 1 2 0 2 1 2 0 2-4 2 3 2 1 2-1 2 3 2-3 2 1 2-2 2 3 2-2 2 0 2-1 2 1 2-1 2 1 2-2 2-1 2 2 2 0 2 1 2-3 2 0 2-3 2 3 2 0 2-1 2-1 2 2 2-3 2-2 2 0 2-2 2 0 2 2 2-2 2 4 2 0 2-6 2 1 2 0 2 3 2-3 2-1 2 4 2-1 2 1 2-1 2 4 2-3 2 3 2 0 2 1 2 1 2 3 2 0 2 0 2 4 2 0 2-3 2 4 2 3 2 0 2 1 2 1 2-2 2 2 2-1 2 0 2 0 2 3 2-3 1 1V1462" stroke="#EDB120"/><path d="M248 1456l2-1 2-4 2-3 2-3 2-2 2-2 2-4 2-2 2-4 2-1 2-1 2-4 2-3 2-2 2-1 2-2 2-2 2-2 2-2 2-3 2-1 2-1 2-2 2-2 2-2 2-1 2-2 2-2 2-2 2-1 2-2 2-1 2-4 2 0 2-2 2-1 2-2 2-2 2-1 2-3 2-3 2 0 2-3 2-2 2-2 2-1 2-3 2-1 2-4 2-1 2-2 2-4 2 0 2-4 2-3 2 0 2-3 2-2 2-3 2-2 2-3 2-3 2-2 2-2 2-3 2-2 2-3 2-3 2-1 2-3 2-3 2-3 2-2 2-3 2-2 2-2 2-2 2-3 2-3 2-3 2-4 2-2 2-3 2-2 2-3 2-3 2-2 2-3 2-3 2-3 2-4 2-3 2-3 2-3 2-4 2-3 2-4 2-3 2-3 2-4 2-5 2-3 2-5 2-3 2-5 2-3 2-3 2-5 2-5 2-3 2-4 2-4 2-3 2-7 2-1 2-6 2-4 2-5 2-3 2-5 2-5 2-4 2-4 2-5 2-4 2-7 2-4 2-5 2-3 2-6 2-6 2-6 2-4 2-7 2-8 2-8 2-8 2-8 2-7 2-10 2-9 2-9 2-10 2-11 2-11 2-11 2-12 2-12 2-13 2-15 2-16 2-15 2-18 2-17 2-2 2 0 2 1 2 1 2-1 2 0 2 3 2-2 2 2 2-1 2 1 2 0 2-2 2 1 2 2 2 0 2-3 2-2 2 3 2-3 2 2 2-3 2 0 2-1 2-2 2 1 2 0 2-2 2 1 2 0 2-4 2 3 2-1 2 0 2 4 2-3 2 0 2 3 2-2 2 0 2 3 2-2 2 4 2 2 2-2 2 2 2 0 2 2 2-1 2 1 2-2 2 7 2 1 2 0 2 4 2-2 2 0 2 5 2 3 2-1 2 3 2-2 2 6 2-1 2-1 2-1 2 5 2-1 2 1 2-1 2 2 2 0 2 1 2 0 2 2 2-2 2 4 2 3 2-6 2 5 2 2 2-2 2 3 2 2 2 2 2 0 2-3 2 6 2 1 2 2 2-2 2 3 2-1 2 0 2 4 2 1 2 1 2 1 2-4 2 4 2 0 2-4 2 2 2 4 2-6 2 1 2 0 2-2 2 0 2 2 2 1 2-3 2 0 2 0 2 1 2 0 2-1 2 0 2-5 2 2 2-1 2 1 2-3 2 4 2 0 2 0 2 0 2-2 2 1 2 0 2-4 2 3 2 2 2 0 2 1 2 0 2 1 2-1 2-1 2 3 2-2 2 0 2 5 2 0 2-2 2 3 2 2 2-5 2 4 2 4 2 0 2 0 2 2 2 3 2 0 2-3 2 1 2 3 2 0 2 1 2 0 2 0 2 0 2 1 2 1 2 1 2 0 2-1 2-1 2 1 2-1 2 2 2 0 2 3 2-3 2-2 2 1 2 5 2-2 2 1 2-6 2 3 2-2 2 2 2 1 2 1 2 1 2-1 2 2 2-2 2-2 2 3 2 1 2 0 2 2 2 1 2 0 2 1 2 1 2-3 2 5 2 0 2 0 2 0 2 2 2 1 2-1 2 3 2 1 2 2 2-2 2-2 2 2 2-1 2 3 2-2 2-1 2-1 2 0 2-2 2 0 2 0 2 1 2-3 2-1 2 0 2-2 2-1 2 2 2-4 2-1 2 3 2-5 2 1 2 1 2-2 2 0 2-2 2 2 2 0 2 0 2-1 2 3 2-3 2 3 2-2 2 3 2-3 2 2 2 3 2 2 2-6 2 0 2 7 2-2 2-1 2 0 2 1 2 1 2-2 2 1 2-1 2 3 2-3 2-1 2-3 2 3 2 0 2 3 2-5 2 1 2-3 2 3 2-3 2 2 2 1 2 2 2-2 2 1 2 0 2 0 2-1 2 1 2 4 2-4 2 1 2 4 2-3 2 0 2-1 2-1 2 4 2-2 2-1 2 2 2-3 2 4 2-1 2 0 2-2 2 4 2-4 2 3 2-5 2 8 2-7 2 0 2 2 2-1 2 0 2-3 2 3 2 0 2 0 2-5 2 5 2-1 2-1 2-2 2 1 2 1 2 0 2-1 2-4 2 4 2 0 2 1 2 0 2-4 2 3 2-2 2 3 2-5 2 1 2 0 2-1 2 2 2 1 2-3 2-1 2 2 2-1 2-1 2-1 2 0 2 2 2-3 2 0 2 0 2-2 2-3 2 1 2 1 2 3 2-2 2-2 2-1 2 2 2 1 2-2 2 0 2-1 2 1 2 1 2-3 2 1 2 0 2 1 2 2 2-3 2 5 2-2 2 0 2 1 2 2 2 1 2 1 2 0 2-2 2 0 2 2 2 2 2-1 2 2 2 0 2-1 2-1 2-1 2-2 2 6 2-1 2-4 2-1 2 3 2 0 2 3 2-3 2 2 2-1 2-3 2 1 2-1 2 2 2-1 2 4 2-1 2 0 2 1 2 3 2-3 2-1 2 2 2 0 2 1 2 1 2 2 2-3 2 3 2-3 2 0 2-2 2 2 2-1 2 0 2 2 2-2 2-2 2 3 2-5 2 2 2 2 2-3 2 1 2 0 2-1 2-4 2 3 2-2 2 2 2 0 2-1 2 3 2 0 2-2 2 4 2 0 2 1 2-2 2 4 2-2 2 2 2-1 2 4 2-2 2 3 2 0 2 2 2-1 2 3 2-1 2 0 2-2 2 2 2-1 2 2 2-1 2-1 2-2 2-2 2 1 2-2 2 4 2-4 2 2 2-2 2 0 2 2 2-1 2-1 2 1 2-3 2-1 2 2 2 0 2 0 2 2 2-5 2 2 2 2 2-4 2 2 2 2 2-1 2-2 2 1 2 1 2 3 2-2 2 1 2-1 2-1 2-3 2 4 2 2 2-3 2 0 2 2 2 1 2-4 2 2 2 1 2-2 2-1 2 1 2-3 2 4 2-1 2 0 2 1 2-3 2 3 2-2 2 1 2-4 2 1 2-3 2 3 2 0 2 3 2-5 2 2 2 0 2 1 2 0 2 0 2-2 2 3 2 1 2 0 2-1 2-3 2 2 2 3 2 0 2-1 2-1 2 3 2 1 2-3 2 4 2 2 2 0 2 0 2-4 2 6 2-1 2 1 2 0 2-1 2-3 2 5 2-2 2 1 2 0 2-1 2 2 2-1 2 2 2 0 2-2 2 4 2-1 2-2 2 2 2-2 2 1 2-2 2 3 2 1 2-3 2-1 2 1 2-1 2 1 2-1 2-2 2 0 2 1 2-2 2 2 2 1 2-2 2-1 2 1 2-2 2 0 2-1 2-2 2 3 2 0 2-3 2 0 2-1 2 2 2 3 2-1 2-2 2 4 2-5 2 1 2 2 2-1 2 0 2 0 2 2 2-1 2-2 2 2 2 2 2-2 2 2 2-1 2-1 2 1 2-3 2 3 2 1 2-6 2 4 2-2 2-1 2 3 2 0 2 1 2-3 2 2 2 1 2-7 2 1 2-2 2 1 2 2 2 2 2-5 2 2 2-1 2 2 2-1 2-5 2 2 2 0 2 2 2 2 2-3 2-1 2-2 2-1 2 4 2 2 2-6 2 4 2-2 2 2 2-1 2 0 1 1V1462" stroke="#0072BD"/><path d="M248 1465l2-4 2-1 2-4 2-3 2-4 2-3 2-3 2-2 2-2 2-4 2 0 2-3 2-4 2-2 2-3 2-3 2-1 2-3 2-2 2-1 2-2 2-2 2-3 2-1 2-2 2-2 2-2 2-2 2-1 2-3 2-1 2-3 2-1 2-3 2-2 2-1 2-2 2-2 2-2 2 0 2-4 2-1 2-3 2-1 2-2 2-1 2-3 2-2 2-2 2-2 2-2 2-2 2-2 2-2 2-2 2-3 2-2 2-1 2-3 2-2 2-2 2-3 2-1 2-4 2-3 2-1 2-3 2-1 2-3 2-2 2-4 2-3 2-1 2-3 2-2 2-4 2-1 2-4 2-4 2-1 2-3 2-3 2-1 2-4 2-2 2-3 2-5 2-3 2-3 2-2 2-4 2-3 2-2 2-4 2-3 2-5 2-2 2-4 2-4 2-4 2-4 2-3 2-5 2-3 2-5 2-4 2-2 2-6 2-3 2-5 2-3 2-5 2-4 2-4 2-4 2-3 2-5 2-4 2-4 2-5 2-5 2-2 2-7 2-4 2-4 2-4 2-5 2-3 2-5 2-5 2-5 2-7 2-5 2-5 2-7 2-7 2-8 2-8 2-8 2-8 2-9 2-8 2-9 2-11 2-10 2-10 2-12 2-12 2-13 2-13 2-13 2-17 2-16 2-16 2-15 2-2 2-1 2 0 2 0 2 1 2-1 2 1 2 2 2-2 2 0 2 1 2-1 2 0 2 2 2-2 2-1 2 0 2-2 2 2 2-3 2 1 2-3 2 0 2-1 2 2 2-3 2 2 2-1 2-2 2-3 2 4 2 1 2 1 2-4 2 1 2 2 2-3 2-1 2 1 2 1 2 4 2-1 2 1 2-2 2 6 2 0 2 3 2-3 2 2 2 6 2-4 2 4 2 0 2-1 2 4 2 0 2 3 2 4 2-1 2 3 2-3 2 4 2 4 2 2 2-1 2 2 2 3 2 0 2 2 2 4 2-2 2 1 2 2 2-1 2 6 2 0 2 2 2-2 2 3 2 0 2 1 2 1 2 1 2 4 2-1 2-2 2 0 2-2 2 2 2 2 2-2 2 0 2 1 2-2 2 1 2-1 2 1 2 0 2 2 2 1 2-4 2 6 2-1 2 0 2-3 2-1 2 8 2-2 2 1 2-1 2 1 2 5 2-4 2 3 2 1 2-1 2 2 2 2 2-4 2 4 2 2 2-3 2 2 2-2 2 2 2-1 2 3 2-6 2 1 2 2 2-2 2-1 2 0 2 0 2 2 2-4 2 1 2-2 2 0 2 0 2-2 2 3 2 0 2-1 2 1 2-2 2 0 2 1 2-1 2 0 2-1 2 1 2-1 2 3 2-5 2 3 2 1 2 1 2 0 2 1 2 5 2-1 2-3 2 3 2-1 2 2 2-1 2 0 2 3 2 1 2-2 2 3 2-3 2 2 2 0 2 1 2 1 2 0 2 0 2 2 2 1 2-1 2 3 2 1 2 0 2-2 2-3 2 6 2-3 2 3 2 0 2-3 2-1 2 5 2-3 2 5 2-1 2-1 2 2 2-5 2 0 2 2 2 0 2-3 2 1 2 0 2-2 2-1 2-1 2-2 2 1 2 4 2-2 2-3 2-1 2-1 2 1 2-1 2-3 2 3 2-6 2 0 2 3 2-3 2-1 2 0 2 3 2-6 2-1 2 4 2-4 2-2 2-1 2 2 2 4 2-2 2 0 2-3 2 4 2-4 2 3 2 3 2-4 2 1 2 0 2 0 2 3 2-2 2 5 2 0 2-2 2 5 2 0 2 1 2-3 2 2 2 0 2 1 2 2 2 1 2-2 2 0 2-1 2 2 2 0 2-4 2 2 2 0 2 0 2-1 2 0 2-1 2 1 2-3 2 2 2-1 2-1 2-1 2 0 2 3 2-3 2 2 2-2 2-1 2 5 2-3 2-5 2 6 2 2 2-4 2 1 2 1 2 0 2 7 2-4 2-2 2 1 2 0 2 3 2 0 2 3 2-1 2 2 2 0 2 3 2-2 2-1 2-1 2 3 2 1 2 3 2-1 2 1 2-1 2 1 2-3 2 2 2 5 2-4 2 2 2 1 2-4 2 4 2-2 2 1 2-1 2 4 2 1 2-3 2 2 2-4 2 2 2 2 2 0 2-2 2-2 2 2 2-1 2 1 2 1 2-4 2 2 2-2 2 3 2-1 2-1 2 0 2-1 2-1 2-1 2 3 2-1 2-1 2-1 2 1 2 1 2-1 2 0 2 0 2 0 2 0 2 2 2-1 2 1 2-2 2 1 2-2 2 3 2-1 2 2 2 0 2-2 2 1 2-3 2 4 2 1 2 0 2-1 2 2 2-2 2 1 2-2 2 1 2 3 2-3 2 2 2-1 2 0 2 1 2-1 2-2 2 0 2-3 2 5 2-3 2-4 2 1 2-1 2-1 2 1 2-1 2-5 2 4 2-1 2-3 2 2 2-1 2-4 2 1 2 2 2 2 2-6 2 1 2 4 2-4 2 1 2 1 2-1 2-2 2 3 2-1 2 1 2 1 2-2 2 0 2 3 2 5 2-3 2-1 2 0 2 0 2 4 2-5 2 3 2-1 2 0 2 2 2 1 2-1 2-3 2 0 2-2 2 2 2 3 2 1 2-1 2 1 2-1 2 0 2 1 2 0 2-3 2 4 2-3 2 0 2 3 2 1 2-3 2 3 2 2 2 0 2-1 2-1 2 4 2 0 2 1 2-1 2 0 2 1 2 5 2-4 2 0 2 3 2-4 2 4 2-2 2 2 2-6 2 4 2 0 2 2 2-2 2-2 2 2 2 0 2 0 2-2 2-1 2 2 2-3 2 1 2 2 2-1 2-2 2 0 2 1 2-1 2 2 2-2 2-2 2 1 2 0 2-1 2 4 2 0 2-2 2-1 2 0 2 0 2-1 2-3 2 4 2 0 2 1 2 2 2 4 2-6 2 1 2-2 2 5 2-2 2-1 2-1 2 3 2 0 2 1 2 2 2-1 2 2 2-1 2-1 2 6 2-4 2 3 2-4 2 4 2-2 2 0 2 0 2-3 2 4 2 1 2-4 2-1 2 1 2 1 2 4 2-6 2 0 2 0 2 1 2-5 2 1 2 3 2 1 2-1 2-2 2-3 2 2 2 0 2-3 2 9 2-8 2 1 2 1 2 2 2-3 2 2 2-2 2 2 2-1 2-1 2-2 2 3 2 0 2-5 2 2 2-1 2 3 2-1 2-3 2 2 2-2 2 0 2 1 2-2 2 2 2-1 2-1 2-2 2 2 2 0 2 3 2-2 2-2 2-1 2 0 2-5 2 6 2-4 2 3 2 1 2 0 2-6 2 4 2 0 2-2 2 1 2 0 2 4 2-7 2 4 2 0 2 0 2-1 2 2 2-2 2 3 2 1 2 2 2-4 2 1 2 2 2-1 2 4 2-7 2 4 2 0 2 2 2-2 2 0 2 1 2-3 2 0 2 2 2-2 2-1 2 2 2-2 2 1 2-1 2-2 2 1 2-2 2-1 2 2 2 1 2-3 2 1 2 0 2 0 2 1 2-4 2 3 2-2 2 4 2-7 2 4 2 2 2-1 2-2 2 0 2 0 2 4V1462" stroke="#4DBEEE"/><path d="M248 1462l2-4 2-3 2-2 2-4 2-3 2-1 2-3 2-2 2-3 2-3 2-2 2-3 2-1 2-2 2-2 2-4 2-1 2-3 2-1 2-2 2-1 2-2 2-3 2 0 2-2 2-2 2-2 2-2 2-1 2-1 2-2 2-2 2-2 2-1 2-1 2-3 2-1 2-2 2-1 2-2 2-2 2-2 2-2 2-2 2 0 2-2 2-3 2-2 2-3 2-2 2-2 2-2 2-2 2-3 2-3 2-2 2-1 2-2 2-4 2-3 2-2 2-2 2-2 2-5 2-1 2-3 2-3 2 0 2-3 2-4 2-2 2-2 2-3 2-2 2-3 2-2 2-2 2-3 2-3 2-3 2-1 2-3 2-4 2-2 2-2 2-3 2-3 2-3 2-3 2-4 2-2 2-3 2-3 2-4 2-3 2-5 2-3 2-3 2-3 2-4 2-5 2-3 2-4 2-3 2-5 2-4 2-3 2-5 2-4 2-5 2-4 2-4 2-4 2-3 2-5 2-5 2-3 2-4 2-5 2-5 2-5 2-2 2-7 2-3 2-5 2-3 2-5 2-4 2-6 2-5 2-5 2-4 2-5 2-5 2-7 2-6 2-7 2-8 2-8 2-7 2-9 2-9 2-6 2-12 2-9 2-10 2-11 2-11 2-13 2-11 2-13 2-13 2-16 2-14 2-19 2-15 2-1 2 0 2-1 2-1 2-1 2 0 2 1 2 0 2-1 2 0 2-2 2-1 2 1 2-4 2 1 2-3 2 0 2-4 2 0 2 0 2-3 2-3 2 1 2-2 2-1 2 1 2-2 2-3 2 2 2-3 2 2 2 0 2 0 2 0 2 1 2 2 2-5 2 7 2-2 2 3 2 4 2-3 2 2 2 0 2 5 2 4 2 0 2 5 2 2 2 4 2-2 2 2 2 4 2 4 2-2 2 8 2-1 2 0 2 4 2 3 2 0 2 5 2-3 2 5 2 3 2-1 2 1 2 2 2 1 2 3 2-5 2 5 2 4 2-6 2 1 2 0 2 6 2-3 2 1 2 4 2-5 2 4 2-3 2 1 2 1 2 2 2 0 2 1 2-1 2 2 2-3 2 1 2 4 2-1 2-1 2-3 2 0 2 4 2 0 2 3 2-6 2 6 2 0 2 2 2 0 2 0 2 2 2-2 2 3 2-2 2-1 2 3 2-1 2 3 2-2 2 1 2 0 2 0 2 0 2 0 2 0 2-3 2 5 2-4 2 2 2-1 2-2 2-3 2 1 2 3 2-2 2 1 2-3 2-2 2 6 2-2 2-2 2-1 2-1 2-2 2 5 2-2 2-2 2 5 2 0 2 0 2 0 2 4 2-3 2 2 2 3 2-3 2 3 2 1 2-2 2 4 2-2 2 3 2 1 2 0 2 2 2 1 2 5 2-3 2 2 2 1 2-1 2 2 2-1 2 0 2 3 2 0 2-2 2 2 2 2 2-3 2 3 2 0 2 2 2-3 2-1 2 2 2 2 2-1 2 0 2-5 2 3 2-1 2 1 2-2 2-4 2 2 2-1 2 1 2-2 2 2 2 0 2-5 2 2 2-1 2-2 2 2 2 1 2-6 2 3 2 0 2 2 2 3 2-3 2-5 2 5 2-2 2-1 2 0 2 3 2-2 2 1 2-1 2 1 2 2 2 1 2 1 2 4 2-4 2-2 2 4 2 1 2 1 2-1 2-4 2-1 2 2 2 3 2-1 2-2 2 3 2-4 2 6 2-8 2 3 2-1 2 3 2-3 2-2 2 1 2 0 2-5 2 5 2-2 2 0 2 1 2-5 2 4 2 0 2-3 2-1 2-2 2 2 2-2 2 2 2-1 2 0 2 1 2-1 2-1 2 3 2 1 2 0 2-2 2 3 2 0 2-1 2 1 2 0 2 3 2 1 2-2 2 5 2-2 2 4 2-5 2 2 2 2 2 1 2 2 2-3 2 5 2 0 2-1 2 1 2-2 2 1 2 2 2 1 2-1 2 3 2-5 2 2 2-1 2 2 2-3 2 0 2 1 2-1 2-3 2-1 2 3 2-1 2-1 2 4 2-7 2 3 2 2 2-4 2 0 2 1 2 2 2-1 2 0 2-3 2 4 2-5 2-1 2 5 2 0 2 1 2-1 2 0 2 1 2 1 2 1 2-1 2 1 2-1 2 4 2-2 2 2 2-3 2 3 2 1 2-1 2 1 2-1 2 1 2 1 2-1 2 0 2 0 2-1 2 1 2 1 2-2 2 0 2-1 2 5 2-5 2 3 2 0 2-2 2 2 2-1 2 1 2 0 2-5 2 6 2 1 2 0 2-3 2 4 2-2 2 0 2 2 2-3 2 0 2 2 2 1 2-1 2 1 2 1 2-4 2 2 2-2 2-2 2 1 2 3 2-5 2 4 2-3 2 1 2-3 2 0 2 1 2 1 2 0 2-1 2-3 2 2 2-3 2 3 2 2 2-5 2 0 2 4 2 1 2 1 2-2 2-1 2-1 2 1 2-1 2 0 2 2 2-3 2 3 2-3 2-1 2 0 2-1 2 2 2 0 2 0 2-4 2 1 2 4 2-3 2 2 2-3 2 3 2 3 2-3 2-3 2 5 2 0 2 5 2-1 2 0 2 0 2-1 2 3 2 0 2-1 2 2 2-1 2 1 2-4 2 4 2-2 2 2 2-1 2 0 2-4 2 3 2 1 2 0 2-2 2-4 2 0 2 1 2 1 2-2 2 1 2-3 2 1 2 1 2-1 2-2 2 2 2-2 2 4 2 1 2-2 2-1 2 2 2-1 2-2 2 5 2 0 2 2 2-2 2 2 2 1 2 1 2 0 2-1 2 2 2 1 2-1 2 1 2-4 2 4 2 1 2 1 2-2 2 3 2 0 2 1 2 2 2 0 2 2 2-3 2 1 2 0 2 3 2-1 2 3 2 1 2-4 2-2 2 6 2 0 2 0 2-1 2-2 2 1 2-1 2 2 2-2 2 3 2-5 2-1 2 1 2-2 2 0 2-1 2-4 2 3 2-3 2 1 2-2 2 1 2-3 2-1 2 0 2-5 2 3 2-3 2-6 2 7 2-6 2-3 2 0 2-2 2 1 2-1 2-2 2-1 2 0 2-1 2 0 2-1 2 1 2 0 2-2 2 1 2-1 2 3 2-4 2 0 2 0 2 2 2 0 2 0 2 0 2 0 2-1 2 1 2 0 2 1 2 1 2-1 2 2 2 1 2 1 2-4 2 6 2 0 2-1 2 2 2-4 2 5 2 2 2-2 2 0 2 3 2 3 2 0 2-3 2 2 2-3 2 1 2 1 2 3 2-4 2 1 2 2 2 0 2-1 2 1 2 1 2-1 2 0 2 2 2-2 2-1 2 3 2-2 2 3 2-1 2 2 2-4 2 6 2-2 2 2 2 2 2 0 2-1 2 3 2-3 2 2 2 1 2-2 2 0 2 2 2-1 2-2 2 1 2 3 2-3 2 0 2 1 2 1 2-5 2 6 2-3 2 1 2-2 2 0 2-1 2 4 2-2 2-1 2 2 2 0 2 0 2 0 2-1 2-3 2 6 2-4 2-1 2 1 2 0 2 1 2-3 2 4 2-2 2 3 2-6 2 2 2 2 2 1 2-3V1462" stroke="#A2142F"/><path d="M248 1466l2-3 2-3 2-2 2-5 2-3 2-1 2-3 2-3 2-2 2-5 2-2 2-1 2-2 2-3 2-2 2-3 2-2 2-1 2-2 2-3 2-1 2-2 2-1 2-2 2-3 2-1 2-2 2-1 2-2 2-1 2-2 2-2 2-1 2-2 2-2 2-2 2-2 2-1 2-3 2-2 2-2 2-1 2-4 2 0 2-2 2-1 2-2 2-2 2-3 2-2 2-3 2-2 2-1 2-1 2-4 2-2 2-2 2-2 2-3 2-1 2-4 2-1 2-3 2-2 2-2 2-2 2-3 2-2 2-1 2-4 2-2 2-2 2-2 2-4 2-3 2-1 2-2 2-3 2-3 2-2 2-3 2-4 2-1 2-4 2-2 2-3 2-3 2-3 2-2 2-4 2-3 2-3 2-2 2-4 2-2 2-4 2-4 2-4 2-3 2-3 2-4 2-5 2-3 2-4 2-3 2-5 2-4 2-4 2-4 2-3 2-4 2-4 2-5 2-5 2-4 2-3 2-5 2-5 2-3 2-5 2-5 2-4 2-4 2-4 2-5 2-5 2-3 2-5 2-5 2-5 2-4 2-6 2-3 2-7 2-5 2-6 2-6 2-7 2-8 2-8 2-7 2-9 2-8 2-10 2-9 2-10 2-10 2-10 2-11 2-12 2-12 2-13 2-15 2-13 2-17 2-16 2-15 2 1 2-1 2 0 2-1 2 0 2 1 2 0 2 0 2 0 2 0 2-1 2 0 2-2 2-1 2 1 2-1 2-2 2-4 2 0 2-1 2 0 2-2 2-1 2 0 2-4 2-4 2 1 2-1 2 0 2-2 2 1 2 2 2 2 2-1 2 0 2 1 2 1 2 2 2 6 2-1 2 3 2 0 2 4 2 4 2 1 2 3 2 4 2-1 2 3 2 3 2 0 2 4 2 4 2-1 2 5 2 0 2 0 2 4 2 0 2 5 2-1 2 0 2 2 2 2 2-2 2 2 2 0 2-2 2 1 2 0 2 3 2-1 2 0 2 1 2-2 2 6 2-2 2-4 2 6 2-2 2 2 2 2 2-3 2 2 2 1 2 4 2-1 2 4 2-2 2-3 2 4 2-2 2 3 2 3 2-1 2 2 2 3 2-3 2-3 2 2 2 4 2 1 2-1 2 5 2-5 2 3 2 0 2 3 2-2 2 2 2-1 2 1 2 0 2-2 2 1 2 1 2 0 2-3 2 3 2-3 2 2 2-1 2 3 2-5 2 2 2-1 2 1 2 1 2-4 2 0 2 3 2 2 2-3 2 0 2 2 2 0 2-2 2 1 2 1 2 1 2-2 2 3 2-1 2-1 2 6 2-1 2 2 2-3 2 1 2 5 2 0 2 0 2 3 2-2 2 0 2 1 2 0 2 6 2-5 2 1 2 3 2-2 2 2 2 1 2 4 2-3 2 1 2-1 2 2 2-2 2 1 2 4 2-4 2 4 2 0 2-2 2 0 2-1 2 3 2-1 2 2 2 1 2-6 2 7 2-1 2-3 2 1 2-2 2 0 2-1 2 2 2 0 2-1 2 3 2-1 2-1 2-2 2 0 2 4 2-6 2 6 2-1 2 0 2 1 2-2 2 1 2-3 2 2 2-3 2 4 2-2 2-1 2 4 2-4 2 2 2 0 2 2 2-3 2-1 2 0 2 0 2-1 2 0 2 5 2-3 2-1 2 0 2 2 2-6 2 5 2 0 2-1 2 0 2 0 2 3 2-7 2 2 2 5 2-5 2 2 2 0 2-4 2 2 2-2 2 0 2 0 2 2 2-4 2-1 2 0 2 2 2-6 2 0 2 0 2 2 2 0 2-1 2 0 2-1 2 1 2-2 2-1 2 0 2-2 2-2 2 3 2 0 2-3 2 1 2 1 2-2 2 5 2-4 2 1 2-3 2 2 2 0 2-1 2 1 2 2 2-2 2 2 2-6 2 3 2 0 2-3 2 3 2 1 2 2 2 0 2-3 2 2 2 1 2-1 2 3 2 1 2-3 2 1 2 3 2-3 2 2 2 0 2-2 2 3 2-1 2 2 2 0 2-1 2 3 2 3 2-3 2-1 2 4 2 2 2-3 2 1 2 0 2-2 2 2 2-2 2-1 2 3 2-4 2 3 2-3 2 0 2 2 2-2 2 1 2 1 2-4 2-2 2 4 2-4 2 2 2-2 2 2 2 0 2 0 2 1 2-2 2 1 2 1 2 0 2-4 2 1 2 3 2 1 2 0 2 5 2 1 2 0 2-1 2 2 2-2 2-1 2 5 2 0 2-1 2-1 2 4 2 0 2 2 2-1 2 3 2-4 2 1 2 1 2 0 2-2 2 1 2 3 2-2 2-1 2 3 2 0 2-6 2 4 2 4 2-5 2 5 2-6 2 1 2-2 2 2 2 3 2-2 2-1 2 1 2-2 2 2 2 3 2-3 2 2 2 1 2-1 2-1 2 7 2-7 2 3 2 0 2 0 2 1 2 1 2-4 2 1 2 2 2 0 2 3 2 0 2-1 2 0 2 1 2 0 2-2 2 2 2 3 2-1 2-1 2 0 2-4 2 4 2-1 2-2 2 2 2-1 2 2 2-3 2-1 2-2 2-2 2-1 2 3 2-2 2-1 2-1 2-2 2 0 2 1 2-6 2 1 2 0 2-3 2 2 2-1 2 1 2-1 2-3 2 5 2-1 2-5 2 2 2-3 2 3 2-4 2 7 2-1 2 0 2 2 2 3 2-3 2-1 2 2 2-1 2 0 2 0 2 0 2 1 2 2 2 1 2-3 2 1 2 1 2 1 2-3 2 0 2 1 2-1 2 3 2 1 2-3 2-1 2 1 2-1 2 1 2-2 2 2 2 0 2 0 2 1 2-1 2 0 2 2 2-3 2 4 2-2 2-1 2 3 2-1 2 1 2-4 2 0 2 3 2 2 2-1 2-2 2 3 2 2 2-5 2-2 2 2 2 3 2-1 2-3 2 5 2-3 2 1 2-1 2 0 2 1 2-4 2 5 2-5 2 3 2-2 2 1 2-1 2-1 2 1 2 2 2-1 2-3 2 4 2-3 2 5 2-3 2-3 2 8 2-1 2-3 2-1 2-1 2 5 2 0 2-4 2 6 2-3 2-1 2 4 2-2 2-5 2-1 2 1 2-3 2 1 2-1 2-1 2 0 2-2 2 2 2-3 2-5 2 3 2-1 2 1 2-4 2 3 2-5 2 2 2 0 2-1 2 2 2-3 2 0 2 2 2 1 2-1 2-3 2 2 2 2 2-1 2 1 2 1 2 2 2-3 2 3 2 1 2 1 2-1 2 3 2-3 2 1 2 2 2 3 2-6 2 3 2-2 2-1 2 3 2 0 2-3 2 5 2-2 2 1 2 1 2 1 2-4 2 2 2 2 2-1 2 0 2-1 2-1 2 4 2-2 2 1 2 1 2-1 2 1 2-4 2 1 2 4 2-2 2 1 2 0 2-1 2-1 2 1 2 1 2-3 2 5 2 0 2-3 2 0 2 0 2 3 2-2 2 4 2-2 2-2 2 0 2 2 2 3 2-1 2-3 2 1 2 3 2-5 2 3 2 1 2-2 2 5 2-7 2 3 2-4 2 1 2-2 2 1 2 1 2 1V1462" stroke="#77AC30"/><path d="M248 1470l2-3 2-3 2-1 2-5 2-2 2-3 2-3 2-2 2-4 2-2 2-2 2-2 2-4 2-2 2-2 2-3 2-2 2-2 2-1 2-3 2-3 2-1 2-2 2-2 2-2 2-2 2-2 2-3 2-1 2-2 2-1 2-3 2-1 2-3 2-1 2-2 2-2 2-2 2-1 2-3 2-1 2-2 2-2 2-2 2-2 2-2 2-1 2-2 2-2 2-3 2-2 2-2 2-1 2-2 2-2 2-1 2-3 2-2 2-3 2-2 2-2 2-3 2-1 2-2 2-3 2-2 2-2 2-2 2-2 2-2 2-2 2-3 2-2 2-3 2-2 2-3 2-3 2 0 2-4 2-2 2-3 2-2 2-2 2-5 2 0 2-4 2-3 2-3 2-3 2-2 2-4 2-3 2-3 2-3 2-2 2-4 2-2 2-4 2-3 2-4 2-3 2-4 2-4 2-3 2-5 2-4 2-4 2-2 2-5 2-5 2-4 2-3 2-5 2-5 2-4 2-3 2-5 2-5 2-4 2-5 2-5 2-4 2-6 2-3 2-6 2-3 2-6 2-4 2-5 2-4 2-6 2-5 2-5 2-5 2-6 2-3 2-7 2-7 2-7 2-7 2-7 2-8 2-8 2-9 2-9 2-9 2-7 2-12 2-9 2-11 2-12 2-12 2-13 2-14 2-14 2-16 2-16 2-12 2 0 2-2 2 2 2 1 2 0 2 1 2-1 2 1 2-2 2 1 2-1 2-1 2 0 2 1 2 0 2-1 2 0 2-2 2 0 2 0 2-1 2-2 2 2 2 3 2-3 2 2 2 0 2-3 2 1 2-1 2 2 2 3 2-4 2-1 2 3 2-1 2 2 2 1 2 0 2 1 2 1 2 1 2 3 2 0 2 1 2-1 2-1 2 2 2 2 2 0 2 0 2 1 2 3 2 4 2 3 2-1 2 0 2 4 2 2 2-1 2 2 2-1 2-2 2 4 2-1 2 4 2 1 2 0 2-2 2 5 2 1 2-1 2 2 2 4 2-1 2-3 2 5 2-1 2 3 2-4 2 9 2-1 2-3 2 4 2 2 2 0 2 4 2-3 2 3 2 0 2 3 2-1 2 3 2-6 2 2 2 2 2 2 2 3 2 1 2-5 2 3 2-3 2 4 2-2 2 1 2 1 2 1 2-4 2 1 2 1 2-5 2 5 2 0 2-3 2 1 2 0 2-4 2 5 2-1 2 2 2 0 2-4 2 4 2-2 2 0 2-1 2 4 2-6 2 3 2-2 2 1 2 2 2-3 2 2 2 4 2-5 2-1 2 2 2 3 2-5 2 2 2 1 2 0 2 1 2 1 2 0 2-1 2 1 2 1 2 0 2-1 2 1 2 3 2-3 2 2 2-1 2 3 2 0 2 1 2-5 2 3 2 3 2-2 2 1 2-2 2 3 2-1 2-3 2 1 2 2 2 4 2-4 2 1 2-3 2 3 2 0 2-1 2 1 2-4 2 5 2 0 2-2 2-1 2 4 2 0 2 1 2 1 2-5 2 3 2 3 2 0 2-1 2 4 2-4 2 1 2 2 2 1 2-1 2 0 2 1 2-2 2 5 2-2 2-2 2 1 2 0 2 1 2 0 2 0 2-4 2 6 2-2 2 1 2 1 2-4 2 0 2-2 2 4 2-3 2 2 2-4 2-1 2 1 2-1 2 0 2-3 2-2 2 2 2-1 2-1 2 0 2-2 2 4 2-3 2 2 2-1 2-3 2-2 2 4 2 0 2 0 2-5 2 3 2 1 2 0 2 3 2-1 2-3 2 3 2 2 2 0 2-2 2 0 2 2 2-2 2 2 2 2 2-3 2 1 2 1 2 3 2 0 2-2 2 0 2 2 2-6 2 4 2 0 2 0 2-2 2 3 2-2 2 0 2-2 2 3 2 1 2-6 2 4 2 0 2 1 2-5 2 1 2 2 2 1 2-1 2 1 2-3 2 5 2-4 2 2 2-3 2 7 2-2 2-2 2 4 2 0 2 0 2-1 2 0 2 1 2 3 2 4 2-6 2 6 2-3 2 0 2 0 2 3 2-2 2 0 2-2 2 0 2 2 2-2 2 0 2-1 2-2 2 1 2-1 2-2 2 1 2-1 2-4 2 2 2-2 2 0 2 0 2-3 2-1 2 0 2 4 2-3 2-1 2 0 2-1 2 0 2 2 2 1 2-2 2 1 2 1 2 0 2 3 2 0 2-1 2-2 2 2 2 0 2 2 2-1 2 2 2 3 2-4 2 1 2 1 2-1 2 2 2 2 2 2 2 2 2-3 2 0 2 2 2-1 2 3 2 2 2-2 2 0 2 4 2 0 2 1 2-2 2 1 2 2 2 0 2 0 2-1 2-2 2 5 2 1 2-4 2 3 2 2 2-1 2-2 2 0 2-1 2 1 2-3 2 0 2 3 2-1 2 1 2-1 2 0 2-3 2 0 2-1 2 2 2 0 2-3 2 0 2 2 2-2 2 0 2 2 2 1 2 2 2-4 2-3 2 3 2 3 2 2 2-4 2 1 2 2 2-1 2 3 2 2 2-4 2 2 2 5 2 0 2-2 2-1 2-1 2 2 2 0 2 3 2-4 2 5 2-5 2-3 2 4 2-2 2-1 2-2 2-2 2 1 2-4 2 2 2 0 2-2 2-1 2-2 2 0 2-2 2 2 2 2 2-6 2 1 2-1 2 0 2 1 2-6 2 5 2 0 2-3 2 3 2-2 2 1 2-2 2 0 2 1 2-2 2 3 2-2 2-3 2 2 2-1 2 3 2-3 2 5 2 0 2-3 2-1 2 3 2 1 2 1 2 0 2-1 2-2 2 1 2-1 2 2 2 3 2-4 2 3 2-1 2 0 2 2 2-3 2 2 2 0 2 0 2-2 2-1 2 5 2-3 2-4 2 5 2-2 2 1 2-3 2-1 2 2 2-2 2 2 2-2 2 1 2-2 2 2 2-1 2 1 2 4 2-4 2 3 2 0 2 2 2-3 2 2 2 0 2 2 2-3 2 4 2 1 2 0 2-2 2-2 2 5 2 1 2-3 2 0 2-1 2 2 2-2 2 2 2-2 2-1 2 3 2-7 2 5 2-5 2 2 2-1 2 3 2-3 2 1 2 0 2-3 2 2 2 0 2-1 2 2 2-2 2 0 2 2 2-2 2-1 2 4 2-1 2 2 2-1 2 1 2 6 2-6 2 4 2 0 2-3 2 3 2 0 2 1 2 2 2 1 2-2 2 2 2 2 2-3 2 5 2-1 2 0 2 1 2-1 2 0 2 0 2 0 2-1 2 2 2 0 2 0 2 0 2 0 2 1 2 5 2-5 2-5 2 2 2 1 2-1 2-1 2 1 2 2 2-3 2 0 2 2 2 1 2 0 2-1 2-3 2 3 2-3 2 2 2 0 2 0 2 0 2 0 2-1 2-1 2 3 2-2 2-3 2 4 2-1 2-8 2 12 2-8 2 0 2-1 2 3 2-4 2 0 2 3 2-3 2 0 2-2 2 0 2-6 2 3 2-1 2 1 2 0 2-4 2 0 2 0 2 0 2-5 2-1 2 1 2 0 2 0 2 0 2-1 2-6 2 2 2 5 2-6 2 2 2-1 1-1V1462" stroke="#7E2F8E"/><path d="M248 1476l2-3 2-3 2-3 2-3 2-2 2-4 2-4 2-1 2-3 2-3 2-3 2-2 2-2 2-4 2-3 2-2 2-2 2-3 2-1 2-3 2-1 2-3 2-1 2-3 2-1 2-2 2-2 2-2 2-3 2-1 2-2 2-3 2-1 2-1 2-2 2-2 2-2 2-1 2-1 2-3 2 0 2-4 2-2 2 0 2-4 2-1 2-2 2-2 2-1 2-3 2-2 2-1 2-2 2-3 2-2 2-2 2-1 2-2 2-2 2-4 2-2 2-1 2-3 2-2 2-3 2-3 2-1 2-3 2-3 2-3 2-2 2 0 2-4 2-2 2-3 2-2 2-2 2-3 2-2 2-3 2-3 2-3 2-2 2-3 2-2 2-2 2-3 2-4 2-2 2-3 2-2 2-3 2-3 2-4 2-4 2-2 2-2 2-4 2-3 2-3 2-5 2-3 2-4 2-3 2-4 2-3 2-4 2-4 2-4 2-5 2-3 2-5 2-4 2-4 2-4 2-5 2-4 2-4 2-5 2-5 2-3 2-6 2-4 2-4 2-5 2-6 2-3 2-3 2-5 2-6 2-4 2-6 2-4 2-5 2-5 2-5 2-4 2-7 2-6 2-7 2-8 2-8 2-7 2-8 2-9 2-8 2-10 2-8 2-11 2-11 2-10 2-11 2-12 2-13 2-14 2-13 2-14 2-17 2-10 2-2 2 0 2 3 2 0 2-1 2-1 2 1 2 0 2-1 2-2 2 1 2-1 2-2 2 1 2-4 2 0 2-1 2-3 2 1 2-2 2 0 2-5 2 1 2-1 2-1 2-1 2-1 2-1 2 4 2-5 2 0 2 4 2 0 2 3 2-1 2 4 2 0 2-1 2 4 2 0 2 7 2-2 2 2 2 2 2 4 2 4 2-1 2 4 2-1 2 4 2-2 2 3 2 6 2 0 2 0 2-1 2 3 2 5 2-4 2 1 2 4 2-3 2-2 2 4 2 1 2-1 2 0 2 0 2-1 2-1 2 4 2-1 2 2 2-7 2 6 2-1 2 1 2 0 2-3 2 5 2-1 2 1 2 0 2 3 2-1 2-2 2 2 2 3 2-2 2 2 2-2 2 1 2 3 2-3 2 2 2 2 2-1 2 3 2 4 2-2 2 1 2-2 2 2 2 0 2 1 2-3 2 7 2-1 2 3 2 1 2-1 2 2 2 2 2 0 2 1 2-3 2 1 2 4 2-3 2 3 2 1 2 2 2 2 2-4 2 5 2-5 2 0 2 3 2-1 2 1 2 1 2-1 2-2 2-3 2 5 2-5 2 3 2 1 2-1 2-3 2 1 2-2 2 1 2 2 2-2 2 2 2-4 2-1 2 0 2 6 2-2 2-3 2-1 2-2 2 2 2-2 2-1 2 1 2 3 2-5 2 2 2-3 2 1 2-3 2 3 2-3 2 2 2-4 2 2 2 0 2-2 2 1 2 0 2 2 2-3 2 5 2 0 2-2 2-2 2 0 2 3 2 4 2-4 2 1 2-3 2 0 2 2 2 2 2-3 2 4 2-6 2 2 2 2 2 2 2-3 2 4 2 0 2 1 2 1 2-4 2 1 2 1 2 4 2-1 2-1 2-1 2 0 2 1 2 0 2 2 2 5 2-4 2-2 2-3 2 4 2-1 2 4 2-4 2 1 2 4 2 1 2-3 2 1 2 2 2-1 2 0 2 2 2 0 2 0 2-1 2 3 2 1 2-1 2 0 2 3 2-1 2 3 2 1 2-2 2 1 2 0 2 1 2 2 2-1 2 2 2-2 2 0 2 3 2 2 2 0 2 2 2 0 2 0 2 1 2 3 2 0 2 2 2 0 2-3 2 2 2 1 2 0 2 4 2-3 2 4 2-1 2 3 2 1 2-2 2-1 2 1 2 1 2 4 2-3 2-3 2 7 2-5 2 0 2-1 2 1 2-1 2-2 2-3 2 2 2-1 2 3 2-2 2-2 2 0 2 0 2-1 2 1 2-3 2-2 2 3 2-3 2-1 2 1 2-1 2 1 2 2 2-4 2-1 2 0 2 2 2-2 2-2 2 2 2-3 2-1 2 2 2-1 2-1 2 0 2-1 2 0 2-2 2 5 2-8 2 0 2-3 2 4 2-3 2 3 2-4 2 2 2-3 2 1 2-1 2 3 2-3 2 3 2-2 2 0 2 1 2 1 2-3 2 0 2 6 2-2 2 3 2-1 2 1 2 0 2 0 2 3 2 2 2-1 2-2 2 1 2 2 2 4 2-6 2 2 2 1 2 1 2-1 2 0 2 1 2 0 2 2 2-4 2 3 2 1 2-2 2 0 2 1 2-4 2 4 2-2 2-2 2 3 2-2 2 2 2 1 2-1 2-2 2 0 2 2 2-4 2 3 2-4 2 1 2 2 2-2 2 3 2-4 2-3 2 4 2-1 2-1 2-3 2 5 2 0 2-3 2 1 2 0 2-2 2-1 2 2 2 2 2 3 2-3 2-2 2 2 2-1 2 2 2-4 2 5 2 1 2 1 2 0 2-3 2 0 2 0 2-1 2 0 2-3 2 4 2 2 2-5 2 2 2-1 2 4 2-6 2 5 2-3 2-1 2 1 2 0 2 0 2-1 2 5 2-3 2-2 2 2 2 3 2-3 2 5 2-3 2 0 2-5 2 6 2-1 2-1 2 2 2 0 2 0 2 2 2 2 2 2 2-3 2 1 2 2 2 3 2-1 2-1 2 1 2 0 2-3 2 1 2 1 2 2 2 3 2-1 2-4 2-1 2 5 2 0 2-4 2 1 2 1 2-2 2 1 2 0 2 0 2 5 2-2 2-6 2 3 2 2 2-2 2-1 2-1 2-1 2 0 2 3 2 0 2 1 2 0 2 0 2-2 2-2 2 4 2 0 2-5 2 0 2 2 2-1 2-2 2 2 2 2 2 1 2-1 2-2 2 3 2-6 2 4 2-2 2 3 2 0 2-1 2 0 2 0 2 1 2 0 2-1 2 3 2-3 2 3 2-2 2 1 2 1 2-1 2-1 2 2 2 0 2-3 2 0 2 2 2 5 2-5 2 6 2 0 2-6 2 4 2-1 2 3 2-3 2 2 2 0 2 0 2 0 2 1 2 1 2-2 2 2 2 1 2-5 2 2 2-4 2 4 2-3 2-3 2 5 2 1 2-3 2-1 2 2 2-2 2-2 2 1 2 0 2 2 2-3 2-3 2 3 2 2 2-2 2 2 2-2 2 1 2 1 2-1 2 1 2 0 2-1 2-1 2 5 2 0 2-3 2 3 2-2 2-1 2-1 2 0 2 2 2 2 2 0 2 1 2-1 2-3 2 1 2 3 2-1 2 1 2 0 2-3 2 1 2 1 2-3 2 0 2 1 2 0 2 0 2-4 2-2 2 3 2-2 2 1 2-3 2 2 2-3 2 1 2 0 2-1 2-2 2-2 2 1 2-1 2-1 2 0 2 3 2-4 2 1 2-1 2-1 2 0 2-1 2 1 2-1 2-3 2 1 2 3 2-3 2 2 2-2 2-1 2 2 2 1 2 1 2-2 2 0 2 2 2-2 2 1 2 4 2-4 2 1 2 1 2 1 2-3 2 2 2 0 2 1 2-1 1 0V1462" stroke="#D95319"/><path d="M248 1478l2-4 2-2 2-3 2-4 2-3 2-3 2-2 2-4 2-2 2-2 2-4 2-1 2-4 2-2 2-3 2-1 2-4 2-1 2-3 2-2 2 0 2-4 2-2 2-2 2-1 2-3 2-3 2 0 2-3 2-2 2-1 2-2 2-2 2-1 2-1 2-3 2-1 2-2 2-3 2-1 2-1 2-2 2-3 2-2 2-2 2-1 2-2 2-2 2-2 2-2 2-3 2 0 2-5 2 0 2-3 2-1 2-2 2-3 2-2 2-2 2-2 2-2 2-3 2-3 2-2 2-1 2-3 2-2 2-2 2-3 2-1 2-4 2-2 2-1 2-3 2-3 2-1 2-4 2-1 2-3 2-2 2-4 2-3 2-2 2-2 2-3 2-3 2-1 2-4 2-3 2-3 2-2 2-4 2-2 2-3 2-4 2-2 2-3 2-5 2-1 2-5 2-3 2-3 2-4 2-3 2-5 2-3 2-3 2-6 2-4 2-3 2-5 2-3 2-5 2-5 2-4 2-5 2-4 2-5 2-4 2-4 2-5 2-4 2-5 2-6 2-3 2-5 2-5 2-4 2-4 2-5 2-4 2-7 2-4 2-5 2-4 2-6 2-5 2-6 2-7 2-6 2-8 2-8 2-7 2-8 2-8 2-10 2-8 2-9 2-10 2-11 2-11 2-11 2-12 2-12 2-14 2-15 2-13 2-17 2-10 2 0 2 2 2-2 2 0 2 1 2-2 2 0 2 1 2 0 2-2 2 0 2-1 2 1 2-3 2 0 2-1 2 1 2-1 2-1 2 1 2-3 2 1 2-1 2-3 2 2 2-3 2 3 2-1 2 0 2-1 2-3 2 3 2 3 2-1 2-2 2 3 2 0 2-1 2 4 2 1 2 2 2 4 2-2 2 3 2 3 2 0 2 0 2 4 2 4 2 0 2 1 2 4 2 6 2-2 2-4 2 9 2 2 2 1 2 3 2 1 2 2 2 1 2-2 2 4 2-1 2 6 2-1 2 1 2 2 2 0 2 1 2 0 2 6 2-2 2-1 2 3 2 0 2 1 2-1 2 3 2-1 2 4 2-7 2 4 2 4 2-3 2 0 2 3 2-2 2 3 2-1 2-1 2 3 2 0 2 1 2 0 2-1 2 3 2-2 2 2 2-6 2 5 2-1 2 1 2 2 2-2 2-3 2 1 2 3 2-1 2 0 2-1 2 0 2 0 2-2 2 3 2-5 2 2 2 3 2-1 2 1 2-2 2 1 2 1 2 0 2 3 2-3 2 1 2 2 2-2 2 5 2-2 2 0 2 4 2 1 2-6 2 4 2 0 2-2 2 5 2-4 2 0 2-1 2 4 2-3 2 4 2-3 2 3 2-2 2-2 2 3 2-4 2 5 2-4 2 0 2 1 2-2 2-2 2 2 2-2 2 1 2 0 2 0 2 0 2 1 2 3 2-3 2-1 2 0 2-1 2 1 2 0 2 1 2 0 2 2 2-1 2 2 2-1 2-1 2-1 2 4 2 3 2-2 2 5 2-1 2-1 2 0 2 1 2 1 2 2 2-3 2 6 2-4 2 3 2 0 2 0 2 2 2 1 2-1 2-1 2 1 2-2 2 2 2 0 2-4 2 4 2-3 2 1 2 1 2-2 2 2 2-5 2 3 2-2 2 1 2-1 2-3 2 3 2 1 2-2 2 2 2-1 2-2 2 4 2-3 2 1 2 1 2-3 2 4 2-1 2 1 2 2 2 0 2 1 2-6 2 2 2 2 2 1 2 0 2 0 2-1 2 2 2-1 2-1 2 1 2 1 2 2 2-3 2 0 2 4 2-3 2 1 2 0 2 0 2 0 2-1 2 4 2-2 2 3 2 0 2-5 2 0 2 1 2 2 2 0 2-3 2-3 2 3 2 0 2-1 2-3 2 1 2-1 2 0 2 1 2-1 2-1 2 1 2-2 2 0 2-3 2 2 2 2 2-1 2 3 2-3 2 1 2 4 2-4 2 4 2 0 2 1 2 1 2 2 2-4 2 1 2 4 2 0 2-1 2 2 2 4 2-3 2 6 2-4 2 1 2 1 2 0 2-3 2 3 2-1 2 2 2-3 2 2 2-1 2-2 2 3 2 1 2-3 2-2 2-2 2 0 2 1 2 0 2 2 2-3 2-4 2 3 2-2 2-4 2-1 2 1 2-1 2-1 2-1 2-3 2 4 2-3 2-2 2-1 2 0 2-1 2 4 2-3 2-4 2 1 2 0 2-2 2-1 2 0 2-1 2 1 2 5 2-5 2 2 2-3 2 1 2 0 2 1 2 0 2 2 2-1 2 2 2-2 2 1 2-1 2 0 2-1 2 2 2 0 2-1 2 3 2 1 2-3 2 1 2 3 2 2 2 0 2-3 2 2 2-1 2 2 2-1 2 0 2 0 2 1 2 2 2 0 2-2 2 2 2-3 2 4 2-4 2 2 2 1 2 0 2 1 2 0 2 2 2-2 2-1 2-2 2 5 2-1 2 0 2 4 2-2 2 3 2 0 2 4 2-1 2-2 2 0 2 0 2 3 2 0 2 2 2 1 2 0 2-1 2-2 2 4 2 0 2 0 2 0 2-3 2 3 2 2 2-5 2 2 2 2 2-3 2 1 2-1 2-4 2 0 2-1 2 4 2 0 2-2 2-1 2-2 2 1 2-3 2 3 2 0 2 1 2-1 2-3 2 2 2-2 2 2 2-1 2 0 2 1 2-1 2-4 2 0 2 4 2-5 2 0 2 2 2 3 2-1 2-1 2-2 2 2 2-2 2-1 2 2 2-3 2 3 2-3 2 0 2 1 2 6 2-3 2-1 2-3 2 2 2 1 2-6 2 3 2 5 2-2 2-1 2 1 2-2 2 2 2-3 2 0 2 3 2 1 2-2 2 2 2-1 2-4 2 4 2 1 2-3 2 1 2 0 2 2 2-4 2 2 2-3 2 0 2 2 2 0 2 4 2-2 2 2 2-1 2-2 2 4 2 2 2-5 2 3 2 2 2-1 2 1 2-1 2 3 2 5 2 0 2 0 2 2 2-1 2-1 2 0 2 3 2 1 2 1 2-1 2 2 2 2 2-3 2 1 2-3 2 8 2-1 2-5 2 2 2-4 2 4 2 0 2-3 2 1 2-2 2 1 2-3 2-1 2 1 2 0 2-5 2 0 2 1 2 1 2-1 2-4 2 3 2-3 2 3 2-5 2-1 2 0 2-2 2 0 2 1 2 2 2-5 2 5 2-4 2 2 2-3 2 2 2-3 2 2 2-4 2 3 2 0 2-1 2-2 2 3 2 2 2-4 2 3 2-1 2 0 2-1 2 2 2 3 2-2 2-1 2 1 2 0 2 2 2-1 2 2 2-2 2 3 2 0 2 2 2-1 2 2 2-4 2 4 2-2 2 2 2-3 2 1 2 1 2-2 2 4 2-3 2 0 2 2 2-3 2-1 2-1 2-2 2 0 2 0 2-3 2 1 2-3 2-1 2 3 2-2 2 1 2 0 2-2 2-1 2 1 2-1 2-1 2 0 2 3 2 0 2-2 2 2 2 0 2 0 2 2 2 3 2-2 2 4 2-1 2 4 2 2 2-1 2 2 2 2 2-5 2 2 2 4V1462" stroke="#0072BD"/><path d="M248 1479l2-4 2-2 2-4 2-2 2-4 2-2 2-3 2-3 2-2 2-3 2-3 2-3 2-1 2-3 2-2 2-4 2-2 2-1 2-2 2-2 2-2 2-2 2-2 2-3 2-1 2-1 2-2 2-2 2 0 2-3 2-1 2-2 2-3 2-1 2-3 2-1 2-2 2-1 2-2 2-1 2-2 2-3 2-1 2-2 2-2 2-2 2 0 2-3 2-1 2-3 2-2 2-2 2-3 2-1 2-1 2-4 2-2 2-1 2-3 2-1 2-4 2-2 2-2 2-3 2-3 2-1 2-2 2-3 2-2 2-2 2-2 2-3 2-2 2-3 2-2 2-2 2-2 2-3 2-3 2-1 2-2 2-4 2-2 2-2 2-4 2-2 2-1 2-4 2-2 2-3 2-3 2-3 2-4 2-1 2-3 2-3 2-5 2-1 2-3 2-4 2-4 2-3 2-3 2-4 2-3 2-4 2-4 2-4 2-4 2-4 2-5 2-4 2-4 2-3 2-5 2-5 2-4 2-5 2-4 2-6 2-4 2-4 2-6 2-4 2-4 2-5 2-5 2-6 2-4 2-4 2-4 2-6 2-5 2-5 2-6 2-4 2-4 2-6 2-7 2-4 2-6 2-6 2-9 2-7 2-9 2-7 2-8 2-8 2-10 2-8 2-11 2-9 2-12 2-10 2-11 2-12 2-14 2-14 2-15 2-16 2-5 2 0 2-1 2 1 2 0 2-1 2 0 2-1 2 1 2 1 2 0 2 1 2-2 2-1 2-2 2-1 2-1 2 2 2 0 2-2 2-1 2 2 2 0 2 0 2-2 2 3 2 0 2-1 2 2 2-5 2 10 2-6 2 3 2 1 2 0 2 1 2 2 2 1 2 0 2 5 2-1 2 3 2 3 2 2 2 1 2 0 2 2 2 2 2-1 2 0 2 2 2 5 2 3 2-3 2 2 2 3 2 0 2 0 2 0 2 2 2-2 2-2 2 4 2-1 2 2 2-1 2 0 2 0 2 0 2 0 2 2 2-3 2 5 2-2 2 1 2 0 2 3 2 1 2-2 2 4 2-2 2 5 2-2 2-1 2 1 2 2 2-1 2 1 2 2 2-3 2 1 2 1 2 2 2 0 2 1 2-2 2 2 2-1 2-2 2-1 2 3 2-3 2 3 2-1 2 3 2 0 2 1 2-1 2-2 2 0 2 5 2 2 2 1 2-2 2 4 2-1 2 1 2 1 2-1 2 2 2 0 2 3 2-1 2 1 2 2 2-1 2 1 2-1 2-1 2 2 2 0 2 2 2-3 2 2 2 1 2-1 2 1 2-5 2 4 2 0 2 0 2-1 2 0 2-2 2 4 2-4 2 5 2-4 2-1 2 2 2 4 2-2 2 0 2 2 2 0 2 1 2-6 2 6 2-3 2 3 2-3 2 1 2 4 2-4 2-1 2 4 2-2 2 0 2-1 2 1 2-2 2 3 2-2 2-1 2-1 2 5 2-2 2-2 2 3 2-2 2 4 2-4 2 3 2-2 2 1 2 3 2-4 2 2 2-2 2 6 2-2 2 0 2-1 2 0 2-2 2 2 2-1 2 1 2 4 2-3 2 2 2 0 2-2 2 1 2 1 2 0 2 0 2-2 2-3 2 5 2 1 2-3 2-2 2 4 2-2 2 2 2-1 2-3 2 3 2 3 2-5 2-2 2 4 2 2 2-1 2 2 2-2 2-1 2 7 2-4 2 0 2 6 2-1 2-3 2 2 2 0 2 5 2-6 2 5 2-2 2 1 2-5 2 4 2 0 2-2 2 3 2 1 2-1 2-1 2-1 2-1 2 4 2 1 2-6 2 3 2 0 2-1 2 1 2 0 2-2 2 0 2 1 2 0 2-1 2-1 2 0 2 2 2-4 2 5 2-3 2 0 2 0 2 1 2-1 2-4 2 2 2 0 2 1 2-1 2 1 2-1 2 0 2 0 2-1 2 2 2-3 2 1 2 2 2-2 2 1 2-2 2 1 2-5 2 0 2 4 2-1 2-1 2-1 2-3 2 0 2 1 2 1 2-2 2-2 2 4 2-3 2 1 2-2 2 1 2 3 2 0 2-1 2 0 2-1 2 1 2 2 2-1 2 2 2-3 2 1 2 5 2 0 2-1 2 1 2-2 2 3 2-3 2 3 2-1 2 2 2 1 2-1 2-2 2-1 2 0 2 0 2-1 2 3 2-4 2 1 2 2 2 0 2-3 2 2 2-1 2-2 2 2 2 1 2 1 2 0 2 0 2 1 2-2 2 2 2 0 2-2 2 2 2 0 2 1 2 1 2 2 2-2 2-4 2 4 2 0 2 0 2-4 2 6 2 1 2-4 2 2 2-5 2 3 2-2 2 0 2 0 2 0 2 0 2-1 2 1 2 0 2-3 2 4 2-5 2 0 2 2 2 4 2 0 2-4 2 4 2 3 2-1 2-3 2 1 2-2 2 4 2-1 2-1 2-1 2 7 2-2 2 1 2-2 2 0 2-2 2 2 2-2 2 0 2 1 2-1 2 3 2-1 2 1 2-4 2 1 2 3 2-2 2-3 2 4 2-1 2-2 2-2 2 5 2 0 2-1 2-1 2 2 2 0 2 2 2 1 2-1 2-2 2 5 2-4 2 2 2 2 2-5 2 5 2 0 2 1 2-2 2-2 2 2 2 1 2 2 2 2 2-3 2-4 2 6 2-3 2 2 2-1 2 0 2 0 2-2 2 3 2-2 2 3 2-6 2 0 2 3 2-10 2 6 2-4 2 4 2-4 2-1 2 1 2-3 2 2 2-3 2 0 2-2 2-2 2 3 2-5 2 2 2 0 2 1 2 0 2-2 2-4 2 3 2-2 2-1 2 1 2 1 2-1 2 0 2 1 2-1 2 0 2 1 2-2 2 2 2 0 2-1 2 4 2-1 2-1 2 1 2 4 2-3 2 2 2 2 2-3 2 2 2 0 2 4 2 0 2 1 2-2 2 1 2 2 2 0 2 1 2 1 2 1 2 0 2 1 2-1 2 2 2-1 2 4 2-1 2 0 2-2 2 1 2 0 2-2 2 2 2 1 2 0 2 2 2 2 2-5 2 1 2 0 2 1 2-2 2 3 2-4 2 0 2-2 2 3 2-3 2 2 2 0 2-2 2-1 2 0 2 2 2-1 2-2 2-1 2 2 2 1 2-2 2 0 2-2 2 1 2-1 2-3 2 1 2 0 2-3 2 3 2-2 2 1 2-2 2-1 2 4 2-7 2 1 2 0 2 1 2-2 2 2 2 1 2-8 2 5 2-4 2 4 2 0 2-2 2 1 2-1 2-2 2 3 2-1 2 2 2 0 2-1 2 2 2 1 2 1 2 1 2-3 2 2 2 3 2-2 2 5 2 0 2 2 2-1 2-1 2 2 2-1 2 3 2-3 2 3 2-1 2-2 2 3 2-6 2 8 2-4 2-5 2 3 2-2 2-2 2 3 2-3 2 1 2 0 2-2 2 0 2-1 2 1 2 1 2-7 2 4 2 0 2 0 2 1 2-3 2 7 2-2 2-4 2 3 2 3 2-3 2-2 2 0 2 2 2 4 2-5 2 3 2-4 2 5 2 0 2-4 2 0 2 2V1462" stroke="#EDB120"/><path d="M248 1485l2-4 2-3 2-2 2-2 2-6 2-1 2-3 2-3 2-4 2-2 2-3 2-3 2-2 2-2 2-3 2-4 2-1 2-2 2-2 2-3 2-1 2-4 2-2 2-1 2-1 2-4 2-3 2-2 2-1 2-1 2-3 2-2 2-2 2-1 2-2 2-1 2-3 2-1 2-2 2-2 2-2 2-1 2-2 2-2 2-2 2-2 2-3 2-1 2-1 2-2 2-3 2-1 2-4 2-1 2-2 2-2 2-1 2-3 2-3 2-2 2-1 2-3 2-3 2-1 2-2 2-3 2-1 2-3 2-2 2-4 2 0 2-3 2-2 2-2 2-3 2-2 2-2 2-3 2 0 2-4 2-2 2-2 2-1 2-5 2-3 2-2 2-1 2-3 2-4 2-2 2-2 2-3 2-4 2-2 2-3 2-3 2-3 2-2 2-5 2-2 2-3 2-3 2-4 2-3 2-4 2-4 2-5 2-2 2-4 2-4 2-3 2-4 2-4 2-5 2-3 2-5 2-4 2-5 2-5 2-3 2-5 2-4 2-5 2-5 2-4 2-5 2-5 2-4 2-5 2-4 2-5 2-3 2-6 2-4 2-6 2-4 2-5 2-5 2-6 2-5 2-7 2-7 2-5 2-7 2-7 2-10 2-8 2-9 2-7 2-10 2-10 2-10 2-9 2-11 2-11 2-13 2-12 2-14 2-13 2-14 2-16 2-7 2 0 2-1 2 0 2 1 2-2 2 2 2-1 2-3 2 1 2-1 2-1 2 0 2-1 2-2 2 1 2 0 2-1 2 0 2 2 2-4 2-2 2 1 2-2 2 1 2-3 2 5 2-6 2 4 2 2 2 2 2-2 2-3 2 5 2 3 2 2 2 2 2-2 2 2 2 5 2 0 2 2 2-2 2 7 2 0 2 2 2 5 2 2 2 6 2-7 2 4 2 3 2 6 2-2 2 6 2 1 2-2 2 1 2 6 2-5 2 4 2 5 2-1 2 2 2 3 2-2 2 4 2-2 2 1 2 5 2-4 2 2 2 1 2 0 2 0 2 2 2-1 2 5 2-1 2 1 2-1 2 0 2 0 2 4 2 0 2 1 2-4 2 7 2-4 2 2 2 3 2-3 2 2 2 2 2 1 2-2 2-2 2 2 2 0 2-1 2 3 2-3 2 3 2-5 2 1 2 3 2 1 2-2 2 2 2-3 2 2 2 1 2 2 2-5 2 2 2 1 2-4 2 1 2 1 2 0 2 0 2-2 2-2 2 3 2-3 2 3 2 2 2-4 2 2 2 1 2-2 2 1 2 1 2-3 2 1 2 2 2 0 2-2 2-1 2 1 2 0 2-2 2 3 2-3 2 1 2-1 2 0 2 2 2-3 2 1 2-1 2 3 2-4 2 1 2 3 2-4 2-1 2 2 2 2 2-4 2 3 2-1 2 3 2-2 2 2 2 0 2-1 2 0 2 2 2-3 2 0 2 5 2 1 2-3 2 4 2 0 2-3 2-2 2 7 2-5 2 2 2 0 2 1 2 1 2-4 2 2 2 0 2-4 2-1 2 2 2-2 2 0 2-1 2 1 2 5 2-4 2-2 2 1 2-2 2 1 2 1 2-1 2 1 2 0 2-1 2 1 2 0 2 1 2 2 2 1 2-3 2 1 2 3 2-1 2 1 2 3 2 1 2 1 2-1 2 3 2-5 2 5 2 1 2 1 2 1 2 1 2 0 2 1 2-1 2 0 2 2 2 2 2-4 2 2 2 2 2-1 2-1 2 2 2-2 2-3 2 5 2-6 2 4 2-2 2 0 2 6 2-6 2 1 2-2 2 0 2-1 2-2 2 1 2 4 2-1 2-1 2 3 2 2 2-7 2 2 2 2 2 1 2-4 2 4 2 2 2 1 2 2 2-3 2-1 2 2 2-1 2 4 2-3 2 3 2-5 2 6 2-1 2 2 2-2 2-2 2 0 2 2 2-2 2 2 2-4 2 1 2 0 2 2 2-3 2 1 2-1 2-2 2 0 2 2 2-2 2-1 2 1 2-1 2 0 2-2 2 2 2 1 2-3 2 2 2 0 2 0 2-2 2 3 2-5 2 3 2-3 2 2 2 2 2-3 2-1 2 1 2-1 2 2 2 1 2 1 2-1 2 0 2-4 2 6 2-3 2 3 2-1 2 3 2-4 2 3 2-3 2 5 2 1 2-1 2 0 2 2 2-6 2 4 2-4 2 6 2-1 2 0 2 1 2 1 2 2 2-3 2 1 2 0 2-4 2 2 2 0 2 1 2 1 2 2 2-8 2 7 2-5 2 2 2 0 2-5 2 1 2-4 2 4 2 2 2-5 2 1 2-3 2 3 2-2 2 1 2-1 2 1 2-1 2-1 2 3 2 2 2 2 2-2 2 0 2 1 2 4 2-1 2 3 2-3 2 1 2 0 2 3 2 0 2 0 2 1 2-2 2 3 2 2 2-2 2 0 2 1 2-2 2 1 2-2 2 1 2 0 2 3 2 1 2-1 2-4 2 2 2 0 2 0 2-3 2 1 2-1 2-2 2 2 2-1 2 1 2-1 2-3 2 1 2 3 2-3 2 4 2-4 2 3 2 2 2-3 2 0 2 2 2 3 2-5 2-1 2 0 2 5 2-7 2 4 2 1 2-1 2 2 2-2 2-2 2 3 2-1 2 1 2-4 2 5 2-4 2 4 2 0 2 0 2-3 2-1 2 2 2-2 2-1 2 2 2 1 2-1 2-1 2 2 2 3 2-5 2-1 2-1 2 3 2-4 2 1 2 5 2-7 2-2 2 4 2 2 2-1 2 1 2-1 2 1 2 2 2-1 2-1 2 0 2-3 2 2 2 1 2-2 2-1 2 2 2 1 2-2 2-1 2-1 2-3 2 1 2 1 2 2 2-3 2 0 2-1 2-3 2 2 2 0 2 0 2-2 2-3 2 0 2-1 2 0 2 0 2-1 2 0 2-1 2 5 2-1 2-2 2-1 2 2 2 3 2 0 2 1 2-2 2 0 2 1 2 1 2 2 2 1 2 0 2 0 2-1 2 3 2 3 2-6 2 3 2 3 2 1 2 1 2-2 2 3 2-2 2-1 2 4 2 0 2-3 2-1 2 2 2 2 2-5 2 0 2 0 2 2 2 2 2-2 2-3 2 1 2 1 2 0 2-4 2 3 2-2 2-4 2 2 2-1 2 0 2-1 2 1 2-1 2-2 2-1 2 1 2 2 2-3 2-2 2 2 2 0 2-1 2 1 2-2 2 2 2 1 2 2 2-3 2-1 2 5 2 1 2-3 2 0 2-1 2 1 2 2 2 0 2 2 2-2 2 2 2 1 2-5 2 0 2 4 2 0 2 0 2-2 2-1 2-1 2 0 2-5 2 6 2-2 2-2 2 0 2-1 2-1 2-1 2-3 2 3 2 0 2 1 2 1 2-3 2 0 2-2 2 1 2 0 2 2 2-1 2-4 2 8 2-4 2 2 2 2 2 1 2-1 2 0 2 0 2 1 2-1 2 0 2 2 2-2 2 0 2 0 2-1 2 0 2 6 2-3 2 0 2-3 2 3 2-2 2 3 2-3 2 0 2 1 2 0 2 0 2 1 2-1 2 3 1-1V1462" stroke="#4DBEEE"/><path d="M248 1485l2-3 2-4 2-3 2-2 2-3 2-3 2-2 2-3 2-4 2-3 2-2 2-3 2-4 2-1 2-3 2-2 2-2 2-3 2-2 2-2 2-3 2-1 2-3 2-1 2-3 2-2 2-1 2-3 2-1 2-2 2-2 2-1 2-2 2-2 2-2 2-3 2 0 2-3 2-1 2-2 2-1 2-3 2-1 2-1 2-2 2-2 2-1 2-2 2-2 2-3 2-2 2-2 2-2 2 0 2-2 2-4 2-2 2-2 2-3 2-2 2-1 2-2 2-2 2-3 2-2 2-3 2-2 2-2 2-2 2-2 2-3 2-1 2-3 2-2 2-3 2-1 2-2 2-3 2-2 2-2 2-3 2-3 2-2 2-3 2-3 2-1 2-2 2-2 2-3 2-2 2-3 2-3 2-3 2-2 2-3 2-2 2-3 2-4 2-3 2-2 2-3 2-3 2-3 2-4 2-2 2-5 2-4 2-2 2-5 2-4 2-4 2-3 2-4 2-5 2-4 2-5 2-3 2-5 2-5 2-5 2-4 2-5 2-5 2-5 2-4 2-6 2-5 2-5 2-4 2-4 2-6 2-5 2-5 2-3 2-6 2-5 2-4 2-5 2-5 2-5 2-6 2-7 2-5 2-7 2-8 2-7 2-6 2-8 2-9 2-9 2-8 2-10 2-8 2-10 2-11 2-11 2-11 2-11 2-12 2-15 2-13 2-15 2-3 2 2 2 0 2-1 2-3 2 4 2-2 2 2 2-2 2 0 2 0 2 0 2-4 2 1 2 1 2-3 2-3 2 2 2-2 2 2 2-4 2 5 2-5 2 3 2 2 2-2 2-1 2 1 2 2 2 1 2-3 2 5 2 2 2 1 2 3 2 0 2-3 2 3 2 6 2 1 2 2 2-1 2 2 2 3 2 3 2-2 2 2 2 4 2-1 2 0 2 2 2-1 2 6 2-1 2-1 2 4 2-3 2 3 2 1 2-1 2 2 2 5 2-7 2 3 2-2 2 3 2-1 2 1 2-2 2 2 2 0 2 0 2 1 2 1 2 1 2-1 2 1 2 2 2-1 2-2 2 1 2-2 2 2 2-1 2 4 2 0 2-1 2 0 2 1 2 1 2-4 2 6 2-1 2-1 2-2 2 0 2 3 2-1 2 2 2 0 2-2 2 7 2-3 2 3 2 0 2 1 2 0 2-1 2 4 2-3 2 2 2 2 2 1 2-2 2 3 2-3 2 2 2 0 2 4 2-3 2 3 2 0 2-1 2 0 2 3 2 0 2 0 2-2 2 2 2 4 2-6 2 3 2 2 2-3 2 4 2-4 2 4 2 1 2-3 2 2 2-3 2 2 2-2 2 1 2 3 2 1 2-4 2 1 2 2 2-2 2 0 2 1 2 1 2 4 2-4 2 5 2 1 2 0 2-4 2 4 2 4 2-3 2 3 2-1 2 0 2-1 2 4 2-4 2 5 2-1 2 3 2-1 2 0 2-5 2 4 2 2 2-2 2-1 2-1 2 3 2 2 2-1 2-2 2 3 2-2 2 1 2 1 2-2 2 1 2 3 2-3 2-2 2-1 2 3 2-1 2-1 2-2 2 0 2-5 2 4 2-2 2 3 2-4 2 2 2-7 2 7 2 1 2-2 2 0 2-4 2 2 2 0 2 2 2-2 2 2 2 4 2-3 2 1 2-3 2 3 2 0 2-3 2 1 2 2 2 1 2-2 2 1 2 1 2-5 2 0 2 6 2-5 2 10 2-3 2 1 2-1 2-2 2-1 2-3 2 5 2-1 2-2 2 1 2 1 2-1 2 4 2 3 2-5 2 0 2 4 2 1 2-1 2 0 2 0 2 0 2-2 2 0 2 3 2 1 2-4 2 0 2-1 2 5 2-3 2-4 2 0 2 5 2-2 2-1 2-2 2 3 2 2 2-3 2 0 2-2 2-1 2-2 2 5 2-1 2 0 2-2 2-1 2 0 2 4 2 1 2-4 2-1 2-2 2 3 2 0 2 0 2-2 2-3 2 3 2-1 2 3 2-2 2 0 2 2 2-2 2-1 2-1 2 2 2-2 2 1 2-1 2 0 2 1 2-3 2 3 2-4 2 1 2 1 2-2 2 7 2-4 2 1 2 0 2-2 2 3 2 1 2-1 2 0 2 3 2-1 2 2 2 1 2 0 2 4 2-3 2-1 2 4 2 0 2-1 2 1 2 0 2-1 2-1 2 1 2 1 2 1 2-1 2-3 2 4 2 1 2-6 2 0 2 2 2-4 2 6 2-6 2-2 2 0 2 1 2-4 2 2 2-2 2 4 2 1 2-2 2-2 2 0 2 4 2-3 2-1 2 2 2-2 2 0 2 2 2-2 2 0 2 0 2 2 2-4 2 2 2 0 2-3 2 1 2 3 2-3 2 2 2 0 2 0 2-2 2-2 2 2 2-2 2 6 2-3 2-2 2 2 2-1 2 3 2 0 2-3 2 1 2 0 2 0 2 1 2 1 2-2 2 0 2 0 2 3 2-4 2 3 2 0 2-2 2-1 2-1 2 3 2-2 2 0 2-1 2 0 2 0 2 4 2-5 2-2 2 3 2-3 2 3 2-4 2 0 2 0 2 3 2-2 2-3 2 0 2-1 2 2 2 2 2-3 2 4 2-1 2-1 2 3 2-1 2-1 2 3 2 0 2 0 2 3 2-4 2 3 2 3 2 0 2 0 2 2 2-2 2 1 2 2 2-1 2 0 2 1 2 5 2-3 2 2 2-4 2-1 2 0 2-1 2 3 2-1 2-1 2-4 2-1 2 6 2-4 2 4 2 0 2-4 2-3 2 3 2-2 2 2 2-3 2-2 2 3 2 3 2-8 2 5 2-4 2 0 2-4 2 2 2-1 2 5 2-5 2 0 2-2 2 1 2 1 2 0 2 0 2 0 2-2 2 2 2-3 2 3 2 0 2-2 2 0 2-2 2 1 2 1 2 1 2-2 2 0 2 2 2 2 2-1 2 0 2 2 2 0 2 0 2 3 2-1 2 2 2-2 2 2 2 6 2-5 2 3 2 1 2-1 2 5 2 0 2 0 2-2 2 2 2 0 2 3 2-2 2 3 2 1 2 0 2-1 2 4 2-7 2 1 2 1 2 1 2 0 2-1 2-2 2 3 2-3 2 1 2-2 2 1 2 2 2-1 2 1 2-1 2 0 2 2 2 0 2-2 2 1 2-1 2 2 2-2 2-1 2-2 2 0 2 4 2-1 2-1 2-3 2 3 2-2 2-1 2 0 2-1 2 1 2 1 2 1 2-3 2-2 2 1 2-1 2 0 2-4 2 6 2-7 2 6 2-4 2 2 2-2 2 1 2-2 2 3 2 1 2 3 2-1 2 3 2-1 2-2 2 1 2-3 2 5 2-1 2 1 2 1 2-2 2 1 2-1 2 1 2 2 2 1 2 2 2-3 2 0 2-2 2 3 2-2 2 4 2-3 2-1 2 0 2 1 2 2 2-3 2 1 2 0 2 1 2-1 2 0 2 1 2 2 2-5 2 0 2 3 2-1 2-1 2 1 2-1 2-2 2 1 2-3 2 4 2-3 2 1 2-3 2-2 2 6 2-3 2-2 2-5 1 4V1462" stroke="#A2142F"/><path d="M248 1489l2-4 2-3 2-2 2-4 2-3 2-3 2-2 2-3 2-3 2-4 2-2 2-3 2-2 2-5 2-2 2-2 2-1 2-3 2-2 2-3 2-2 2-2 2-2 2-2 2-3 2-2 2-2 2-2 2 0 2-3 2-3 2-1 2-3 2-1 2-1 2-2 2-1 2-3 2-1 2-3 2 0 2-4 2-1 2-1 2-2 2-1 2-2 2-3 2 0 2-4 2-3 2 0 2-1 2-3 2-2 2-1 2-3 2-1 2-2 2-2 2-3 2-2 2-3 2-2 2-1 2-2 2-3 2-3 2-1 2-3 2-2 2-2 2-3 2-2 2-3 2-2 2-1 2-2 2-3 2-2 2-3 2-1 2-3 2-2 2-4 2 0 2-4 2-2 2-2 2-3 2-3 2-2 2-4 2-1 2-3 2-3 2-2 2-3 2-3 2-2 2-4 2-3 2-3 2-3 2-3 2-3 2-4 2-3 2-5 2-3 2-5 2-3 2-4 2-4 2-6 2-4 2-4 2-5 2-4 2-5 2-3 2-5 2-6 2-5 2-3 2-7 2-3 2-6 2-5 2-5 2-5 2-5 2-3 2-6 2-5 2-4 2-5 2-5 2-5 2-5 2-5 2-5 2-6 2-6 2-7 2-7 2-8 2-7 2-8 2-8 2-8 2-10 2-9 2-9 2-10 2-9 2-12 2-12 2-10 2-14 2-11 2-16 2-12 2-2 2 0 2-2 2 1 2-2 2 1 2 0 2 1 2 0 2-3 2 1 2-3 2 0 2 0 2-1 2 1 2-2 2 0 2-2 2-3 2-2 2-3 2 4 2 0 2 3 2-6 2 3 2-2 2-1 2 2 2 2 2 0 2-1 2 3 2-2 2 3 2 3 2-3 2 2 2 6 2 0 2 1 2 1 2-1 2 6 2 0 2 1 2 0 2 6 2-2 2 4 2 2 2 3 2 2 2-1 2 3 2 0 2 3 2 1 2 0 2 1 2 0 2 2 2 2 2 3 2-1 2 0 2 1 2 1 2 3 2-3 2 0 2 1 2 5 2-1 2 1 2 0 2 2 2 2 2 0 2-3 2 1 2-2 2 8 2-4 2-2 2-1 2 3 2-2 2 5 2-4 2-1 2 1 2-1 2 1 2-1 2 0 2 0 2 0 2 1 2-2 2 6 2-1 2 1 2-3 2-1 2 6 2-1 2 2 2-1 2 2 2 0 2 7 2-5 2 4 2 1 2 0 2-1 2 4 2 0 2 1 2-2 2 0 2 1 2-2 2 3 2 0 2 1 2-3 2 0 2 1 2-3 2 1 2-2 2 3 2-1 2-5 2 3 2-5 2 3 2 1 2-3 2 0 2-1 2 3 2-3 2-1 2 6 2-3 2 0 2 1 2 2 2 3 2-2 2-2 2 2 2 2 2-1 2-2 2 4 2 2 2-3 2 1 2 2 2-1 2 0 2-1 2 2 2 2 2 1 2 0 2 0 2-3 2 5 2-2 2 2 2 3 2-2 2 0 2 4 2-3 2 4 2 0 2 0 2 0 2 2 2-1 2 3 2 0 2-2 2 1 2 4 2-1 2-2 2 2 2-2 2 3 2 2 2-2 2-1 2-1 2 1 2 4 2-5 2 4 2-3 2 0 2 0 2 1 2-1 2-2 2 3 2 2 2 1 2-4 2-1 2 2 2 0 2-4 2 0 2-2 2 2 2-1 2-1 2-3 2 0 2 0 2-3 2-1 2 3 2-4 2 2 2-3 2 1 2-7 2 1 2 1 2 0 2-2 2-2 2 4 2-3 2 1 2 3 2-1 2 1 2 1 2-1 2 2 2 0 2 3 2 3 2-3 2 2 2 0 2 0 2 2 2 2 2-1 2 0 2 4 2-2 2 1 2 2 2-1 2-1 2 1 2-1 2 2 2-2 2 1 2-1 2 5 2-7 2 6 2-1 2 1 2 0 2-1 2 2 2-3 2 5 2 0 2 1 2 2 2 0 2 1 2 3 2-1 2 1 2-1 2 1 2 2 2 1 2 0 2 3 2-2 2 1 2-2 2 0 2 2 2 0 2-2 2 3 2-4 2-1 2 0 2-1 2 0 2-3 2 1 2 1 2-5 2 2 2-1 2 0 2 0 2-2 2-2 2 1 2 1 2-4 2 3 2-3 2 3 2-2 2-2 2 0 2-2 2 4 2-3 2 1 2 2 2-1 2 4 2-3 2-3 2 5 2 1 2-4 2 2 2 3 2-3 2 4 2-3 2 3 2 2 2 1 2 2 2 0 2-1 2 2 2-1 2 1 2-1 2 4 2-5 2 1 2 1 2-1 2 1 2 0 2-3 2 0 2 2 2-1 2-2 2 1 2 1 2-2 2 1 2-1 2 1 2 0 2 1 2-3 2 0 2 4 2-2 2 1 2 0 2-2 2 2 2 2 2 3 2-2 2-1 2 1 2 1 2 1 2 1 2 1 2 1 2 0 2-1 2 0 2-1 2 1 2 2 2-2 2 1 2 3 2-6 2-1 2 4 2 2 2-4 2-2 2 3 2-2 2 1 2-3 2 1 2-2 2 2 2-3 2 5 2-3 2 0 2-3 2-1 2 2 2-3 2 0 2 2 2-2 2 1 2-2 2-1 2 0 2-2 2 1 2 0 2 1 2-4 2 0 2 0 2 2 2-3 2 0 2 2 2 2 2-3 2-1 2 3 2 2 2-4 2 3 2-3 2 4 2-4 2 6 2-5 2 2 2 1 2-1 2 3 2 0 2-2 2 1 2 1 2-2 2 3 2-1 2 0 2-3 2 5 2-4 2 1 2 0 2 2 2 1 2-4 2-1 2 5 2-4 2-1 2 5 2-3 2 0 2 1 2-4 2 2 2-2 2 5 2-3 2 3 2-1 2 0 2 1 2 1 2-2 2 0 2 2 2-1 2-1 2 3 2-4 2 0 2 2 2-2 2 1 2-4 2-3 2 6 2-6 2 2 2-2 2 2 2-3 2-2 2-2 2 0 2-1 2 3 2-2 2-3 2 2 2-3 2 0 2 2 2-4 2 3 2-1 2-2 2 1 2 0 2 0 2-1 2 2 2 0 2 2 2-1 2-3 2 2 2-2 2 2 2 1 2 0 2 0 2-2 2 0 2 3 2 0 2-1 2 3 2 1 2 0 2-4 2 2 2 6 2-3 2 2 2-1 2 2 2-1 2 6 2-2 2 3 2 0 2-4 2 1 2 2 2-1 2 2 2 1 2-3 2 4 2-2 2-2 2 1 2 5 2-5 2 3 2 0 2-4 2 2 2-2 2 0 2 1 2-3 2-2 2 0 2 2 2 0 2-2 2 0 2-2 2 1 2-1 2-3 2-3 2 3 2 0 2 1 2-3 2-2 2 0 2 2 2-3 2-2 2-1 2-2 2 1 2-2 2-1 2-2 2 2 2-1 2 0 2-2 2 1 2-3 2 3 2-2 2 4 2-2 2-3 2 1 2 1 2 4 2-1 2 3 2-6 2 3 2 1 2-1 2 1 2 4 2-4 2 0 2 3 2 3 2-2 2-1 2 5 2-2 2-1 2 1 2 1 2 4 2-5 2 3 2-1 2 7 2-8 2 1 2 2 2 0V1462" stroke="#7E2F8E"/><path d="M248 1490l2-4 2-4 2-3 2-2 2-5 2 0 2-4 2-2 2-4 2-2 2-4 2-2 2-3 2-2 2-2 2-4 2 0 2-4 2-2 2-1 2-4 2 0 2-3 2-3 2-2 2-2 2-2 2-1 2-2 2-2 2-3 2 0 2-2 2-1 2-4 2 0 2-2 2-3 2-1 2-2 2-2 2-2 2-1 2-1 2-2 2-2 2-2 2-1 2-3 2 0 2-4 2-2 2-1 2-3 2-1 2-4 2-1 2-2 2-1 2-3 2-1 2-3 2-2 2-2 2-1 2-3 2-4 2 0 2-3 2-2 2-2 2-4 2 0 2-2 2-4 2-2 2-2 2-2 2-3 2 0 2-4 2-3 2 0 2-3 2-5 2 0 2-3 2-2 2-3 2-1 2-3 2-3 2-2 2-2 2-2 2-4 2-2 2-3 2-3 2-3 2-2 2-4 2-2 2-3 2-3 2-3 2-4 2-3 2-4 2-2 2-4 2-6 2-3 2-3 2-5 2-4 2-4 2-4 2-4 2-5 2-5 2-4 2-5 2-5 2-5 2-4 2-5 2-6 2-5 2-4 2-5 2-5 2-5 2-5 2-4 2-5 2-6 2-4 2-3 2-7 2-4 2-5 2-6 2-6 2-6 2-5 2-9 2-5 2-10 2-7 2-9 2-9 2-9 2-9 2-9 2-10 2-10 2-12 2-10 2-13 2-14 2-10 2-16 2-12 2-1 2-1 2 0 2-2 2-2 2 0 2-2 2 1 2-6 2 2 2-3 2 0 2 0 2-4 2 1 2-1 2-2 2 1 2 1 2-1 2 0 2-4 2 1 2 4 2-2 2 1 2 1 2 2 2 4 2 0 2 2 2 5 2-1 2 3 2 0 2 5 2 0 2 5 2 3 2-1 2 4 2 2 2 5 2 2 2 1 2 1 2 2 2 2 2 2 2 5 2 3 2-3 2 4 2-2 2 1 2 2 2 4 2-3 2 1 2-3 2 0 2 1 2 6 2-2 2 1 2-5 2 5 2-5 2 6 2-4 2 2 2 0 2 0 2 1 2 2 2-2 2 1 2-2 2 3 2 0 2-2 2 1 2 4 2 1 2-2 2 3 2-2 2 0 2 0 2-1 2 2 2-2 2 3 2 0 2 0 2 0 2-1 2 3 2-3 2 1 2 0 2-1 2-2 2 5 2-1 2 4 2-3 2 3 2-3 2 1 2 3 2-5 2 1 2 2 2 1 2 1 2-1 2-1 2 2 2-4 2 5 2 2 2-1 2-5 2 3 2 1 2-1 2-1 2-1 2-1 2 0 2-1 2 2 2 0 2 2 2 3 2-7 2 3 2 2 2-2 2 1 2 1 2-3 2 2 2 2 2-2 2 2 2-4 2 1 2 6 2-1 2-3 2 2 2 2 2-1 2-1 2 1 2 3 2-5 2 5 2-6 2 1 2 2 2-3 2 1 2 0 2 0 2 4 2-1 2-2 2 4 2-3 2-1 2 3 2 1 2 0 2-2 2 3 2 0 2 2 2 0 2 0 2 1 2 2 2-1 2 1 2 1 2 1 2-1 2 4 2-2 2 5 2-2 2 0 2-1 2 4 2 2 2-2 2 2 2-2 2 3 2 0 2 2 2-2 2-2 2 2 2-3 2 4 2-4 2-1 2 0 2 3 2-2 2 6 2-7 2-1 2 1 2 1 2-2 2-1 2 1 2-3 2 5 2-3 2 4 2-4 2-2 2 1 2 3 2-2 2 2 2-1 2-1 2 0 2-4 2 4 2 0 2 1 2-1 2 2 2-2 2 1 2-3 2 3 2 1 2 1 2 0 2 0 2 1 2-2 2 1 2 2 2 0 2 1 2 1 2 3 2-2 2 0 2 1 2 2 2-1 2 0 2 0 2 6 2-2 2-4 2 2 2 1 2 4 2 0 2-4 2 0 2 1 2-3 2 3 2-5 2 1 2-3 2 3 2-3 2-2 2-1 2 1 2 0 2-2 2-1 2-3 2 0 2 0 2 0 2 4 2-6 2 4 2-2 2-2 2 2 2 0 2-2 2 2 2 0 2 2 2-2 2 3 2-2 2 6 2-6 2 3 2 2 2-1 2 0 2 2 2 0 2-2 2 4 2-4 2 3 2 2 2-2 2-1 2 1 2 0 2 0 2-1 2 1 2-1 2-2 2-2 2-1 2-1 2 0 2 2 2-2 2 0 2-3 2 2 2-2 2 0 2 2 2-7 2 1 2 7 2-3 2-3 2-1 2-1 2 3 2 5 2-7 2 5 2 1 2-3 2 2 2 0 2 1 2 1 2-1 2 0 2-2 2 0 2 3 2-1 2 2 2 0 2 1 2-4 2 2 2-1 2 1 2-1 2-1 2 0 2 4 2-1 2 0 2-1 2 0 2 3 2-4 2-1 2 0 2 3 2 0 2 2 2-1 2-2 2 4 2-3 2 1 2 3 2 0 2-2 2-2 2 3 2-2 2 2 2 1 2-1 2-1 2 2 2-4 2 5 2-1 2 3 2 1 2-3 2-2 2 1 2 0 2-3 2 2 2-2 2 0 2 1 2-1 2 3 2-5 2 2 2 2 2-2 2 2 2-2 2 1 2 0 2 0 2 3 2-4 2 2 2 0 2 0 2-2 2 2 2 1 2 0 2 1 2-3 2 2 2 2 2-4 2 3 2-1 2-4 2 3 2-3 2 4 2-1 2 1 2-1 2 0 2 1 2 1 2-4 2 0 2 2 2 1 2-3 2-5 2 4 2 1 2-6 2 3 2 0 2-3 2 1 2 2 2-3 2 1 2-3 2 1 2-1 2 1 2 0 2-1 2 3 2-4 2 3 2-1 2 0 2 0 2 0 2 0 2 1 2-3 2 1 2 2 2-1 2 2 2 0 2 3 2-5 2 2 2 4 2-1 2 0 2-1 2 1 2 2 2-2 2 2 2-1 2 2 2 2 2 0 2 1 2 5 2-3 2 2 2 1 2 0 2 0 2 5 2 2 2-2 2 3 2 0 2 1 2 1 2-2 2 6 2-5 2 5 2-3 2 2 2 1 2-2 2-3 2 0 2 2 2 2 2-5 2 0 2 2 2-5 2 3 2-2 2 0 2-3 2-1 2-1 2 0 2 2 2-4 2 5 2-8 2 2 2-1 2 0 2-3 2 4 2-7 2 5 2-2 2 1 2 0 2 0 2 0 2 1 2-4 2 7 2-6 2 1 2 4 2-1 2-3 2 0 2-1 2 3 2-6 2 4 2-2 2-3 2 2 2-2 2 3 2-2 2-1 2 3 2-4 2-2 2 2 2-4 2 3 2-4 2 1 2-5 2-2 2 0 2-3 2 3 2-4 2 1 2 2 2-4 2 3 2-4 2 0 2 1 2 2 2-2 2 1 2 0 2-2 2 4 2-5 2 6 2-4 2 1 2 4 2-4 2 7 2 1 2-3 2 1 2 4 2 2 2-1 2-1 2 1 2 1 2 1 2 1 2 2 2-4 2 3 2-3 2 7 2-5 2 2 2-1 2 4 2-4 2 0 2 2 2 2 2-1 2-1 2 3 2-3 2 4 2-1 2 1 2 0 2 0 2-1 2-1 2 0 2 1 2-3V1462" stroke="#77AC30"/><path d="M248 1486l2-3 2-2 2-4 2-2 2-4 2-3 2-3 2-2 2-5 2-2 2-4 2-1 2-3 2-3 2-1 2-2 2-4 2-2 2-2 2-3 2-1 2-3 2-2 2-1 2-2 2-3 2-1 2-2 2-2 2-1 2-2 2-2 2-2 2-2 2-1 2-3 2-1 2-2 2-2 2-2 2-1 2-2 2-2 2-1 2-4 2-1 2-2 2-2 2-2 2-2 2-2 2-2 2-2 2-3 2-2 2-2 2-3 2-2 2-2 2-4 2-2 2-1 2-2 2-4 2-2 2-2 2-3 2-1 2-4 2 0 2-4 2-1 2-4 2-1 2-3 2-2 2-2 2-2 2-1 2-3 2-4 2-1 2-2 2-1 2-3 2-4 2-1 2-2 2-4 2-1 2-3 2-3 2-2 2-2 2-3 2-2 2-3 2-2 2-3 2-3 2-4 2-3 2-3 2-2 2-3 2-6 2-1 2-4 2-4 2-4 2-4 2-4 2-4 2-5 2-4 2-5 2-4 2-4 2-6 2-4 2-4 2-5 2-5 2-5 2-6 2-4 2-5 2-5 2-4 2-5 2-5 2-5 2-6 2-5 2-3 2-6 2-5 2-4 2-5 2-5 2-6 2-7 2-5 2-7 2-9 2-7 2-7 2-8 2-8 2-8 2-9 2-10 2-10 2-9 2-10 2-12 2-11 2-11 2-15 2-12 2-16 2-15 2-13 2-1 2 0 2-1 2-1 2 0 2 2 2-2 2-4 2 1 2-2 2-3 2 0 2-3 2-2 2-2 2 2 2-4 2 0 2-2 2 0 2-2 2-1 2-1 2 0 2 3 2-3 2 4 2-4 2 4 2 2 2 2 2 3 2 1 2-2 2 6 2 5 2-2 2 4 2 5 2 1 2 0 2 4 2 2 2 4 2 2 2 5 2 5 2-1 2 1 2 3 2 5 2 1 2 0 2 6 2 1 2-1 2 0 2 7 2-2 2 0 2 3 2 1 2 2 2 1 2 1 2 1 2 0 2-2 2 2 2 3 2 2 2-1 2-1 2 1 2 4 2 1 2 1 2-3 2 1 2 2 2 2 2 2 2-3 2 3 2 0 2 0 2 2 2 4 2-4 2 0 2 0 2 4 2-4 2 5 2 1 2 1 2 1 2 0 2-2 2-1 2 3 2 1 2 0 2-1 2 1 2-1 2 2 2-1 2 1 2-2 2 1 2-1 2-1 2 4 2 1 2 0 2-5 2 2 2 0 2 2 2-1 2 1 2 0 2-1 2 0 2 2 2-3 2 2 2 1 2 2 2 0 2-1 2-3 2 5 2 0 2-3 2 4 2-1 2-1 2-2 2 7 2-4 2 3 2-1 2 2 2-1 2 1 2 1 2 3 2-5 2 2 2-2 2 4 2 0 2-1 2-1 2 1 2-1 2 2 2-3 2 2 2 1 2 0 2 3 2-1 2-2 2-2 2 5 2-1 2 1 2 1 2 3 2 0 2-1 2 2 2 0 2-3 2 5 2 2 2-2 2 4 2-2 2 2 2 0 2 4 2-4 2 3 2-1 2 3 2 0 2 5 2-4 2-1 2 4 2-2 2 3 2 0 2-4 2 4 2 0 2 2 2-1 2 6 2-6 2 2 2 2 2-2 2-2 2 3 2-2 2 2 2 1 2-1 2 1 2-3 2 4 2 1 2-2 2 1 2-1 2 1 2 2 2-2 2 2 2-2 2 3 2-3 2 2 2-5 2 7 2-2 2 2 2-1 2-2 2 2 2-1 2 2 2-5 2 4 2-1 2-4 2 3 2 2 2-4 2 0 2-3 2 0 2 3 2-3 2-2 2 2 2-1 2-2 2 0 2-2 2-1 2 1 2 1 2-4 2 5 2 0 2-8 2 5 2 0 2-1 2-1 2 0 2 0 2-1 2 1 2-2 2 2 2 3 2 0 2-4 2 3 2-2 2 2 2-2 2 2 2-3 2 4 2-3 2 1 2 0 2 1 2-2 2 1 2-1 2 2 2 1 2-3 2 1 2-2 2 2 2 2 2 0 2-1 2 4 2-6 2 0 2 5 2-1 2-1 2 4 2-1 2 0 2 1 2-3 2 0 2 2 2-4 2 2 2 4 2-6 2 1 2-1 2-1 2 4 2-2 2-2 2 3 2-8 2 6 2 0 2-1 2-2 2 3 2-1 2-3 2 5 2-1 2-2 2 3 2-1 2 1 2-1 2-2 2 3 2 2 2 2 2-5 2 6 2-1 2-1 2 4 2-4 2 0 2 1 2 0 2 4 2-1 2 0 2-1 2 0 2-1 2 1 2 5 2 0 2-2 2-2 2 2 2 2 2-2 2 4 2-2 2-2 2 2 2-1 2 3 2-1 2 0 2 2 2 1 2-1 2-2 2 3 2-3 2 1 2 1 2 2 2-3 2 3 2-5 2 1 2-3 2 3 2-3 2 2 2-5 2 2 2-2 2 1 2-3 2 1 2-2 2-2 2-4 2 2 2 0 2 0 2-4 2 1 2 1 2-3 2 0 2 0 2-1 2 1 2 1 2 4 2-4 2 3 2-1 2 1 2 2 2-2 2 8 2 5 2-6 2 2 2 0 2 6 2-2 2-3 2 3 2 2 2 7 2-2 2 0 2 2 2-1 2 0 2 1 2-2 2 4 2-3 2 6 2-3 2 1 2-2 2 4 2-4 2 4 2-3 2 3 2 1 2 0 2 0 2-2 2-1 2 4 2-1 2-1 2 1 2-1 2 2 2-3 2 1 2 3 2 0 2-2 2-2 2 2 2 1 2-2 2 2 2-1 2 1 2-2 2 0 2 1 2-2 2 2 2-2 2 1 2 0 2-3 2 1 2-1 2 2 2-5 2 1 2 1 2-2 2 3 2-2 2 0 2-2 2 1 2-1 2-1 2 2 2 0 2-2 2 0 2 0 2 2 2 0 2 0 2-6 2 3 2 0 2 0 2 2 2-5 2 3 2 0 2-2 2 0 2-1 2-2 2 6 2-1 2 1 2-2 2-1 2 3 2-1 2 0 2 1 2-3 2 3 2-1 2-2 2 1 2-2 2 3 2-1 2 1 2 1 2 0 2 0 2-1 2-1 2 2 2 1 2 1 2-2 2 5 2-4 2 0 2-4 2 6 2-1 2 1 2 0 2-2 2 3 2-2 2 1 2 1 2-4 2 1 2 1 2 0 2-2 2 1 2 1 2 1 2-3 2 2 2 2 2-5 2 4 2 0 2-3 2 4 2-1 2 2 2-1 2-2 2 2 2-1 2-2 2 1 2 1 2-4 2 6 2-3 2 1 2-2 2-2 2 3 2-4 2 3 2 2 2-3 2 0 2-2 2 2 2 0 2-3 2 3 2 0 2 0 2 2 2-2 2-1 2-3 2 4 2 2 2-4 2 0 2 2 2-4 2 3 2 0 2 3 2-1 2 3 2 2 2-4 2 1 2-1 2 3 2-1 2 0 2 1 2-3 2 2 2 0 2 3 2-1 2 1 2 3 2 1 2-3 2 0 2 1 2 1 2 1 2-2 2 2 2 3 2 1 2-3 2 3 2-3 2 3 2-1 2 1 2 0 2 0 2 2 2-3 2 0V1462" stroke="#D95319"/><path d="M248 1483l2-2 2-4 2-2 2-3 2-4 2 0 2-4 2-2 2-3 2-3 2-3 2-2 2-3 2-2 2-2 2-1 2-3 2-3 2-1 2-3 2-1 2-3 2-2 2-1 2-2 2-3 2-1 2-1 2-3 2-2 2-1 2-3 2-2 2-1 2-2 2-2 2-1 2-2 2-2 2-2 2-1 2-1 2-2 2-2 2-3 2 0 2-2 2-2 2-3 2 0 2-3 2-2 2-1 2-2 2-3 2-1 2-1 2-4 2-1 2-3 2-2 2-2 2-1 2-3 2-3 2-2 2-2 2-2 2-2 2-2 2-3 2-2 2-3 2-1 2-2 2-3 2-3 2-3 2-1 2-3 2-2 2-3 2-2 2-3 2-2 2-3 2-3 2-2 2-2 2-4 2-1 2-3 2-3 2-2 2-4 2-3 2-4 2-1 2-2 2-4 2-3 2-3 2-2 2-3 2-5 2-4 2-1 2-5 2-4 2-3 2-4 2-4 2-5 2-4 2-4 2-3 2-4 2-6 2-4 2-5 2-5 2-4 2-5 2-4 2-4 2-5 2-5 2-4 2-6 2-4 2-4 2-6 2-5 2-3 2-4 2-6 2-5 2-5 2-4 2-5 2-5 2-5 2-6 2-6 2-6 2-9 2-6 2-9 2-8 2-8 2-7 2-11 2-9 2-9 2-11 2-10 2-11 2-11 2-11 2-13 2-13 2-15 2-14 2-7 2-2 2-1 2 1 2 0 2-2 2-3 2 0 2 0 2-2 2-3 2 1 2-3 2-4 2 2 2-1 2-2 2 0 2-1 2-3 2 2 2 0 2-4 2-2 2 2 2-1 2-1 2-1 2 7 2-2 2 2 2 2 2-1 2 3 2 2 2 2 2 2 2 0 2 7 2-1 2 5 2 3 2 3 2 1 2 1 2 3 2 6 2 0 2 7 2 4 2-2 2 1 2 3 2 3 2 5 2-3 2 2 2-3 2 6 2-1 2-1 2 0 2 4 2-2 2 1 2 0 2 4 2-5 2 6 2-2 2 0 2 3 2-2 2 2 2 0 2 0 2 1 2 2 2 3 2-4 2 3 2 1 2 5 2-3 2 0 2 4 2 0 2 2 2 3 2-1 2-2 2-1 2 7 2 2 2 1 2-2 2 0 2 2 2 1 2-1 2 2 2-3 2 3 2 1 2-2 2 4 2 0 2-1 2-2 2 0 2 2 2 0 2 1 2 0 2 2 2-5 2 4 2-3 2-1 2 3 2-3 2-1 2 2 2 1 2-1 2 2 2-2 2 1 2-2 2 0 2-3 2 2 2 1 2 0 2 0 2 4 2-6 2 2 2-1 2 3 2-1 2 0 2 3 2 1 2 0 2-1 2-1 2 3 2-1 2 1 2 0 2 3 2 2 2 0 2-1 2 2 2 1 2-3 2 2 2 1 2 2 2-2 2 0 2 3 2 0 2 0 2 3 2 1 2-3 2 4 2-6 2 5 2 0 2-2 2 1 2 2 2 0 2 1 2-2 2 1 2 2 2 0 2 1 2 0 2 2 2-1 2-1 2 2 2 4 2-3 2-1 2 1 2 1 2 2 2 0 2 1 2-1 2 0 2 4 2-1 2 0 2-3 2 3 2 0 2-2 2-2 2 5 2-3 2 6 2-8 2 2 2 2 2 0 2-6 2 4 2-2 2 0 2 4 2-5 2 0 2 0 2-2 2-2 2 5 2-4 2-3 2 4 2-3 2 2 2 1 2 0 2 0 2-1 2-6 2 4 2 0 2-2 2 2 2-1 2 2 2-3 2-1 2 2 2 0 2 2 2-2 2 2 2-1 2 4 2-1 2-2 2-1 2-1 2 1 2 0 2 2 2 0 2 0 2 3 2-3 2-2 2 3 2-1 2 2 2 0 2-2 2-2 2 5 2-3 2 2 2-3 2-1 2 2 2 2 2-5 2 0 2 5 2-2 2 4 2-5 2 1 2 2 2-2 2 1 2 4 2-2 2-1 2 3 2 2 2 0 2-2 2 3 2 0 2 6 2-3 2 0 2 3 2 0 2 5 2-3 2 1 2 1 2 3 2-1 2 1 2-1 2-2 2 2 2-2 2 1 2-1 2 0 2-1 2 4 2-3 2 0 2 2 2-3 2 2 2-1 2-3 2 3 2 0 2-4 2 0 2-1 2 0 2 1 2 1 2 0 2 1 2-6 2 5 2-1 2 0 2-4 2 3 2 1 2-1 2 5 2-6 2 4 2-4 2 6 2-1 2 1 2-2 2 0 2 0 2 2 2-2 2 0 2 4 2-1 2-1 2-1 2 1 2-2 2 2 2-2 2 0 2 1 2 2 2-4 2-1 2 4 2 3 2-1 2-4 2 4 2-1 2 1 2-3 2 4 2 0 2-2 2 1 2 1 2 2 2 1 2-1 2 1 2-1 2 5 2 0 2-2 2 0 2 2 2 0 2 1 2-2 2 3 2 1 2-2 2 4 2-5 2 0 2 2 2-2 2 0 2 2 2-5 2 1 2 0 2 1 2-2 2 2 2-3 2 3 2 0 2 0 2-3 2 0 2 2 2-3 2 2 2 2 2-2 2 2 2 0 2-1 2-1 2 1 2-2 2 4 2-2 2 2 2-1 2 1 2 1 2-2 2 2 2-3 2 2 2-1 2 0 2 2 2-2 2-3 2 3 2 1 2-2 2-1 2 1 2 3 2-3 2-1 2 2 2-2 2-1 2 0 2 0 2-2 2-2 2-1 2 4 2-2 2-3 2 3 2-2 2-3 2 1 2 2 2 0 2-2 2-3 2-4 2 5 2-1 2 2 2 2 2-1 2-4 2 0 2 2 2-3 2 3 2 2 2-2 2 1 2-2 2 2 2-1 2 1 2 0 2 1 2 0 2-1 2 1 2-2 2 0 2 4 2 0 2 1 2 1 2 1 2-2 2 4 2-3 2 5 2 0 2 5 2-3 2 2 2 0 2 2 2 4 2-4 2 3 2 2 2 2 2-1 2 0 2 0 2 0 2-1 2 0 2 3 2-3 2 0 2-2 2 2 2-2 2-1 2-1 2 4 2-3 2 0 2-2 2 1 2-3 2 0 2-5 2 3 2 1 2 1 2-4 2 2 2-1 2 0 2-2 2 0 2 4 2-3 2 1 2 0 2-3 2 3 2-1 2 2 2-3 2 1 2 2 2 0 2-4 2 5 2-1 2 0 2 1 2-2 2 1 2 3 2-5 2 2 2 2 2 1 2-1 2-2 2 2 2-4 2 4 2-2 2 1 2-1 2-3 2 4 2-2 2-2 2-1 2 0 2-2 2 4 2-4 2 3 2-1 2-2 2 3 2-4 2-2 2 4 2-1 2-1 2-1 2 2 2-4 2 5 2-6 2 2 2-1 2 6 2-4 2 2 2 2 2-3 2 1 2-1 2 0 2 1 2 0 2 3 2-1 2 0 2-1 2 2 2 0 2 0 2 0 2 0 2 2 2-1 2 0 2 0 2 3 2-5 2 3 2 0 2 1 2 0 2 0 2 1 2 0 2 0 2-4 2 5 2 2 2-2 2 3 2-2 2 1 2 1 2 2 2-4 2 1 2 5 2-1 2 1 2-2 2 0V1462" stroke="#EDB120"/><path d="M248 1488l2-3 2-3 2-4 2-3 2-3 2-2 2-2 2-3 2-3 2-2 2-3 2-3 2-2 2-2 2-4 2-1 2-4 2-2 2-2 2-2 2-1 2-3 2-2 2-1 2-3 2-2 2-2 2-3 2-1 2-2 2-2 2-3 2 0 2-2 2-2 2-2 2-1 2-2 2-4 2-1 2-1 2-2 2-1 2-3 2 0 2-3 2-2 2-2 2-2 2-2 2-1 2-3 2-2 2-1 2-2 2-3 2-1 2-2 2-2 2-3 2-2 2-2 2-2 2-1 2-3 2-4 2 0 2-3 2-3 2-1 2-2 2-2 2-3 2-1 2-4 2-2 2-1 2-3 2-3 2-2 2 0 2-2 2-4 2-1 2-4 2-1 2-3 2-2 2-2 2-3 2-3 2-2 2-2 2-3 2-2 2-2 2-4 2-3 2-1 2-4 2-3 2-1 2-6 2-2 2-3 2-4 2-2 2-5 2-4 2-2 2-5 2-5 2-5 2-3 2-3 2-5 2-5 2-3 2-7 2-3 2-5 2-5 2-5 2-5 2-5 2-5 2-5 2-6 2-4 2-4 2-5 2-5 2-6 2-4 2-6 2-5 2-3 2-7 2-5 2-4 2-4 2-6 2-6 2-7 2-5 2-7 2-8 2-7 2-8 2-8 2-9 2-8 2-9 2-9 2-9 2-10 2-12 2-11 2-11 2-4 2-1 2 1 2 0 2-2 2 0 2 1 2-2 2-2 2-1 2 0 2-2 2-1 2-2 2-3 2-1 2-2 2-4 2 0 2-4 2-2 2 0 2-1 2 1 2-6 2 1 2-2 2 1 2 1 2 1 2 3 2 0 2 3 2 1 2 2 2 3 2 0 2 3 2 2 2 0 2 4 2 2 2 4 2 1 2 2 2 6 2-3 2 8 2 1 2 3 2 3 2-3 2 6 2 1 2 3 2 0 2 1 2 1 2 0 2 0 2 1 2 3 2-4 2 2 2 1 2 0 2 0 2-1 2 3 2 1 2-1 2 4 2-1 2 1 2 4 2-1 2 1 2 5 2-3 2 4 2 1 2-1 2 1 2 3 2 2 2 0 2 4 2 0 2 2 2-2 2 4 2 0 2 3 2-2 2 2 2 3 2-2 2 4 2 1 2-3 2 3 2 0 2 0 2 4 2-5 2 3 2-1 2 2 2 0 2 1 2-2 2-1 2 1 2 3 2-6 2 4 2 0 2 2 2 1 2 0 2 2 2-4 2 1 2 0 2 1 2 1 2 2 2 2 2 2 2-5 2 0 2-1 2 3 2 3 2-6 2 0 2 4 2 0 2 1 2-4 2 1 2 2 2 0 2-1 2 0 2-2 2 3 2 0 2-2 2-1 2 1 2 0 2-2 2 2 2-1 2-1 2 2 2 1 2-1 2-2 2 2 2 5 2-2 2 1 2 1 2 4 2-4 2 1 2 0 2 1 2 1 2-2 2 1 2 0 2 4 2 0 2-5 2-1 2 3 2 1 2-2 2-3 2 2 2 1 2-1 2 0 2-6 2 4 2 0 2-4 2 3 2-4 2-1 2 5 2-1 2-2 2 1 2-2 2 2 2 0 2-2 2 0 2-3 2 2 2-1 2 2 2 1 2-3 2-2 2 1 2 1 2 2 2-3 2 1 2 0 2-3 2 1 2-2 2 0 2 0 2 0 2 0 2 0 2-2 2 1 2 4 2-3 2 3 2-2 2-1 2 0 2 4 2-3 2 1 2 4 2 2 2-4 2 2 2 1 2 5 2-2 2-1 2 4 2 0 2 3 2-1 2 1 2 1 2 0 2 4 2-1 2 5 2-1 2 0 2 0 2 2 2-1 2 2 2 0 2 2 2-1 2-1 2 2 2 0 2-2 2 6 2-5 2 5 2-3 2-1 2 3 2 0 2-3 2-2 2 2 2-1 2 1 2 0 2-3 2 1 2 1 2-3 2 1 2 0 2-2 2 1 2-3 2 5 2-2 2-1 2 1 2-3 2 2 2-2 2 1 2-4 2 3 2-1 2 3 2-4 2 1 2-2 2-1 2 2 2 0 2 0 2 0 2-4 2 4 2-3 2 6 2-4 2-1 2 0 2 2 2-5 2 3 2 4 2-5 2 4 2-5 2 1 2 2 2-2 2 1 2-3 2 1 2 1 2 0 2 4 2-2 2-1 2 0 2 0 2-1 2 4 2-2 2-1 2 0 2 2 2-2 2-1 2 3 2 0 2 1 2-4 2 2 2 3 2-4 2 1 2 0 2 5 2-3 2 3 2 0 2-1 2-2 2-1 2 2 2 3 2-2 2 0 2 0 2 2 2 1 2-2 2 5 2-2 2 0 2 3 2 0 2 0 2-1 2-1 2 0 2-2 2 1 2 0 2-2 2 3 2 0 2-2 2 4 2-4 2-1 2-1 2 0 2-3 2 2 2-1 2 0 2 0 2 4 2-2 2-3 2 2 2 4 2-4 2 1 2 4 2 1 2-1 2-3 2 2 2-2 2 3 2-1 2 2 2 1 2-1 2 0 2 1 2 0 2 2 2 0 2 1 2 0 2-4 2 2 2-2 2 3 2-2 2-1 2 0 2 2 2 2 2-2 2-1 2 2 2 3 2-2 2 1 2-4 2 3 2 1 2-1 2 2 2 5 2-4 2 1 2 0 2 2 2-2 2 1 2 1 2 2 2-2 2 3 2-1 2 4 2-1 2 1 2-3 2 1 2 1 2-2 2-1 2-2 2 0 2-3 2 0 2 1 2-4 2 1 2-4 2 4 2-4 2-2 2-1 2 3 2-1 2-4 2 1 2-2 2 3 2 0 2-2 2-2 2 2 2-1 2 1 2 1 2 3 2-2 2 1 2-2 2 3 2 3 2-2 2 0 2-1 2 2 2 6 2-3 2-3 2 5 2-1 2 3 2-6 2 5 2-1 2-1 2 2 2-3 2 5 2-6 2 4 2 2 2-2 2 2 2 1 2 1 2 2 2 0 2 0 2 0 2 2 2 2 2 1 2 0 2 3 2-3 2 3 2 1 2-1 2 0 2 3 2 3 2-1 2-2 2 0 2 0 2 2 2-1 2 0 2-5 2 2 2-2 2 3 2-8 2 1 2 0 2 1 2-3 2-1 2 2 2-5 2 2 2 0 2 0 2 1 2-4 2 0 2 0 2 4 2-2 2 2 2 0 2-2 2 2 2 1 2 1 2 2 2 0 2 1 2 1 2 4 2-4 2-1 2 7 2 1 2-5 2 3 2 2 2 0 2-1 2 1 2-1 2 4 2 0 2-3 2 1 2 2 2-4 2-1 2 0 2 1 2-2 2 1 2-2 2 0 2-3 2 4 2-1 2 1 2-6 2 0 2 3 2 0 2-4 2 1 2-1 2 1 2 1 2 1 2-1 2 1 2-2 2 2 2-4 2 2 2-3 2 5 2-3 2 2 2 0 2-2 2 2 2-5 2 3 2-4 2 3 2 4 2-3 2 0 2 1 2 0 2-1 2 1 2 1 2-3 2-1 2-1 2 3 2-1 2-1 2-2 2 3 2-5 2 3 2-5 2 2 2 0 2-1 2 5V1462" stroke="#77AC30"/><path d="M248 1489l2-3 2-3 2-4 2-2 2-2 2-3 2-2 2-3 2-4 2-3 2-2 2-3 2-3 2-2 2-3 2-3 2-1 2-2 2-3 2-2 2-1 2-3 2-2 2-3 2-1 2-2 2-2 2-3 2-1 2-1 2-3 2-1 2-4 2-2 2 0 2-2 2-2 2-1 2-3 2 0 2-3 2-1 2-3 2 0 2-2 2-2 2-1 2-2 2-2 2-1 2-3 2-1 2-2 2-2 2-2 2-2 2-1 2-3 2-2 2-2 2-3 2-2 2-2 2-2 2-2 2-3 2-2 2-4 2-1 2-2 2-2 2-3 2-1 2-5 2-1 2-3 2-2 2-3 2-2 2-2 2-1 2-4 2-2 2-2 2-2 2-2 2-2 2-3 2-2 2-2 2-2 2-3 2-3 2-1 2-3 2-3 2-1 2-3 2-3 2-3 2-3 2-3 2-2 2-4 2-3 2-2 2-5 2-2 2-4 2-4 2-2 2-5 2-4 2-3 2-5 2-4 2-4 2-5 2-4 2-6 2-5 2-4 2-4 2-5 2-6 2-3 2-7 2-5 2-4 2-5 2-5 2-7 2-4 2-4 2-6 2-5 2-4 2-5 2-5 2-5 2-4 2-7 2-6 2-5 2-6 2-7 2-6 2-8 2-9 2-7 2-9 2-8 2-9 2-9 2-8 2-10 2-11 2-10 2-11 2-10 2-5 2 1 2-1 2 0 2 1 2-1 2 0 2-1 2 0 2 1 2-3 2 1 2-3 2 0 2-3 2-2 2 1 2-2 2 0 2-1 2-3 2-1 2 0 2-5 2 5 2-6 2 4 2 0 2-1 2 0 2 1 2-2 2 3 2 2 2 1 2 1 2 6 2-2 2 3 2 6 2-2 2 8 2 1 2 2 2 3 2 1 2 1 2 4 2 8 2-2 2 3 2 3 2 1 2 5 2 0 2 2 2 0 2 3 2 4 2-2 2 1 2 2 2 0 2-1 2 0 2 3 2 2 2 2 2 0 2 2 2-3 2 3 2-2 2 2 2 2 2-4 2 5 2-2 2 3 2 0 2 0 2 0 2 1 2 3 2-2 2 4 2-1 2 0 2-1 2 7 2-4 2 0 2 2 2-2 2 3 2 0 2-2 2-2 2 2 2 0 2-1 2 3 2-1 2 1 2-1 2 1 2-1 2 2 2-1 2-1 2 4 2-4 2 2 2 0 2 1 2-3 2 5 2-2 2 1 2 0 2 1 2 0 2 3 2-5 2 2 2 1 2 3 2-2 2 3 2 2 2-1 2-1 2 0 2 5 2-3 2 4 2 0 2 0 2 0 2 1 2 1 2 2 2 3 2 1 2-4 2 3 2-2 2 2 2 3 2-3 2 0 2 2 2 2 2-1 2 0 2-2 2-1 2-3 2 4 2 0 2 0 2-3 2 1 2-1 2 0 2 1 2-1 2 2 2-3 2-3 2 3 2 2 2-2 2-3 2 5 2-3 2-3 2 4 2-2 2 1 2 2 2 0 2-1 2-3 2 4 2-1 2 1 2 1 2-1 2-3 2 3 2 0 2-3 2 5 2 0 2-2 2 0 2 0 2 3 2-1 2 2 2-4 2 3 2-1 2 1 2 2 2-1 2-1 2 4 2-2 2-3 2 5 2-2 2 0 2-2 2 1 2 1 2 0 2 2 2 2 2-3 2 4 2-3 2 2 2-3 2 4 2 1 2-2 2 2 2-2 2 5 2-3 2 3 2-2 2 1 2 1 2-2 2 2 2 0 2-2 2 1 2 1 2 1 2-2 2 0 2 1 2-2 2 0 2-1 2 1 2 0 2-3 2 2 2-3 2 0 2 2 2 1 2-4 2 0 2-1 2 1 2-2 2-3 2 3 2 5 2-5 2-1 2 0 2-2 2 0 2 1 2 0 2-1 2-1 2 1 2 2 2-2 2 1 2 1 2 0 2-1 2 0 2 1 2 2 2 1 2-1 2 0 2-2 2 4 2 1 2-3 2 4 2 1 2-1 2-1 2 5 2-4 2 1 2 5 2-3 2 3 2-4 2 2 2-2 2 2 2 0 2-1 2 2 2-2 2 3 2-3 2 0 2-2 2 0 2 2 2-2 2 2 2-1 2 2 2-1 2-3 2 3 2-1 2-3 2 4 2-4 2-1 2-3 2 4 2-2 2-2 2 3 2-3 2-2 2 5 2-3 2-4 2 6 2 0 2-2 2 0 2-1 2 0 2-2 2 2 2 2 2-3 2 1 2 1 2-2 2-4 2-1 2 2 2 0 2-5 2 1 2 1 2 0 2 1 2-3 2 2 2-1 2-1 2-1 2 4 2 0 2-1 2 0 2 3 2 1 2-4 2 5 2-1 2 3 2 1 2 2 2-3 2 0 2 1 2-1 2 3 2 2 2-2 2 0 2 1 2 0 2 1 2 0 2-3 2 2 2 1 2-1 2 3 2-1 2 1 2-1 2-2 2 1 2-2 2 2 2 0 2 0 2 3 2 0 2-2 2 0 2 2 2 3 2-1 2 2 2-1 2 1 2 1 2 3 2-2 2 3 2 0 2 0 2-3 2-2 2 2 2 3 2-2 2-2 2 5 2-5 2 0 2-1 2 1 2-1 2-1 2-2 2-3 2 5 2-1 2 2 2 0 2 1 2-2 2 2 2-3 2 1 2 3 2 0 2-4 2 3 2 0 2-2 2 6 2-1 2-1 2 1 2-4 2 10 2-4 2 1 2-1 2 2 2-2 2 4 2-6 2 3 2-1 2-4 2 2 2-3 2 0 2 2 2-2 2 2 2-8 2 2 2 2 2-3 2 1 2-1 2-2 2-1 2-4 2 2 2-1 2-1 2 0 2-1 2 2 2-1 2-2 2 0 2 2 2-1 2 0 2 0 2-3 2 5 2-3 2 2 2 2 2 1 2-4 2 0 2 3 2 0 2-3 2 3 2 1 2-1 2 2 2 0 2-1 2-1 2 2 2-2 2 0 2-1 2-1 2 4 2-2 2 0 2-1 2-3 2 0 2 2 2 0 2 0 2-1 2 0 2-1 2 4 2-4 2 6 2-4 2 1 2 1 2 2 2-2 2 1 2 2 2-2 2-3 2 5 2 1 2-2 2 3 2-5 2 6 2-5 2 4 2-1 2 0 2-3 2 2 2 1 2-2 2 0 2 2 2-1 2 1 2-2 2-4 2 2 2 1 2-1 2 2 2-5 2 2 2-3 2 1 2 0 2 1 2-4 2 0 2 2 2-1 2 1 2-2 2 1 2 1 2 0 2-2 2 0 2 1 2 2 2-2 2 3 2 0 2 2 2-1 2-3 2 0 2 0 2 1 2 0 2 0 2 1 2 2 2 1 2-4 2 2 2-3 2 4 2-1 2 3 2 0 2 0 2-5 2 4 2 1 2 0 2-2 2 5 2-4 2 1 2 1 2 1 2-1 2 3 2-1 2 1 2-2 2 1 2 3 2-3 2 4 2-5 2 3 2-1 2 0 2 1 2 0 2 1 2-5 2 3 2-1 2 3 2 1 2-4 2 2 2 2 2-3 2 2 2 1 2-3 2 2 1-1V1462" stroke="#4DBEEE"/><path d="M248 1492l2-2 2-3 2-2 2-5 2-1 2-4 2-3 2-3 2-2 2-4 2-3 2-3 2-3 2-2 2-3 2-2 2-2 2-1 2-4 2-2 2-1 2-2 2-4 2-1 2-2 2-2 2-2 2-2 2-3 2-1 2-2 2-1 2-3 2-2 2-2 2-3 2 0 2-2 2-2 2-2 2-2 2-2 2-2 2-1 2-3 2-1 2-3 2-1 2-2 2-2 2-2 2-2 2-2 2-1 2-3 2-2 2-3 2-2 2 0 2-3 2-2 2-2 2-2 2-3 2-2 2-1 2-2 2-3 2-1 2-3 2-2 2-2 2-3 2 0 2-4 2-2 2-1 2-3 2-1 2-3 2-3 2-3 2-2 2-1 2-3 2-3 2-4 2 1 2-4 2-3 2 0 2-4 2-3 2-2 2-3 2-3 2-2 2-2 2-3 2-5 2-1 2-2 2-4 2-3 2-4 2-2 2-4 2-3 2-2 2-4 2-5 2-2 2-5 2-4 2-4 2-4 2-4 2-5 2-4 2-4 2-4 2-6 2-4 2-6 2-5 2-5 2-5 2-5 2-4 2-5 2-5 2-6 2-4 2-5 2-5 2-4 2-5 2-5 2-5 2-5 2-4 2-6 2-6 2-4 2-7 2-7 2-6 2-7 2-8 2-9 2-6 2-10 2-9 2-8 2-9 2-10 2-10 2-10 2-12 2-11 2-4 2-1 2-2 2 1 2 0 2 0 2-3 2 0 2-2 2-1 2-2 2-1 2-2 2 1 2-2 2-3 2-3 2-2 2-1 2-1 2-2 2 0 2-1 2 0 2-2 2 1 2 4 2-4 2 5 2-2 2 3 2 1 2 2 2 1 2 0 2 4 2 5 2-1 2 6 2 5 2-1 2 5 2 2 2 2 2 3 2 7 2 4 2 0 2 5 2 3 2 3 2-1 2 6 2 2 2 0 2 3 2 2 2 1 2 3 2 0 2 0 2 2 2-4 2 2 2 0 2 0 2 4 2-3 2 3 2-1 2-4 2 2 2 0 2 3 2 4 2-2 2-1 2 2 2 5 2-1 2-1 2 2 2-1 2 6 2 1 2-3 2 4 2 0 2 0 2 2 2-1 2 3 2-3 2 2 2 2 2-1 2 1 2 0 2 1 2 2 2-1 2-2 2 2 2-3 2 1 2 1 2 1 2-2 2 1 2 0 2 2 2-3 2-2 2 1 2 1 2 2 2-1 2 1 2 2 2-1 2-3 2 2 2 2 2 1 2 0 2 0 2 1 2 2 2-1 2 2 2 0 2-2 2-1 2 2 2 2 2-2 2 3 2-1 2 0 2 5 2-4 2 1 2 5 2-1 2-3 2 2 2-1 2 2 2 0 2-5 2 6 2 1 2-1 2 0 2 1 2 2 2 0 2 1 2 1 2 1 2 1 2 1 2 3 2-3 2 1 2-1 2 8 2-4 2 3 2-1 2-3 2 2 2-2 2 2 2-2 2-2 2 1 2-1 2-4 2 2 2-4 2 3 2-4 2 0 2-2 2-3 2-2 2 1 2-3 2-1 2-2 2 2 2-1 2-4 2 1 2 0 2 0 2-7 2 7 2-1 2-1 2 1 2-2 2 1 2-2 2 0 2 2 2 2 2-1 2-2 2 2 2-1 2 2 2 6 2-6 2-1 2 4 2-1 2-2 2 1 2 0 2 0 2 1 2-1 2 1 2 3 2 1 2 0 2-1 2 1 2 1 2-1 2 4 2-2 2 0 2 1 2 5 2-2 2 0 2 0 2 0 2-1 2 2 2-1 2 4 2-2 2-3 2 5 2-1 2 1 2 2 2-1 2 2 2 1 2 0 2-2 2 2 2-3 2 1 2 0 2-1 2 0 2 4 2-1 2-1 2-5 2 5 2 1 2-1 2-1 2-1 2-1 2 1 2-3 2 3 2-5 2 3 2 2 2-5 2 3 2-4 2-2 2 1 2-3 2-1 2 2 2 0 2-1 2 3 2-3 2 0 2 5 2-6 2 2 2 3 2 0 2 0 2-1 2 3 2 1 2-1 2 1 2 2 2 0 2 5 2-6 2 0 2 4 2 2 2-4 2 2 2 2 2-3 2 1 2 3 2-1 2 1 2-3 2 1 2-4 2 4 2-4 2 1 2-1 2-2 2-1 2 1 2-2 2 1 2-3 2 4 2-5 2 2 2 1 2 0 2-5 2 3 2 0 2 0 2-1 2 0 2 2 2 0 2-1 2 1 2 1 2 0 2 5 2-4 2 1 2 0 2 2 2 0 2 0 2 3 2 1 2-1 2 2 2 1 2 0 2 2 2 1 2 1 2-1 2 3 2 0 2 0 2 1 2-3 2 2 2 0 2 2 2-2 2-1 2 0 2-1 2-1 2 1 2-3 2-1 2-1 2 0 2 1 2-3 2-4 2 1 2 1 2-2 2-2 2-3 2 1 2-1 2-3 2 2 2-3 2 2 2 0 2 2 2-7 2 2 2 3 2-2 2 1 2 0 2 1 2-1 2 0 2 0 2 4 2-3 2 1 2-4 2 4 2-2 2 5 2-5 2 2 2 2 2 1 2-1 2-3 2 7 2-3 2 1 2-1 2 3 2 0 2-1 2 2 2-2 2 1 2 2 2-2 2 2 2 0 2-2 2 5 2-1 2-1 2 0 2 1 2-1 2-1 2 2 2 1 2 0 2-1 2 3 2 0 2-5 2 0 2 1 2 4 2 0 2-1 2 0 2 0 2 1 2-3 2 1 2 1 2 3 2-2 2 3 2-2 2 3 2-2 2 3 2-3 2 3 2 0 2 4 2-3 2 1 2 0 2 2 2-3 2 3 2 0 2 1 2-2 2 1 2-3 2 2 2 0 2 1 2-1 2-3 2 1 2-1 2-5 2 3 2-1 2-4 2 2 2 0 2 0 2-2 2 1 2-1 2 0 2-5 2 2 2 0 2-1 2-1 2 0 2 0 2-3 2 0 2-1 2-1 2 1 2 3 2-2 2 2 2-2 2 0 2-3 2 4 2 0 2-1 2 4 2-2 2 0 2 3 2 0 2-2 2 5 2-1 2 1 2-2 2 3 2 0 2 0 2 5 2-2 2-1 2-2 2 2 2 2 2 3 2-2 2-3 2 4 2-2 2 3 2-2 2 2 2-2 2 2 2 0 2-2 2-1 2 4 2-5 2 3 2 3 2-3 2-1 2 0 2-3 2-1 2 1 2-4 2-3 2 3 2 2 2-1 2 1 2-5 2 1 2 0 2 1 2 0 2 2 2-4 2 2 2-1 2-1 2 2 2 2 2-4 2 1 2 3 2 1 2 1 2 2 2-1 2 1 2 1 2-2 2 2 2 5 2-4 2 0 2 2 2 1 2-2 2 4 2-1 2-2 2 4 2-1 2-1 2-1 2 1 2 1 2-2 2 3 2-1 2-1 2 4 2-4 2 3 2-2 2 4 2 2 2-7 2 2 2 2 2 0 2 0 2-2 2 1 2-1 2 0 2 0 2-1 2 2 2-3 2-2 2 1 2-1 2 0 2 2 2-2 2-2 2 2 2 0 2-2 1-4V1462" stroke="#7E2F8E"/><path d="M248 1495l2-3 2-5 2-1 2-3 2-4 2-3 2-2 2-2 2-4 2-3 2-3 2-2 2-2 2-4 2-2 2-2 2-2 2-3 2-2 2-2 2-2 2-3 2-3 2-1 2-2 2-1 2-3 2-3 2 0 2-2 2-2 2-2 2-1 2-3 2-1 2-2 2-2 2-1 2-3 2 0 2-2 2-3 2-1 2-3 2-1 2-3 2-1 2-3 2-1 2-2 2-3 2-1 2-2 2-3 2-1 2-3 2-2 2-3 2-1 2-2 2-3 2-3 2-2 2-2 2-1 2-4 2-1 2-2 2-3 2-2 2-1 2-3 2-2 2-2 2-1 2-4 2-1 2-2 2-1 2-3 2-2 2-2 2-4 2 0 2-2 2-2 2-4 2-2 2-1 2-4 2-2 2-1 2-4 2-2 2-1 2-3 2-3 2-2 2-4 2-1 2-4 2-2 2-3 2-2 2-4 2-3 2-2 2-6 2-3 2-2 2-4 2-5 2-3 2-4 2-5 2-3 2-5 2-4 2-5 2-5 2-3 2-5 2-5 2-7 2-5 2-5 2-4 2-6 2-5 2-5 2-6 2-5 2-5 2-4 2-5 2-5 2-5 2-6 2-4 2-5 2-5 2-6 2-4 2-6 2-5 2-6 2-6 2-7 2-8 2-7 2-7 2-8 2-9 2-8 2-10 2-8 2-9 2-12 2-10 2-9 2-6 2-1 2 0 2 2 2-2 2 0 2 0 2-2 2-1 2 0 2-3 2-2 2 2 2-2 2-2 2-4 2-1 2-5 2 1 2 0 2-6 2-2 2 2 2-3 2 5 2-3 2-1 2-2 2 4 2 0 2 1 2 2 2-2 2 5 2 2 2 2 2-2 2 5 2 0 2 2 2 3 2 6 2 2 2 4 2 1 2 6 2 0 2 4 2-2 2 5 2 2 2 2 2 3 2 4 2 1 2 0 2 1 2 3 2 0 2 2 2 0 2 4 2-6 2 4 2 2 2 0 2 0 2 2 2 0 2-1 2-1 2 4 2 1 2-2 2 1 2 4 2 3 2-1 2 2 2-2 2 5 2-3 2 5 2 2 2 3 2-1 2 5 2 0 2 0 2 3 2-2 2 5 2-1 2-2 2 7 2-4 2 1 2 1 2 0 2 1 2 0 2-2 2 1 2 0 2 1 2 0 2 0 2 2 2-3 2 3 2-2 2-1 2 1 2-5 2 2 2-3 2 2 2-2 2 0 2 2 2-1 2-1 2 1 2-1 2 4 2-6 2 0 2 1 2 1 2-1 2 2 2-2 2 2 2 0 2 1 2 0 2-1 2 0 2 0 2 1 2 3 2-3 2 5 2 0 2 0 2-1 2 2 2 3 2 1 2-2 2 3 2 3 2-1 2 2 2 0 2 1 2 0 2 0 2-1 2 2 2 2 2 1 2-1 2-2 2 3 2 0 2 0 2-3 2 5 2 0 2-2 2-1 2 2 2-3 2 2 2-2 2-1 2 2 2 2 2-2 2-2 2 0 2-2 2 0 2 3 2-2 2-3 2 1 2-1 2 0 2 0 2-3 2 2 2-1 2 0 2-1 2-1 2 3 2-3 2 3 2-1 2-4 2-1 2 3 2-4 2 2 2-2 2 3 2-1 2-3 2 2 2 2 2-3 2 2 2-3 2 0 2 1 2 0 2-1 2-3 2 5 2 2 2-4 2 3 2 0 2 0 2-3 2 0 2 4 2-2 2-1 2 0 2 5 2-3 2 1 2 2 2-1 2 3 2 0 2-4 2 1 2 4 2-3 2 2 2 4 2 0 2-1 2 0 2-1 2 1 2 0 2-1 2 0 2 5 2-4 2 0 2 1 2 2 2-3 2 1 2-1 2 0 2-2 2 6 2-2 2-3 2 2 2-4 2 1 2-1 2 0 2-2 2 5 2-6 2 2 2-1 2-1 2-1 2 1 2-3 2-2 2 2 2-1 2 0 2 0 2 0 2 2 2-2 2 2 2 0 2 1 2 1 2-2 2 2 2 4 2-3 2 1 2 1 2 3 2 1 2-2 2 2 2 1 2-6 2 5 2 2 2 0 2 0 2-1 2 3 2-1 2-1 2-1 2 0 2 3 2 2 2-2 2-1 2 2 2-3 2 3 2-5 2 1 2-1 2 0 2 0 2 1 2-3 2 2 2 1 2 2 2-2 2 0 2 2 2-3 2 2 2-2 2 0 2 3 2 0 2 1 2 2 2-2 2 1 2-2 2 3 2-1 2 1 2 1 2-2 2 4 2 4 2-3 2-1 2-2 2 0 2 3 2 2 2-2 2 0 2-2 2 1 2 0 2 0 2 2 2-1 2 0 2 1 2-1 2 0 2 0 2 1 2 1 2-2 2 5 2-3 2 1 2 0 2 2 2-1 2-3 2 1 2 0 2 1 2-4 2 1 2 3 2-4 2-1 2 3 2-3 2 1 2 4 2-4 2 2 2-1 2 1 2-1 2 1 2-2 2 0 2 0 2 0 2 1 2 1 2-2 2 1 2-1 2-2 2 3 2 1 2 0 2 0 2 0 2-1 2 1 2 2 2-5 2 0 2 2 2 0 2 0 2 0 2 4 2-3 2 3 2-1 2-1 2 4 2-2 2 0 2-1 2 0 2 3 2 1 2 0 2 1 2-2 2 2 2-5 2 5 2 0 2 2 2 0 2 0 2 2 2-3 2 2 2-1 2-1 2 3 2-2 2 1 2-2 2-1 2 1 2 2 2 2 2-5 2 1 2 3 2-5 2 2 2 1 2 0 2-3 2 2 2-2 2 2 2-1 2 0 2 0 2 3 2-4 2 0 2-2 2 0 2-1 2 2 2-1 2-3 2 2 2-2 2 1 2 0 2-1 2 4 2-8 2 2 2 3 2-7 2 3 2 0 2 0 2 0 2-2 2 1 2 0 2 0 2-1 2 1 2 1 2 1 2-1 2 1 2 1 2-2 2 3 2-1 2 3 2-1 2-3 2 2 2 0 2 2 2 0 2-2 2 0 2 2 2-2 2 1 2 0 2-2 2 1 2-1 2 1 2 0 2-2 2-1 2 2 2-1 2-2 2-1 2 1 2 0 2 2 2-2 2-1 2-1 2-1 2 2 2-2 2 2 2-1 2 2 2-5 2 3 2 3 2-3 2 4 2-6 2 3 2 1 2 0 2 2 2-2 2 2 2 2 2-5 2 4 2 0 2-1 2 3 2 0 2-2 2 1 2 0 2 0 2 0 2 2 2 0 2 0 2 0 2 2 2-2 2 0 2 0 2 2 2 0 2 1 2-1 2 4 2-3 2 1 2 2 2 1 2-2 2 1 2 1 2 1 2 0 2 1 2-5 2 1 2 1 2 0 2-3 2 5 2-4 2 1 2 4 2-3 2-4 2 4 2 0 2-4 2 1 2 2 2 0 2 0 2-1 2-4 2 2 2-4 2 4 2-1 2-1 2 2 2 0 2 0 2-2 2 0 2-1 2 3 2-1 2 0 2 0 2 0 2-2 2 2 2-3 2 1 2 3 2-2 2 1 2-4 2 3 2-2 2 1 2 0 2-2 2 2V1462" stroke="#A2142F"/><path d="M248 1494l2-4 2-3 2-3 2-2 2-4 2-3 2-2 2-4 2-1 2-3 2-1 2-4 2-2 2-2 2-2 2-4 2-2 2-2 2-3 2-1 2-2 2-2 2-3 2 0 2-2 2-2 2-2 2-1 2-2 2-2 2-2 2-3 2 0 2-2 2-1 2-2 2-2 2-2 2-2 2-2 2-1 2-2 2-1 2-2 2-2 2-2 2-1 2-2 2-2 2-2 2-2 2-2 2-2 2-2 2-2 2-2 2-3 2-2 2-2 2-2 2-3 2-1 2-2 2-2 2-3 2-4 2-1 2-1 2-5 2 1 2-3 2-3 2-3 2-2 2-2 2-1 2-2 2-4 2-1 2-3 2-2 2-3 2-3 2-1 2-2 2-3 2-2 2-3 2-2 2-2 2-4 2-2 2-3 2-1 2-3 2-2 2-2 2-4 2-2 2-3 2-3 2-2 2-4 2-3 2-3 2-2 2-4 2-3 2-2 2-5 2-3 2-3 2-3 2-5 2-4 2-3 2-4 2-5 2-4 2-4 2-5 2-5 2-4 2-5 2-6 2-4 2-6 2-4 2-5 2-5 2-5 2-6 2-5 2-3 2-6 2-5 2-5 2-5 2-3 2-7 2-4 2-4 2-6 2-5 2-6 2-4 2-6 2-7 2-7 2-7 2-8 2-7 2-9 2-7 2-8 2-10 2-9 2-8 2-11 2-9 2-8 2-1 2 0 2 1 2 1 2-2 2 2 2-2 2 1 2 0 2-2 2-1 2 0 2-3 2-2 2-5 2 2 2-2 2-2 2-1 2-2 2 0 2-8 2 4 2-6 2 2 2 2 2-3 2 1 2 1 2-3 2 4 2-1 2 4 2-1 2-5 2 7 2-1 2 5 2 3 2 6 2 1 2 0 2 3 2 6 2-2 2 5 2 1 2 5 2 1 2 5 2 3 2 5 2 1 2 2 2 4 2 0 2 2 2 7 2-1 2 1 2-1 2 3 2 3 2 3 2-1 2 4 2-2 2 2 2 0 2 1 2 4 2-2 2 1 2 1 2-1 2 4 2-1 2 0 2 1 2-1 2 1 2 0 2 1 2-1 2-3 2-2 2 1 2 6 2-4 2 1 2 2 2-3 2 3 2-1 2-1 2 0 2-3 2 2 2 0 2-1 2 1 2 0 2-3 2 4 2-2 2 0 2-2 2 2 2 0 2 2 2-1 2 4 2-5 2 1 2-1 2 4 2-3 2 2 2 3 2 1 2 0 2 0 2-1 2-1 2 3 2 0 2 0 2 0 2 2 2-1 2 2 2-4 2-1 2 4 2 1 2 2 2 1 2-1 2 2 2-2 2 3 2 0 2 0 2-2 2 4 2 1 2-1 2-4 2 4 2 3 2 1 2-1 2 1 2 0 2 4 2-1 2 2 2-2 2 1 2 1 2-2 2 0 2 5 2-4 2 3 2-1 2 2 2 0 2-2 2 5 2-2 2-2 2 1 2 1 2 0 2 1 2-3 2 2 2 1 2-3 2 0 2 5 2-3 2 1 2 1 2-2 2 2 2 1 2-2 2-1 2 3 2-4 2 3 2 2 2-2 2-1 2-1 2-3 2 5 2-1 2 0 2 3 2-2 2-3 2 1 2 1 2-2 2 2 2-1 2-3 2 1 2 1 2-3 2-1 2 1 2-3 2 1 2-2 2 4 2 0 2-2 2 2 2 0 2-3 2 4 2-1 2 3 2-2 2 2 2 3 2-2 2-2 2 4 2 0 2 3 2-2 2 1 2 2 2 4 2-4 2 3 2-2 2 3 2-4 2 3 2 1 2-5 2 4 2 2 2 0 2-4 2 0 2 4 2-2 2 0 2 2 2-2 2 2 2-2 2 1 2-1 2 1 2 2 2-1 2-3 2-1 2 3 2-2 2 1 2 0 2 1 2 0 2-3 2 1 2 4 2-2 2 1 2-4 2 7 2-4 2-2 2 3 2-3 2 0 2 2 2-5 2 5 2-4 2 5 2-5 2 1 2-1 2 1 2-5 2 3 2 1 2-5 2 4 2 1 2-3 2 0 2-2 2 1 2 3 2-2 2 1 2 0 2 0 2-2 2 9 2-3 2-1 2 3 2-3 2 5 2 2 2 0 2-2 2 4 2-3 2 4 2 2 2-2 2 1 2 1 2 0 2 3 2 2 2-6 2 2 2-1 2 1 2 0 2 0 2 0 2 2 2-2 2 1 2 0 2 0 2 3 2-4 2 2 2 1 2-2 2 0 2-1 2 1 2 2 2-2 2 3 2 0 2 3 2-5 2-1 2-2 2 4 2 0 2 4 2-4 2-2 2 4 2-4 2 3 2-2 2-2 2 2 2-4 2 5 2-4 2-2 2 5 2 0 2-2 2 2 2 0 2-3 2 2 2 2 2-4 2 1 2 4 2-3 2 1 2 0 2 0 2 3 2-3 2 0 2 0 2-3 2 4 2 1 2-4 2 1 2-2 2 2 2 1 2-2 2 3 2-4 2 5 2-6 2 4 2 2 2-3 2 2 2-2 2-1 2-2 2 1 2 0 2 0 2-4 2 2 2-3 2 4 2-3 2 0 2-1 2 2 2 0 2-1 2 0 2-2 2 1 2 3 2 2 2-4 2 0 2 2 2-4 2 1 2 2 2-1 2 3 2-1 2 0 2 3 2-2 2 3 2-1 2 0 2 0 2 0 2 1 2 2 2 0 2-1 2 1 2 1 2-2 2 1 2 0 2 1 2-1 2-2 2 5 2-3 2 0 2 2 2 1 2 0 2-2 2-2 2 0 2 3 2-3 2 1 2 3 2-5 2 3 2 1 2-1 2 1 2-3 2 0 2-1 2-1 2 3 2-1 2-1 2-2 2 1 2 0 2 1 2-5 2 2 2 1 2-2 2 1 2-3 2-1 2 2 2 0 2 0 2 2 2-3 2-1 2 2 2 0 2-1 2 1 2 1 2-2 2 0 2 2 2-1 2 1 2-1 2 1 2 1 2-3 2 3 2 1 2-3 2 4 2-1 2 0 2-1 2-1 2 0 2 3 2 0 2-3 2 3 2-2 2 0 2-1 2-2 2 1 2 4 2-3 2-3 2 2 2 0 2-1 2-2 2 1 2-2 2-2 2 2 2-3 2-1 2 0 2-2 2 0 2-1 2 4 2-2 2-1 2 0 2 4 2-3 2 1 2-4 2 2 2 4 2-2 2 1 2 1 2 1 2 1 2 1 2 3 2-3 2 3 2-1 2 1 2 4 2-2 2 2 2 1 2-2 2 3 2 0 2-2 2 3 2-1 2 1 2 0 2 0 2-2 2 2 2 2 2-4 2-5 2 3 2-1 2-1 2-4 2 6 2-5 2-1 2-1 2 0 2 0 2-3 2-1 2 2 2-4 2 0 2-1 2-1 2 1 2 1 2 0 2-2 2-1 2 4 2-1 2 1 2-1 2-2 2 3 2 2 2 2 2-4 2 2 2 1 2 0 2 3 2-2 2 2 2 0 2-3 2 3 2 2 2-3 2 6 2-6 2 3 2 0 2 1 2 1 2-3 2 2 2-6 2 6 1 2V1462" stroke="#0072BD"/><path d="M248 1497l2-2 2-3 2-4 2-2 2-3 2-3 2-2 2-2 2-3 2-2 2-3 2-4 2-1 2-3 2-2 2-2 2-2 2-2 2-3 2-3 2-2 2-3 2-2 2-3 2-2 2-3 2-2 2-3 2-1 2-4 2-2 2-1 2-3 2-1 2-3 2-3 2-3 2 0 2-3 2-2 2-2 2-2 2-3 2-2 2-1 2-4 2-2 2-1 2-3 2-3 2-2 2-1 2-2 2-4 2 0 2-4 2-1 2-2 2-3 2-2 2-2 2-2 2-3 2-3 2-1 2-2 2-3 2-3 2-3 2-3 2-1 2-4 2-3 2-3 2-2 2-2 2-1 2-5 2-2 2-2 2-2 2-3 2-2 2-3 2-3 2-3 2-3 2-3 2-3 2-3 2-3 2-3 2-3 2-3 2-3 2-4 2-3 2-4 2-2 2-4 2-2 2-4 2-3 2-4 2-2 2-4 2-3 2-3 2-3 2-4 2-2 2-4 2-3 2-2 2-5 2-2 2-3 2-3 2-3 2-3 2-3 2-3 2-3 2-2 2-3 2-3 2-3 2-2 2-3 2-2 2-3 2-3 2-3 2-3 2-3 2-3 2-3 2-3 2-4 2-4 2-3 2-3 2-4 2-3 2-4 2-3 2-5 2-2 2-5 2-5 2-5 2-4 2-4 2-6 2-6 2-5 2-5 2-6 2-5 2-4 2-7 2-5 2-7 2-8 2-7 2 1 2 0 2 1 2-2 2 0 2 0 2 0 2-2 2 1 2-2 2-1 2-1 2-1 2 2 2-2 2 1 2-1 2 3 2-2 2 5 2-3 2 1 2 1 2 2 2 2 2 1 2 4 2 3 2 0 2 3 2 1 2 6 2 1 2 2 2 3 2 2 2 2 2 1 2 3 2 3 2 2 2 2 2 3 2 4 2 0 2 3 2 2 2 4 2 1 2 3 2 1 2 2 2 2 2 4 2-1 2 2 2 1 2 2 2 1 2 0 2 0 2 0 2 1 2 0 2 1 2 1 2-1 2-2 2 3 2-2 2-3 2 0 2 1 2 1 2-4 2 1 2 0 2-1 2 2 2-1 2 1 2 0 2 1 2-1 2 1 2 0 2 0 2-1 2 3 2-3 2-1 2 4 2-1 2-2 2 0 2 0 2 1 2-2 2 1 2 1 2-1 2 2 2-3 2 1 2 1 2 0 2 2 2 0 2-1 2-1 2 2 2 0 2-1 2 0 2 3 2-1 2 0 2 1 2 2 2-1 2 4 2 0 2 1 2 1 2 3 2 0 2 1 2 2 2 0 2 0 2 1 2-1 2 0 2 1 2 1 2 1 2 1 2 2 2 1 2-1 2 0 2 2 2 1 2 0 2 2 2 0 2 2 2 0 2 1 2 0 2 1 2 1 2 1 2-1 2 1 2 1 2 1 2-1 2 1 2 0 2-2 2 3 2-1 2-1 2-1 2 2 2-1 2-1 2-1 2 0 2 0 2-4 2 0 2-1 2 0 2-1 2-1 2-2 2-1 2 1 2-2 2-2 2 1 2-1 2 0 2-3 2 1 2 1 2-1 2-1 2 1 2 2 2-1 2 0 2 0 2 1 2-1 2 0 2 2 2 0 2-1 2 1 2 2 2-1 2 1 2 1 2 1 2 1 2 0 2 1 2 0 2 1 2-1 2 1 2 0 2 2 2 0 2 1 2-2 2 4 2 1 2 1 2-1 2 1 2 1 2 3 2 2 2 2 2 0 2 1 2 2 2-1 2 2 2 2 2 0 2 0 2 3 2 0 2 0 2 1 2-1 2 1 2 2 2 0 2-2 2 2 2-2 2 1 2 0 2 1 2 0 2-1 2-1 2 1 2 2 2 0 2-1 2 1 2-1 2-3 2 0 2 0 2 0 2 0 2-2 2 0 2 1 2-5 2-2 2 1 2-2 2-3 2 1 2-3 2-1 2-2 2-2 2-1 2 0 2-4 2 1 2-1 2-3 2-2 2 3 2-2 2-2 2 0 2-1 2 0 2-1 2 1 2 0 2 0 2 0 2 1 2-1 2 0 2 1 2-1 2-1 2 0 2 2 2-1 2 1 2 1 2-3 2 5 2-1 2 4 2 0 2 2 2 2 2 1 2 1 2 2 2 2 2-1 2 2 2 0 2 0 2 3 2-1 2-1 2 1 2-1 2 2 2 0 2 2 2 0 2 0 2-1 2 2 2-2 2 2 2 1 2-1 2 0 2 0 2 0 2 0 2 1 2 1 2 1 2-1 2 0 2-2 2 0 2 3 2-3 2 0 2 0 2 2 2-2 2 0 2 1 2 0 2 0 2 0 2 1 2 0 2-1 2 0 2-1 2 1 2 1 2-2 2 0 2-2 2 0 2 2 2 1 2-3 2 1 2-2 2 0 2 2 2-4 2 0 2 1 2 0 2-4 2 1 2 0 2 0 2-1 2 0 2 0 2-1 2 0 2 0 2 2 2-3 2 3 2-3 2 2 2 1 2-1 2-2 2 1 2-2 2 2 2 1 2 2 2-3 2 2 2-1 2 1 2-2 2-1 2 2 2-3 2 1 2-2 2-1 2 1 2 0 2 0 2-1 2 0 2 1 2-2 2 2 2-1 2 2 2 1 2-1 2 1 2 3 2 0 2-1 2-1 2-1 2 1 2 0 2 2 2-1 2 0 2-1 2 1 2-3 2 3 2-1 2-2 2 3 2-1 2 0 2 1 2-1 2-1 2 0 2 0 2 0 2-3 2 1 2 0 2 0 2 0 2 2 2 0 2-2 2-1 2 2 2 1 2 0 2-1 2 0 2 1 2 1 2-1 2 3 2 0 2-2 2 2 2 3 2-2 2 2 2-1 2 0 2 1 2 0 2 1 2 1 2 2 2 0 2 2 2-3 2 4 2 2 2-1 2 4 2 1 2 1 2 0 2 2 2 2 2 1 2 0 2 0 2 1 2-1 2 1 2 0 2 2 2-1 2 0 2-1 2 1 2 2 2 0 2 0 2-1 2-1 2 1 2 2 2-3 2 1 2 2 2-3 2 2 2-1 2-2 2 0 2 0 2-2 2-1 2 2 2-3 2-2 2 0 2-2 2 2 2-4 2 0 2 0 2-2 2 1 2-2 2-2 2 0 2-1 2-2 2 1 2 1 2-7 2 1 2 1 2-1 2 0 2 0 2-1 2 0 2-2 2 2 2 0 2 0 2-1 2-1 2 1 2 3 2-2 2 1 2 1 2-3 2 2 2-1 2 0 2 2 2-2 2 1 2-2 2 0 2 1 2-1 2 1 2 1 2-2 2 0 2 1 2 0 2 1 2-1 2 0 2-2 2 3 2-1 2-1 2 1 2 0 2 1 2 1 2 2 2 0 2 1 2 0 2 1 2 3 2-1 2-2 2 1 2 3 2-1 2 0 2 0 2 0 2 1 2 2 2 1 2-2 2 1 2 0 2-1 2 2 2 0 2 2 2-1 2 2 2 1 2 1 2 2 2 1" stroke="#EDB120"/><path d="M248 1500l2-2 2-2 2-2 2-4 2-2 2-2 2-2 2-3 2-3 2-3 2-2 2-2 2-2 2-3 2-3 2-3 2-2 2-3 2-2 2-2 2-2 2-2 2-4 2-1 2-2 2-3 2-1 2-3 2-1 2-3 2-2 2-2 2-3 2-3 2-1 2-3 2-1 2-3 2-2 2-3 2-2 2-2 2-2 2-3 2-2 2-2 2-3 2-3 2-1 2-2 2-2 2-3 2-1 2-2 2-3 2-2 2-1 2-3 2-3 2-1 2-3 2-1 2-3 2-3 2-2 2-3 2-1 2-3 2-2 2-3 2-2 2-1 2-4 2-2 2-3 2-2 2-3 2-3 2-2 2-2 2-3 2-4 2-3 2-3 2-3 2-1 2-3 2-4 2-2 2-3 2-3 2-2 2-2 2-4 2-4 2-1 2-4 2-3 2-3 2-4 2-3 2-2 2-4 2-3 2-3 2-4 2-3 2-3 2-4 2-4 2-3 2-2 2-5 2-3 2-3 2-3 2-3 2-4 2-1 2-4 2-4 2-2 2-4 2-1 2-4 2-2 2-2 2-4 2-2 2-2 2-3 2-2 2-4 2-2 2-1 2-3 2-3 2-3 2-3 2-3 2-4 2-3 2-3 2-3 2-4 2-3 2-5 2-4 2-4 2-4 2-3 2-5 2-5 2-5 2-5 2-4 2-6 2-6 2-6 2-5 2-5 2-6 2-6 2-4 2-4 2-1 2 1 2 0 2 1 2 0 2 1 2 0 2 1 2-1 2 3 2 1 2-1 2 1 2 2 2 1 2 1 2 1 2 2 2 1 2 0 2 4 2 2 2 0 2 4 2 0 2 2 2 3 2 2 2 3 2 2 2 2 2 1 2 3 2 2 2 3 2 1 2 3 2 0 2 4 2 2 2-1 2 1 2 1 2 1 2 3 2-3 2 3 2-2 2 3 2-1 2 0 2 1 2 1 2 3 2-2 2 1 2 1 2 0 2 1 2-1 2 1 2 1 2-1 2 1 2 1 2-1 2 3 2-2 2 2 2 1 2-3 2 3 2 2 2-1 2 0 2 3 2-1 2 1 2-2 2 2 2-1 2 2 2 0 2-1 2 2 2-1 2 1 2 0 2-1 2 3 2-1 2 2 2 3 2-2 2 2 2-1 2 2 2-2 2 3 2-2 2 0 2 1 2 0 2-2 2 0 2 3 2-2 2-1 2 1 2-2 2 3 2 2 2-2 2-1 2 1 2-1 2 0 2 1 2-2 2 1 2 0 2 2 2-2 2 0 2 3 2-1 2 3 2-3 2 1 2 2 2 0 2 0 2-2 2 1 2 0 2 1 2-1 2 1 2-3 2 2 2-2 2 2 2-2 2-1 2 0 2 1 2-3 2 3 2-5 2 2 2-2 2-1 2 1 2 2 2-1 2-1 2 2 2-1 2 1 2 2 2 0 2-2 2 1 2-1 2 1 2-2 2 1 2 2 2-1 2-2 2-1 2 2 2-3 2 2 2 0 2 1 2-1 2 1 2-1 2 2 2-1 2 3 2 1 2-1 2 5 2-1 2 1 2 1 2-1 2 2 2 3 2-2 2 1 2 3 2 1 2-3 2 3 2 1 2 2 2 0 2 0 2 2 2 2 2-1 2 2 2-1 2-1 2 3 2-2 2 2 2 1 2-1 2-1 2 1 2 2 2 0 2 1 2 1 2 1 2-1 2 3 2 1 2 0 2 3 2 0 2-1 2 3 2 2 2-1 2 0 2 2 2 0 2 1 2-1 2 0 2 2 2-2 2 0 2 1 2 0 2-3 2 4 2-1 2 0 2 2 2-2 2 2 2-1 2 1 2-1 2 1 2 1 2-3 2 0 2-1 2 0 2 0 2-1 2 2 2 0 2-1 2-2 2 1 2 0 2-2 2 2 2 0 2-2 2 2 2-1 2-2 2 0 2 1 2-2 2-2 2 1 2-1 2-2 2 1 2 0 2-2 2 0 2-1 2-1 2-2 2-1 2-1 2 0 2-1 2-2 2 1 2-2 2-1 2 0 2-1 2-2 2 0 2-1 2 0 2 0 2-1 2-1 2-1 2 0 2-1 2 2 2-2 2 0 2-1 2 1 2 0 2 1 2 0 2 2 2-2 2 0 2 2 2 0 2 1 2-2 2 1 2 3 2 1 2-2 2-1 2 2 2 1 2-1 2 5 2-1 2 0 2 0 2 0 2 1 2 1 2 2 2 0 2 2 2-2 2 0 2 3 2-2 2-1 2 1 2 3 2-1 2 2 2-1 2 1 2 1 2 2 2-1 2 1 2 2 2 3 2-2 2 1 2 0 2-2 2 3 2-1 2 0 2 2 2-1 2 1 2-1 2 2 2-1 2 0 2 1 2-2 2 1 2 1 2 0 2 1 2-1 2 0 2 0 2 2 2-1 2-1 2 0 2 1 2 0 2 0 2 0 2-2 2 3 2-2 2 3 2-2 2 1 2-1 2-3 2 1 2 0 2-2 2 1 2-2 2-1 2 0 2 0 2 0 2 0 2-1 2-1 2 1 2-1 2 1 2-3 2 1 2-1 2 0 2 2 2-4 2 0 2-1 2 1 2-1 2 2 2-2 2 0 2 0 2 0 2 2 2-1 2-1 2 3 2-1 2 0 2-1 2 2 2-2 2 0 2 1 2-1 2 1 2-2 2 0 2-1 2 2 2-4 2 1 2-1 2-1 2 1 2-1 2 0 2 0 2-2 2 3 2-4 2 1 2 2 2-1 2-1 2 1 2 2 2 0 2 0 2 2 2-1 2 0 2 4 2-2 2 1 2 2 2 0 2 1 2 1 2-2 2 3 2-1 2 1 2-1 2 2 2 0 2-3 2 3 2 0 2 0 2 2 2 0 2 2 2-1 2 0 2 1 2-1 2 1 2 0 2 1 2 0 2 3 2 1 2 0 2 1 2 0 2 0 2 3 2-1 2 1 2-2 2 2 2 0 2-1 2 1 2-2 2 0 2 0 2 0 2-2 2 1 2-1 2 0 2 1 2-2 2 2 2-1 2 1 2 1 2-1 2 2 2-1 2 1 2-2 2-1 2 0 2 0 2-1 2-1 2-2 2 0 2 0 2-2 2-1 2 0 2 1 2-3 2 2 2 0 2-2 2 1 2 0 2-1 2 2 2-1 2-1 2 2 2-1 2 2 2-1 2 0 2 2 2-2 2 3 2 0 2-1 2 1 2-2 2 3 2-4 2 3 2-2 2 0 2 0 2 2 2-1 2 0 2-1 2-1 2 3 2-4 2 2 2 0 2 1 2 0 2 0 2 0 2 2 2-4 2 0 2 1 2-1 2-1 2 1 2 2 2-3 2 2 2-1 2-1 2 0 2 0 2 1 2 0 2 2 2-2 2 1 2 1 2 2 2-1 2-1 2 3 2 0 2 0 2 1 2-1 2 1 2 1 2-1 2 1 2-2 2 1 2-1 2 3 2 1 2 1 1 1V1462" stroke="#D95319"/><path d="M248 1500l2 0 2 0 2 0 2 0 2 0 2-1 2-4 2-3 2-1 2-3 2-2 2-2 2-3 2-2 2-4 2-1 2-2 2-3 2-3 2-2 2-2 2-3 2-2 2-2 2-4 2-2 2-2 2-2 2-3 2-3 2-2 2-3 2-2 2-2 2-3 2-3 2-1 2-2 2-1 2-2 2-3 2-1 2-2 2-2 2-2 2-2 2 0 2-3 2-2 2-2 2-1 2-1 2-3 2-2 2-2 2-3 2-1 2-2 2-2 2-2 2-3 2-3 2-1 2-3 2-2 2-2 2-3 2-1 2-4 2-1 2-2 2-3 2-1 2-3 2-1 2-3 2-2 2-4 2-1 2-3 2-3 2-2 2-3 2-3 2-2 2-3 2-2 2-2 2-4 2-2 2-3 2-2 2-2 2-2 2-3 2-3 2-2 2-3 2-2 2-2 2-3 2-2 2-2 2-4 2-3 2-1 2-4 2-2 2-3 2-2 2-1 2-3 2-3 2-2 2-4 2-1 2-4 2-2 2-3 2-1 2-2 2-4 2-1 2-3 2-3 2 0 2-3 2-2 2-4 2-2 2-1 2-4 2-3 2-2 2-3 2-3 2-3 2-3 2-3 2-3 2-3 2-1 2-2 2-3 2-3 2-2 2-1 2-3 2-2 2-3 2-2 2-4 2-3 2-3 2-3 2-5 2-4 2-6 2-4 2-7 2-5 2-8 2-5 2-5 2-1 2 0 2 0 2 1 2 1 2 1 2 3 2 1 2 1 2 2 2 3 2 0 2 4 2 0 2 2 2 2 2 1 2 4 2 2 2 2 2 3 2 2 2 3 2 2 2 2 2 3 2 3 2 3 2 1 2 2 2 4 2 0 2 3 2 1 2 3 2 2 2 1 2 1 2 4 2 2 2 0 2 2 2 1 2 2 2 1 2 2 2 2 2 1 2 1 2 0 2 1 2 0 2 2 2-1 2 3 2 1 2 0 2 1 2-1 2 3 2-1 2 1 2-1 2 4 2-2 2 0 2 0 2 2 2 0 2 1 2 0 2 0 2 2 2-2 2 3 2-1 2 2 2 1 2 1 2 0 2 1 2 0 2 0 2 0 2 0 2 1 2 0 2-1 2 0 2 1 2 1 2 0 2 0 2-1 2 2 2 0 2-2 2 1 2 1 2 0 2 1 2 0 2-2 2 2 2 0 2 1 2 0 2 0 2-1 2 3 2-1 2 0 2 1 2-1 2 1 2-1 2 0 2-1 2 1 2-1 2-1 2 0 2-1 2 1 2-2 2 0 2 1 2 0 2-2 2 0 2 0 2-1 2 0 2 0 2 0 2 0 2 0 2-2 2 0 2 0 2-1 2 1 2-2 2 0 2 0 2 0 2 2 2-1 2-1 2 1 2-2 2 3 2-1 2 2 2-1 2 0 2 2 2-1 2 2 2 0 2 1 2 0 2-1 2 1 2 0 2-2 2 3 2-2 2-1 2 1 2-1 2-1 2 1 2 2 2-2 2 0 2 1 2 0 2 0 2 0 2-1 2 2 2 0 2-1 2 1 2 0 2 0 2 1 2 0 2 0 2 2 2-3 2 1 2 1 2 0 2 0 2 0 2 1 2 0 2 0 2 1 2 1 2 0 2 0 2 3 2 0 2 0 2 1 2 1 2 0 2 1 2-1 2 1 2 0 2 1 2 0 2 0 2-1 2 0 2 2 2-1 2-1 2 2 2-1 2 1 2-1 2 2 2 0 2 0 2 2 2 0 2 0 2-1 2 0 2 2 2-1 2 0 2 1 2 1 2-1 2 1 2 1 2-2 2 2 2 0 2 0 2 1 2 2 2-1 2 1 2-2 2 2 2 0 2 0 2 2 2 0 2 0 2 0 2 0 2 0 2 1 2 0 2 1 2 0 2 1 2 0 2 1 2 0 2 1 2 2 2 2 2-2 2 0 2-1 2 2 2 2 2-1 2 1 2 0 2 0 2 2 2 0 2-2 2 3 2-1 2 2 2 0 2-1 2 1 2-1 2-1 2 1 2 1 2-2 2 0 2-1 2 0 2-2 2 2 2-1 2 0 2-1 2 0 2-1 2 0 2-2 2 2 2-1 2-1 2-1 2 0 2 1 2 0 2-1 2-1 2 2 2 1 2-1 2 2 2-2 2 1 2 1 2 0 2-1 2 1 2-1 2-1 2-1 2 2 2-2 2 1 2-1 2 2 2-2 2 1 2-2 2 1 2-1 2 4 2-2 2 0 2 0 2 0 2 0 2 0 2 0 2-1 2-1 2 0 2 0 2 1 2 0 2 0 2 0 2 0 2 1 2-2 2 2 2-4 2 3 2 0 2 1 2-1 2 0 2-1 2 0 2 0 2 1 2-2 2 3 2-1 2-1 2 1 2 0 2-1 2 3 2-1 2 1 2 0 2 0 2 1 2 1 2 0 2 0 2 2 2 1 2 4 2 0 2 1 2 3 2 1 2 2 2 0 2 2 2 1 2 0 2 0 2 0 2 1 2-2 2 1 2-1 2-1 2 0 2 0 2 1 2 1 2-2 2 0 2 1 2 1 2 0 2-2 2 3 2-1 2 1 2 0 2 1 2 0 2-1 2 2 2 1 2-2 2 1 2 1 2 1 2 0 2 0 2 1 2-1 2 2 2 1 2-1 2 0 2-1 2 2 2 1 2 0 2-1 2 0 2 0 2 1 2-1 2 0 2 1 2-1 2 2 2-1 2-1 2 0 2 0 2 1 2 1 2 0 2 0 2-1 2 1 2-2 2 1 2 3 2-1 2-2 2 1 2 1 2 0 2 0 2-2 2 1 2 0 2-1 2 0 2-1 2-2 2-2 2 3 2-3 2 1 2-1 2 0 2 0 2 0 2-1 2-1 2 1 2-1 2-2 2 0 2-1 2 0 2 1 2-1 2-1 2 0 2 0 2-1 2-1 2 2 2-2 2 1 2 2 2-2 2 1 2 2 2-1 2-1 2 1 2 1 2 0 2-2 2 1 2-1 2 1 2-2 2 2 2 0 2-3 2 1 2-1 2 1 2 0 2-1 2 0 2 0 2-1 2 1 2 0 2-2 2 0 2 0 2 0 2-1 2 0 2-1 2-3 2 2 2 0 2-1 2 2 2 0 2-1 2 0 2 0 2-1 2 0 2 0 2-1 2 1 2 0 2-1 2 2 2-1 2-1 2 1 2-1 2 0 2 1 2-1 2-1 2 1 2-1 2-2 2 2 2 0 2-1 2 1 2 0 2 0 2-2 2 2 2 0 2-2 2 2 2-3 2 3 2-3 2 1 2-2 2 0 2-1 2 1 2 0 2 0 2 0 2 0 2-1 2-1 2-1 2 1 2 0 2 1 2 1 2-2 2 0 2 2 2 1 2-1 2 1 2-1V1462" stroke="#0072BD"/></g><text x="237.0" y="1529" font-family="'DejaVu Sans', 'Liberation Sans', sans-serif" font-size="52.4" fill="#262626" text-anchor="middle">0</text><text x="785.0" y="1529" font-family="'DejaVu Sans', 'Liberation Sans', sans-serif" font-size="52.4" fill="#262626" text-anchor="middle">5</text><text x="1333.0" y="1529" font-family="'DejaVu Sans', 'Liberation Sans', sans-serif" font-size="52.4" fill="#262626" text-anchor="middle">10</text><text x="1881.0" y="1529" font-family="'DejaVu Sans', 'Liberation Sans', sans-serif" font-size="52.4" fill="#262626" text-anchor="middle">15</text><text x="186.5" y="1095.3" font-family="'DejaVu Sans', 'Liberation Sans', sans-serif" font-size="52.4" fill="#262626" text-anchor="end">10</text><text x="187.5" y="1069.5" font-family="'DejaVu Sans', 'Liberation Sans', sans-serif" font-size="42.5" fill="#262626">3</text><text x="186.5" y="352.3" font-family="'DejaVu Sans', 'Liberation Sans', sans-serif" font-size="52.4" fill="#262626" text-anchor="end">10</text><text x="187.5" y="326.5" font-family="'DejaVu Sans', 'Liberation Sans', sans-serif" font-size="42.5" fill="#262626">4</text><text x="1098" y="1602" font-family="'DejaVu Sans', 'Liberation Sans', sans-serif" font-size="57.6" fill="#262626" text-anchor="middle" letter-spacing="1">Time (s)</text><text transform="translate(89.5 780.5) rotate(-90)" font-family="'DejaVu Sans', 'Liberation Sans', sans-serif" font-size="57.6" fill="#262626" text-anchor="middle" letter-spacing="0.6">Rate (Hz)</text><text x="1096.5" y="84" font-family="'DejaVu Sans', 'Liberation Sans', sans-serif" font-size="57.6" font-weight="bold" fill="#000" text-anchor="middle" letter-spacing="0.43">s: 58247, ch 1:64, w 1000 ts</text><text x="815" y="1218" font-family="'DejaVu Sans', 'Liberation Sans', sans-serif" font-size="52.4" font-weight="bold" fill="#000">ch1</text><text x="893" y="1051" font-family="'DejaVu Sans', 'Liberation Sans', sans-serif" font-size="52.4" font-weight="bold" fill="#000">ch8</text><text x="985" y="950" font-family="'DejaVu Sans', 'Liberation Sans', sans-serif" font-size="52.4" font-weight="bold" fill="#000">ch16</text><text x="1108" y="912" font-family="'DejaVu Sans', 'Liberation Sans', sans-serif" font-size="52.4" font-weight="bold" fill="#000">ch24</text><text x="1220" y="836" font-family="'DejaVu Sans', 'Liberation Sans', sans-serif" font-size="52.4" font-weight="bold" fill="#000">ch32</text><text x="1303" y="328" font-family="'DejaVu Sans', 'Liberation Sans', sans-serif" font-size="52.4" font-weight="bold" fill="#000">ch40</text><text x="1440" y="303" font-family="'DejaVu Sans', 'Liberation Sans', sans-serif" font-size="52.4" font-weight="bold" fill="#000">ch48</text><text x="1550" y="390" font-family="'DejaVu Sans', 'Liberation Sans', sans-serif" font-size="52.4" font-weight="bold" fill="#000">ch56</text><text x="1650" y="532" font-family="'DejaVu Sans', 'Liberation Sans', sans-serif" font-size="52.4" font-weight="bold" fill="#000">ch64</text></svg></body></html>
